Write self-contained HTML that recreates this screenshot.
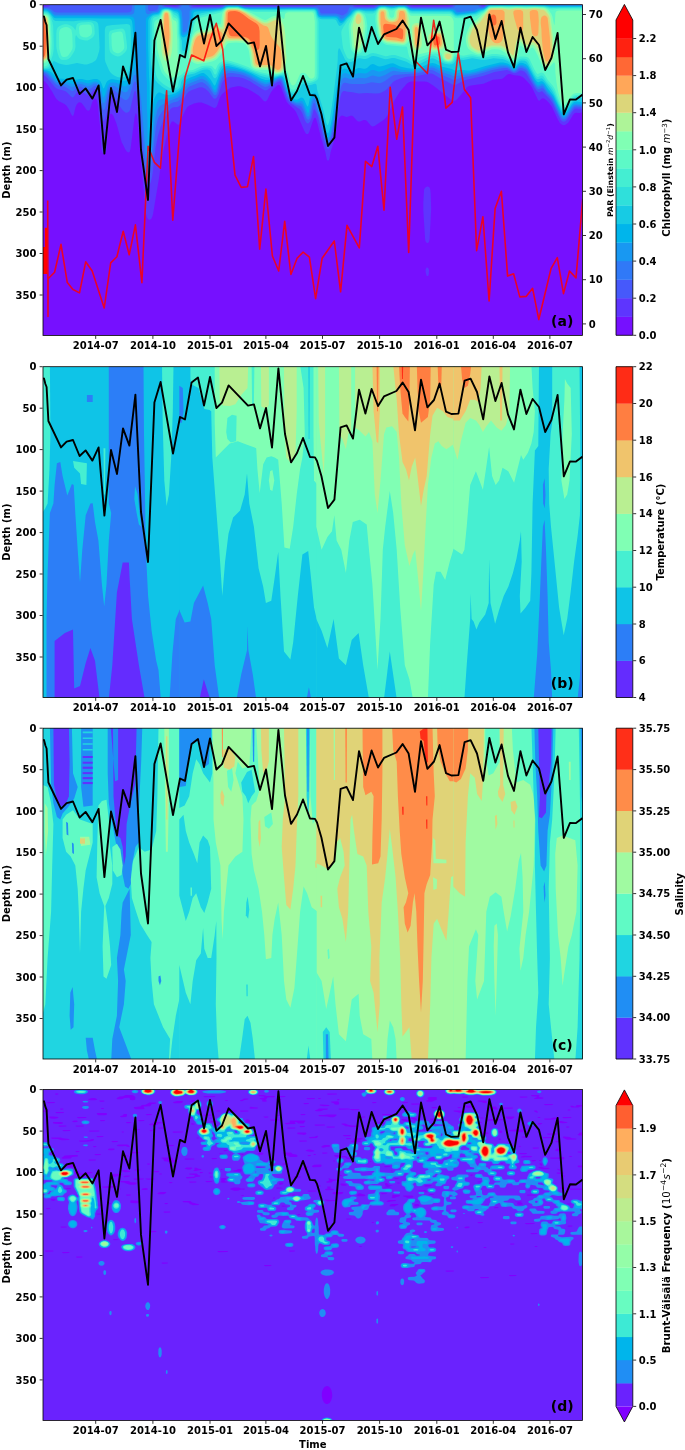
<!DOCTYPE html>
<html><head><meta charset="utf-8"><title>Figure</title>
<style>html,body{margin:0;padding:0;background:#fff}svg{display:block}text{font-family:"DejaVu Sans","Liberation Sans",sans-serif;font-weight:bold;fill:#000}</style></head>
<body>
<svg width="685" height="1450" viewBox="0 0 685 1450">
<rect width="685" height="1450" fill="#fff"/>
<defs>
<clipPath id="cpa"><rect x="43.0" y="4.7" width="539.6" height="330.8"/></clipPath>
<clipPath id="cpb"><rect x="43.0" y="366.7" width="539.6" height="330.8"/></clipPath>
<clipPath id="cpc"><rect x="43.0" y="728.2" width="539.6" height="330.8"/></clipPath>
<clipPath id="cpd"><rect x="43.0" y="1089.6" width="539.6" height="330.8"/></clipPath>
</defs>
<g clip-path="url(#cpa)" shape-rendering="geometricPrecision">
<rect x="43.0" y="4.7" width="539.6" height="330.8" fill="#7610ff"/>
<path d="M149.5,219.7L148.1,219.2L147.1,217.7L146,213.7L145.3,210.2L144.1,193.7L141.3,166.2L138,124.3L137.2,117.2L136.5,114L136,113.2L135.5,113.6L134.5,117.6L130.5,149.2L129.7,151.7L128.5,152.4L127,151.7L125.8,150.2L121.7,142.2L116.5,123.7L113.5,115.9L112,113.9L111,113.7L110,114.5L109.2,116.7L108.6,120.7L107.8,129.7L107.1,144.2L106.5,150.2L105.9,152.2L105,153.7L104,154.1L103,153.6L101.9,151.7L101.4,149.2L100.1,126.2L99.3,120.2L98,106L97.2,101.2L96.5,99.2L96,98.7L95,98.4L93.4,99.7L92.2,102.2L90.1,109.2L89.5,110.2L88.5,110.8L87.5,110.6L86.5,109.8L83,104.7L81.5,103L80,102.2L78.5,102.5L77,104.1L75.9,106.2L75.1,108.7L73.9,114.2L73.2,115.7L72.5,116L71.5,114.8L68.9,109.2L66.6,105.7L64.5,103.9L59,101.2L56.6,99.2L55.2,97.2L51.9,91.2L47.5,84.5L45.1,81.7L43,80.2L42.6,68.2L42.6,38.2L42.6,11.2L43,5.4L46,5.2L47.1,4.7L54.5,4.5L161,4.4L174,5.4L176,5.2L177,4.7L179,4.5L187,4.4L193.1,4.7L195,5.3L198.5,5.4L218.5,5.3L220.5,5.2L222.4,4.7L229.5,4.4L239.5,4.5L248,4.9L279,4.9L311,4.9L320,4.5L350.5,4.4L355.3,4.7L357,5.3L365.5,5.4L373,5.3L375.6,4.7L382,4.5L405.5,4.5L409.4,4.7L411.5,5.3L414.5,5.4L448,5.4L450,5.2L451,4.7L457.5,4.4L477.5,4.4L483.5,4.7L491.5,4.4L582,4.4L582.3,4.7L582.4,93.2L582.3,105.2L582,112.6L579.5,113L576,112.7L574.5,113.2L573,114.9L568.6,122.2L567,123.8L565.5,124.8L564,125.3L562.5,125.1L561,124.1L559.7,122.7L557.7,119.2L552,107.1L549.5,103.5L547,100.8L544.5,98.8L543,98.2L541.5,98.7L539.5,100.7L538.5,100.4L537.5,98.9L532,87.5L530,84.4L524,78.1L522,76.7L519.5,75.7L514,75.3L510,74L508.5,73.9L507,74.7L503.5,78.1L501.5,79.1L493,79.8L483.5,83.7L471,85.4L469,85.9L467.5,86.7L466.4,87.7L461,94.7L457,99.2L455.5,100.5L454,101L452.5,100.7L451,99.7L444,93.9L433.5,85.7L428.5,82.4L426.5,81.7L424.5,81.5L411,81.6L409,82.2L407,83.6L399.8,91.7L393.7,101.7L387.5,115.2L386,117.7L383.5,119.9L374.5,125.9L372.5,126.4L371,125.8L367,121.1L366,120.3L365,119.9L363.5,120L360,121.5L358,121.4L356.5,120.3L353.5,116.8L352,115.8L350.5,115.8L347,117L345.5,116.8L343,115.7L342,115.6L341,115.9L340,116.7L339,118.2L338.3,120.2L334.9,137.7L330.6,152.2L329.5,158.3L329,159.8L328.5,160.6L328,160.8L327.2,160.2L326.6,158.7L325.4,152.2L321.2,138.2L317.5,123.4L316,118.7L315.5,117.9L315,117.7L314,118.6L313,120.8L309,132.4L308,133.9L307.5,134.1L306.5,133.9L305.5,132.9L304,130.2L295.9,111.7L293.6,108.7L288.2,103.7L286.4,101.2L281,87.3L279.5,85L278.5,84.8L277.5,85.2L273.5,88.8L271,92.3L267.1,100.2L266,101.3L265,101.5L263.5,100.8L260,96.8L258.2,95.2L251,90.7L248,89.1L242.5,86.9L240,86.3L237.5,86.3L232.5,87.2L230.5,87.8L228.5,88.9L223,93.2L221.5,94.7L220,97.3L216.9,106.2L215.5,107.8L214.5,108L213.5,107.8L207.5,104.7L201.5,102.5L198.5,102.4L194,103.6L189.5,105.4L188,106.5L186.9,107.7L185.4,110.2L181.9,117.2L180.9,119.7L180,123.2L179,124.7L178.5,124.8L177.5,124.5L173.5,121.5L172,121.6L171,122.7L170,125.2L166.6,136.2L163.4,150.2L160.9,164.2L158.9,178.7L153.1,213.7L152.3,216.7L151.6,218.2L150.5,219.4ZM428,242.9L427,242.9L426,242L425.4,240.7L425.1,238.7L423.3,210.2L423.3,202.7L424,190.2L424.4,188.7L425.2,187.7L426.5,186.8L427.5,186.6L428.5,186.7L429.3,187.2L429.9,188.2L430.3,189.7L430.7,193.7L431.2,208.7L429.6,239.2L429,241.7ZM428,275.9L427,275.9L426.5,275.4L425.7,272.2L425.6,270.2L425.8,268.7L426.4,267.7L427,267.4L428.1,267.7L429,269.7L428.9,273.7L428.5,275.2Z" fill="#5e35fe" fill-rule="evenodd"/>
<path d="M149,185.7L148.5,186.1L148,186L147,184.5L145.5,179.1L144.5,173.2L142.8,157.7L138.8,109.7L137.5,100.2L136,92.5L135.5,91.1L135,90.8L134.5,91.4L134,92.8L130.1,109.7L129,111.7L127.5,112.6L126,112.7L125,112.3L122.7,110.2L120.5,107.2L116.4,100.2L114,97.2L113,96.4L112,96L111.2,96.2L110.5,96.7L109.5,99L107.8,109.2L106,116L104.5,120.3L104,120.9L103.5,121L102.6,119.7L102,117.4L98.9,98.7L97.5,92.4L96.9,90.7L96,89.4L95,89.1L94,89.5L90.1,94.2L88.5,95L86.5,94.5L81.5,90.9L80,90.4L79,90.5L77,91.9L74,96.4L73.5,97L72.5,97.4L71,96.6L67.9,93.2L65.5,91.3L63.5,90.5L57.5,89L55,87.3L47,77.7L44.8,75.7L43,74.7L42.6,67.7L42.6,37.7L42.6,13.2L43,6.9L48.2,6.7L49.5,6.1L50.4,4.7L53.5,4.6L161,4.6L163.6,4.7L164.6,5.7L166,6.2L175,6.9L178,6.5L179,5.8L179.5,4.7L187.5,4.5L190.6,4.7L191.5,6.1L193,6.8L198,7L220,6.7L222,6.3L225.8,4.7L229,4.6L239.9,4.7L244,5.9L247,6.3L279,6.3L313.5,6.2L316.5,5.8L318,4.7L350.5,4.6L352.7,4.7L353.5,6.1L355,6.7L367.5,6.9L374,6.8L378.5,4.8L381.5,4.6L406.1,4.7L410.7,6.7L415.5,6.9L450,6.9L452.5,6.2L453.5,4.7L457,4.5L479.5,4.6L480.3,4.7L481,5.9L482.5,6.5L484.2,6.2L486.4,4.7L490,4.5L582.2,4.7L582.4,11.2L582.4,91.2L582,108.9L576.5,108.5L575.5,108.6L574.5,109.1L572.5,111.4L567.5,119.1L566,120.7L565,121.4L563.5,121.7L562.5,121.4L561.5,120.7L560.3,119.2L558.4,115.7L552.5,103.3L550,99.4L542.5,91.4L541.5,91.3L539,92.4L538,92L537,91.2L535,88.5L526.5,73.9L524.5,71.8L522.4,70.7L521,70.4L520,70.5L516.5,72.8L514.5,73.3L512.5,72.8L509,70.8L507,70.1L505,70.3L494.5,72.1L483,75.9L466.5,79.7L461.5,81.7L456.5,84.5L454.5,85L452.5,84.5L446.4,81.2L440.5,78.5L433,74.1L431,73.5L428.5,73.4L422,74.9L416.5,75.9L406.5,76.7L401,78.2L397,79.7L394.5,80.9L392.7,82.2L387.5,88.5L385.7,90.2L382.5,92L379.5,93.2L375.5,93.4L366.5,93L359,93.4L352.5,92.2L347.5,91.7L344.5,91.1L343.5,91.1L342.5,91.7L341.5,93.1L340.5,96.3L337.7,113.2L332.8,136.7L329.7,146.7L329,148.2L328,149.1L327.5,148.9L326.5,147.5L324.3,141.7L318,116.7L317,113.9L315,110L314.5,109.3L314,109.4L313.5,110.3L311.7,117.7L310,121.7L308.5,123.3L307.5,123.4L307,123.2L306,122.2L305.1,120.7L302,112.6L300.5,110L299.5,109.1L291,103.6L289.5,102.2L288.3,100.7L286.6,97.2L282,84.7L281,82.7L280,81.6L279,81.4L277.1,82.2L272.7,85.2L268,89.5L266.5,90.3L265,90.4L262.5,89.3L250.5,81.6L244,78.6L241.5,77.8L239,77.3L232,76.7L229,76.8L227,77.5L225.5,78.6L224,80.1L222.5,82.2L221.5,84.5L218.9,93.7L217.5,96.6L216,98.5L214.5,98.8L213.4,98.2L212,96.6L208.5,91.5L205,88.5L202,87.3L199,87.5L191.3,90.2L188.6,91.7L186.5,94.2L181.7,102.7L179.5,105.9L177.5,107.1L174,107.2L172.5,107.5L171,108.6L169.2,110.7L165.5,116.4L162.5,122.2L160.5,127.2L158,135.4L155.5,148.1L153.4,167.2L152.2,176.2L150.9,181.7L150,184Z" fill="#4659fb" fill-rule="evenodd"/>
<path d="M148.5,175L148,175L147.5,174.6L147,173.7L146.1,170.7L145.5,167.2L143.7,150.7L139.8,104.2L137.6,88.2L137,85.3L136,82.5L135,81.4L134.5,81.6L134,82.3L133,84.8L129.5,96.7L128,99L126.5,99.9L125,100L123,98.9L121.1,97.2L117.5,93.2L114.5,90.6L112.5,89.8L110.9,90.2L109.7,91.7L108.5,94.6L105.6,106.7L105,108.5L104,109.9L103.5,110L103,109.5L102,107.1L101,102.9L98.6,89.7L97.6,87.2L96.5,86L95.5,85.7L94,86L90,89.1L88,89.8L86.5,89.4L81.5,86.9L80,86.6L79,86.6L77,87.6L73.5,90.7L72,91L71,90.6L66,87.2L64,86.5L58,85.5L55.5,84.1L47.4,75.2L45.4,73.7L43,72.8L42.7,67.2L42.6,37.7L42.6,15.7L43,7.9L47.5,8L49.5,8.4L51,9.2L54,11.7L56.5,12.4L127.5,12.4L130,12.1L131.2,11.2L131.8,9.2L131.9,4.7L148.1,4.7L148.1,8.2L148.5,10.2L149,11L150,11.3L155.5,10.6L157,9.9L158,8.2L158.9,4.7L161.3,4.7L162.8,6.2L164.5,6.8L176,8L179,7.7L180.3,7.2L181.2,6.2L181.6,4.7L188.6,4.7L189,6.2L190,7.3L191.5,7.9L194,8L219,7.7L222,7.2L225.5,5.6L227,5.2L236.5,5L239.5,5.3L244.5,6.8L248,7.1L315.5,7.2L317.5,7.6L318.5,8.3L319.2,9.2L320.5,12.7L321.5,13.4L323.5,13.6L336,13.6L338,13.9L341.5,15.3L342.5,15.4L344.5,14.6L346.9,12.7L347.8,11.2L349,8.2L350,7L351,7L355,7.8L373,7.9L375,7.5L379,5.4L381.5,5.1L391.5,5.6L399.5,5.1L404,5.1L406.5,5.6L410.5,7.6L412.5,7.9L448,7.9L453.5,7.5L454.8,6.7L455.6,4.7L456.5,4.7L478.3,4.7L478.5,5.7L479.2,6.7L480.5,7.4L482,7.6L484.1,7.2L487.9,4.7L489.5,4.6L582,4.7L582.3,11.2L582.3,88.7L582,107.1L576.5,106.4L574.5,106.8L572.5,108.9L567,117.3L565.5,118.9L564.5,119.5L563.5,119.6L562.5,119.3L561,117.7L559.3,114.7L552,99.4L550.5,97.4L546.5,93.2L543.5,88.8L542,87.9L539.5,88.9L538.5,89.1L537.5,88.7L536.5,87.8L533.7,83.7L527.2,71.7L525.5,69.8L523,68.4L521,68L519.8,68.2L518.5,69L516,71.3L514,71.9L512.5,71.4L509,68.9L507,68.1L504,68L499,68.7L492.5,70L477.5,74.6L469.5,76.3L461.5,77.6L456.5,79.6L455,79.9L453,79.5L442,75.1L433.5,70.5L432,70.1L430,70.1L427.5,70.6L421.5,72.5L416,73.6L407,74L394,74.9L391.5,76.2L385,81.1L382,82.5L379.5,83.2L377.5,83.1L372,82.2L364,83.9L352.5,84L349.5,83.8L345.5,82.8L344.5,82.8L343.5,83.1L342.5,84.1L341.5,86.1L339.3,93.7L335.7,116.2L331.8,135.2L329.5,142.3L328.5,143.9L327.5,144.1L326.3,142.7L325,139.6L319.5,117.2L316.7,109.2L315.2,104.2L314.5,103L314,103L313.5,103.6L312.5,106.2L310.9,115.2L310.1,117.7L309,119.4L308.5,119.7L307.5,119.6L306.5,118.6L305.7,117.2L303,109.6L301.5,106.8L300.5,106L297,105.2L294,103.8L291,101.9L289.4,100.2L287.7,96.7L282.5,82.8L281.5,80.8L280.5,79.8L279.5,79.6L278,80L272.4,83.2L268,86.3L266.5,86.8L265,86.9L262,85.6L250,78.2L244,75.4L239,74.1L232,73.1L228.5,73L227,73.4L225.5,74.3L223.5,76.3L222,78.5L220,83.6L217.9,91.7L217,93.8L216,95L215,95.3L213.5,94.5L208.5,86.9L205.2,83.7L202.5,82.3L201,82.2L199.5,82.6L190.1,86.2L188.3,87.2L186.5,89.2L181.5,97.4L179.5,100L177.5,101.4L173,102.5L170.5,103.7L167.5,106.2L161.7,112.2L160,114.7L158.5,117.6L157.5,120.5L156.5,124.7L155.5,130.5L154.3,142.2L151.1,167.2L150,172.4L149.2,174.2Z" fill="#3079f7" fill-rule="evenodd"/>
<path d="M148.5,165.7L148,165.8L147,162.6L145.5,151.7L141.3,101.2L138.3,81.2L137.5,77.7L136.5,75.7L136,75.1L135,74.8L134,75.5L133.5,76.2L129.1,88.7L127.5,91.3L126,92.3L124.5,92.3L123,91.7L117,87.4L114.5,86.1L112,85.7L110,86.6L109,87.9L108,90.1L105,101.3L104.3,102.7L103.5,103.2L102.7,102.2L102,100.3L99.3,87.2L98,84.7L96.5,83.6L95.5,83.4L94,83.6L89.5,86.1L88,86.4L86.5,86.1L81.5,84.1L79,83.9L77,84.6L74,86.6L72.5,87.1L71,86.8L66,84.2L58.5,83.1L56,82L47.9,73.7L45.5,72.3L43,71.7L42.7,66.7L42.7,38.2L42.7,17.2L43,8.7L46.5,8.9L48.5,9.4L50,10.4L54,14.2L55.5,14.7L58.5,14.8L131,14.7L133,14L133.8,13.2L134.2,12.2L134.5,9.7L134.6,4.7L145.4,4.7L145.5,9.7L145.8,12.2L146.7,13.7L148,14.2L149,14L152.5,12.6L157.5,11.8L158.5,11L160.5,8.1L162,7.4L168.5,7.7L174,8.7L178.5,9.1L180.5,9.8L181.3,10.7L181.8,12.2L182.6,20.2L182.8,30.7L183.3,32.2L184,32.5L185,32.3L186,31.6L186.7,30.7L187.3,29.2L189.5,17.9L189.5,11.7L189.8,10.7L190.7,9.7L192.1,9.2L194.5,9L210.5,8.8L220,8.3L222.5,7.7L226,6L228.5,5.6L238,5.7L244.5,7.4L248.5,7.8L314.5,7.8L316.5,8.4L317.5,9.2L318.3,10.7L319.2,13.7L320.5,15L322.5,15.3L336.5,15.4L338.6,16.2L341,18.4L342,18.8L343.5,18L348.5,13.7L350.7,10.2L352,9.1L358.5,8.4L365,8.8L373.5,8.7L375.5,8.1L379,6.1L381.5,5.6L391.5,6.3L399.5,5.6L404,5.7L406.5,6.3L410,8.3L412.5,8.7L452,8.9L454.5,9.5L456.9,11.7L458.5,12.1L472.1,10.7L474.5,10.2L478,8.5L483,8.4L484.5,7.8L488,5.3L490.3,4.7L539.3,4.7L551,5.3L582,5.3L582.3,8.7L582.3,18.7L582.3,91.7L582,105.7L576,104.9L574,105.5L572,107.6L566.5,116L564.5,117.8L563,117.8L561.4,116.2L558.7,111.2L552.9,98.7L551.1,96.2L547.3,92.2L543.7,86.7L543,86L542,85.6L539,86.8L538,86.8L537,86.2L535.7,84.7L534.1,82.2L527.5,69.8L525.5,67.9L522.5,66.6L521,66.3L519.5,66.6L518.5,67.2L515.5,70.2L514,70.7L512.5,70.2L509.5,67.8L507.5,66.7L504,66.2L500.5,66.4L492,68.2L475,73.3L468.5,74.6L461,74.9L455.5,76.5L454,76.4L450,74.7L442.5,72.3L434.5,68.3L432,67.6L428.5,68.2L419,71.4L414.5,72.2L401.5,72L393.5,70.7L391,71.5L385,75.1L380,76.7L378,76.7L374,75.7L372.5,75.6L371,75.9L367,77.8L365,78.3L358.5,77.8L352,79.2L350,79L345.5,77.5L344,77.7L343,78.3L342,79.6L341,81.7L339.5,86.7L337.5,96.9L334.1,119.2L331.2,133.2L330,137.4L329.1,139.7L328.5,140.6L327.5,141L326.5,139.9L325.5,137.4L320.8,117.7L317.5,108.1L316,101L315,99.2L314.5,99L313.5,99.5L312.5,101.3L311.5,105.1L309.7,114.7L309,116.3L308,116.8L307.2,116.2L306.5,115.1L303.5,106.8L302,104.1L300.5,103.3L297.5,103.6L295.5,103.1L292,101.3L290,99.2L286.4,91.2L282.9,81.2L282,79.5L281,78.5L280,78.3L278.5,78.6L268,84.1L265.5,84.5L264,84.1L261.5,83L250.3,76.2L244,73.3L240.5,72.2L235.3,71.2L228,70.4L226.5,70.8L225,71.7L223,73.8L221.5,76L219.5,81.1L217,90.5L216.4,91.7L215.5,92.6L214.5,92.6L213.5,91.8L209.5,84.8L206.5,81.3L203.5,79.2L202,78.8L200.5,79L190,83.2L187.5,84.7L185.5,87.1L181,94.4L179.5,96.3L178,97.5L169.8,100.7L161.5,105L159.4,106.7L157.5,110L155.3,118.2L154,127.7L152.9,141.7L152,149.5L150.5,158.6Z" fill="#1898f2" fill-rule="evenodd"/>
<path d="M149.5,149.5L149,149.5L148.1,147.2L147.6,141.2L147.4,116.7L146.9,108.2L146.9,84.2L146.4,76.7L146.3,53.7L145.9,45.2L145.9,20.2L146.3,18.2L147.5,16.9L152.5,13.8L157,13.1L158.2,12.7L159.3,11.7L160.9,9.2L162,8.5L164.5,8.1L169,8.3L174,9.6L177.9,10.2L179.3,11.2L180.3,13.7L181.1,19.2L181.5,32.8L182.3,34.7L183.5,35.2L185,34.7L186.5,33.8L187.5,32.8L188.4,31.2L191.2,18.2L191.5,12.2L191.9,11.2L192.5,10.6L195,10L208.5,9.7L220,9L222.5,8.3L226,6.5L228.5,6.1L238,6.2L244.5,8L249.5,8.4L314,8.4L315.5,8.8L316.8,9.7L317.4,10.7L318.5,14.6L319,15.3L320,16L322,16.4L334,16.4L336.5,16.7L338,17.4L340,20.2L340.5,20.7L341.5,21L342.5,20.8L343.5,20.1L346.1,17.2L350,13.8L352.2,10.7L353.5,9.9L358.5,9L365,9.6L373.5,9.5L375.5,8.9L379,6.6L381.5,6.1L384.5,6.2L391.5,6.9L399.5,6.1L404,6.2L406.5,6.8L410,9.1L412.5,9.6L451,9.7L452.5,10L453.5,10.6L456,13.2L458,13.7L474.5,11.9L479,9.7L483.5,8.9L485,8.1L488,5.9L491,5.1L535,5.1L544,5.3L551,5.9L582,5.9L582.2,18.7L582.2,91.2L582,104.3L576,103.4L574.5,103.7L573.5,104.2L571.5,106.4L566.5,114L564.5,116L563.5,116.1L563,115.9L561.5,114.2L559,109.6L553.2,97.2L551.5,94.9L548,91.2L544,84.8L543,83.9L542,83.5L541,83.7L538.5,84.9L537,84.2L534.5,80.7L528,68.5L526,66.4L523,65.1L521,64.7L519.5,64.9L518,66L515.5,68.8L514,69.4L512.5,68.8L509.5,66.3L507.5,65.3L504,64.6L501,64.6L491.5,66.6L484.5,68.5L477.5,70.9L470.5,72.5L467,72.9L461,72.5L455.5,73.7L454,73.4L450,71.8L442,69.6L434.5,66L432.5,65.5L429.5,65.9L419,69.8L413.5,70.7L409,70.6L401.5,69.7L399,69.1L394.5,67.3L392.5,67.1L390.5,67.6L385,70.1L380.5,71.6L378,71.5L374,70.1L372.5,69.9L371,70.3L367,72.9L365,73.5L358.5,72.9L353.5,74.8L351.5,75.1L350,74.8L346.5,73.3L345,73L343.5,73.5L342.5,74.3L341.5,75.7L340.5,77.8L338.5,85.2L336.7,95.2L333.5,116.8L330.5,131.6L329,136.4L328.1,137.7L327.5,137.8L326.5,136.3L325.5,133.1L321.7,116.7L318.3,106.7L316.8,99.2L316,97.1L315.1,96.2L314.5,96L313.5,96.4L312.5,97.5L311.9,98.7L310.8,102.2L309,111.7L308.5,112.8L308,113.1L307,112.1L304,104L302.5,101.5L301,100.8L298,101.8L296,101.8L293,100.5L291,98.7L287,90.6L283.3,79.7L282.5,78.3L281.5,77.5L280,77.2L278.5,77.6L268.5,82L267,82.4L265.5,82.4L261,80.7L251,74.8L244.3,71.7L235,69.2L229.5,68.2L227.5,68.1L226,68.5L224.5,69.5L222.5,71.7L221,73.9L218.9,79.2L216.5,87.9L215.5,89.8L214.5,89.9L213.8,89.2L209.9,82.2L207,78.8L205,77.1L203.5,76.3L202.5,76L201,76.1L190,80.5L187.5,81.9L185,84.7L180.5,92.1L179,93.7L177,95.1L173.3,96.7L168.5,98.3L165.5,98.9L160.5,99.2L158.5,100.3L157.5,101.6L156.5,103.8L154.7,109.7L153.3,118.7L151.4,142.2L150.5,147.4ZM104,96.9L103.5,97.1L103,96.7L102.5,95.5L100.8,87.7L99.8,84.7L98.5,82.7L97,81.7L95.5,81.4L94,81.5L89.5,83.3L88,83.5L81.5,81.7L79.5,81.5L77,82.1L73.5,83.7L71.5,83.7L66.5,81.8L59,81L57,80.4L55.3,79.2L51.1,74.7L48.5,72.5L46,71.2L43,70.8L42.7,58.7L42.7,38.2L42.7,17.7L43,9.5L46,9.7L48,10.2L50,11.8L53.5,15.6L54.5,16.2L56,16.4L129,16.6L132.5,17L133.9,18.2L134.3,19.2L134.6,21.2L135.2,35.7L135.4,64.2L134.9,67.7L132.5,72.6L129,82L128,84L126.7,85.7L125.5,86.4L124.5,86.5L123,86L118.5,83.7L116,82.8L113,82.4L110.5,82.8L109,83.9L107.5,86.2L105,94.8Z" fill="#00b5eb" fill-rule="evenodd"/>
<path d="M328,133.1L327.5,133L327,132.4L326,129.9L322.7,115.7L319.5,106.2L317.8,97.7L316.9,95.2L315.5,93.4L314.5,93L313.5,93.2L312.5,93.8L311.3,95.2L309.8,98.7L308.5,104.9L308,106.2L307.5,106.4L306.5,104.9L304.3,99.7L303.5,98.5L302.5,97.8L301.5,97.5L300.5,97.7L298,99.3L296.5,99.7L294.4,99.2L292.3,97.7L287.9,90.7L284,79L283.4,77.7L282.5,76.7L281,76.3L279.5,76.4L273.5,78.6L270,79.6L267.5,80.1L265.5,80L261.5,78.7L251.1,73.2L244.1,70.2L236,67.7L228,66L226.5,66L224.7,66.7L223,68.1L221.5,70L219.6,73.7L215.5,84.7L215,85.4L214.5,85.5L214,85.2L210.4,79.2L207.5,75.9L204.5,73.5L203.5,73.1L202,73L200.5,73.4L194.5,76L189,78L187,79.1L185.5,80.4L184.2,82.2L181.3,88.2L180,90.1L178,91.8L175.5,93.2L171.5,94.6L167.5,95.1L164.5,94.5L160,92.5L159,92.4L158,92.7L156.2,94.7L154.2,98.7L152.3,107.7L151.5,112.9L151,114L150.5,113.4L150.1,111.7L149.8,108.2L149.6,83.7L149.1,76.7L148.2,46.2L148.2,21.7L148.4,19.7L149.1,18.2L150.9,16.2L152.5,15L154,14.4L157,14.1L158.5,13.6L159.5,12.8L161.5,9.7L163,8.9L166,8.6L169,8.8L174,10.7L177.5,11.7L178.5,12.7L179,13.7L180.1,18.7L180.8,34.2L181.3,35.7L182,36.8L183.5,37.4L185,37L186.5,36.1L188,34.5L189,32.6L190.8,24.7L192.8,17.2L193.4,13.2L194,12.2L194.8,11.7L196,11.5L206.5,10.9L220.5,9.6L222.5,9L226,7L228.5,6.5L238,6.6L245,8.5L250,9L280.5,9.1L291,8.8L314,9L315.5,9.5L316.2,10.2L316.8,11.2L317.9,15.2L318.5,16.2L319.5,17L322,17.6L334,17.6L336,17.8L337.5,18.8L339.5,22.2L341,22.9L342,22.7L343.5,21.8L347,17.7L350.5,14.7L353,11.5L355,10.3L357,9.8L359,9.6L365.5,10.5L373.5,10.4L375.5,9.7L378.8,7.2L381.5,6.6L384.5,6.6L391.5,7.6L394,7.4L399,6.6L404,6.6L406.5,7.4L410,9.9L412.5,10.4L450.5,10.6L452.5,11.2L455.5,14.2L457.5,14.8L475,12.8L479.5,10.6L483.5,9.6L485,8.8L488,6.4L489.5,5.8L491,5.6L535,5.5L544,5.8L551,6.6L582,6.5L582.2,18.7L582,102.3L576.5,101.5L575,101.7L574,102.1L572,103.9L566.5,111.9L564.5,113.8L563.5,113.9L563,113.6L561,111.2L559,107.5L553.5,95.7L548.5,89.3L544.5,83.2L543,81.8L542,81.3L541,81.3L538.5,82.3L537,81.7L534.5,78.4L528,66.3L526,64.3L523,63.1L521,62.8L519.5,63.1L518,64.3L515.5,67.2L514,67.9L512.5,67.3L509.5,64.6L507.5,63.5L503.5,62.4L500,62.4L485.5,65.9L474.9,69.2L470,70.4L467.5,70.6L461,69.7L456.5,70.5L455,70.4L451,68.8L442,66.7L435,63.5L432.5,62.9L429.5,63.4L418.5,67.9L416,68.5L413.5,68.7L408,68.3L402,67.1L399.4,66.2L395,63.9L393,63.3L390.5,63.6L383.5,65.8L380,66.6L378,66.3L374,64.3L372.5,64.1L370.5,64.8L367,67.9L365,68.8L363.5,68.8L360,68L358.5,68.1L357,68.5L353,70.7L351.5,71L350,70.7L346,68.7L344.5,68.6L342.5,69.5L340.9,71.2L339.5,74.2L338.1,79.2L336.7,87.2L332,118.4L329.5,129.9L328.5,132.5ZM104,88.3L103.5,88.5L103,87.8L101.6,83.7L100.3,81.2L99,80L97,79.1L94,79L88.5,80.3L87,80.2L82,79L79.5,78.9L72.5,80.4L66,78.9L59,78.4L56.5,77.4L52,72.8L49.7,71.2L46.5,70.2L43,70L42.7,38.2L42.7,18.2L43,10.4L46,10.6L48,11.3L50.2,13.2L53.5,17.3L54.5,17.9L56,18.2L90.5,18.2L102,18.6L128,18.6L130,18.8L131.3,19.7L132,21.2L132.5,24.7L133.1,34.2L133.1,61.7L132.5,66.2L129.5,75.2L127.5,78.9L126.5,79.9L125,80.7L123.5,80.8L120.5,80.6L113,79.3L111,79.3L109,79.9L107.5,81L106.5,82.2Z" fill="#17cbe4" fill-rule="evenodd"/>
<path d="M328,124.9L327.5,125.2L327,124.7L326,122L322.8,108.2L317.1,89.7L316.6,85.2L316.1,84.2L315.5,83.8L314.5,83.8L311,84.9L309,85.2L307.5,85L304.5,83.7L303,83.7L302,84.7L298.8,90.7L297.3,92.7L295.5,93.9L293,93.9L290.5,92.5L288.5,90L287.5,87.5L284.5,77.3L283.5,75.9L282.5,75.4L280,75.5L271.5,77.7L269,77.8L266,77.4L259.5,75.6L248.7,70.7L241.5,67.9L230,64.5L226.5,64L225,64.3L223.5,65L221,67L219.8,69.2L217,76.5L215.5,78.3L214.5,78.3L213.3,77.2L210.9,71.7L209.7,70.2L207.5,69.6L203.5,69.7L201,70.4L194.5,73.5L188.3,74.7L186.3,75.7L183.7,78.2L181.7,80.7L181.1,82.2L180.3,86.2L179.5,87.9L178.3,89.2L176.6,90.2L173.5,91.2L171,91.3L168.5,90.5L164,88L161.5,86.2L157.5,82.8L155,79.7L153.3,74.7L151,64.2L150.4,58.2L150.2,23.2L150.5,19.7L151.4,17.7L152.5,16.4L153.5,15.7L157.5,15.1L159,14.4L160,13.4L162,10.2L163,9.5L164.5,9.1L167.5,9.1L170.3,9.7L174,12.2L176.5,13.3L177.5,14L178.5,15.8L179.5,20.2L179.9,33.7L180.3,36.2L181.9,40.7L182.2,49.2L182.5,50.4L183.5,51L184.5,50.8L185.3,50.2L186.4,48.2L188.1,38.2L190.2,32.2L191.8,24.2L194,18L195.5,15.5L197.5,14.3L202,13.1L221,10.2L222.5,9.6L226,7.5L228,7L238,7L245,9L251,9.7L280.5,9.7L290,9.4L313.5,9.5L315,10.1L315.7,10.7L316.2,11.7L317.5,16.2L318.5,17.7L319.5,18.5L320.5,19L322,19.2L333,19.2L335,19.5L336.1,20.2L338.5,25.1L339.5,26L341,25.5L344,23L347.5,18.6L351,15.6L354,11.9L355.5,10.9L357,10.4L359,10.2L366,11.6L373.5,11.6L375.5,10.7L378.9,7.7L381.5,7L385,7.1L389,8L391.5,8.2L394,8.1L399,7.1L404,7.1L406.5,7.9L410,10.8L412,11.3L450,11.5L452,12.2L455,15L456,15.5L457.5,15.7L471.5,14.3L475.5,13.7L479.5,11.7L484,10.1L488.5,6.6L491,6L526.5,6.1L535,6L544,6.3L551,7.2L582,7.1L582,98L577,98.1L575.5,98.5L574.5,99.2L571.5,102.5L566.5,109.7L564.5,111.5L563,111.4L562,110.6L561,109.2L558.5,104.3L555,96.2L553,92.4L551,89.3L544,80.3L542.5,78.7L541.5,78.2L538,79.3L537,79L536,78.2L533.5,74.3L528,63.7L526.5,61.7L524.8,60.7L521.5,60.4L519.5,60.9L518,62.2L515.5,65.4L514,66.1L512.5,65.4L510,62.8L508,61.3L505,59.8L502.5,59.1L493.5,58.2L486,59.8L483.5,60L481,59.8L474,58.4L472,58.3L463.5,60L457,59.2L456,59.9L454.7,62.2L453.5,63.5L451.5,64.3L449.5,64.4L446,64.1L444,63.6L434.5,58.7L432,58.2L429.5,59L417.5,65L414.5,65.7L412,65.1L406.4,61.7L394.5,58L392,57.9L387.5,59.1L385,59.2L376.5,56.6L373.5,56L371.5,56.3L367.5,58.5L365.5,59.1L363.5,59L360,58.2L358.5,58.3L357,58.9L352.5,61.6L351,62.1L349,62.2L347,61.6L345.1,59.7L340,49.1L339.5,48.4L339,48.3L338.5,49.1L337.9,51.7L337.7,60.7L337.2,66.2L333,98.8L330,118.2L329,122.4ZM49,68.8L43,69.1L42.8,37.7L43,11.3L46.5,11.7L48.5,12.8L50.4,14.7L53.5,19.8L54.5,20.6L55.5,21L73.5,21.2L80,20.5L90,20.2L94.5,20.9L96,21.4L97.2,22.2L98.1,23.7L98.6,26.7L99.6,47.7L99.1,51.2L97.3,57.2L96.4,59.2L95.3,60.7L92.5,62.5L87,64.6L84.5,64.6L79.5,63.4L77,63.1L68.5,64.7L66,64.9L63,64.5L59,63.4L54,61L53,61.7L51,67.2L50.2,68.2ZM124,77.3L121,77.6L118,77.2L114.6,75.7L112,73.9L110.3,72.2L109,70.2L105.5,62.2L104.9,59.7L104.8,57.2L104.8,30.2L105.4,27.2L106.3,26.2L107.4,25.7L112.5,25L127,24L129,24.4L129.9,25.2L130.3,26.2L130.6,28.2L130.9,36.2L130.9,58.2L130.7,62.2L129,69.5L127.5,74.1L126,76.2Z" fill="#2fe0db" fill-rule="evenodd"/>
<path d="M564,109.7L562.5,109.2L561,107.1L558.5,102L554.3,91.7L552,87.7L547,82L543.5,76.7L542.5,75.7L541,75.4L538,76.9L537,76.7L536,75.8L533.5,71.7L528.5,61.3L527.5,60L526,58.9L522.5,58.5L519.5,58.9L518,60L515.5,63.3L514,64.1L513,63.7L509,60.1L505.5,58L503,57.1L497,56.3L492.5,56.1L486,57.6L483.5,57.9L480,57.5L472.5,56.2L470,56.4L463.5,57.8L461.5,57.7L457,56.9L456,57L455.2,57.7L453.7,60.7L452.5,62.1L451,62.7L448.5,62.9L446,62.6L444.5,62.1L442.9,61.2L439.5,58.4L437,56.9L434.5,55.8L432.5,55.6L428.7,56.7L416.5,62.5L414,63L411.5,62.1L408,59.6L406,58.5L395,55.1L392,54.9L387.5,56.1L385.5,56.2L376,53.4L373,52.9L370.5,53.5L366,55.8L364.5,56L360.5,55.6L357.5,56L355.2,56.7L351.5,58.7L349.5,59.1L348,58.5L346.9,57.2L344.5,52.1L343.3,48.7L342.6,45.2L341.4,34.2L341.3,32.2L341.7,30.2L343.5,26.7L348.4,19.7L351.5,16.5L354.4,12.7L356,11.5L357.5,10.9L359.5,10.9L367,13.4L373,13.5L375,12.5L378.5,8.5L380,7.7L381.5,7.5L385,7.6L389.5,8.8L391.5,9L394,8.8L399,7.5L404,7.5L405.5,7.9L406.5,8.5L410,11.9L412,12.4L449.5,12.6L451.5,13.2L455,16.2L457.5,16.7L471.5,15.3L476,14.6L483.5,11.1L488.5,7.1L491,6.4L508.5,6.6L516,6.4L526,6.6L535,6.4L544.5,6.8L549.5,7.9L551.5,8L582,7.9L582,96.2L576.5,96.3L574.2,97.2L572,99.7L566,108.3L565,109.3ZM294.5,91.8L293,91.8L291.5,91.4L290,90.3L289.2,89.2L288,86.1L285.5,76.6L284.8,75.2L284,74.5L282,74.4L276,75.7L272.5,76.2L270,76.2L267,75.6L259,73.6L245.5,68L237.5,65.1L229.5,62.7L227,62.3L225.5,62.4L223.5,63.1L221.5,64.2L220,65.4L218.9,67.2L216.5,73.6L215.5,74.6L215,74.6L214.4,74.2L212.2,69.7L210.5,68L207.5,67.5L204.5,67.5L202.5,67.9L194,71.8L188,72.7L186,73.4L184.4,74.7L179.5,79.7L178.7,81.7L178,85.7L177,87.2L175,88.2L173,88.6L171.5,88.5L169.4,87.7L163.5,84.2L159.5,80.7L157.7,78.7L156.4,75.7L153.5,64.3L152.7,58.7L152.3,39.7L152.2,23.2L152.5,20.2L153,18.6L154.4,17.2L157.5,16.5L159,15.8L160.4,14.2L162.3,10.7L163.5,9.9L165,9.6L168,9.6L170,10.2L171.4,11.2L174,14.4L177,16.2L178.3,18.7L178.9,21.7L179.1,33.7L180.3,40.7L180.6,51.2L181.4,53.2L182,53.6L183,53.7L184.5,53.2L186,52.3L187,51.2L187.4,50.2L189.8,37.7L193,23.9L194.5,20.1L195.6,18.2L197,16.8L199,15.9L209.5,13.2L221,11L222.5,10.3L226,7.9L229,7.3L238,7.4L245.5,9.6L252,10.5L280,10.6L288.5,10.1L310,10.1L313,10.2L314.5,10.6L315.6,12.2L316.6,16.2L318.3,20.2L318.6,22.2L318.7,73.2L318.4,77.7L317.7,79.2L316.5,80.4L313.5,81.9L310.5,82.9L308,82.9L304,81.1L303,81.1L302,81.5L300.5,83.2L296.7,90.2L295.5,91.3ZM46.5,67.8L43,68.2L42.8,37.7L43,12.3L47,13L48.5,13.9L49.5,14.9L50.7,17.2L52.4,22.2L53.2,26.2L53.8,44.7L53.7,48.7L53.3,52.2L52.7,55.2L51,60.2L49.7,65.2L48.5,66.9ZM66.5,59.8L63,60.1L61.5,59.8L60.5,59.2L59,57.2L57.3,52.2L56.3,46.7L56.3,33.2L56.7,29.7L57.6,27.7L59.2,26.2L62,24.9L64.5,24.2L67,24.2L69.5,24.9L72,26.2L73.7,27.7L75.5,30.3L76.5,25.2L77.1,24.2L78.5,23.2L81,22.6L88.5,22.1L91,22.3L92.5,22.9L93.9,24.7L94.4,27.2L94.7,33.2L94.4,34.7L93.7,36.2L92,37.9L89.5,39.6L87.5,40.4L85.5,40.6L82.5,40L79.5,38.9L78,37.7L76,35.1L75.5,36.4L75.2,38.7L75.5,46.7L74.8,50.2L73.2,53.2L70.5,57.2L68.5,59ZM119.5,56.3L117.5,56.4L114.5,55.4L112,54.1L110.3,52.2L109.6,50.2L109.2,46.7L108.7,34.7L109.2,32.2L110,31.1L111,30.4L114.5,29.4L121.5,28.5L123,28.8L124,29.5L125.2,31.7L126.8,43.2L127.1,47.7L126.5,50.2L125.1,52.2L122,54.9Z" fill="#44eed2" fill-rule="evenodd"/>
<path d="M564.5,107.7L563.5,107.8L563,107.6L562,106.5L561,104.7L559,100.4L554.9,89.2L553,85.9L548,80.3L544.7,74.7L543.5,73.3L542.5,72.7L541.5,72.5L540.5,72.7L538,73.9L537.2,73.7L536.5,73.1L534.5,69.8L529.9,59.7L528.5,57.9L527,57L524,56.4L520,56.6L518,58L515.5,61.2L514,62L512.5,61.3L507.5,57.3L505,55.7L502.5,54.9L497,54.1L492,54.1L485.2,55.7L482,56L478.5,55.8L473.5,54.5L471.5,54.2L469.5,54.4L463.5,55.7L457,54.7L455.5,55.2L454.5,56.2L453,59.7L452,61L450.5,61.8L448.5,62L446,61.6L444.1,60.7L442.7,59.2L440.5,56.1L438.5,54.3L436.5,53.5L434.5,53.4L430.5,53.9L421,56.7L418.5,57.7L414.5,60L412.5,60.1L411.5,59.7L410.5,58.8L409.2,56.7L408.2,53.2L407.2,47.7L406.5,46.6L401.5,46.6L386.5,44.9L383.5,43.5L381,41.5L379.3,39.7L378.2,37.7L377.3,34.7L375.3,21.7L375.4,15.7L376.8,11.7L378.5,9.2L379.5,8.4L381,8L383.5,7.9L385.5,8.2L390,10.1L392,10.4L393.5,10.1L398.5,8.1L403.5,7.9L405,8.2L406,8.7L409.5,12.8L411,13.6L413.5,13.8L449,13.9L450.5,14.1L451.5,14.7L454,17L455.5,17.9L458,18.3L472,16.9L476.5,16L483.5,12L488.5,7.7L491,6.9L501.5,6.8L508.5,7.1L516.5,6.8L526,7.1L536.5,6.9L544.5,7.3L550,9.1L552,9.4L559,8.8L582,8.8L582,94.7L576,94.9L573.5,96L571.5,98.2L566,106.3ZM294.5,89.4L293.5,89.7L292,89.4L291,88.9L290,87.7L289,85.2L286.5,75.3L286,74.2L285,73.2L283.5,73.1L277.5,74.6L274.5,74.8L271,74.4L261.5,72.4L254,70.2L248,67.1L238.5,63.4L230.5,60.9L227.5,60.3L225.5,60.3L223.5,60.8L219.5,63L217.6,65.2L216,68.8L215.5,69.4L215,69.4L214.5,69L212,66.3L210.5,65.7L206.5,65.5L202,66L199.5,66.9L193.5,69.8L191.5,70.2L188,70.5L186,71L184,72.3L181,75.1L177.8,77.2L174,80.9L172.5,81.5L170.5,81.2L168.5,79.9L165,76.5L162.9,74.2L161.6,72.2L160.3,68.7L155.8,53.7L154.8,48.7L154.3,39.7L154,25.2L154.2,23.2L154.6,21.7L155.5,20.5L158,19.1L159,18.2L162.7,11.2L164,10.3L165.5,10L168.5,10.2L170.4,11.2L171.2,12.2L173.5,16.9L174.5,17.6L176,18.2L177,19.1L177.8,20.7L178.1,22.7L178.2,33.7L179.1,40.7L179.3,52.2L179.7,53.7L180.5,55.1L181.5,55.8L183,56L185,55.4L186.5,54.4L188,52.1L190.8,38.2L192.8,31.7L194,25.9L195.5,22.1L197,19.6L198,18.7L200.4,17.7L220.5,12.5L222,11.7L225.5,8.8L227,8L230,7.7L238,7.8L248.5,10.9L252,11.6L256,11.9L280.5,11.9L289,10.9L311,10.9L313.5,11.2L314.5,12L315,13.1L316.4,19.2L316.7,21.7L316.7,73.2L316.5,76.8L316,78.2L314.5,79.7L312.5,80.7L310.5,81.2L308.5,81L304,78.8L302.5,78.8L301.5,79.2L299.7,81.2L296,87.9ZM359,53.7L356.5,53.9L354.5,53.3L352.1,51.2L350.8,49.2L350,45.2L348.6,27.7L348.7,25.7L349.1,23.7L351.4,18.7L354.3,14.2L355.5,12.7L357,11.8L358.5,11.5L360.1,11.7L362.2,12.7L364.3,14.2L365.1,15.2L366.2,18.2L367.4,25.7L366.8,32.7L365.4,42.2L364.8,45.2L363.3,48.7L361.7,51.7L360.5,53ZM45.5,66.2L43,66.7L42.8,37.7L43,13.4L46.5,13.9L48,14.7L49,15.8L49.7,17.2L50.3,19.7L51.2,27.2L51.7,42.2L51.5,48.7L51.1,53.2L50.2,57.7L48,64.2L47,65.5ZM87.5,37.3L85.5,37.6L83.4,37.2L81,36.2L80.1,35.2L79.4,33.2L79,28.7L79.2,26.7L80,25.6L82.5,24.8L88.5,24.4L90.2,24.7L91.2,25.7L91.7,27.2L92,30.2L92,32.2L91.7,33.7L91.1,34.7L90.1,35.7ZM66,56.8L64.5,57.1L63,57L61.8,56.2L61,54.9L59.3,48.7L59.1,42.2L59.1,32.7L59.6,30.2L60.3,29.2L61.6,28.2L64,27.2L66,26.9L67.7,27.2L69.5,28.1L70.9,29.2L71.5,30.2L72.3,34.7L72.7,46.2L72.4,48.7L71,51.5L68.4,55.2L67.3,56.2ZM118.5,53.3L117,53.2L114.6,52.2L113.3,51.2L112.5,50L111.7,45.2L111.4,35.2L112,33.6L113.3,32.7L117.9,31.7L120.5,31.5L122,32.2L122.9,34.2L124.2,44.2L124.3,47.2L124,48.7L123,50.2L120.5,52.4Z" fill="#5df9c7" fill-rule="evenodd"/>
<path d="M564.5,104.9L564,105.1L563,104.6L561.5,102.1L559.5,96.8L558,91.1L556.4,82.2L555.4,72.7L555.1,64.2L554.5,62.4L553.5,62.6L550.5,66.1L548.5,67.6L546.5,68.3L544.5,68L543.3,67.2L542.2,65.7L537.5,54.9L535,50.3L533.5,48.2L532.8,47.7L532,47.6L528.5,49.9L526.5,50L525,49.3L521.5,45.9L520.5,45.5L520,45.7L519.5,46.7L518.2,53.7L517.3,56.2L515.5,59.2L514,60.2L513,60L511.1,58.7L506,53.6L504,51.9L501.2,50.2L499,49.4L494.5,49.2L491.5,49.6L487.3,51.2L482.5,53.7L480.5,54.3L478,54.2L475.2,53.2L471,50.9L468.4,48.7L467,46.2L466.1,42.2L465.7,38.2L466.1,35.2L468.7,28.2L470.6,24.7L472.5,22.9L477,19.6L480.9,15.2L485,11.7L488,8.7L489.5,7.7L491,7.4L501.5,7.3L508.5,7.7L516,7.3L526.5,7.7L534.5,7.3L543.5,7.8L545.5,8.2L547.5,9.2L548.7,10.2L551.2,13.7L552.3,16.2L554,24.5L554.5,24.9L554.9,21.7L555.4,13.2L555.7,12.2L556.5,11.2L557.7,10.7L560,10.5L582,10.5L582,92.9L576,93.1L574.5,93.4L573,94.1L570.8,96.2L566,103.3ZM294,85.2L292.5,85.4L291.5,84.8L291,84.1L290,81.4L288.1,73.7L287.3,71.7L286.3,70.7L285,70.8L282.5,72.2L280,73.2L278,73.7L276,73.9L273.4,73.2L270,70.8L268.5,70.2L257,69.5L254.5,68.8L252.6,67.7L251.4,66.2L250.7,64.2L249.3,53.2L248.5,49.6L246,44.7L245,43.7L243.9,43.2L240,42.7L236,42.5L231.9,42.7L228,43.2L226.5,44.7L223.6,50.2L221.3,53.7L217.7,58.2L215.5,60.1L212,61.5L205,63.1L197.5,63.9L195.5,63.6L194,63.1L191.9,61.7L190.1,59.7L189.1,57.7L188.8,55.7L190.1,45.7L191.7,38.7L192.7,35.7L195,32.3L197.5,30.6L199.5,30.1L205,29.8L207,29.3L213.5,24.9L215.5,24.1L217,24L219.5,24.5L220.5,24.2L221.1,22.7L221.8,15.7L222.4,13.2L223.3,11.7L225.1,9.7L226.5,8.7L228,8.3L236,8.1L239.7,8.7L251.8,13.2L262.5,19.3L265,20.1L266.5,19.7L272,16.6L277,15.3L279.5,15.7L280.9,16.7L283,18.8L283.5,19L284,18.9L284.5,17.8L284.9,14.7L285.2,13.7L286.4,12.7L288,12.3L310,12.2L312,12.3L313,12.7L313.5,13.3L313.9,14.7L314.8,21.2L314.8,72.7L314.6,76.2L314,77.4L313,78.2L311.5,78.7L310.5,78.5L309.2,77.7L306.8,74.7L305.5,73.5L303.5,72.7L301.5,73L300.5,73.7L299.7,74.7L296,83.1L295,84.5ZM450.5,60.8L447.5,61L445,60.2L443.4,58.2L441,53.2L439.5,52L437.5,51.5L430,51.8L426.5,52.4L420,54L417.5,55L414.5,56.8L413,57L412,56.2L411.3,54.2L410.3,49.7L409.6,43.2L409,41.2L408.5,41.3L406.9,43.2L405.7,44.2L404.5,44.7L403,45L387.5,43.4L385.5,42.8L384,41.9L381.5,39.8L380.2,38.2L379.3,36.2L378.7,33.7L377.1,23.7L376.7,18.7L377,13.7L378.4,10.2L379.5,9.1L381.5,8.4L384.5,8.5L386.5,9.2L387.8,10.2L388.7,11.7L389.5,16.2L390.3,17.2L391.5,17.7L393,17.4L394,16.3L394.8,11.7L395.7,10.2L398,8.8L401,8.3L404,8.5L405.7,9.2L406.7,10.2L409.5,14.6L410.5,15.4L411.5,15.7L447.5,15.8L449.5,15.9L451,16.6L452.8,18.7L453.7,21.2L453.8,47.2L454.1,52.2L453.8,54.2L452.5,58.7L451.5,60.2ZM173,77.8L171.5,78.1L170,77.3L165.8,73.2L164,70.7L160,58.9L157.9,51.7L157.3,48.2L156.6,38.7L156.4,24.7L157,23.2L159,21.6L160,20.3L162.7,12.2L164,10.9L165.5,10.5L168,10.6L169.9,11.7L170.8,13.2L172.5,18.8L173.5,20L176,21.3L176.7,23.2L176.9,34.2L177.4,41.2L177.5,52.2L177.9,54.7L179.6,59.7L179.7,68.7L179.4,70.7L178.6,72.2ZM358.5,51.9L357,52.1L355.1,51.2L353.5,49.7L352.4,47.7L351.9,44.7L350.5,27.2L351.3,23.2L354.3,15.7L356.1,13.2L357,12.6L358.5,12.2L360,12.5L361.3,13.2L362.4,14.2L363.5,15.7L364.6,19.7L365.5,26.2L365,31.2L363.1,43.7L362.3,46.2L360.6,49.7L359.5,51.2ZM43.5,63.2L43,63.4L42.9,57.7L43,14.5L45.5,14.7L47,15.2L48.1,16.2L48.8,17.7L49.3,20.2L49.8,25.2L50.4,38.7L50.1,50.7L49.2,57.2L48.2,59.7L47,61.3L45.5,62.4Z" fill="#80ffb4" fill-rule="evenodd"/>
<path d="M547.5,65.9L545.5,66L544.5,65.4L543.5,64.2L538.3,52.2L535.8,47.7L534,45.5L533,44.9L532,44.8L531,45.3L528.5,47.3L527.5,47.6L526.5,47.5L524.7,46.2L521,42.1L520,41.6L519,41.8L518,43.6L515.9,55.2L515,57.4L514,58.3L513,58.3L511.3,57.2L507.2,52.2L505,50.2L501.9,48.2L499.5,47.4L494.5,47.2L492,47.3L487,49L480.5,52.5L478.5,52.7L476.5,52L473,49.9L470.5,47.9L469.2,46.2L468.4,43.7L467.7,39.7L467.8,36.7L468.5,34.2L470.8,28.2L472.5,25.7L478.5,20.9L482.5,15.7L487.8,9.7L488.9,8.7L490,8.2L492.5,7.9L501,7.9L509,8.5L518.5,7.9L526.5,8.4L534.5,7.9L543.5,8.6L545.5,9.2L546.8,10.2L549.4,14.2L550.1,15.7L550.7,17.7L552.9,36.2L554.1,54.2L553.8,57.2L552.4,60.2L549.8,64.2L548.5,65.4ZM278.5,72.8L276.5,72.9L275,72.5L273.5,71.5L270.9,69.2L269,68.4L257,68L255,67.6L253.7,66.7L252.9,65.7L252.3,63.7L250.9,52.7L249.7,48.2L248,44.7L246.6,42.7L245,41.7L243,41.2L236,40.8L227,41.2L226.2,41.7L225.5,42.7L222.8,48.2L220.6,51.7L216.7,56.7L214.5,58.6L211,59.9L204.5,61.4L198,62.1L195,61.5L193,60.2L191.6,58.7L190.6,56.7L190.1,54.2L190.6,47.7L192,41.1L193,37.8L195,34.7L196.5,33.3L198,32.4L200,31.9L205,31.7L207.3,31.2L209.2,30.2L214,26.7L215.5,26.1L217.5,26L221,27.2L222,26.9L222.6,25.2L223.4,15.7L223.9,12.7L225.5,10.2L226.8,9.2L228,8.8L236,8.6L240,9.3L248,12.7L262,21.1L264.5,22.1L267,21.8L271.5,19.2L274,18.1L276.5,17.6L278.5,17.8L279.8,18.7L280.9,20.2L283.4,24.7L284.3,27.2L285.3,34.2L285.9,51.7L286.5,57.7L285.9,62.2L283.8,69.2L282,71.3L280.3,72.2ZM403.5,43.8L401.5,43.8L387,42.1L384,40.5L381.2,37.7L380.4,36.2L379.7,33.7L377.8,20.2L378.1,13.2L378.9,10.7L380,9.5L381.5,9L383.5,9L385,9.3L386.4,10.2L387.2,11.7L387.5,15.7L388,17.3L389.5,19L391.5,19.7L393.8,19.2L395.3,17.7L396,15.7L396.3,11.7L396.7,10.7L397.7,9.7L400,9L403.5,9L405,9.5L406.2,10.7L407.6,13.7L408.6,16.7L409.6,22.7L409.7,25.7L406.4,41.2L405,43.1ZM168,61.2L167,61.5L166,61.3L164.5,60.2L163.5,58.7L162.4,55.7L161.5,51.2L160.8,37.7L160.6,25.2L162.3,15.7L163,13.2L163.5,12.2L164.5,11.4L166,11L167.5,11.1L168.8,11.7L169.7,12.7L170.1,13.7L172.1,23.2L172.7,32.7L172.3,46.7L171.7,52.2L170.2,58.2L169.1,60.2ZM358,49.4L357,49.6L355.5,48.8L354.7,47.7L354.1,46.2L352.5,27.2L352.9,24.2L355.1,16.2L356.5,14L357.5,13.3L358.5,13L359.5,13.2L360.9,14.2L362.5,16.7L363.1,20.2L363.6,26.2L361.5,42.2L360,46.5L359,48.3ZM44,61.4L43,61.7L43,15.5L45,15.6L46.5,16.2L47.5,17.2L47.9,18.2L48.5,21.7L49.5,36.7L49.1,50.2L48.4,56.2L47.9,57.7L47,59.3L45.5,60.6ZM417.5,50.3L416,50.5L414.5,50L413.5,48.9L412.8,47.2L412.2,42.2L412,34.2L411.6,29.2L411.8,26.7L412.8,24.7L414.5,23.4L416.5,22.9L418,23.1L419,23.6L420,24.7L420.7,26.2L421.4,31.2L421.9,42.7L421.7,45.7L420.9,47.7L419.5,49.3ZM439.5,49.7L433,50.1L431.5,49.6L430.2,48.2L429.2,45.2L428.2,39.7L428.1,37.2L428.7,34.7L429.5,33.7L431,32.7L435,31.5L439.5,30.8L441,31L442,31.6L443.4,33.2L443.9,34.7L444.4,37.2L444.7,43.2L444.5,45.7L444,47.2L443,48.4L441.5,49.3ZM449,60.2L447.5,60.2L446,59.7L445,58.9L444.3,57.7L443.7,55.7L443.6,54.2L444,52.8L445,51.9L447,51.4L449.5,51.5L451,52.1L451.9,53.2L452.3,55.2L451.7,58.2L450.6,59.7Z" fill="#aef498" fill-rule="evenodd"/>
<path d="M547,64.3L545.5,64L544.4,62.7L539.4,50.2L536.9,45.7L535,43.3L533.5,42.4L532,42.2L530.5,42.8L528,44.8L527,44.9L525.5,44L521.5,39.3L520,38.4L519,38.3L518,38.8L516.6,40.7L515.8,43.7L514.2,53.7L513.6,55.2L513,55.5L511.5,54.6L508.6,50.7L506.5,48.7L503,46.4L500.5,45.6L491,45.5L485.5,47.4L480,50.4L478.5,50.6L477.4,50.2L474.2,48.2L472,46.5L471,45.2L470.1,42.7L469.6,39.2L469.7,37.2L470.5,34.4L472.5,29.3L474.4,26.7L479,23.3L480.5,21.8L488,10.7L489,9.6L490.5,8.8L493,8.6L501.5,8.6L509,9.7L516,8.6L521,8.7L526.5,9.5L531.4,8.7L534.5,8.6L537,8.8L544.1,10.2L545.3,11.2L548,14.8L549.4,17.7L551.5,35.7L552.1,44.7L552.6,54.2L552.3,56.7L551.5,58.8L549.5,62.3L548.2,63.7ZM278,71.7L276.8,71.7L275.5,71.2L271.5,67.9L269.5,67L267,66.8L257.5,66.7L256,66.4L254.7,65.7L254,64.7L253.5,63.2L252.1,52.2L250.8,47.7L248.8,43.7L247.5,41.8L246,40.7L243.5,40L237.5,39.5L230,39.7L226,39.1L225,40L223,44.9L220.5,49.5L216.2,55.2L214,57.2L211,58.4L204.5,60L198.5,60.7L195.6,60.2L193.9,59.2L192.5,57.6L191.7,55.7L191.2,53.2L191.2,50.2L191.5,47.5L193.6,39.2L195.4,36.2L198,34L200,33.3L205.5,33L207.5,32.6L209.5,31.7L214,28.4L215.5,27.6L217.5,27.6L221.5,29.4L223,29.3L223.5,28.7L223.8,27.2L224.4,17.7L225,12.7L225.6,11.2L226.5,10.2L228.5,9.3L236.5,9.2L238.5,9.5L240.5,10.2L246,12.7L261.5,22.4L264.5,23.6L267.5,23.5L274,20.4L276,19.9L277.5,20L278.5,20.6L279.5,21.9L281.1,25.2L281.9,27.7L282.6,33.7L282.8,41.2L284.2,57.7L283.8,62.2L283,66.7L282.4,68.7L281.8,69.7L280.8,70.7L279.5,71.4ZM403,42.8L387.5,41.1L384.7,39.7L382.1,37.2L381.3,35.7L380.6,33.2L378.9,20.7L379,13.2L379.5,11.4L380.5,10.2L381.5,9.8L383,9.7L384.5,10.1L385.4,10.7L386,12.2L386.3,16.2L387,18.4L388.9,20.2L391.5,21L393,20.9L394.5,20.4L396.4,18.7L397.1,16.7L397.6,11.7L398.1,10.7L398.7,10.2L400.5,9.7L403,9.7L404.5,10.1L405.5,11.1L406.4,13.2L407,15.7L407.7,22.7L407.8,25.7L405.5,40.2L404.5,42.1ZM167.5,56.8L166,56.9L165,56.1L164,54.3L163.4,52.2L162.5,28.7L162.5,23.2L163.5,14.2L164.5,12.3L165.5,11.8L166.5,11.7L167.5,11.9L168.5,12.5L169.3,14.7L170.3,22.2L170.9,33.7L170.8,39.2L169.6,51.7L168.8,55.2ZM359,23.9L357.5,24L356.5,23.4L355.8,22.2L355.6,20.7L355.9,17.7L356.5,15.9L357.5,14.6L358.5,14.3L359.5,14.6L360.4,15.7L361,17.2L361.3,19.2L361.3,20.7L360.8,22.2L360,23.3ZM43.5,60.3L43,60.5L42.9,57.7L43,16.5L45,16.7L46,17.2L46.8,18.2L47.2,19.2L47.6,21.7L48.6,37.7L48.1,50.7L47.5,55.7L47,57.4L46.1,58.7ZM417,48.3L416,48.2L415.2,47.7L414.6,46.7L414.1,45.2L413.7,41.2L413.3,29.7L413.5,27.7L414,26.5L415,25.5L416.5,25L417.5,25.2L418.2,25.7L418.9,26.7L419.3,28.2L419.8,32.2L420.2,42.7L420.1,44.7L419.5,46.4L418.5,47.6ZM436.5,48.7L433.5,48.7L432.5,48.2L431.6,47.2L430.9,45.2L430.2,41.2L429.9,37.2L430.5,35.6L432.2,34.2L436.5,33L439.5,32.8L440.5,33.1L441.4,33.7L442.4,35.7L442.8,39.2L442.9,44.7L442.4,46.2L441,47.5L439.5,48.1ZM448.5,59.2L446.5,58.7L445.3,57.2L445.2,55.2L445.5,54.5L446.5,53.8L448,53.6L449.5,53.8L450.5,54.5L450.9,55.2L451,56.7L450.5,58.1L449.5,59Z" fill="#dcd67a" fill-rule="evenodd"/>
<path d="M278.5,69.8L277.5,69.9L276.5,69.6L272.5,66.3L270.5,65.3L267.5,64.9L258,64.9L257,64.7L256,64.2L255.1,62.2L254.1,54.7L252.7,49.2L249.3,42.2L248.1,40.7L247,39.8L245,39L241,38.4L230,38.2L229,37.9L227.9,37.2L226.9,35.7L225.8,32.7L225.3,25.2L225.9,13.7L226.5,11.7L227.3,10.7L229,10L232.5,9.8L237,10L239.7,10.7L244.7,13.2L250,16.9L257.8,21.7L262,24.6L263.5,25.4L266.5,26.3L267.8,27.2L268.6,28.7L270.5,34.7L271.7,37.2L273.4,39.7L279.4,46.7L280.9,49.7L281.7,57.7L281.3,65.2L281,67.2L280.5,68.3L279.7,69.2ZM498,43.3L496,43.3L494.3,42.7L493,41.7L491.4,39.7L489.8,36.2L487.5,26.7L487,19.7L487.4,15.2L488.1,13.2L489,11.6L490,10.5L491.5,9.9L502,10L503.7,10.7L504.6,12.2L504.6,21.7L502.9,38.2L502.2,40.2L501.1,41.7L499.7,42.7ZM521.5,31.5L520,31.5L518.7,30.7L517.7,29.2L516.8,26.7L514.3,18.2L513.3,13.2L513.5,11.2L514.9,10.2L517.5,9.9L520.5,10L522.2,10.7L523,11.7L523.2,14.2L523.2,28.2L522.7,30.2ZM536,36.3L534.5,36.2L533,35.2L532,33.2L531.5,30.2L530,18.2L529.7,12.7L529.8,11.7L530.5,10.7L532.5,10L534.5,9.9L536.5,10.3L537.7,11.2L538.2,12.7L538.8,20.7L538.4,32.7L537.7,35.2L537,35.9ZM403,41.4L401.5,41.5L396.5,40.5L387.8,39.7L385.4,38.7L383.2,36.7L382.5,35.5L381.9,33.7L380.5,23.2L380.5,13.7L380.8,12.2L381.5,11.4L383,11.2L384,11.9L384.4,13.2L384.8,17.7L385.4,19.2L386.2,20.2L389,21.9L392,22.4L395.5,21.7L397,20.7L397.9,19.7L398.7,17.7L399.1,13.2L399.6,11.7L400.5,11.1L402,10.9L403.4,11.2L404.1,11.7L404.6,12.7L405.1,14.7L405.9,25.2L404.7,38.7L404,40.6ZM167,53.7L166,53.7L165.5,53.2L164.8,50.7L163.9,27.7L164.4,14.7L165.2,13.2L166.5,12.7L167.5,13.2L167.9,13.7L168.5,16.2L169.5,34.2L169.3,38.7L168.3,49.2L167.8,52.2ZM547.5,61.5L546.5,61.6L545.5,60.6L544,56L542.9,50.2L541.7,37.2L541.4,29.2L540.7,23.2L540.8,19.7L541.3,17.7L541.9,16.7L543,15.9L544,15.5L545,15.6L546.3,16.2L547,16.9L547.7,18.2L549.8,36.7L550.7,55.2L550.5,56.7L549.5,58.9L548.5,60.5ZM43,59.3L43,17.6L44.5,17.8L45.3,18.2L46,19.1L46.4,20.2L47.6,38.2L47.1,50.7L46.6,55.2L46.1,56.7L45.4,57.7L44.5,58.5ZM417,46.3L416,45.7L415.2,43.2L414.7,30.2L415,28L415.5,27.3L416.5,27L417.5,27.7L418.1,29.7L418.8,42.7L418.4,45.2L418,45.8ZM200,58.7L197,58.7L195,57.7L193.7,56.2L192.9,53.7L192.7,50.2L193,47.3L195,40.2L196.4,37.7L198,36.1L200,35.2L206,34.9L208.5,34.2L210.5,33.2L214.6,30.2L216,29.5L217,29.5L218,29.8L221,31.7L222,32.7L222.6,34.2L222.8,38.2L222.5,41.2L222,43L220.5,46.1L217,51.4L214.3,54.7L212,56.2L205.5,58ZM437.5,47.2L434.5,47.5L433,46.6L432,43.7L431.3,39.7L431.3,37.7L432,36.2L433,35.5L436.5,34.5L439,34.3L440.5,35.1L441.2,36.7L441.6,39.2L441.7,43.7L441.2,45.2L440.5,46L439.3,46.7Z" fill="#ffa759" fill-rule="evenodd"/>
<path d="M257.5,50.3L256.5,50.5L255.5,49.8L250.4,40.7L249,39L247.5,38L245,37.1L241.5,36.5L231.6,36.2L230.5,35.8L229.8,35.2L229,33.7L228.5,31.6L227.4,24.7L227.7,14.2L228,12.7L228.7,11.7L230.5,11.2L235,11.1L237.5,11.5L239.6,12.2L242.9,14.2L249,18.9L256.1,23.2L258,24.9L259,27.2L259.6,31.2L259.7,44.7L259.3,48.2L258.5,49.6ZM495,25.2L493.5,25.5L492.5,25.2L491.5,24.1L491,22.4L490.7,18.7L490.8,16.7L491.5,15.2L493,14.4L494,14.5L495.2,15.2L495.8,16.2L496.2,17.7L496.5,22.7L496,24.2ZM43,57.4L43,19.3L44,19.7L44.5,20.1L45,21.5L46.1,38.2L45.6,50.7L45.2,54.2L44.5,56.2ZM401.5,39.2L396.5,37.6L388,37.1L386.5,36.7L385.5,36.1L384.4,34.7L383.7,32.2L383.2,27.2L383.3,25.7L383.7,24.7L384.5,24L386,23.8L394.4,24.7L395.5,25.2L398,27.3L402.1,28.7L402.9,29.7L403.2,30.7L403.3,34.7L402.8,38.2L402.5,38.8ZM437.5,45.3L435.5,45.6L434.6,45.2L434.1,44.7L433.5,42.8L433,39.2L433.2,38.2L433.9,37.2L435.1,36.7L437.5,36.2L439,36.7L439.5,37.4L440,41.7L439.9,43.2L439.5,44.2L439,44.7Z" fill="#ff6835" fill-rule="evenodd"/>
<path d="M42.8,247H44.8V227.7H47.4V274H42.8Z" fill="#ff0000"/>
<polyline points="47.7,200.6 48,316.5 48.1,278.8 54.6,272.2 61,244.4 67.3,282.6 73,289.5 79.5,292.9 85.7,261.8 92.2,271 104.2,308 110.7,262.9 116.9,256.7 123.2,231.3 129.2,254.8 135.4,224.8 141.9,282.6 148.1,146.2 154.4,162.4 160.4,168.2 166.6,90.8 172.8,220.2 180,127.8 185.1,76.9 191.6,55 203.8,60.8 210,40 216.3,23.3 222.7,49.2 228.5,111.6 235,175.1 241.2,187.4 247.5,186.7 253.5,156.6 259.7,249.1 265.9,189 272.4,256 278.7,271 284.7,221.3 290.9,274.5 297.1,258.3 303.1,252.1 309.4,257.1 315.6,298.7 322.1,258.3 334.3,241 340.6,291.8 347,225.3 359.3,247.9 365.5,161.3 371.8,166.6 377.8,146.2 384,210.2 390.2,87.3 396.7,139.3 402.5,107 408.7,252.5 415.2,60.8 427.4,73.5 433.7,20.3 439.9,58.4 445.9,108.1 452.2,102.3 458.2,52.7 464.4,89.6 470.6,97.7 476.6,250.7 482.9,216.7 489.1,301 495.1,208.6 501.4,191.3 507.6,276.1 513.6,273.8 519.8,296.9 526.1,296.4 532.6,288.3 538.8,319.5 551,268.7 557.3,257.6 563.5,293.6 569.5,271 576,277.9 582.7,199.4" fill="none" stroke="#ff0000" stroke-opacity="0.84" stroke-width="1.6" stroke-linejoin="round"/>
<polyline points="43,17 44,16.4 45.4,22 46.6,25 48.4,59 61,85.4 66.6,79.6 73,78 79.6,94 85.6,88.4 92.4,98.6 98.6,85.4 104.4,153.6 111,88 117,112 123,66.4 129.4,83.6 135.4,32.6 141,150 148,200 154.4,40.6 160.6,20 173,91.6 180,55 185,57.4 191.6,20.4 198,15.6 204,43.6 210,15 216.4,46 222,40.6 228.6,23.4 248,43.6 254,42.4 260,66.4 266,46 272,85.6 278.4,6.4 285,72 291,100.4 297,91 303,76 310,95 315,95.4 317,99 321.4,114 328,146 334.4,137.6 340.6,65.4 346.6,63.4 353,76.6 359,27.6 365.4,51.6 371.6,27 378,44 384,34.4 396.4,29 402.6,20.6 408.6,30 415,68.4 421,17.6 427.4,45.4 434,38 439.6,21.6 446,49.6 451.4,52 458.4,51.6 464.6,18.6 470.6,16.6 477,30 483.2,57.4 489.4,14.4 495.4,39 501.6,21 508,52.4 514,67.4 520.4,27.6 526.4,52 532.6,37 539,45 545.2,70 551.4,58 557.6,33 563.8,114.4 570,99.4 576,99.6 582.6,94.6" fill="none" stroke="#000" stroke-width="1.9" stroke-linejoin="round"/>
</g>
<rect x="43.0" y="4.7" width="539.6" height="330.8" fill="none" stroke="#000" stroke-width="0.8"/>
<g clip-path="url(#cpb)" shape-rendering="geometricPrecision">
<rect x="43.0" y="366.7" width="539.6" height="330.8" fill="#0fc4e7"/>
<rect x="42.7" y="366.7" width="137.6" height="330.8" fill="#0fc4e7"/>
<path d="M46.5,698.8L46.5,619.1L47.6,572.9L49.9,512.9L53.4,503.6L54.6,485.1L56.9,463.2L60.3,462L62.6,475.9L67.3,495.5L71.9,484L73.7,485.1L75.3,512.9L77.7,549.8L80,582.2L82.3,549.8L85.7,515.2L90.4,503.6L92.7,503.2L95,522.1L98.4,540.6L101.9,584.5L104.2,606.4L106.5,584.5L108.8,540.6L111.2,512.9L108.8,503.6L108.8,365L143.5,365L144,434.3L144.7,475.9L145.8,549.8L148.1,596L151.6,630.7L156.2,660.7L158.5,670L160.8,698.8Z" fill="#2c7ef7"/>
<path d="M135,486.3L137.7,494.4L139.6,512.9L141.2,526.7L138.9,524.4L136.6,512.9L134.3,499Z" fill="#0fc4e7"/>
<path d="M180.7,607.6L175.8,619.1L172.4,653.8L169.6,698.8L180.7,698.8Z" fill="#2c7ef7"/>
<path d="M54.6,698.8L54.6,641.1L64.9,633L73,629.5L74.2,688.4L80,686.1L85.7,663L90.4,648L95,660.7L99.6,698.8Z" fill="#642cfe"/>
<path d="M108.8,698.8L112.3,665.3L116.9,592.6L122.7,562.5L128.9,562.5L129.6,577.6L131.9,619.1L135.4,642.2L138.9,665.3L144.7,698.8Z" fill="#642cfe"/>
<path d="M42.3,365L49.9,365L50.4,434.3L49.5,469L47.6,503.6L45.3,508.2L42.3,512.9Z" fill="#46efd1"/>
<path d="M162,365L173.5,365L172.8,411.2L171.2,457.4L168.9,494.4L166.6,505.9L164.3,480.5L162.7,422.8Z" fill="#46efd1"/>
<path d="M73,460.9L86.9,463.2L86.4,485.1L81.1,484L80,473.6L74.2,467.8Z" fill="#46efd1"/>
<path d="M86.9,395L92.7,395L92.7,402L86.9,402Z" fill="#2c7ef7"/>
<path d="M103.5,448.2L105.4,448.2L104.9,494.4L104,494.4Z" fill="#46efd1"/>
<rect x="179.7" y="366.7" width="137.6" height="330.8" fill="#0fc4e7"/>
<path d="M190.4,365L317.7,365L317.7,623.8L314,607.6L310.5,572.9L308.2,551L302.4,554.4L297.8,596L293.2,642.2L290.4,659.6L288.6,657.3L284,651.5L280.5,596L278.2,552.1L274.7,577.6L271.3,600.7L265.9,603L263.2,586.8L258.6,568.3L253.9,526.7L249.3,503.6L247,473.6L244.7,494.4L240.1,510.6L233.1,517.5L228.5,533.7L225.1,561.4L222.3,596L219.3,549.8L215.8,503.6L212.3,457.4L211.2,411.2L209.6,410.1L204.3,408.9L198.5,388.1L191.6,384.6L190.4,378.9Z" fill="#46efd1"/>
<path d="M214.7,365L300.1,365L303.6,388.1L304.8,434.3L302.4,457.4L300.1,469L296.7,494.4L293.2,526.7L289.7,548.7L284.4,547.5L281.7,503.6L278.2,459.7L274.7,457.4L271.3,456.3L266.6,457.4L263.2,464.3L259.7,493.2L257.4,469L256.2,448.2L247,444.7L237.8,441.2L229.7,443.6L222.7,450.5L215.8,457.4L214.7,422.8Z" fill="#80ffb4"/>
<path d="M313.5,365L317.7,365L317.7,485.1L314,480.5L313.5,434.3Z" fill="#80ffb4"/>
<path d="M226.2,432L227.4,418.1L232,414.7L236.6,415.8L236.1,441.2L230.8,442.4L227.4,438.9Z" fill="#46efd1"/>
<path d="M268.9,480.5L270.1,471.3L272.4,470.1L274.3,480.5L272.4,490.9L270.1,489.8Z" fill="#80ffb4"/>
<path d="M219.3,365L248.2,365L247.5,388.1L241.2,395L235.4,404.3L229.7,406.1L222.7,405.4L219.7,399.7Z" fill="#b9ef92"/>
<path d="M260.9,365L268.9,365L268.9,404.3L266.6,408.9L261.3,406.6Z" fill="#b9ef92"/>
<path d="M284,365L296.7,365L296.7,411.2L295.5,452.8L290.9,463.2L286.3,457.4L284.4,434.3Z" fill="#b9ef92"/>
<path d="M251.6,365L254.4,365L253.9,404.3L252.1,404.3Z" fill="#46efd1"/>
<path d="M308.5,365L309.6,365L309.4,438.9L308.7,438.9Z" fill="#0fc4e7"/>
<path d="M179.3,609.9L184.6,622.6L190.4,621.4L193.9,603L203.1,585.6L207.7,603L211.2,619.1L214.7,665.3L219.3,698.8L179.3,698.8Z" fill="#2c7ef7"/>
<path d="M236.6,698.8L241.2,674.6L247,650.3L247.5,626.1L248.4,650.3L252.8,674.6L256.2,698.8Z" fill="#2c7ef7"/>
<path d="M306.6,698.8L308.9,687.3L311.2,698.8Z" fill="#2c7ef7"/>
<path d="M199.6,698.8L203.8,679.2L210,698.8Z" fill="#642cfe"/>
<path d="M179.3,385.8L182.8,388.1L183.5,411.2L181.8,422.8L179.3,422.8Z" fill="#2c7ef7"/>
<rect x="316.7" y="366.7" width="137.6" height="330.8" fill="#46efd1"/>
<path d="M316.3,619.1L321.6,630.7L327.4,648L333.6,619.1L338.9,658.4L345.9,665.3L351.7,639.9L358.6,633L363.2,665.3L369,698.8L316.3,698.8Z" fill="#0fc4e7"/>
<path d="M384,698.8L389.8,651.5L396.7,698.8Z" fill="#0fc4e7"/>
<path d="M316.3,365L454.7,365L454.7,545.2L449.8,561.4L445.2,579.9L440.6,571.8L436,571.8L433.7,584.5L430.2,642.2L427.9,698.8L412.9,698.8L409.4,679.2L404.8,665.3L400.2,607.6L396.7,549.8L393.2,512.9L389.8,490.9L385.2,526.7L382.8,549.8L380.5,619.1L377.5,670L375.9,642.2L372.4,584.5L369,549.8L366.7,524.4L359.7,519.8L352.8,522.1L349.3,540.6L345.9,572.9L341.3,549.8L336.6,540.6L334.3,515.2L332,531.3L327.4,537.1L321.6,549.8L316.3,526.7Z" fill="#80ffb4"/>
<path d="M318.2,365L325.1,365L325.1,434.3L323.9,475.9L322.1,457.4L318.8,422.8Z" fill="#b9ef92"/>
<path d="M338.9,365L454.7,365L454.7,443.6L446.4,449.3L441.8,445.9L438.3,441.2L434.8,443.6L431.4,457.4L427.9,485.1L425.6,526.7L423.3,572.9L421,611.1L418.7,584.5L415.2,549.8L412.9,554.4L409.4,566L404.8,545.2L401.3,503.6L399,457.4L396.7,432L392.1,426.2L386.3,427.4L384,434.3L380.5,480.5L377.5,512.9L374.8,494.4L372.4,441.2L369,432L365.5,436.6L359.7,430.8L355.1,427.4L351.2,429.7L348.2,434.3L345.9,449.3L342.4,438.9L339.4,434.3Z" fill="#b9ef92"/>
<path d="M351.2,365L355.1,365L355.1,427.4L351.2,429.7Z" fill="#80ffb4"/>
<path d="M372.4,365L379.8,365L379.8,411.2L378.2,443.6L376.6,441.2L373.6,411.2Z" fill="#f0c46c"/>
<path d="M393.2,365L454.7,365L454.7,419.3L447.5,417L442.9,411.2L437.1,407.7L432.5,415.8L430.2,434.3L426.7,475.9L423.7,489.8L421,505.9L417.5,475.9L415.2,457.4L411.7,466.7L409,480.5L405.9,469L402.5,462L399,434.3L396.7,399.7Z" fill="#f0c46c"/>
<path d="M376.6,365L378.5,365L378,411.2L377.1,411.2Z" fill="#ff7e41"/>
<path d="M399,365L409.9,365L409.4,399.7L408.3,421.6L404.8,417L402.5,413.5L400.2,388.1Z" fill="#ff7e41"/>
<path d="M416.8,365L430.7,365L430.2,399.7L427.9,417L421,422.8L418.7,411.2L417.5,388.1Z" fill="#ff7e41"/>
<path d="M437.6,365L441.8,365L441.3,385.8L438.5,388.1Z" fill="#ff7e41"/>
<path d="M401.8,365L403.2,365L402.9,378.9L402,378.9Z" fill="#ff2c16"/>
<rect x="453.7" y="366.7" width="137.6" height="330.8" fill="#46efd1"/>
<path d="M464.4,698.8L466.7,665.3L470.2,619.1L470.6,593.7L471.6,619.1L473.6,621.4L476.4,629.5L479.4,622.6L485.2,614.5L488.7,603L489.1,559.1L490.5,603L495.1,623.8L499.1,609.9L503.7,596L508.3,586.8L512.9,572.9L516.4,559.1L519.8,540.6L521,531.3L521.7,561.4L519.8,596L520.5,613.4L525.6,607.6L530.2,600.7L531.4,572.9L532.6,503.6L534.9,450.5L538.3,445.9L539,365L552.2,365L552.2,422.8L550.6,434.3L548.7,469L549.2,503.6L551,526.7L554.5,561.4L559.1,607.6L563.7,635.3L567.2,619.1L570.7,591.4L574.1,561.4L577.6,536L579.9,515.2L580.6,480.5L579.5,365L583.4,365L583.4,698.8Z" fill="#0fc4e7"/>
<path d="M533.7,698.8L537.2,653.8L539.9,596L541.3,561.4L542.9,526.7L544.6,519.8L546,549.8L547.6,596L548.7,642.2L551,670L552.2,698.8Z" fill="#2c7ef7"/>
<path d="M542.9,485.1L544.6,478.2L545.5,494.4L544.8,508.2L543.2,503.6Z" fill="#2c7ef7"/>
<path d="M577.6,698.8L579.9,676.9L581.5,630.7L582.7,596L583.4,596L583.4,698.8Z" fill="#2c7ef7"/>
<path d="M453.3,365L531.4,365L532.6,388.1L534.9,411.2L533.7,432L531.4,443.6L527.9,452.8L523.3,459.7L521,455.1L517.5,469L514.1,482.8L508.3,471.3L502.5,467.8L499.1,480.5L495.6,485.1L492.1,475.9L489.1,447L486.3,466.7L482.9,489.8L479.4,480.5L475.9,471.3L470.2,485.1L466.7,526.7L464.4,549.8L462.1,554.4L453.3,548.7Z" fill="#80ffb4"/>
<path d="M564.9,378.9L567.2,383.5L570.7,388.1L571.8,434.3L569.5,480.5L567.2,494.4L564.4,499L561.4,480.5L562.6,434.3L564.4,399.7Z" fill="#80ffb4"/>
<path d="M453.3,365L510.1,365L509.4,411.2L506,425.1L501.4,430.8L496.7,427.4L491,420.4L486.3,426.2L482.9,432L479.4,425.1L475.9,420.4L470.2,418.1L465.6,422.8L460.9,441.2L457.5,459.7L453.3,445.9Z" fill="#b9ef92"/>
<path d="M453.3,365L481.7,365L480.6,388.1L478.3,402L474.8,399.7L470.2,399.7L465.6,411.2L459.8,420.4L453.3,420.4Z" fill="#f0c46c"/>
<path d="M499.5,365L502.5,365L502.1,420.4L500.2,420.4Z" fill="#f0c46c"/>
<path d="M460.9,365L471.3,365L470.2,374.2L467.9,385.8L464.4,388.1L462.1,378.9Z" fill="#ff7e41"/>
<polyline points="43,379 44,378.4 45.4,384 46.6,387 48.4,421 61,447.4 66.6,441.6 73,440 79.6,456 85.6,450.4 92.4,460.6 98.6,447.4 104.4,515.6 111,450 117,474 123,428.4 129.4,445.6 135.4,394.6 141,512 148,562 154.4,402.6 160.6,382 173,453.6 180,417 185,419.4 191.6,382.4 198,377.6 204,405.6 210,377 216.4,408 222,402.6 228.6,385.4 248,405.6 254,404.4 260,428.4 266,408 272,447.6 278.4,368.4 285,434 291,462.4 297,453 303,438 310,457 315,457.4 317,461 321.4,476 328,508 334.4,499.6 340.6,427.4 346.6,425.4 353,438.6 359,389.6 365.4,413.6 371.6,389 378,406 384,396.4 396.4,391 402.6,382.6 408.6,392 415,430.4 421,379.6 427.4,407.4 434,400 439.6,383.6 446,411.6 451.4,414 458.4,413.6 464.6,380.6 470.6,378.6 477,392 483.2,419.4 489.4,376.4 495.4,401 501.6,383 508,414.4 514,429.4 520.4,389.6 526.4,414 532.6,399 539,407 545.2,432 551.4,420 557.6,395 563.8,476.4 570,461.4 576,461.6 582.6,456.6" fill="none" stroke="#000" stroke-width="1.9" stroke-linejoin="round"/>
</g>
<rect x="43.0" y="366.7" width="539.6" height="330.8" fill="none" stroke="#000" stroke-width="0.8"/>
<g clip-path="url(#cpc)" shape-rendering="geometricPrecision">
<rect x="43.0" y="728.2" width="539.6" height="330.8" fill="#20d5e1"/>
<rect x="42.7" y="728.2" width="137.6" height="330.8" fill="#20d5e1"/>
<path d="M49.9,727L71.9,727L73,773.2L77.7,787.1L74.2,798.6L68.4,806.7L62.6,813.6L60.3,819.4L56.9,817.1L53.4,803.2L51.1,784.8Z" fill="#208ef4"/>
<path d="M53.4,727L68.9,727L69.6,761.7L68.9,796.3L66.1,803.2L61.5,806.7L57.3,800.9L53.9,784.8Z" fill="#6032fe"/>
<path d="M81.1,727L92.7,727L92.7,805.6L83.4,806.7L81.1,787.1Z" fill="#208ef4"/>
<path d="M82.7,755.9L92.7,755.9L92.7,758L82.7,758Z" fill="#6032fe"/>
<path d="M82.7,761.7L92.7,761.7L92.7,763.7L82.7,763.7Z" fill="#6032fe"/>
<path d="M82.7,766.7L92.7,766.7L92.7,768.8L82.7,768.8Z" fill="#6032fe"/>
<path d="M82.7,772.1L92.7,772.1L92.7,774.1L82.7,774.1Z" fill="#6032fe"/>
<path d="M82.7,777.1L92.7,777.1L92.7,779.2L82.7,779.2Z" fill="#6032fe"/>
<path d="M82.7,782L92.7,782L92.7,784.1L82.7,784.1Z" fill="#6032fe"/>
<path d="M82.7,731.6L92.7,731.6L92.7,733.2L82.7,733.2Z" fill="#20d5e1"/>
<path d="M82.7,737.4L92.7,737.4L92.7,739L82.7,739Z" fill="#20d5e1"/>
<path d="M82.7,743.2L92.7,743.2L92.7,744.8L82.7,744.8Z" fill="#20d5e1"/>
<path d="M82.7,748.9L92.7,748.9L92.7,750.6L82.7,750.6Z" fill="#20d5e1"/>
<path d="M107.7,727L142.3,727L141.2,761.7L138.9,807.9L138.9,842.5L135.4,847.1L131.9,865.6L130.8,884.1L128.5,888.7L125,886.4L122.7,874.9L120.4,856.4L115.8,842.5L112.3,824L108.8,803.2L107.7,773.2Z" fill="#208ef4"/>
<path d="M110.7,727L113,727L113.5,796.3L116.9,835.6L120.4,837.9L122.7,847.1L123.9,865.6L125.7,856.4L126.6,824L129.6,807.9L135,784.8L135.9,757L136.6,727L118.1,727L118.1,780.1L115.1,781.3L113.5,761.7Z" fill="#6032fe"/>
<path d="M122.7,902.6L129.6,888.7L130.8,934.9L126.2,958L123.9,969.6L125.7,981.1L123.9,1004.2L119.2,1027.3L131.9,1060.8L111.2,1060.8L112.3,1038.9L116.9,1015.8L118.1,981.1L116.9,958L120.4,934.9L121.6,911.8Z" fill="#208ef4"/>
<path d="M42.3,784.8L47.6,787.1L51.1,803.2L53.4,824L52.2,865.6L51.1,911.8L47.6,958L45.3,1004.2L42.3,1015.8Z" fill="#60fac5"/>
<path d="M44.8,803.2L47.6,807.9L48.1,831L45.8,856.4L44.8,831Z" fill="#a0faa1"/>
<path d="M62.6,819.4L66.1,814.8L73,810.2L80,819.4L92.7,824L92.7,842.5L89.2,856.4L85.7,870.2L83.4,888.7L81.1,911.8L80,953.4L78.8,911.8L77.7,888.7L75.3,865.6L70.7,856.4L66.1,851.8L62.6,837.9Z" fill="#60fac5"/>
<path d="M66.1,821.7L68,822.9L68.4,835.6L66.6,834.4Z" fill="#208ef4"/>
<path d="M71.9,842.5L73.7,843.7L74,854.1L72.3,852.9Z" fill="#208ef4"/>
<path d="M80,836.7L89.2,836.7L90.4,844.8L81.1,846Z" fill="#a0faa1"/>
<path d="M80,838.4L85,838.4L85,843.7L80,843.7Z" fill="#e0d377"/>
<path d="M98.4,805.6L101.9,800.9L106.5,799.8L108.8,819.4L110,847.1L112.3,865.6L112.3,884.1L108.8,898L105.4,906.1L107.7,923.4L110,946.5L111.2,965L106.5,978.8L103.5,976.5L102.6,946.5L103.5,923.4L104.2,906.1L99.6,893.3L96.6,877.2L97.3,842.5Z" fill="#60fac5"/>
<path d="M112.3,847.1L116.9,843.7L120.4,849.4L122.7,865.6L121.6,874.9L116.9,877.2L112.8,870.2Z" fill="#60fac5"/>
<path d="M158.5,727L180.7,727L180.7,1060.8L168.9,1060.8L170.1,1038.9L163.1,1027.3L158.5,1015.8L153.9,1004.2L151.6,981.1L150.4,958L151.6,941.9L147,934.9L140,923.4L135.4,909.5L131.9,898L130.8,879.5L133.1,861L138.9,847.1L144.7,851.8L151.6,849.4L156.2,831L157.4,796.3Z" fill="#60fac5"/>
<path d="M180.7,992.7L175.8,1015.8L172.4,1038.9L170.1,1060.8L180.7,1060.8Z" fill="#20d5e1"/>
<path d="M164.3,727L168.9,727L168.9,796.3L167.8,851.8L165.9,851.8L165,796.3Z" fill="#a0faa1"/>
<path d="M166.1,736.2L167.3,736.2L167.3,819.4L166.4,819.4Z" fill="#e0d377"/>
<path d="M158.5,976.5L160.4,975.4L161.3,981.1L159.9,985.3L158.5,981.1Z" fill="#208ef4"/>
<path d="M70.3,992.7L72.6,986.9L74.2,1004.2L73.5,1027.3L70.7,1029.7L69.6,1015.8Z" fill="#208ef4"/>
<path d="M85.7,1037.7L92.7,1037.7L95,1050.4L97.3,1060.8L89.2,1060.8L86.9,1050.4Z" fill="#208ef4"/>
<rect x="179.7" y="728.2" width="137.6" height="330.8" fill="#60fac5"/>
<path d="M179.3,727L212.3,727L212.3,773.2L210,782.4L203.1,773.2L199.6,764L196.2,759.3L192.7,773.2L189.2,796.3L184.6,805.6L179.3,807.9Z" fill="#20d5e1"/>
<path d="M179.3,727L211.2,727L211.2,740.9L210,738.6L208.9,764L203.8,767.4L201.9,759.3L198,740.9L191.6,744.3L189.2,757L185.8,785.9L179.3,787.1Z" fill="#208ef4"/>
<path d="M179.3,819.4L183.5,814.8L185.8,831L189.2,842.5L193.9,854.1L197.3,863.3L199.6,842.5L203.1,835.6L207.7,840.2L210,847.1L211.2,888.7L207.7,902.6L204.3,913L200.8,907.2L196.2,893.3L192.7,898L189.2,911.8L185.8,921.1L182.3,907.2L179.3,895.7Z" fill="#20d5e1"/>
<path d="M190.4,887.6L192,887.6L192,895.7L190.6,895.7Z" fill="#60fac5"/>
<path d="M179.3,965L185.8,992.7L190.4,1004.2L192.7,981.1L196.2,960.3L200.8,953.4L203.1,928L204.3,948.8L207.7,958L211.2,958L214.7,934.9L216.3,921.1L216.5,958L215.8,1004.2L217,1038.9L218.8,1060.8L179.3,1060.8Z" fill="#20d5e1"/>
<path d="M238.9,1060.8L242.4,1036.6L244.7,1019.3L247.5,1015.8L250.5,1022.7L252.8,1038.9L255.1,1060.8Z" fill="#20d5e1"/>
<path d="M246.3,902.6L247.7,896.8L249.3,909.5L248.2,918.8L245.8,915.3Z" fill="#20d5e1"/>
<path d="M246.3,984.6L247.7,984.6L247.7,996.2L246.5,996.2Z" fill="#20d5e1"/>
<path d="M212.3,727L251.6,727L249.3,766.3L242.4,768.6L237.8,761.7L235.4,773.2L238.9,784.8L242.4,796.3L243.5,819.4L242.4,851.8L235.4,856.4L228.5,865.6L223.9,911.8L222.7,939.6L221.6,921.1L220.4,865.6L215.8,842.5L213.5,819.4L213.5,784.8Z" fill="#a0faa1"/>
<path d="M241.2,782.4L247,772.1L251.6,769.7L255.1,791.7L251.6,796.3L248.2,803.2L245.8,796.3L242.4,791.7Z" fill="#20d5e1"/>
<path d="M226.9,770.9L232,767.4L233.6,780.1L231.3,791.7L228.1,787.1Z" fill="#60fac5"/>
<path d="M222.7,750.1L229.7,747.8L235.4,757L234.3,766.3L229.7,769.7L223.9,767.4Z" fill="#e0d377"/>
<path d="M220.4,794L222,789.4L224.4,796.3L223.4,806.7L220.7,803.2Z" fill="#e0d377"/>
<path d="M221.8,727L223,727L222.7,757L222,757Z" fill="#ff8c49"/>
<path d="M256.2,727L317.7,727L317.7,911.8L311.7,907.2L307.1,893.3L303.6,886.4L300.1,911.8L296.7,958L294.4,988.1L290.4,1007.7L286.3,999.6L284,981.1L281.7,934.9L278.2,902.6L274.7,918.8L272.4,934.9L271.3,958L265.9,959.2L264.3,934.9L262,911.8L258.6,888.7L253.9,870.2L251.6,854.1L250.5,819.4L251.6,805.6L256.2,800.9L259.7,789.4L257.4,750.1Z" fill="#a0faa1"/>
<path d="M264.3,817.1L271.3,812.5L272.9,824L268.9,828.7L265,826.3Z" fill="#60fac5"/>
<path d="M260.9,727L268.9,727L268.9,761.7L267.3,767.4L263.2,773.2L261.3,750.1Z" fill="#e0d377"/>
<path d="M284,727L298.3,727L298.3,796.3L296.7,831L295.5,865.6L293.2,888.7L290.4,909.5L286.3,904.9L284,877.2L281.7,847.1L282.8,819.4L285.1,796.3Z" fill="#e0d377"/>
<path d="M258.6,821.7L260.2,819.4L260.9,837.9L259.7,847.1L258.1,837.9Z" fill="#e0d377"/>
<path d="M315.2,861L317.7,859.8L317.7,868.4L315.4,867.5Z" fill="#e0d377"/>
<path d="M252.5,727L254.4,727L254.2,761.7L253,761.7Z" fill="#208ef4"/>
<path d="M310.1,727L317.7,727L317.7,814.8L312.8,824L310.5,796.3Z" fill="#60fac5"/>
<path d="M305.9,727L310.1,727L309.4,796.3L308.2,819.4L306.6,796.3Z" fill="#20d5e1"/>
<path d="M307.1,727L308.9,727L308.5,791.7L307.5,791.7Z" fill="#208ef4"/>
<path d="M306.6,1060.8L308.5,1045.8L310.5,1060.8Z" fill="#20d5e1"/>
<rect x="316.7" y="728.2" width="137.6" height="330.8" fill="#a0faa1"/>
<path d="M316.3,727L454.7,727L454.7,874.9L451,877.2L448.7,911.8L446.4,940.7L441.8,930.3L437.1,918.8L433.7,923.4L431.4,958L430.2,1004.2L427.9,1060.8L411.7,1060.8L409.4,1027.3L405.9,1032L402.5,1036.6L401.3,1004.2L400.2,958L397.9,911.8L395.6,877.2L392.1,847.1L389.8,828.7L387.5,854.1L385.2,877.2L381.7,902.6L379.4,958L379.8,1004.2L377.5,1032L373.6,992.7L370.1,981.1L371.3,946.5L368.3,911.8L366.7,865.6L363.2,856.4L357.4,854.1L354,831L352.1,814.8L350.5,819.4L349.3,865.6L348.2,911.8L345.9,941.9L342.4,918.8L338.9,907.2L337.3,888.7L340.1,877.2L344.7,865.6L343.6,851.8L340.1,837.9L336.6,842.5L334.3,861L327.4,869.1L321.6,865.6L316.3,863.3Z" fill="#e0d377"/>
<path d="M333.6,727L335,727L335,780.1L333.9,780.1Z" fill="#a0faa1"/>
<path d="M433,837.9L435.3,840.2L435.8,858.7L446.4,859.8L446.4,863.3L433.4,863.3Z" fill="#a0faa1"/>
<path d="M433,877.2L437.1,879.5L436.7,888.7L433.4,889.9Z" fill="#a0faa1"/>
<path d="M320.5,895.7L322.1,895.7L322.1,907.2L320.7,907.2Z" fill="#e0d377"/>
<path d="M345.2,727L347,727L346.8,782.4L345.6,782.4Z" fill="#ff8c49"/>
<path d="M362.5,727L382.4,727L382.4,773.2L381.7,819.4L380.5,856.4L378.2,863.3L372,864.5L372.4,837.9L373.6,796.3L371.3,791.7L365.5,795.2L363.2,787.1L362.7,750.1Z" fill="#ff8c49"/>
<path d="M392.1,727L432.5,727L433.7,773.2L434.8,796.3L432.5,819.4L432.1,842.5L430.2,874.9L426.7,884.1L424.4,893.3L423.7,934.9L422.8,981.1L421,1012.3L419.1,981.1L417.5,946.5L416.3,911.8L414.5,893.3L412.9,902.6L410.6,925.7L407.6,932.6L404.8,923.4L403.6,907.2L405.9,902.6L408.3,893.3L404.8,877.2L401.3,854.1L399.7,831L397.9,796.3L396.7,761.7L393.2,750.1Z" fill="#ff8c49"/>
<path d="M437.1,727L454.7,727L454.7,781.3L449.8,781.3L445.2,773.2L440.6,761.7L437.6,745.5Z" fill="#ff8c49"/>
<path d="M419.8,731.6L423.3,728.8L427.4,727L427.9,761.7L425.6,764L423.7,740.9L420.5,738.6Z" fill="#ff2f18"/>
<path d="M402,806.7L403.6,806.7L403.6,814.8L402.3,814.8Z" fill="#ff2f18"/>
<path d="M426,796.3L427.4,796.3L427.4,805.6L426.3,805.6Z" fill="#ff2f18"/>
<path d="M426,819.4L427.4,819.4L427.4,828.7L426.3,828.7Z" fill="#ff2f18"/>
<path d="M316.3,971.9L321.6,981.1L326.2,1008.9L329.7,992.7L333.2,976.5L335.5,1004.2L338.9,1034.3L345.9,1041.2L351.7,999.6L358.6,993.8L359.7,1015.8L363.2,1034.3L371.3,1038.9L372.4,1060.8L316.3,1060.8Z" fill="#60fac5"/>
<path d="M327.4,949.9L329,948.8L329.7,958L328.1,959.2Z" fill="#60fac5"/>
<path d="M386.3,1060.8L387.5,1038.9L389.8,1020.4L393.2,1027.3L395.6,1038.9L396.7,1060.8Z" fill="#60fac5"/>
<path d="M322.8,1032L326.2,1027.3L329.7,1032L330.9,1060.8L323.5,1060.8Z" fill="#20d5e1"/>
<path d="M325.8,1034.3L328.1,1034.3L328.6,1060.8L325.8,1060.8Z" fill="#208ef4"/>
<rect x="453.7" y="728.2" width="137.6" height="330.8" fill="#60fac5"/>
<path d="M453.3,727L511.8,727L512.9,750.1L516.4,782.4L523.3,780.1L530.2,784.8L533.7,796.3L534.9,819.4L533.7,865.6L531.4,888.7L529.1,911.8L525.6,934.9L523.3,958L520.5,970.7L519.4,948.8L523.3,911.8L522.6,877.2L521,852.9L518.7,861L515.2,888.7L510.6,916.4L507.1,931.5L503.7,911.8L501.4,896.8L495.6,892.2L489.8,896.8L486.3,911.8L485.2,946.5L484,981.1L477.1,999.6L475.3,981.1L478.3,934.9L475.9,929.2L469,946.5L467.4,981.1L465.6,1060.8L453.3,1060.8Z" fill="#a0faa1"/>
<path d="M556.8,837.9L562.6,835.6L569.5,837.9L575.3,840.2L577.6,865.6L576.4,911.8L571.8,934.9L568.4,946.5L564.9,969.6L562.6,985.8L560.7,958L558,934.9L555.7,888.7L555.2,854.1Z" fill="#a0faa1"/>
<path d="M568.8,761.7L570.7,761.7L570.7,780.1L569.1,780.1Z" fill="#a0faa1"/>
<path d="M494.4,925.7L496.7,923.4L497.9,934.9L496.7,981.1L495.6,1015.8L494.4,981.1L493.7,946.5Z" fill="#a0faa1"/>
<path d="M485.2,727L499.7,727L499.7,761.7L493.3,773.2L488.7,775.5L485.2,754.7Z" fill="#60fac5"/>
<path d="M453.3,727L484,727L483.6,750.1L482.9,782.4L481.7,800.9L477.1,794L474.8,777.8L470.2,773.2L467.9,796.3L465.6,842.5L465.1,896.8L459.8,893.3L453.3,886.4Z" fill="#e0d377"/>
<path d="M499.7,727L503.7,727L503.2,784.8L505.3,794L502.5,802.1L498.4,796.3L497.9,791.7L500.2,784.8Z" fill="#e0d377"/>
<path d="M510.6,802.1L515.2,800.5L517.5,806.7L514.5,814.8L511.3,810.2Z" fill="#e0d377"/>
<path d="M494.9,815.9L496.7,814.8L497.4,824L495.6,829.8Z" fill="#e0d377"/>
<path d="M513.4,820.6L514.5,820.6L514.5,827.5L513.6,827.5Z" fill="#e0d377"/>
<path d="M453.3,727L468.3,727L467.9,750.1L465.6,768.6L460.9,779L456.3,782.4L453.3,781.3Z" fill="#ff8c49"/>
<path d="M531.4,727L555.7,727L554.5,773.2L552.2,819.4L549.9,842.5L548.7,888.7L549.9,958L548.7,1004.2L551,1027.3L554.5,1060.8L534.9,1060.8L536,1027.3L538.3,992.7L537.2,958L536,911.8L534.9,865.6L535.3,819.4L533.7,796.3L532.6,761.7Z" fill="#20d5e1"/>
<path d="M534.4,727L553.3,727L552.2,773.2L549.9,814.8L547.6,831L546.4,865.6L544.1,871.4L540.6,865.6L538.3,831L537.2,796.3L535.3,761.7Z" fill="#208ef4"/>
<path d="M543.6,886.4L544.8,881.8L545.5,895.7L544.3,902.6Z" fill="#208ef4"/>
<path d="M538.3,727L551.7,727L551,761.7L548.7,784.8L546.4,796.3L546,812.5L541.8,818.3L539,817.1L539.9,796.3L539,761.7Z" fill="#6032fe"/>
<path d="M578.8,727L583.4,727L583.4,1060.8L575.3,1060.8L577.6,1027.3L579.5,958L580.6,865.6L579.9,796.3Z" fill="#20d5e1"/>
<path d="M580.6,727L583.4,727L583.4,819.4L581.5,796.3Z" fill="#208ef4"/>
<polyline points="43,740.5 44,739.9 45.4,745.5 46.6,748.5 48.4,782.5 61,808.9 66.6,803.1 73,801.5 79.6,817.5 85.6,811.9 92.4,822.1 98.6,808.9 104.4,877.1 111,811.5 117,835.5 123,789.9 129.4,807.1 135.4,756.1 141,873.5 148,923.5 154.4,764.1 160.6,743.5 173,815.1 180,778.5 185,780.9 191.6,743.9 198,739.1 204,767.1 210,738.5 216.4,769.5 222,764.1 228.6,746.9 248,767.1 254,765.9 260,789.9 266,769.5 272,809.1 278.4,729.9 285,795.5 291,823.9 297,814.5 303,799.5 310,818.5 315,818.9 317,822.5 321.4,837.5 328,869.5 334.4,861.1 340.6,788.9 346.6,786.9 353,800.1 359,751.1 365.4,775.1 371.6,750.5 378,767.5 384,757.9 396.4,752.5 402.6,744.1 408.6,753.5 415,791.9 421,741.1 427.4,768.9 434,761.5 439.6,745.1 446,773.1 451.4,775.5 458.4,775.1 464.6,742.1 470.6,740.1 477,753.5 483.2,780.9 489.4,737.9 495.4,762.5 501.6,744.5 508,775.9 514,790.9 520.4,751.1 526.4,775.5 532.6,760.5 539,768.5 545.2,793.5 551.4,781.5 557.6,756.5 563.8,837.9 570,822.9 576,823.1 582.6,818.1" fill="none" stroke="#000" stroke-width="1.9" stroke-linejoin="round"/>
</g>
<rect x="43.0" y="728.2" width="539.6" height="330.8" fill="none" stroke="#000" stroke-width="0.8"/>
<g clip-path="url(#cpd)" shape-rendering="geometricPrecision">
<rect x="43.0" y="1089.6" width="539.6" height="330.8" fill="#8000ff"/>
<path d="M582,1420.2L334.5,1420.2L327,1420.5L319.5,1420.2L43,1420.2L42.9,1199.6L42.6,1191.1L42.9,1182.1L42.6,1167.6L42.9,1113.1L43,1111.8L48,1111.7L48.5,1111.6L49,1111.1L48.5,1110.6L48,1110.5L43,1110.4L42.9,1089.6L80,1089.4L139.5,1089.5L147,1089.2L157,1089.5L170,1089.5L176.5,1089.2L185,1089.4L191,1089.2L199,1089.5L247.5,1089.5L253,1089.3L259.5,1089.5L363.5,1089.5L371,1089.2L378,1089.5L389.5,1089.2L396,1089.5L443.5,1089.5L449,1089.2L458.5,1089.2L489,1089.2L497,1089.5L582,1089.5L582,1104.9L577,1105.1L576.2,1105.6L575.5,1106.5L575,1106.7L572.5,1105.7L571,1105.7L570.1,1106.1L571.5,1107.4L573,1107.6L575,1107.4L578.5,1107.5L580.5,1106.6L582,1106.3L582,1132.4L579.9,1132.6L579.3,1133.1L578.6,1134.1L577.7,1134.6L577.7,1135.1L579.4,1135.6L582,1135.6L582,1151.1L582,1151.4L578,1151.6L577.5,1152.1L578,1152.6L582,1152.8L582,1153.1L582,1165.4L579,1165.4L578.3,1165.6L577.7,1166.1L577.7,1166.6L578.5,1167.2L582,1167.3L582,1188.1L582,1188.4L571,1188.4L570,1188.6L569.5,1189.1L570,1189.6L571,1189.7L582,1189.8L582.1,1190.6L582,1199.1L582.3,1204.6L582.1,1216.1ZM58,1094.6L58.5,1094.1L58,1093.6L57.5,1093.5L55.5,1093.6L55,1094.1L55.5,1094.6L56,1094.7ZM336.5,1094.6L337,1094.1L336.5,1093.6L335.5,1093.5L328.5,1093.5L327.5,1093.6L327,1094.1L327.5,1094.6L328.5,1094.7ZM134.6,1100.1L135.2,1099.6L135.4,1097.1L133.5,1095.4L132,1094.9L125.5,1095L123,1096.2L119.5,1096.6L116.9,1098.1L116.5,1098.6L117,1099.1L117.5,1099.2L121.5,1099.3L122.5,1099.1L124.5,1098L128.5,1097.7L129.6,1098.1L129.9,1098.6L129.9,1099.6L130.5,1100.1L132.5,1100.3ZM186.9,1095.6L186.5,1095.1L185.5,1095.1L185.9,1095.6ZM266.5,1101.6L267,1101L266.5,1100.4L265.8,1100.1L265.6,1099.6L266.5,1099L267.5,1097.6L269,1097.3L274,1097.2L274.5,1097.1L275,1096.6L274.5,1096.1L274,1096L267,1095.9L263.5,1095L259.5,1095L259,1095.1L258.5,1095.6L259,1096.1L259.5,1096.2L263,1096.4L264,1096.7L264.4,1097.1L264.1,1097.6L260.5,1097.9L259.9,1098.1L259.5,1098.6L260,1099.1L262.5,1099.8L262.8,1100.1L262.1,1100.6L262,1101.1L262.5,1101.6L264.5,1101.8ZM535.2,1099.1L542.5,1098.7L543,1098.6L543.5,1098.1L543,1097.6L539.2,1097.1L538.7,1096.6L539.4,1096.1L539.5,1095.6L539,1095.1L532.5,1095L531.5,1095.1L531,1095.6L531.5,1096.1L532,1096.2L536.5,1096.6L536.9,1097.1L533.8,1098.6L534.5,1099ZM214.1,1097.1L215.3,1096.6L214.9,1096.1L214,1096L207.5,1095.9L204.5,1096L204,1096.1L203.5,1096.6L204,1097.1L205,1097.2ZM285,1097.1L285.5,1096.6L285,1096.1L284,1096L280,1096L279.5,1096.1L279,1096.6L279.5,1097.1L280.5,1097.3ZM467.5,1097.6L468,1097.1L467.5,1096.6L466.5,1096.5L463,1096.5L462.5,1096.6L462,1097.1L462.5,1097.6L463,1097.7ZM527.1,1097.6L527.5,1097.1L527,1096.6L526,1096.5L520.5,1096.5L520,1096.6L519.5,1097.1L520,1097.6L521,1097.7ZM432.9,1101.6L434.5,1100.6L436.5,1099.9L436.7,1099.6L436.7,1098.1L437.1,1097.6L435.5,1097.1L430.5,1096.9L429,1097.1L427.5,1098.1L427.6,1098.6L428.3,1099.6L428,1100.1L426.4,1100.6L426,1101.1L426.5,1101.6L427.5,1101.7L431.5,1101.8ZM96.8,1100.1L97.2,1099.6L96.7,1099.1L95.5,1098.2L94.5,1097.9L92,1098L88.1,1099.1L88.1,1099.6L90.5,1100.3L94.5,1100.3ZM314.5,1099.1L315,1098.5L314.5,1098.1L313.5,1098L307.5,1098L307,1098.1L306.5,1098.6L307,1099.1L308,1099.2ZM320.5,1099.1L321,1098.6L320.5,1098.1L318.5,1098.1L317.9,1098.6L318.5,1099.1ZM242.7,1101.1L244.5,1100L248,1099.6L248.5,1099.1L248,1098.6L247.5,1098.5L244,1098.5L242,1099.7L240.5,1100.1L240,1100.6L240.5,1101.1L241,1101.2ZM281,1100.1L281.5,1099.6L281,1099.1L280,1098.9L277,1099L276.5,1099.1L276,1099.6L276.5,1100.1L277,1100.2ZM339.2,1100.1L339.6,1099.6L339,1099.1L337.6,1099.1L337,1099.6L337.5,1100.4L338.5,1100.4ZM192.5,1102.1L194.4,1101.1L195,1100.6L195.1,1100.1L192,1100L191,1100.5L189.5,1101.6L190.1,1102.1ZM227.5,1101.1L228,1100.6L227.5,1100.1L225.5,1100.1L225,1100.6L225.5,1101.1ZM104.1,1101.6L104.5,1101.1L104,1100.6L103.5,1100.5L100,1100.5L99.4,1100.6L99.3,1101.1L99.9,1101.6L100.5,1101.8L103,1101.8ZM485.7,1103.1L487.4,1102.6L486.8,1102.1L486.2,1101.1L485.5,1100.6L479,1100.5L478,1100.6L477.5,1101.1L478,1101.6L481.5,1101.9L484,1103ZM181.4,1103.1L182.2,1102.6L183.1,1101.6L182.5,1101.1L180.5,1100.9L177,1101L173.5,1102.1L173,1102.6L173.5,1103.1L174.5,1103.3L179.5,1103.3ZM338.5,1104.6L339.1,1104.1L339.1,1103.6L338.8,1102.1L338,1101.2L332,1101.5L331.5,1101.6L331,1102.1L331.5,1102.6L333.5,1103.1L335,1104.6L337,1104.8ZM54.5,1103.1L55,1102.6L54.5,1102.1L53.5,1102L48,1102L47.5,1102.1L47,1102.6L47.5,1103.1L48.5,1103.2ZM376,1103.1L376.5,1102.6L376,1102.1L375.5,1102L373,1102L372.5,1102.1L372,1102.6L372.5,1103.1L373,1103.2ZM407.5,1103.1L408,1102.6L407.5,1102.1L407,1102L403.8,1102.1L401.8,1102.6L402.4,1103.1L403,1103.2ZM144.1,1109.1L144.6,1108.6L143.6,1107.1L143.9,1106.6L145,1106.4L150,1106.2L150.9,1105.6L151.2,1104.6L152,1104L155.5,1103.7L156.2,1103.1L155.7,1102.6L155,1102.5L149.5,1102.5L145.5,1104.7L141.9,1105.1L140.3,1106.6L135,1106.9L134.3,1107.1L133.8,1107.6L134.5,1108.7L136,1109.3L142,1109.3ZM308.5,1104.1L309,1103.6L308.5,1103.1L308,1103L304.5,1103L304,1103.1L303.5,1103.6L304,1104.1L304.5,1104.2ZM420,1104.6L420.5,1104.1L420,1103.6L419,1103.5L412.5,1103.5L411.5,1103.6L411,1104.1L411.5,1104.6L412.5,1104.7ZM552.5,1105.1L553,1104.6L552.5,1104.1L551.5,1104L545.5,1104L544.5,1104.1L544,1104.6L544.5,1105.1L545.5,1105.2ZM329,1106.1L329.5,1105.6L329,1105.1L328.5,1105L321.5,1104.4L320,1104.6L319.5,1105.1L320,1105.6L323.5,1106.3ZM473,1107.6L473.5,1107.1L473,1106.6L469.5,1105.5L466.5,1105.4L465.8,1105.6L465.2,1106.1L465.4,1107.1L466.5,1107.7L470,1107.8ZM252,1106.1L249.8,1106.1L251,1106.3ZM497.4,1109.6L498,1109.1L497,1108.2L496.5,1107.1L495.8,1106.6L495,1106.4L491,1106.5L487.9,1107.6L487.4,1108.1L488,1108.9L489,1109.4L490.5,1109.4L493,1109L496,1109.7ZM257.5,1108.6L258,1108.1L257.5,1107.6L252,1106.9L251,1106.9L250,1107.3L249.4,1108.1L250,1108.6L251,1108.7ZM436.4,1108.1L437,1107.6L436.5,1107.1L436,1107L432.5,1107L432,1107.1L431.5,1107.6L432,1108.1L432.5,1108.2ZM460.5,1108.1L461,1107.6L460.5,1107.1L460,1107L458,1107.1L457.5,1107.6L458,1108.1L458.5,1108.2ZM512.6,1108.6L513,1108.1L512.5,1107.6L511.5,1107.5L504.5,1107.5L503.5,1107.6L502.8,1108.1L502.9,1108.6L504,1108.7L511,1108.8ZM103.5,1109.1L104,1108.6L103.5,1108.1L101.5,1108.1L101,1108.6L101.5,1109.1ZM63,1109.6L63.5,1109.1L63,1108.6L62.5,1108.5L60.5,1108.6L60,1109.1L60.5,1109.6L61,1109.7ZM321.4,1111.1L323.5,1109.9L327,1109.7L327.5,1109.6L328,1109.1L327.5,1108.6L326.5,1108.4L320,1108.4L319,1108.6L317,1109.8L315.5,1110.1L315,1110.6L315.5,1111.1L316.5,1111.2L320,1111.3ZM359,1110.1L359.5,1109.6L359,1109.1L358,1109L350.5,1109.1L348,1108.5L341,1108.4L339,1108.6L338.5,1109.1L339,1109.6L340,1109.7L349.5,1109.6L352.5,1110.2ZM570,1110.6L570.5,1110.1L570,1109.6L568,1109.6L567.5,1110.1L568,1110.6ZM490.8,1110.6L491,1110.1L490.5,1109.9L489.5,1109.8L487.6,1110.1L489.1,1110.6ZM220,1111.6L220.5,1111.1L220,1110.6L219.5,1110.5L217.5,1110.6L215.9,1111.1L216.5,1111.6ZM236.5,1111.6L237,1111L236.5,1110.6L235.5,1110.5L229,1110.5L228,1110.6L227.5,1111.1L228.2,1111.6L229,1111.7ZM248,1111.6L248.5,1111.1L248,1110.6L247,1110.5L241,1110.5L240.5,1110.6L239.9,1111.1L240.5,1111.6L241.5,1111.7ZM419.2,1111.6L419.6,1111.1L418.6,1110.6L417.5,1110.5L413,1110.5L412.7,1110.6L412.4,1111.1L413.5,1111.6ZM462.8,1112.6L466.4,1111.6L464,1110.6L462.5,1110.4L455,1110.5L454,1110.6L453.5,1111.1L454,1111.6L457,1111.9L459.5,1112.7L461.5,1112.8ZM538.3,1112.6L537.6,1112.1L537.2,1111.1L536.5,1110.6L534.5,1110.6L534,1111.1L534.4,1111.6L537,1112.7ZM63.5,1113.1L64,1112.6L63.5,1112.1L62.5,1111.9L56.5,1112L56,1112.1L55.5,1112.6L56,1113.1L57,1113.2ZM106.3,1115.1L106.9,1114.6L106.9,1113.6L106.3,1113.1L105.5,1112.9L98.5,1112.9L97.3,1113.1L96.8,1113.6L96.8,1114.1L97.2,1114.6L98.5,1115.2L104.5,1115.3ZM126.1,1117.1L126.7,1116.6L127.1,1114.6L126.5,1114.1L126,1114L123.9,1114.1L122.5,1115.6L120.5,1116.1L120,1116.6L120.5,1117.1L121.5,1117.2ZM151.5,1115.1L152,1114.6L151.5,1114.1L150.5,1114L147.5,1114L145.7,1114.6L146.1,1115.1L147,1115.2ZM305,1115.1L305.5,1114.6L305,1114.1L304.5,1114L301.5,1114L301,1114.1L300.5,1114.6L301,1115.1L301.5,1115.2ZM392,1116.1L392.1,1115.6L391.7,1114.6L390.5,1114L383.5,1114L382.6,1114.1L382.1,1114.6L383,1114.9L388.5,1114.9L390,1115.4L391,1116.3ZM211.6,1115.6L212,1115.1L211.5,1114.6L210.5,1114.5L204.5,1114.5L203.6,1114.6L203.2,1115.1L203.8,1115.6L204.5,1115.7L210,1115.8ZM334.4,1117.1L336.4,1115.6L336.6,1115.1L336.1,1114.6L334,1114.4L327.5,1114.4L324,1114.9L319.5,1115L319,1115.1L318.4,1115.6L318.8,1116.1L319.5,1116.2L327,1116.4L330.5,1117.3L333,1117.3ZM278.9,1116.1L279.5,1115.6L278.9,1115.1L277.6,1115.1L277,1115.6L277.6,1116.1ZM56.1,1118.6L58,1118.1L58.5,1117.6L58,1117.1L54,1116.5L50,1116.6L48.6,1117.1L50,1118.1L51,1118.5L54.5,1118.8ZM268,1117.6L268.5,1117.1L268,1116.6L267.5,1116.5L264,1116.6L263.4,1117.1L265.5,1117.7ZM365,1117.6L365.5,1117.1L365,1116.6L364,1116.5L358,1116.5L357.5,1116.6L357,1117.1L357.5,1117.6L358.5,1117.7ZM511.9,1119.1L514.2,1117.6L514.5,1117.1L514,1116.6L513.5,1116.5L509,1116.4L506.5,1116.5L505.9,1116.6L505.4,1117.1L505.6,1117.6L507.6,1119.1L509.5,1119.3ZM86,1118.1L86.5,1117.6L86,1117.1L85,1117L78.5,1117L77.5,1117.1L77,1117.6L77.5,1118.1L78.5,1118.2ZM540,1118.1L540.5,1117.6L540,1117.1L538,1117.1L537.5,1117.6L538,1118.1ZM571,1118.1L571.5,1117.6L571,1117.1L570,1117L564,1117L563,1117.1L562.5,1117.6L563,1118.1L564,1118.2ZM191.7,1118.6L192.2,1118.1L192,1117.5L191,1117.2L190,1117.6L189.9,1118.1L190.4,1118.6ZM211.5,1118.6L212,1118.1L211.6,1117.6L211,1117.4L209.5,1117.6L209,1118.1L209.5,1118.6L210,1118.7ZM483.1,1118.6L483.5,1118.1L483,1117.6L480.4,1117.6L480.3,1118.1L481,1118.6ZM554.1,1119.6L556,1118.9L558.5,1118.6L559,1118.1L558.5,1117.6L558,1117.5L553.5,1117.4L550,1118.4L545,1118.5L544.5,1118.6L544,1119.1L544.5,1119.6L545.5,1119.7L552.5,1119.8ZM416.4,1120.1L417.1,1119.6L416,1118L414,1117.8L410.2,1118.1L410.5,1118.6L413,1119.2L413.8,1120.1L414.5,1120.5ZM433,1120.1L435.7,1119.6L435.7,1119.1L434.5,1118.6L432.5,1118.4L430.5,1118.6L430,1119.1L430.3,1119.6L431,1120L432,1120.3ZM408.4,1121.1L409.6,1120.6L408,1120.3L405.5,1119L402.5,1118.9L401.8,1119.1L401.4,1119.6L401.7,1120.1L404,1121.2ZM494.1,1120.6L496,1120.3L502,1120.2L502.5,1120.1L503,1119.6L502.5,1119.1L501.5,1119L490.5,1118.9L489,1119.1L487.1,1120.1L487.6,1120.6L489,1120.8L492,1120.8ZM249.8,1122.6L250.1,1121.6L249.5,1120L248.5,1119.6L246.5,1119.6L245.5,1120.1L245.7,1120.6L245.8,1122.1L246.3,1122.6L249,1122.8ZM279,1120.6L279.5,1120.1L279,1119.6L278,1119.5L271.5,1119.5L270.5,1119.6L270,1120.1L270.5,1120.6L271.5,1120.7ZM104.5,1121.1L105,1120.6L104.5,1120.1L104,1120L101,1120L100.5,1120.1L100,1120.6L100.5,1121.1L101,1121.2ZM144,1121.1L144.5,1120.6L144,1120.1L143,1120L139,1120L138.5,1120.1L138,1120.6L138.5,1121.1L139.5,1121.2ZM77.1,1122.1L77.6,1121.6L77.5,1121.1L76.9,1120.6L76,1120.4L74,1120.6L72.1,1121.6L72.6,1122.1L74,1122.3ZM294.7,1124.1L295.7,1123.6L295.6,1123.1L294.6,1122.6L295.5,1122.1L297,1122.4L297.3,1122.6L297.3,1123.1L298.5,1123.5L302,1123.6L303.5,1123.5L304,1123.1L304.5,1121.9L305.5,1121.1L304.9,1120.6L303,1120.4L290.5,1120.5L290,1120.6L289.5,1121.1L289.6,1121.6L290.3,1122.1L289.8,1122.6L286,1123L285.5,1123.1L285,1123.6L285.5,1124.1L286.5,1124.2ZM216.1,1122.1L216,1121.5L215.4,1121.1L214.5,1121L211.5,1121L211,1121.1L210.5,1121.6L211.3,1122.1L212,1122.2ZM566.1,1123.1L567.6,1122.6L567,1122.1L564.5,1121.8L561.5,1120.9L556.5,1121L555.5,1121.4L555.1,1122.1L555.6,1122.6L556.5,1122.8L560,1122.9L563,1123.3ZM62.7,1123.6L63.1,1123.1L62.9,1122.6L61,1121.9L54.5,1121.9L53.4,1122.1L52.9,1122.6L53.1,1123.1L53.5,1123.4L55,1123.8L61,1123.9ZM131,1123.1L131.5,1122.6L131,1122.1L130.5,1122L127,1122L126.5,1122.1L126,1122.6L126.5,1123.1L127,1123.2ZM157.1,1125.1L158.5,1123.6L159,1123.4L162.5,1123.3L163.2,1123.1L161,1122L157.5,1122L154,1122.6L152,1123.6L149.5,1124.1L149,1124.6L149.5,1125.1L150.5,1125.2ZM384.1,1123.6L384.2,1123.1L384,1122.4L383,1121.9L378,1122L377.7,1122.1L377.3,1122.6L380.5,1122.9L383,1124L383.5,1124ZM481.4,1123.1L482,1122.6L481.3,1122.1L480.5,1122.1L479.7,1122.6L480.2,1123.1ZM540.5,1124.6L542.4,1123.6L541.9,1123.1L540,1122.9L538.5,1123.1L537.8,1123.6L537.8,1124.1L538.3,1124.6L539.5,1124.8ZM194.5,1124.6L194.7,1124.1L194.5,1123.8L193,1123.2L191.5,1123.3L191,1124.1L191.5,1124.6L192,1124.7ZM352,1127.1L358.5,1126.7L359,1126.6L359.5,1126.1L359,1125.6L358.5,1125.5L352.5,1125.4L348,1124.8L346,1123.7L345,1123.4L342,1123.6L341.4,1124.1L342,1124.6L343.5,1125.1L345.5,1126.2L348.5,1126.4L351,1127.2ZM324.7,1125.6L325,1125L324.5,1124.6L323.5,1124.5L316,1124.5L315,1124.6L314.5,1125.1L315,1125.6L316,1125.8ZM216.8,1126.1L217.7,1125.6L217.8,1125.1L215,1125L214.3,1125.1L214,1125.6L215,1126.2ZM66,1126.6L66.5,1126.1L66,1125.6L65,1125.4L60,1125.4L59,1125.6L58.5,1126.1L59,1126.6L60,1126.7ZM83.5,1126.6L84,1126.1L83.3,1125.6L82.5,1125.5L77,1125.5L76,1125.6L75.5,1126.1L76,1126.6L77,1126.7ZM374.1,1125.6L373.5,1125.4L373.3,1125.6ZM304.5,1127.1L305,1126.6L304.5,1126.1L304,1126L300.5,1126L300,1126.1L299.5,1126.6L300,1127.1L300.5,1127.2ZM334.5,1127.6L335,1127.1L334.5,1126.6L333.5,1126.5L327.5,1126.5L326.8,1126.6L326.4,1127.1L327,1127.6L328,1127.7ZM569,1127.6L569.5,1127.1L569,1126.6L568.5,1126.5L566.5,1126.6L566,1127.1L566.5,1127.6L567,1127.7ZM163.5,1128.6L164,1128.1L163.5,1127.6L163,1127.5L159,1127.5L158.5,1127.6L158,1128.1L158.5,1128.6L159,1128.7ZM295,1128.6L295.5,1128.1L295,1127.6L294,1127.5L288,1127.5L287.5,1127.6L287,1128.1L287.5,1128.6L288.5,1128.7ZM139.5,1130.1L140,1129.6L139.5,1129.1L139,1129L136,1129L135.5,1129.1L135,1129.6L135.5,1130.1L136,1130.2ZM526.5,1132.1L527,1131.6L526.5,1131.1L524,1130.8L522,1129.6L521,1129.4L515,1129.4L510,1130L509.5,1130.1L509,1130.6L509.5,1131.1L510,1131.2L515.5,1131.4L518,1132.3ZM70,1131.1L70.5,1130.6L70,1130.1L69,1130L63.5,1130L63,1130.1L62.5,1130.6L63,1131.1L64,1131.2ZM152.6,1131.1L152.9,1130.6L151.5,1130L150.1,1130.1L149.5,1130.6L150,1131.1L150.5,1131.2ZM99,1131.6L99.5,1131.1L99,1130.6L98,1130.5L90.5,1130.5L89.5,1130.6L89,1131.1L89.5,1131.6L90.5,1131.7ZM502.1,1132.6L502.3,1131.6L502,1130.9L501,1130.5L499.5,1130.6L499.2,1131.1L499.2,1131.6L499.5,1132.6L500,1133L501,1133.1ZM123.4,1132.6L124,1132.1L123.4,1131.6L122.1,1131.6L121.5,1132.1L122.1,1132.6ZM182.5,1132.6L183,1132.1L182.5,1131.6L181.5,1131.5L174,1131.5L173,1131.6L172.5,1132.1L173,1132.6L174,1132.7ZM305.2,1134.6L306,1134.2L306.4,1133.6L306.3,1133.1L305.5,1132.5L299,1132.4L297.8,1132.6L297.2,1133.1L297.2,1133.6L298,1134.2L301.5,1134.4L304,1134.9ZM487,1134.1L488.3,1133.6L488.5,1133L488,1132.6L487.5,1132.5L483.5,1132.4L482.5,1132.6L482,1133.6L482.4,1134.1L483,1134.3ZM556,1134.6L556.5,1134.1L556,1133.6L555,1133.5L548.5,1133.5L547.5,1133.6L547,1134.1L547.5,1134.6L548.5,1134.8ZM350.6,1136.1L351,1135.6L350.5,1135.1L349.5,1135L344,1135L343.5,1135.1L343,1135.6L343.5,1136.1L344.5,1136.3L349,1136.3ZM103,1137.1L103.5,1136.6L103,1136.1L102,1136L97.5,1136L97,1136.1L96.5,1136.6L97,1137.1L98,1137.2ZM316.6,1138.1L317.2,1137.6L318,1136.3L318.4,1136.1L317,1135.8L314.5,1136.8L310,1137L309.5,1137.1L309,1137.6L309.5,1138.1L310.5,1138.2ZM528,1137.6L528.5,1137.1L528,1136.6L527,1136.5L522.5,1136.5L522,1136.6L521.5,1137.1L522,1137.6L523,1137.7ZM576,1139.6L576.5,1139.1L576,1138.6L572,1138.3L569.5,1137L564.5,1136.4L563.4,1136.6L562.8,1137.1L562.9,1137.6L563.5,1138L567,1139.7L569.5,1139.8ZM551.5,1138.1L552,1137.6L551.5,1137.1L550.5,1136.9L544,1137L543,1137.1L542.5,1137.6L543,1138.1L544,1138.2ZM69,1140.1L69.5,1139.6L69,1139.1L63,1138.3L60.5,1137.5L52.5,1137.5L51.5,1137.6L51,1138.1L51.5,1138.6L52,1138.7L58,1138.9L60.5,1139.9L62,1140.3ZM198.4,1138.6L198.9,1138.1L198.5,1137.6L198,1137.4L197,1137.6L196.5,1138.1L197.1,1138.6ZM350.6,1139.1L351,1138.5L350.5,1138.1L349.5,1137.9L347,1137.9L346.4,1138.1L346,1138.6L346.5,1139.1L347,1139.2ZM360,1142.1L360.6,1141.6L360.2,1140.1L360.6,1139.6L362.5,1139.1L362.8,1138.6L362.5,1138.2L360.5,1137.9L355,1138.2L354.3,1138.6L353.5,1140.2L351.4,1141.1L351,1141.6L351.6,1142.1L352.5,1142.2L358.5,1142.3ZM500.9,1139.6L501,1139.1L500.4,1138.6L499.1,1138.6L498.5,1139.1L498.6,1139.6L499.5,1140.1L500.5,1139.9ZM88.6,1141.6L92.5,1141.1L93.5,1140.6L94,1140.1L94.1,1139.6L93.5,1139.1L92,1139L89,1139.9L84,1140.4L80,1140.4L79.4,1140.6L79,1141.1L79.5,1141.6L80.5,1141.7L86.5,1141.8ZM269,1141.1L269.5,1140.6L269,1140.1L268.5,1140L266,1140L265.5,1140.1L265,1140.6L265.5,1141.1L266,1141.2ZM306.5,1141.6L307,1141.1L306.5,1140.6L305.5,1140.5L300,1140.5L299.5,1140.6L299,1141.1L299.5,1141.6L300.5,1141.7ZM117.5,1142.1L118,1141.6L117.5,1141.1L116.5,1141L112.5,1141L112,1141.1L111.5,1141.6L112,1142.1L113,1142.2ZM559,1142.1L559.5,1141.6L559,1141.1L558.5,1141L556,1141L555.5,1141.1L555,1141.6L555.5,1142.1L556,1142.2ZM129.9,1146.6L129.2,1146.1L128.5,1144.9L127,1144.4L119.5,1144.4L118.5,1144.6L116.7,1145.6L117.2,1146.1L119,1146.3L122.5,1146.3L125.5,1146L128,1147L129,1147ZM173.5,1146.1L174,1145.6L173.5,1145.1L172.5,1145L166.5,1145L166,1145.1L165.5,1145.6L166,1146.1L167,1146.2ZM324.6,1147.6L326.5,1146.9L329.5,1146.7L330,1146.3L330,1145.6L329,1145L324.5,1144.9L323,1145.4L321.5,1146.6L321.4,1147.1L322,1147.6L323.5,1147.8ZM96,1147.1L96.5,1146.6L96,1146.1L95.5,1146L93.5,1146.1L93,1146.6L93.5,1147.1L94,1147.2ZM520.4,1147.1L521,1146.6L520.4,1146.1L519.1,1146.1L518.5,1146.6L519.1,1147.1ZM538.5,1148.6L539,1148.1L538.5,1147.6L537.5,1147.5L533.5,1147.5L533,1147.6L532.5,1148.1L533,1148.6L534,1148.7ZM113.8,1150.1L114.5,1149.6L114.6,1149.1L114.1,1148.6L113,1148.4L109.5,1148.6L108.2,1149.1L107.9,1149.6L108.4,1150.1L109.5,1150.3L112.5,1150.3ZM559.6,1151.1L560.2,1150.6L560.5,1149.1L559.5,1148.6L557.5,1148.6L556.5,1148.8L556,1149.2L555.4,1150.1L555.4,1150.6L556,1151.1L558,1151.3ZM314,1151.6L314.5,1151.1L314.1,1150.6L310.5,1149.4L308,1149.5L305.6,1150.6L306.1,1151.1L309.5,1151.7L312,1151.8ZM227.2,1151.1L227.4,1150.6L226.5,1150L224.5,1150L224,1150.1L223.5,1150.6L223.9,1151.1L224.5,1151.2ZM343.7,1150.6L343.9,1150.1L343.2,1150.1L343.4,1150.6ZM79,1152.1L79.5,1151.6L79,1151.1L78.5,1151L76.5,1151L76,1151.1L75.5,1151.6L76,1152.1L76.5,1152.2ZM139,1153.1L139.5,1152.6L139,1152.1L138,1152L132,1152L131.5,1152.1L131,1152.6L131.5,1153.1L132.5,1153.2ZM262.8,1154.6L263.4,1154.1L263.5,1153.6L263,1152.9L262,1152.5L260,1152.6L257.2,1153.6L257.5,1154.1L259.5,1154.7L261.5,1154.8ZM296.2,1157.1L297.5,1156.6L297.4,1155.6L297,1154.9L296,1154.5L292.6,1154.1L291,1152.6L284.5,1152.5L283.5,1152.6L283,1153.1L283.5,1153.6L285.9,1154.1L287.3,1155.6L290,1156.9L291.5,1157.1ZM327,1153.6L327.5,1153.1L327,1152.6L326.5,1152.5L323,1152.5L322.5,1152.6L322,1153.1L322.5,1153.6L323,1153.7ZM223.1,1153.6L223.3,1153.1L221.5,1153L219.6,1153.1L219.1,1153.6L220,1153.8ZM526.6,1154.1L527,1153.6L526.5,1153.1L525.5,1153L520,1153L519.5,1153.1L519.2,1153.6L519.9,1154.1L521,1154.3L525,1154.3ZM100.5,1155.1L101,1154.6L100.5,1154.1L99.5,1154L95.5,1154L95,1154.1L94.5,1154.6L95,1155.1L96,1155.2ZM242.7,1155.1L243.8,1154.6L243.5,1154.2L242.5,1154.1L241.5,1154.2L241.2,1154.6L241.9,1155.1ZM315.4,1155.1L316,1154.6L315.4,1154.1L314,1154.1L313.4,1154.6L314,1155.1ZM230,1155.6L230.6,1155.1L230.5,1154.8L230,1154.6L229.4,1154.6L229,1155.1L229.5,1155.5ZM70.6,1158.6L72.2,1157.1L77.5,1156.6L78.1,1156.1L78,1155.6L77,1155L75.5,1154.9L72.5,1154.9L69.5,1155.3L65,1155.5L64,1155.9L63,1157.1L61.9,1157.6L61.6,1158.1L62.1,1158.6L63,1158.8ZM310.5,1156.1L311.1,1155.6L310.5,1155.1L308.5,1155L308,1155.1L307.5,1155.6L308,1156.1L308.5,1156.2ZM352.1,1159.1L352.6,1158.6L352.2,1158.1L347.5,1157.6L346,1156.1L341.5,1155.9L339,1155.1L337.5,1154.9L334.6,1155.1L334,1155.6L335.5,1156.7L336.5,1157.2L340.5,1157.1L344.5,1157.3L345.6,1157.6L346.3,1158.6L347,1159.1L350,1159.3ZM128.5,1156.6L129,1156.1L128.5,1155.6L127.5,1155.5L123,1155.5L122.5,1155.6L122,1156.1L122.5,1156.6L123.5,1156.8ZM523.5,1157.6L525.5,1157.3L531,1157.2L531.5,1157.1L532,1156.6L531.5,1156.1L531,1156L524,1155.8L522.5,1156.1L520.6,1157.1L521.2,1157.6ZM571.5,1157.1L572,1156.6L571.5,1156.1L569.5,1156.1L569,1156.6L569.5,1157.1ZM564.1,1159.1L564.4,1158.1L564.3,1157.6L563.7,1157.1L562.5,1156.9L558,1157.4L551,1157.5L550.5,1157.6L550,1158.1L550.5,1158.6L551.5,1158.7L557.5,1158.8L563,1159.5L563.5,1159.5ZM174.9,1162.1L176.5,1161.7L177,1161.1L176.5,1160.6L173.5,1160L173,1159.6L172.5,1158.1L171.5,1157.5L163,1157.4L162,1157.6L161.5,1158.1L161.9,1158.6L163.1,1159.1L163.5,1159.6L163.7,1160.6L164.5,1161.2L167,1161.5L171,1162.5L173.5,1162.4ZM216.5,1159.1L217,1158.6L216.5,1158.1L216,1158L212.5,1158L212,1158.1L211.5,1158.6L212,1159.1L212.5,1159.2ZM194,1159.6L194.5,1159.1L194,1158.6L193,1158.5L186,1158.5L185,1158.6L184.5,1159.1L185,1159.6L186,1159.7ZM124,1160.1L124.5,1159.6L124,1159.1L123.5,1159L122,1159.1L121.5,1159.6L122,1160.1ZM95.5,1160.6L96,1160.1L95.5,1159.6L94.5,1159.5L89.5,1159.5L89,1159.6L88.5,1160.1L89,1160.6L90,1160.7ZM535.5,1161.1L536.1,1160.6L535.5,1160.1L535,1160L532,1160L531.4,1160.6L531.7,1161.1L532.5,1161.5ZM540.6,1161.1L541.1,1160.6L540.5,1160.1L539.5,1160.1L538.9,1160.6L539.5,1161.1ZM334.9,1161.6L335.2,1161.1L334.5,1160.5L333.5,1160.6L333,1161.1L333.6,1161.6ZM370.9,1162.1L371.4,1161.6L370.7,1161.1L370,1161.1L369.6,1161.6L370,1162.1ZM174.1,1163.1L172,1162.8L170.4,1163.1L172,1163.3ZM502.9,1163.6L502.5,1163.2L502,1163L501.4,1163.1L500.8,1163.6L501.5,1164.1L502.5,1163.9ZM542.1,1165.6L542.2,1164.6L541.5,1163.4L540.5,1163L539.5,1163.4L539.4,1164.1L540.5,1165.3L541.5,1165.9ZM149.6,1164.6L150,1164.1L149.5,1163.6L147.5,1163.6L147,1164.1L147.5,1164.6L148,1164.7ZM288,1164.6L288.5,1164.1L288,1163.6L287,1163.5L283,1163.5L282.5,1163.6L282,1164.1L282.6,1164.6L283.5,1164.7ZM74.9,1167.6L75.5,1167.1L75.2,1166.6L74,1166.1L73.7,1165.6L74.4,1165.1L74.5,1164.6L74,1164.1L67,1164L66.1,1164.1L65.6,1164.6L65.9,1165.1L67,1165.6L67.3,1166.1L66.7,1166.6L66.6,1167.1L67,1167.3ZM320.6,1167.1L321.2,1166.6L321.7,1165.1L320.5,1164.6L314.5,1164.7L313.5,1165.1L312.2,1166.1L311.9,1166.6L312.5,1167.1L313.5,1167.3ZM374.1,1164.6L373.5,1164.3L372.9,1164.6ZM360.5,1165.1L359.5,1164.8L358.5,1165.1ZM174.5,1166.6L175,1166.1L174.5,1165.6L173.5,1165.4L170.5,1165.4L169.9,1165.6L169.5,1166.1L170,1166.6L170.5,1166.7ZM389.2,1167.1L390.3,1166.6L390.4,1166.1L385,1166.1L384,1166.6L384.5,1167.1L385,1167.2ZM304.6,1169.6L306,1168.1L308,1167.6L308.5,1167.1L308,1166.6L307.5,1166.5L304.5,1166.6L302.9,1168.1L300,1168.6L299.5,1169.1L300,1169.6L300.5,1169.7ZM549,1169.1L549.5,1168.6L549,1168.1L544,1167.8L541.5,1166.7L539,1167.1L538.5,1167.6L539,1168.1L542.5,1169.2ZM189.7,1169.6L190.5,1169.4L192.5,1168.1L191.5,1167.5L187.5,1167.4L186.5,1167.6L184.8,1168.6L185.2,1169.1L189,1169.8ZM195.9,1171.1L198,1170.4L201,1170.1L201.5,1169.6L201,1169.1L198.5,1168.8L196.5,1167.8L195.5,1167.7L194.5,1167.8L194,1168.1L194.7,1168.6L194.8,1169.1L194.6,1169.6L193.4,1170.6L194.1,1171.1ZM222.1,1170.1L222.6,1169.6L222,1169.1L221,1169L220.5,1169.6L221.1,1170.1ZM241.3,1171.6L241.6,1171.1L241.5,1169.7L241,1169.1L240,1168.9L238.1,1169.1L236.5,1170.1L233.7,1170.6L233.2,1171.1L234,1171.6L240,1171.8ZM560.4,1170.1L558.5,1168.9L557.5,1168.8L556.9,1169.1L558.1,1170.1L559,1170.5L560,1170.4ZM140,1170.6L140.5,1170.1L140,1169.6L139.5,1169.5L135.5,1169.5L135,1169.6L134.5,1170.1L135,1170.6L135.5,1170.7ZM130,1172.1L130.5,1171.6L130,1171.1L126,1170L123,1170L122.4,1170.1L121.9,1170.6L122.1,1171.1L122.9,1171.6L124.5,1172.2ZM392.8,1171.1L392.5,1170.6L392,1170.5L391.1,1170.6L390.6,1171.1L392,1171.5ZM86.3,1174.6L88.5,1173.4L92,1173.1L92.5,1172.6L92,1172.1L91.5,1172L87.5,1172L86.5,1172.2L84.5,1173.3L80.5,1173.4L79.5,1173.2L79,1172.7L79.1,1172.1L79.4,1171.6L79,1171.2L77,1170.9L75.5,1171.1L75,1171.5L74.6,1172.1L74.6,1172.6L75,1173.6L75.5,1174.2L76.5,1174.8L84.5,1174.8ZM158.8,1172.1L159,1171.6L158.5,1171.1L158,1171L155,1171L154.5,1171.1L154,1171.6L154.5,1172.1L155,1172.2L158,1172.3ZM202.5,1173.1L203,1172.6L202.5,1172.1L202,1172L200,1172.1L199.5,1172.6L199.9,1173.1L200.5,1173.2ZM211.5,1173.6L212,1173.1L211.5,1172.5L209.5,1172.5L209,1172.6L208.5,1173.1L209,1173.6L209.5,1173.7ZM563.6,1173.6L564,1173.1L563.5,1172.6L562.5,1172.4L558,1172.4L557,1172.6L556.5,1173.1L557,1173.6L558,1173.7L562.5,1173.8ZM161.5,1174.6L162,1174.1L161.5,1173.6L161,1173.5L159.5,1173.5L159,1174.1L159.5,1174.6ZM194.1,1178.1L196,1177L199.5,1176.7L200,1176.6L200.5,1176.1L200,1175.6L198,1175L197.3,1174.1L196.5,1173.6L190,1173.5L189.5,1173.6L189,1174.1L189.5,1174.6L194,1175L194.8,1175.6L194.8,1176.1L194.3,1176.6L193.5,1176.8L187,1177L186.5,1177.1L186,1177.6L186.2,1178.1L187,1178.4ZM116.9,1176.6L118.5,1175.6L121.5,1175.2L122.1,1174.6L121.5,1174.1L121,1174L114,1173.8L112.5,1174.4L111.1,1175.6L110.9,1176.1L111.4,1176.6L112.5,1176.8L115.5,1176.8ZM472.4,1175.6L472.9,1175.1L472.5,1174.6L471,1174.5L470.3,1175.1L470.4,1175.6L471,1176ZM341.1,1176.1L341.9,1175.6L341.7,1175.1L340.1,1175.1L339.5,1175.6L340.1,1176.1ZM96.5,1176.6L97,1175.9L96.5,1175.3L96,1175.1L94,1175.4L93.4,1175.6L93,1176.1L93.5,1176.6L94,1176.7ZM127,1177.1L129.5,1176.6L130,1176.1L129.5,1175.6L127,1175.5L124,1176L123.4,1176.6L124,1177.1L124.5,1177.2ZM564.4,1176.6L565,1176.1L564.5,1175.6L563,1175.6L562.5,1176.1L563.1,1176.6ZM85,1177.1L84.4,1176.6L83,1176.6L81.5,1176.6L81.1,1177.1L83,1177.3ZM211.6,1177.6L212,1177.1L211.5,1176.6L210,1176.6L209.5,1177.1L210,1177.6ZM300.5,1177.6L301,1177.1L300.5,1176.6L299.5,1176.5L294.5,1176.5L294,1176.6L293.5,1177.1L294,1177.6L295,1177.7ZM227.5,1182.6L227.2,1182.1L224.7,1181.1L224.5,1180.6L225,1180.3L226,1179.2L226.3,1178.6L226,1178.1L225,1177.9L222.5,1177.9L221.5,1178.3L221,1178.8L220.8,1179.6L221,1180.2L221.5,1180.6L221.5,1181.1L220.5,1182.1L220.9,1182.6L223.5,1182.8ZM398.5,1179.1L399,1178.6L398,1178L395,1178.1L394.2,1178.6L394.5,1179.1L395,1179.2ZM142.6,1179.6L144.3,1179.1L143.6,1178.6L138.5,1178.4L134.5,1178.5L134,1178.6L133.5,1179.1L134,1179.6L135,1179.7ZM154,1179.6L154.5,1179.1L154,1178.6L153,1178.5L147,1178.5L145.9,1178.6L145.2,1179.1L148,1179.7ZM331.6,1182.6L333.1,1181.1L336.5,1180.6L337,1180.1L336.5,1179.6L332,1179.3L330,1178.4L329,1178.3L328.1,1178.6L328.5,1178.8L329,1179.6L328.9,1180.6L328.4,1181.1L326.5,1181.6L326,1182.1L326.5,1182.6L327.5,1182.7ZM363.1,1180.6L362.5,1180.3L361.7,1180.6L362,1180.9ZM135.5,1184.6L136.7,1183.6L136.7,1183.1L136.2,1182.6L131,1182.2L128.5,1181L121.5,1181L120.5,1181.1L120,1181.6L120.5,1182.1L121,1182.2L124,1182.4L126.1,1183.6L130,1184.7L134,1184.8ZM212.2,1182.1L212.6,1181.6L212.5,1181.4L211.5,1181L206.5,1181L206,1181.1L205.5,1181.6L206,1182.1L207,1182.2ZM196,1182.6L196.5,1182.1L196,1181.6L195,1181.5L190,1181.5L189.5,1181.6L189,1182.1L189.5,1182.6L190.5,1182.7ZM479.4,1182.6L480.4,1182.1L480.7,1181.6L480.5,1181.3L478.5,1181.4L477.9,1181.6L477.5,1182.1L478.1,1182.6ZM172,1183.1L172.5,1182.6L172,1182.1L171.5,1182L169.5,1182L169,1182.6L169.5,1183.1L170,1183.2ZM282.1,1184.6L282.7,1184.1L283.2,1183.1L283.1,1182.6L280,1182.5L279.5,1182.7L278.9,1183.6L278.8,1184.1L279.2,1184.6L280.5,1184.8ZM399.5,1183.6L399.8,1183.1L399,1182.5L397.6,1182.6L397.1,1183.1L397.5,1183.6ZM392.1,1185.6L392.5,1185.1L389.5,1184.9L388.5,1184.4L387,1183.1L385.5,1183.1L384.8,1183.6L385.1,1185.1L386,1185.9L389,1186.1ZM556.4,1183.6L555.5,1183.1L555.2,1183.6L556,1183.8ZM346.6,1185.6L346.9,1185.1L346.5,1184.6L343.5,1183.5L341,1183.5L340.3,1184.1L340.9,1185.1L342,1185.7L345,1185.8ZM429,1186.6L431.5,1186.1L431.9,1185.6L430.7,1185.1L426,1185L425,1185.3L424.3,1186.1L424.5,1186.6L425.5,1186.8ZM575.5,1186.1L576,1185.6L575.5,1185.1L574.5,1185L569,1185L568.5,1185.1L568,1185.6L568.5,1186.1L569.5,1186.3ZM320.5,1186.6L321,1186.1L320.5,1185.6L318.5,1185.6L318,1186.1L318.5,1186.6ZM113.2,1187.6L116.5,1187.1L117,1186.6L116.5,1186.1L115.5,1186L108.5,1185.9L103,1186.5L102.5,1186.6L102,1187.1L102.5,1187.6L103,1187.7L111,1188.1ZM333.6,1190.1L334,1189.6L333.5,1189.1L330.5,1188.4L330.2,1188.1L330.9,1187.6L331,1187.1L330.5,1186.6L329.5,1186.5L327.5,1186.6L327,1187.1L327.1,1187.6L327.8,1188.1L327.3,1188.6L325.4,1189.1L325,1189.6L325.5,1190.1L326.5,1190.2ZM390.5,1187.6L390.7,1187.1L389.5,1186.3L387.5,1186.1L384,1187L383.7,1187.6ZM238.6,1190.6L241,1189.5L244,1189.7L244.5,1189.6L245,1189.1L244.5,1188.6L244,1188.5L241,1188.6L238.5,1187.5L236,1187.4L233.5,1187.6L230.5,1188.6L230,1189.1L230.5,1189.6L234,1190.7L237,1190.8ZM282.5,1188.6L283,1188.1L280.5,1187.5L277,1187.5L276.5,1187.6L276,1188.1L276.5,1188.6L277.5,1188.7ZM564,1188.6L564.5,1188.1L564,1187.6L563.5,1187.5L561,1187.5L560.5,1187.6L560,1188.1L560.5,1188.6L561,1188.7ZM70.5,1189.1L71,1188.6L70.5,1188.1L70,1188L66,1188L65.5,1188.1L65.4,1188.6L68,1189.2ZM146.4,1190.1L147.7,1189.6L147.9,1189.1L147.5,1188.4L146.4,1188.1L143.5,1188.2L142.5,1188.6L141.4,1189.6L142.5,1190.1ZM120.1,1189.6L120.9,1189.1L120.4,1188.6L119,1188.6L117.2,1189.1L117.8,1189.6ZM426.9,1192.1L426.5,1191L426,1190.5L425,1190.1L418.5,1190.1L417.9,1190.6L422,1190.4L424,1190.8L426,1192.3L426.5,1192.4ZM529.5,1190.6L530.1,1190.1L529.5,1189.6L528.2,1190.1L528.7,1190.6ZM316,1191.6L316.4,1191.1L315.5,1190.6L314.5,1190.5L308.5,1190.5L308,1190.6L307.5,1191.1L308.1,1191.6L309,1191.7ZM164.4,1194.1L166.5,1192.6L165.9,1192.1L165,1192L161,1191.9L158.8,1192.6L157.8,1193.1L157.5,1193.6L158,1194.1L159,1194.3L163,1194.3ZM342,1194.1L342.8,1193.6L343.2,1193.1L343.2,1192.6L342.7,1192.1L341.5,1191.9L334,1191.9L332.9,1192.6L332.5,1193.6L333,1194.1L334.5,1194.3L340.5,1194.3ZM386.9,1194.1L387.3,1193.6L386,1193.2L381.9,1193.1L380.9,1193.6L381.4,1194.1L382,1194.2ZM364.9,1196.1L365.3,1195.6L365.2,1195.1L364.5,1194.6L362,1194.1L360,1193.2L359,1193.3L358.5,1193.6L357,1195.1L357.1,1195.6L357.5,1195.9L359,1196.3L363.5,1196.3ZM433.5,1195.1L434,1194.6L433,1194L429.5,1194L429.1,1194.1L428.8,1194.6L430.4,1195.1ZM130.5,1195.6L131,1195.1L130.5,1194.6L130,1194.5L127,1194.5L126.5,1194.6L126,1195.1L126.5,1195.6L127,1195.7ZM294.6,1195.1L294.9,1194.6L293.5,1194.5L292.6,1194.6L292.2,1195.1L293,1195.4ZM535.8,1195.6L536.4,1195.1L535.5,1194.9L530,1194.5L527.5,1194.5L526.5,1195.1L527,1195.6L528,1195.7ZM244.1,1195.6L243.8,1195.1L242.5,1195L241.6,1195.1L241.1,1195.6L242,1196ZM394.4,1198.1L396.5,1197.1L399,1196.5L400,1195.6L399.9,1195.1L392.5,1194.8L392.2,1195.1L392.3,1196.6L392.2,1197.1L391.5,1197.6L392.5,1198.1ZM413,1197.6L413.4,1197.1L413.1,1196.1L412.5,1195.7L411.5,1195.4L404.5,1195.5L403.5,1195.6L403,1196.1L403.5,1196.6L405.5,1196.9L407.5,1197.9L411.5,1197.8ZM274.7,1198.6L275.3,1198.1L274.9,1197.6L273.6,1197.6L273,1198.1L273.5,1198.8ZM54.7,1200.6L55.5,1200.1L55.6,1199.6L55.4,1199.1L54.5,1198.7L52.5,1198.7L51.3,1199.1L50.6,1199.6L51,1200.2L52.5,1200.7L54,1200.9ZM335.5,1201.1L336,1200.6L335.5,1200.1L335,1200L330,1199.9L326.5,1199.5L325.2,1199.6L324.8,1200.1L326.5,1201.1L327.5,1201.3ZM273,1200.6L273.5,1200.1L273,1199.8L272,1200.1L271.9,1200.6ZM388.9,1202.1L391,1201.4L395.5,1201.1L396,1200.6L395.5,1200.1L394.5,1199.9L389.5,1199.9L388.5,1200.1L386.5,1201.6L387.2,1202.1ZM139.1,1203.1L139.7,1202.6L139.7,1202.1L139.3,1201.1L138.5,1200.7L131.5,1200.3L130.6,1200.6L130.3,1201.1L130.3,1202.6L131,1203.1L137,1203.3ZM198.5,1205.1L199,1204.6L198.5,1204.1L196.5,1203.8L194.5,1203.1L192.1,1202.6L190.5,1201.1L184,1201L183,1201.1L182.5,1201.6L183,1202.1L183.5,1202.2L188,1202.4L188.5,1202.6L189.8,1204.1L193,1205.2ZM55.1,1201.6L54,1201.4L53,1201.6ZM417.3,1202.1L417.7,1201.6L417.5,1201.4L417,1201.2L416.5,1201.5L416.5,1201.8L416.8,1202.1ZM522.4,1204.6L522.9,1204.1L522.7,1203.6L521.5,1203.1L521,1202.6L521.7,1202.1L521.7,1201.6L515,1201.6L515.5,1202.1L517.7,1202.6L517.8,1203.1L517.1,1203.6L516.9,1204.1L517.4,1204.6L520,1204.9ZM110.5,1204.1L111,1203.6L110.5,1203L108.5,1203.1L108,1203.6L108.5,1204.1L109,1204.2ZM167.5,1204.1L168,1203.6L167.5,1203.1L167,1203L165,1203.1L164.5,1203.6L165,1204.1L165.5,1204.2ZM256.4,1204.1L256.5,1203.5L256,1203.4L255.9,1204.1L256,1204.3ZM571.2,1204.6L571.1,1204.1L570,1203.6L567.1,1203.6L567.5,1204.1L569,1204.6ZM393.5,1206.6L394.5,1206.4L396,1205.6L398,1205.1L398.5,1204.6L398,1204.1L397,1204L391.5,1204L390.5,1204.4L389.2,1206.1L390.5,1206.6ZM416.4,1206.6L419.2,1206.1L419.4,1205.6L418.9,1204.6L418,1204L417,1203.9L415.5,1204L414.5,1204.5L414.3,1205.1L414.5,1206.2L415,1206.5ZM486.7,1204.6L486.6,1204.1L485.4,1204.1L485.4,1204.6ZM102.5,1205.6L103,1205.1L102.5,1204.6L102,1204.5L100,1204.5L99.3,1205.1L100,1205.7ZM285.6,1206.6L286.9,1206.1L283,1205.5L282.1,1205.6L281.5,1206.1L282,1206.6L282.5,1206.7ZM498,1208.1L498.5,1207.6L498,1207.1L497.5,1207L495.6,1207.1L493.8,1207.6L494.2,1208.1L494.5,1208.2ZM50,1209.1L50.5,1208.6L50,1208.1L49.5,1208L47,1208L46.5,1208.1L46,1208.6L46.5,1209.1L47,1209.2ZM170,1212.6L170.5,1212.1L170,1211.6L169,1211.5L164.5,1211.5L164,1211.6L163.5,1212.1L164,1212.6L165,1212.7ZM103,1214.6L103.5,1214.1L103,1213.6L102,1213.5L97.5,1213.5L97,1213.6L96.5,1214.1L96.9,1214.6L97.5,1214.7ZM299.9,1215.1L300.5,1214.6L300,1214.1L297.6,1214.1L297.5,1214.6L298.4,1215.1ZM351,1219.6L351.5,1219.1L351,1218.6L350.5,1218.5L347,1218.5L346.5,1218.6L346,1219.1L346.5,1219.6L347,1219.7ZM373.4,1223.1L373.9,1222.6L373.5,1222.1L372.1,1222.1L371.5,1222.6L372.1,1223.1ZM482.5,1223.1L483,1222.6L482.5,1222.1L482,1222L478.5,1222L478,1222.1L477.5,1222.6L478,1223.1L478.5,1223.2ZM534.4,1224.1L534.9,1223.6L534.5,1223.3L532.5,1223L526.5,1223L525.5,1223.1L525,1223.6L525.5,1224.1L526.5,1224.2ZM572,1226.6L572.5,1226.1L572,1225.6L571.5,1225.5L568.5,1225.5L567.5,1226.1L568,1226.6L568.5,1226.7ZM66.5,1227.6L66.9,1227.1L66.4,1226.6L65.5,1226.5L61.5,1226.5L61,1226.6L60.5,1227.1L61,1227.6L62,1227.7ZM468.7,1228.1L469.6,1227.6L469.7,1227.1L469.1,1226.6L468.5,1226.4L466,1226.6L464.1,1227.6L464.6,1228.1L465.5,1228.2L467.5,1228.3ZM156,1232.1L156.5,1231.6L156,1231.1L155,1231L150,1231L149.5,1231.1L149,1231.6L149.5,1232.1L150.5,1232.2ZM537.2,1234.1L537.5,1233.5L537.1,1233.1L536.5,1233L531.5,1233L531,1233.1L530.5,1233.6L531,1234.1L532,1234.2ZM118.5,1240.1L118.5,1239.5L117,1239L114,1239L113.5,1239.1L113,1239.6L113.5,1240.1L114,1240.2ZM514,1244.6L514.5,1244.1L514,1243.6L513.5,1243.5L511,1243.5L510.5,1243.6L510,1244.1L510.5,1244.6L511,1244.7ZM361.5,1247.1L362,1246.6L361.4,1246.1L359.6,1246.1L359,1246.6L359.5,1247.1ZM537,1247.1L537.5,1246.6L537,1246.1L535,1246.1L534.5,1246.6L535,1247.1ZM486,1248.1L486.5,1247.6L486,1247.1L484,1247.1L483.5,1247.6L484,1248.1ZM53,1251.6L53.5,1251.1L53,1250.6L52,1250.5L46,1250.5L45.5,1250.6L45,1251.1L45.5,1251.6L46.5,1251.7ZM294.5,1251.6L295,1251.1L294.5,1250.6L294,1250.5L290,1250.5L289.5,1250.6L289,1251.1L289.5,1251.6L290,1251.7ZM227.5,1252.1L228,1251.6L227.5,1251.1L226.5,1251L219,1251L218,1251.1L217.5,1251.6L218,1252.1L219,1252.2ZM69,1253.1L69.5,1252.6L69,1252.1L68,1252L63,1252L62.5,1252.1L62,1252.6L62.5,1253.1L63.5,1253.2ZM82,1257.6L82.5,1257.1L82,1256.6L81,1256.5L77,1256.5L76.5,1256.6L76,1257.1L76.5,1257.6L77.5,1257.7ZM167.5,1263.6L168,1263.1L167.5,1262.6L166.5,1262.5L162.5,1262.5L162,1262.6L161.5,1263.1L162,1263.6L163,1263.7ZM271,1266.1L271.5,1265.6L271,1265.1L270,1265L265,1265L264.5,1265.1L264,1265.6L264.5,1266.1L265.5,1266.2ZM453.5,1271.6L454,1271.1L453.5,1270.6L452.5,1270.5L446.5,1270.5L446,1270.6L445.5,1271.1L446,1271.6L447,1271.7ZM516,1276.1L516.5,1275.6L516,1275.1L515,1275L510,1275L509.5,1275.1L509,1275.6L509.5,1276.1L510.5,1276.2ZM488.5,1278.1L489,1277.6L488.5,1277.1L487.5,1277L481.5,1277L480.5,1277.1L480,1277.6L480.5,1278.1L481.5,1278.2ZM327.6,1404.1L329.5,1403.1L330.3,1402.1L331.1,1400.6L332.2,1397.1L332.2,1394.1L331.5,1390.6L330.3,1388.1L328.8,1386.6L327,1386L326,1386.2L325,1386.7L324,1387.6L323.4,1388.6L322.5,1390.6L321.9,1392.6L321.8,1396.1L322.5,1399.6L324,1402.6L326,1404Z" fill="#6a22fe" fill-rule="evenodd"/>
<path d="M83.5,1094.2L79.5,1094.3L76.5,1093.8L74.5,1092.9L74,1092.1L74,1091.6L74.2,1091.1L75,1090.5L78.1,1089.6L84.5,1089.7L86.5,1090.2L87.8,1091.1L88,1092.1L87.2,1093.1L85.5,1093.8ZM149.5,1095.2L147.5,1095.3L146,1095L142.5,1093.8L141.5,1093.1L140.7,1092.1L140.7,1090.6L141.3,1089.6L143.5,1089.2L151.5,1089.2L154.7,1089.6L155.3,1090.6L155.4,1091.6L154.6,1093.1L153,1094.3ZM178,1096.7L176,1096.8L174.5,1096.5L173,1096L171.5,1095.1L170.2,1093.6L169.9,1092.6L170.2,1091.1L170.5,1090.6L171.5,1089.6L174.5,1089.2L181.5,1089.3L185,1089.6L188,1089.3L192.5,1089.2L196.6,1089.6L197.8,1091.1L197.8,1092.6L197.1,1093.6L195.5,1094.8L194,1095.3L189.5,1095.4L185.5,1094.1L183,1095.8ZM254,1095.1L251,1094.9L249,1093.9L248.1,1092.6L248.1,1091.6L248.6,1090.6L250.3,1089.6L252.5,1089.4L256.2,1089.6L257.5,1090.3L258.4,1091.6L258.3,1093.1L257.5,1093.9L256.5,1094.5ZM364.5,1096.7L363.5,1096.7L362.5,1096.3L361.7,1095.1L361.5,1094.1L361.6,1093.6L362.5,1092.8L365,1092.1L365.1,1090.6L365.7,1089.6L368.5,1089.2L373.5,1089.2L376.3,1089.6L376.7,1090.1L377,1091.1L376.7,1092.1L375,1093.5L373.5,1094L371.5,1094.3L367,1093.7L365.7,1096.1ZM390.5,1095.2L389,1095.2L387,1094.9L385,1094L383.7,1092.6L383.6,1091.6L384,1090.6L385.1,1089.6L387,1089.4L391,1089.3L394,1089.7L395.3,1091.1L395.3,1092.6L394.5,1093.6L393.5,1094.3L392,1094.9ZM489.5,1095.7L483,1095.8L477,1094.6L473,1095.3L469.5,1095.3L467,1094.9L463.5,1093.9L460,1094.3L454,1094L450,1094.2L448,1093.9L446,1092.8L445.3,1092.1L445,1091.1L445.3,1090.1L445.7,1089.6L447,1089.4L458,1089.2L464.5,1089.4L473.5,1089.2L478,1089.5L491,1089.4L494.5,1089.7L495.5,1090.2L496.4,1091.1L496.7,1091.6L496.7,1092.6L495.5,1094L493.5,1094.9ZM136.5,1093.2L134.5,1093.3L133,1093L131.8,1092.1L131.8,1091.1L132.5,1090.4L134,1089.9L135.5,1089.9L137,1090.2L138,1090.8L138.4,1091.6L137.7,1092.6ZM267.5,1092.6L266,1092.7L265,1092.5L264.1,1091.6L264.1,1091.1L265,1090.2L266,1090L268,1090.2L268.9,1091.1L268.9,1091.6L268.5,1092.1ZM421.5,1097.3L420,1097.4L418.5,1097L417.1,1096.1L416.2,1094.6L416.1,1093.1L416.4,1092.1L417.5,1090.7L419,1089.9L421,1089.8L422.5,1090.4L423.8,1091.6L424.3,1092.6L424.4,1094.1L424.1,1095.1L423,1096.5ZM222,1093.2L219.5,1093.4L207.5,1093.4L203.1,1092.6L202.4,1092.1L202.4,1091.6L203.5,1091L207,1090.4L211,1090.3L221,1090.3L225,1091L226.1,1091.6L226.1,1092.1L225.5,1092.6ZM539.5,1093.2L538.5,1093.1L537.5,1092.6L537.1,1092.1L537.1,1091.6L537.5,1091.1L539,1090.5L540,1090.6L541,1091.1L541.4,1091.6L541.4,1092.1L541,1092.6ZM403,1101.2L402,1101.2L401,1100.9L399.7,1099.6L399.8,1098.6L401,1097.3L402,1097L403,1097.1L404,1097.6L404.8,1098.6L404.7,1100.1L404,1100.8ZM238,1160.7L234,1160.8L233.2,1160.6L232.5,1160.1L231.8,1157.6L231.8,1156.6L232.1,1155.6L233,1154.4L235.1,1153.6L233.5,1153.3L231.5,1151.6L229.5,1151L228.6,1150.1L227.5,1148.2L226.5,1147.9L218.5,1147.8L217,1147.1L216.6,1146.1L216.6,1145.1L217.5,1144.1L218.9,1143.6L218.7,1143.1L216,1143L215.5,1143.5L215,1144.6L214.5,1145.1L212.1,1146.1L211.2,1147.6L210.8,1149.6L210,1150.5L208.5,1150.9L205,1150.9L204,1150.7L203,1150.1L202.7,1149.6L202.6,1148.6L203,1147.6L204,1147L206.2,1146.6L206.7,1146.1L206.5,1145.6L205.5,1145.1L202.5,1144.9L201.2,1144.6L200.6,1143.6L200.7,1142.6L201.1,1142.1L202,1141.8L205,1141.5L205.7,1141.1L205.5,1140.6L203,1139.8L201.6,1138.1L200.1,1137.1L199,1135.4L197.4,1134.1L197,1132.6L197.2,1131.6L197.8,1130.6L199.4,1128.6L201.5,1127.3L203.7,1126.6L203.5,1125.1L203,1124.8L198,1124.8L196.6,1124.1L195.2,1121.6L193.7,1120.1L193.1,1117.1L192.5,1116.7L190.5,1116L189.1,1114.6L188.2,1112.1L188.2,1109.1L185.5,1108.7L184.6,1108.1L184.3,1107.6L184.3,1106.1L185,1105.2L186.5,1104.7L193.5,1104.4L194,1103.9L194.8,1102.1L196.5,1100.6L198,1100.2L199,1100.4L200,1101L200.9,1102.1L201.4,1103.6L201.5,1105.6L201.2,1107.1L200.6,1108.6L200,1109.4L199,1110L197.1,1110.6L196.6,1113.1L196.8,1113.6L198.1,1114.6L199,1115.1L201,1115.6L202.2,1116.6L202.4,1117.6L202,1118.6L201,1119.3L199.8,1119.6L199.7,1120.1L202,1120.3L203,1120.7L203.8,1121.6L204,1122.6L204.5,1123.2L209,1123.1L211.3,1123.6L211.9,1124.1L212.5,1125.8L214,1127.7L214.5,1128L216,1128.1L217,1127.9L219.6,1125.1L220,1124.4L220,1123.6L219.5,1122.2L217.5,1121L216.8,1120.1L216.7,1119.1L217,1118.6L219.5,1117.1L220.8,1115.1L222,1114L223.5,1113.2L225,1112.7L233,1112.9L234.5,1113.3L238.5,1117.5L241.5,1117.9L242.5,1118.3L242.8,1118.6L243.3,1120.1L244.2,1121.1L244.7,1122.6L245.1,1123.1L248,1123.6L249.2,1124.1L249.6,1124.6L249.8,1125.6L249.1,1127.1L249.2,1127.6L250.5,1128L251.6,1128.6L253.8,1131.6L254,1132.6L253.7,1134.1L253,1134.8L251.5,1135.4L249.3,1135.6L249.5,1135.9L250,1136L255,1136.1L256.5,1136.7L256.9,1137.1L257.5,1138.7L259.2,1140.6L259.4,1141.6L258.9,1144.1L258.5,1144.7L256.9,1145.6L256,1146.6L255.3,1149.6L254.5,1150.5L253,1150.9L247,1151L244.5,1152.6L240.5,1152.8L236.5,1153.6L237.5,1153.8L239.5,1154.8L240.3,1155.6L240.7,1156.6L240.4,1158.1L239,1160.1ZM86.5,1102.6L84,1102.6L82.8,1102.1L82.6,1101.6L83,1101.1L83.5,1100.9L85.5,1100.7L87.5,1101L88.3,1101.6L88,1102.2ZM160.5,1104.1L159.5,1104.1L158.5,1103.3L158.3,1102.1L159,1101.3L160.5,1101.1L161.5,1101.6L161.9,1102.1L161.9,1103.1L161.5,1103.6ZM211,1106.9L210,1107.1L208.5,1106.9L207.4,1106.1L206.8,1105.1L206.6,1104.1L206.8,1102.6L207.4,1101.6L208.5,1100.8L209.5,1100.6L211,1100.8L212.1,1101.6L212.7,1102.6L212.9,1103.6L212.7,1105.1L212.1,1106.1ZM502,1105.3L501,1105.5L499.7,1105.1L499.2,1104.1L499.7,1103.1L501,1102.7L502.3,1103.1L502.8,1104.1L502.7,1104.6ZM87.5,1108.7L85.5,1108.9L83.5,1108.7L82.4,1108.1L82.1,1107.6L82.1,1107.1L83,1106.3L84,1106L87.5,1106.1L88.5,1106.6L88.9,1107.1L88.9,1107.6L88.5,1108.1ZM441,1119.3L439,1119.5L437,1118.9L434.9,1117.6L434.2,1116.6L433.4,1114.1L433.6,1112.6L435.2,1110.6L437,1109.4L439.5,1109L441.5,1109.4L443.5,1110.7L444.9,1112.6L445.2,1114.6L444.9,1116.1L443.3,1118.1ZM520.5,1112.8L519,1113L518.1,1112.6L517.5,1111.9L517.3,1111.1L517.3,1110.1L517.6,1109.6L518.5,1108.8L519.5,1108.6L520.5,1108.8L521.7,1110.1L521.8,1110.6L521.6,1111.6ZM415.5,1116.6L413.5,1116.9L404,1116.8L402.5,1116.1L402.2,1115.6L402.1,1114.6L402.5,1113.6L404,1112.6L405.5,1111.2L406.5,1111L409,1111.2L410,1111.5L412,1112.5L415,1112.8L416,1113.2L416.7,1114.1L416.8,1115.1L416.4,1116.1ZM577,1216.2L573.5,1216.3L572.7,1216.1L572,1215.6L571.9,1215.1L572,1214.1L572.7,1213.6L574.3,1213.1L574.8,1212.6L574.8,1212.1L574.5,1211.8L573.5,1211.4L569.5,1211.4L564.5,1211.8L561.5,1211.4L558.1,1212.1L556.5,1213.5L556,1213.7L552.5,1213.9L551,1213.5L550.4,1212.6L550.5,1211.6L551.2,1211.1L553,1210.5L554,1208.6L554.5,1208.2L555.5,1207.9L558,1207.6L558.2,1207.1L556.5,1206.1L555.5,1204.2L553,1203.1L552,1201.7L547.5,1201.6L546,1201.1L545,1199.1L544.5,1198.6L543.5,1198.6L542.3,1199.1L542.3,1200.1L543.2,1201.6L543.4,1202.6L542.9,1204.1L542,1205.1L541,1205.6L537,1206.3L534.5,1206.3L533,1206L532.5,1205.6L532,1204.1L531.5,1203.7L529.2,1203.1L528.5,1202.6L528.4,1201.6L529,1200.7L532.5,1200L534,1198.2L536.5,1197.5L538,1195.7L539,1195.1L542.9,1194.6L544.5,1192.7L545.5,1192.4L549,1192.2L549.6,1191.6L549.3,1191.1L548.4,1190.6L545,1190.3L544,1190L543.5,1189.6L542.5,1188.2L542,1187.9L537.5,1187.7L536.5,1187.1L536,1186.1L535.3,1185.6L531,1184.8L530.5,1185L530,1187.1L529.2,1188.1L528,1188.5L526.5,1188.3L525.7,1187.6L525.1,1186.1L525.9,1183.6L525.2,1183.1L524,1182.9L520,1183.3L519.4,1183.6L519,1184.6L518.5,1185L517,1185.3L513.5,1185.2L513,1185L511.5,1183.6L511,1183.5L507.5,1183.6L506.8,1184.1L505.5,1187.1L504.8,1187.6L503.5,1187.8L500.4,1187.6L499.9,1187.1L499.5,1185.6L498.5,1185L497.5,1184.8L495.5,1184.8L494.7,1185.1L494.4,1185.6L494.3,1187.6L493.5,1188.3L492.5,1188.5L487.5,1188.4L486.9,1188.1L485.5,1186.1L484.5,1185.9L483.5,1185.9L482.5,1186.3L481.9,1187.6L480.5,1189.1L480.7,1189.6L482,1190.6L482,1193.1L482.3,1194.1L483,1195L484,1195.3L486,1195.3L486.9,1195.1L487.3,1194.6L488,1193.1L489,1192.5L492.5,1192.3L494.5,1192.6L495.1,1193.1L496,1194.7L496.5,1195.1L497.5,1195.4L517,1195.4L519,1195.7L519.5,1196.1L521,1198.6L521,1199.6L520.3,1200.1L518.5,1200.3L516,1200.2L513.5,1198.5L510.5,1198.4L509.5,1198.7L509,1199.1L508.5,1200.1L507.8,1200.6L504,1201L503.4,1201.6L504.5,1202.2L512.5,1203.1L513.4,1203.6L514,1205.1L514.6,1205.6L515.5,1205.9L518,1206.2L521,1206.3L523,1206L525.5,1205.1L526.9,1205.6L527.3,1206.1L527.4,1207.1L526.5,1207.9L524.4,1209.1L523.5,1210.6L522.8,1211.1L521,1211.4L518,1211.2L517,1210.6L516.5,1209.6L516,1209.2L513,1208.5L512.5,1208.1L512,1207.1L511,1206.5L509,1206.4L505.5,1206.9L502,1206.7L501,1206.1L500.2,1203.6L499.5,1203L499,1203.1L496,1204.3L495.5,1204.6L494.8,1205.6L494,1205.9L489.5,1206.5L488.5,1208.6L486.9,1209.6L485.5,1210.9L484,1211.6L483.6,1212.1L483.5,1213.3L484.4,1214.6L484.4,1215.1L484,1215.4L483,1215.7L482,1215.7L479.5,1214.8L476.5,1214.5L475.1,1213.6L474.7,1212.6L474.5,1211.1L475.5,1210.4L478.8,1209.6L478.5,1209.1L475.5,1209L474.6,1209.6L474.4,1210.6L474,1210.9L472.5,1211.3L470.5,1211.3L468.5,1211.2L468,1211L466.4,1209.6L463,1209L462.2,1208.1L462.1,1207.1L462.5,1206.1L463.5,1205.5L467,1205.3L471,1205.8L473.3,1205.6L473.2,1205.1L471.1,1204.1L467.5,1203.8L466.5,1203.5L465.7,1202.6L465.7,1201.1L466,1200.6L467,1200L471.5,1199.7L473.2,1199.1L473.2,1198.6L470.5,1198.1L470,1197.6L469.5,1196.6L469.6,1196.1L470.5,1195.5L475,1195.3L475.6,1195.1L476,1194.6L476,1193.6L475.8,1192.6L474.4,1190.6L473.4,1187.6L473.2,1186.6L473.5,1185.6L474.5,1184.8L475.5,1184.3L480,1183.9L480.6,1183.6L482.4,1181.6L482.1,1178.6L481.8,1178.1L481,1177.9L476.5,1177.8L475,1177.1L474.7,1176.6L474.9,1175.6L475.4,1174.6L476,1174.1L477.5,1173.8L481,1174L482,1174.6L483,1176.6L487,1176.9L488,1177.2L488.5,1177.6L489.7,1180.1L489.8,1181.1L488.9,1183.6L489.2,1184.1L490,1184.4L493.5,1184.5L494.1,1184.1L494.4,1183.1L495,1182.5L499.5,1182.2L500.1,1182.1L500.5,1181.6L499.5,1181.3L496,1181.2L494.1,1180.6L493.3,1179.6L493.2,1178.1L493.6,1177.1L494.5,1176.2L494.9,1176.1L494,1175.7L489,1175.3L488.1,1174.6L487.5,1173.1L487,1172.6L485,1172L484.5,1171.6L484,1170.6L483.2,1170.1L482,1170.1L479.5,1170.6L478,1172L477,1172.3L468,1172.3L466.5,1172L465.9,1171.1L466,1170.1L466.5,1169.7L468,1169.4L473.5,1169.2L474.2,1168.6L474.2,1168.1L473.5,1167.5L470.5,1167L470,1166.5L469.5,1165.1L467.5,1163.6L466.5,1161.9L465.5,1161.7L461.5,1161.5L460.5,1161.1L459.8,1160.1L459.5,1158.6L459,1158.4L457.2,1159.1L457.1,1159.6L457.6,1160.6L459,1162.1L459.2,1162.6L459.2,1163.6L458.3,1166.1L457,1167.3L453.5,1168.1L453.6,1169.6L453,1170.5L451.5,1170.8L448.5,1170.7L447.5,1170.1L446.9,1168.6L445.5,1168.2L438,1168.6L440.5,1169.3L441.4,1170.1L441.8,1171.1L441.4,1172.6L439.5,1174L436.5,1173.7L435.5,1173.9L434.5,1175.2L432.9,1176.1L432.6,1176.6L432.9,1177.1L433.5,1177.2L435.8,1177.1L436.3,1176.6L437,1175L438,1174.3L439,1174.1L442.5,1174.4L445,1175.2L447.5,1175.4L448.5,1175.7L449.4,1176.6L449.4,1178.1L449,1178.7L447,1180L445.8,1183.1L445,1184L442.5,1184.7L441.5,1185.7L440.5,1186.2L436.5,1186.2L435.6,1185.6L435.4,1184.6L436,1183.6L437,1183L437.3,1182.1L436.5,1181.5L434.5,1181.5L433.5,1181.7L432.9,1182.1L432.4,1183.1L431.5,1183.6L424.5,1183.9L423.5,1184.4L422.2,1185.6L421.5,1185.9L418.5,1186.3L417.2,1186.1L416.5,1185.6L416.1,1183.6L415,1182.6L414.5,1182.8L412.8,1184.1L412.8,1184.6L413.9,1186.1L413.9,1187.1L413.7,1188.1L411.5,1190.7L410.5,1191.4L409.5,1191.7L408,1191.6L406.5,1190.7L405.4,1189.1L404.7,1187.1L402,1185.6L401.6,1184.6L401.6,1182.1L402,1181.3L405,1181.2L406,1180.6L406.1,1179.6L405.6,1177.1L406.5,1175.3L408.4,1174.1L408.5,1173.6L408,1173.3L406,1173.1L404.5,1173.3L404,1173.8L403.5,1175.3L402.5,1176L397.5,1176.4L394.5,1176.4L393.5,1177L392,1178.8L390,1179.3L388,1179.4L386.5,1179L385.9,1178.6L385.8,1177.1L385.4,1176.6L384.5,1176.4L382.2,1176.6L380.9,1177.1L381.5,1177.6L384,1178.3L384.8,1179.1L384.7,1180.6L384.4,1181.1L383.5,1181.8L379.5,1182.4L378,1183.8L377,1184.1L373,1183.9L369.5,1184.4L366.5,1184.4L365,1184.2L364,1183.6L363.6,1182.6L363.8,1182.1L364.5,1181.3L365.5,1180.9L368.5,1180.3L373.5,1180.8L374.1,1180.6L374.5,1180.2L374.4,1179.6L373.5,1179.4L369,1179.5L364.5,1178.7L348,1178.9L344,1178.7L343.1,1178.1L342.9,1177.6L343.6,1176.6L345,1176L347,1175.7L347.9,1175.1L347.8,1174.6L347.5,1174.4L345.5,1174L344.5,1173.5L343.8,1172.6L343.8,1171.1L344.5,1170.1L345.5,1169.7L347.5,1169.5L350.5,1169.7L352,1170.6L352.5,1172.2L353,1172.7L359.5,1173L360.5,1173.6L361,1175.1L361.5,1175.5L362.5,1175.8L364.5,1175.8L371.3,1175.1L371.8,1174.6L372.5,1173.1L374,1172.1L374.3,1171.6L374,1171.1L372.5,1170.9L369,1170.9L366,1171.3L363,1171.4L356,1170.8L355.2,1170.6L354.5,1170.1L354.3,1169.6L354.5,1168.6L355.2,1168.1L356,1167.9L362,1167.3L365.5,1167.3L369,1167.8L371.5,1167.8L372.5,1167.5L374.2,1166.1L378,1165.9L379.3,1166.1L380,1166.6L380.1,1167.6L379.8,1169.1L379.7,1171.1L380,1171.7L381,1172.2L384.5,1172.4L387.5,1172.8L392.5,1173L394,1172.5L395.5,1170.7L396,1170.4L400.5,1170.3L400.8,1167.6L403.5,1166.1L404.8,1164.1L404.9,1163.6L404.4,1163.1L402.5,1162.9L401,1163.2L400.4,1164.1L399.9,1167.6L398.5,1168.6L396,1168.9L393.5,1168.8L392.1,1168.1L391.9,1167.6L392.2,1165.6L392,1164.6L386,1164.7L384.5,1164.1L383.5,1163L381.5,1163.5L377,1163.5L375.5,1163.2L374.5,1162.7L373.9,1162.1L372.4,1159.6L371.9,1158.1L372.1,1156.6L373.2,1154.6L372.7,1153.1L372.7,1151.6L375,1148.1L374.9,1147.6L373.1,1145.6L372.5,1144L372,1143.5L371,1143.4L370.5,1143.6L369.9,1144.6L369,1145.4L367.5,1145.7L365.5,1145.7L363,1145.3L362.1,1144.6L361.7,1143.6L362.2,1142.1L363,1141.4L367.1,1140.6L366.8,1140.1L365.5,1139.6L365,1139.1L364.9,1137.6L365.4,1137.1L369.5,1136.7L371.1,1136.1L371.1,1133.6L371.8,1131.1L371.6,1128.6L372,1127.6L373,1127.2L375.8,1126.6L376.3,1126.1L376.5,1124.6L377.5,1124.2L380,1124.2L381,1124.5L381.8,1125.1L382.3,1126.1L383,1126.2L385.1,1124.1L385.7,1121.6L386,1121.2L387,1120.8L390,1120.5L390.8,1118.1L393.5,1116.2L395,1115.7L397,1115.7L398.5,1116.3L399.5,1117.1L400.1,1118.1L400.3,1119.1L400.2,1120.6L399.9,1122.1L400,1123.1L400.5,1123.8L401.5,1124L403,1123.7L404,1122.4L406,1122L410.5,1122L411.5,1122.3L413,1123.2L414.5,1123.2L415,1123L416,1121.6L416.8,1121.1L420,1120.4L421.5,1120.3L428,1121.1L428.7,1121.6L429.5,1123.2L431.5,1124.2L432.3,1125.6L433.2,1126.1L436,1126.2L439,1125.8L442.5,1126.1L443.3,1125.6L443.3,1125.1L442.7,1124.6L436,1124.1L435,1123.4L435.2,1122.1L436,1121.3L437,1121L446.5,1121.3L447.3,1121.6L448,1123.1L448.5,1123.5L450,1124.2L451.5,1125.5L453,1126.1L453.5,1126.6L454.1,1128.1L454,1129.7L454.4,1130.1L456.5,1130.2L457.5,1130L459,1128.7L461.2,1128.1L461.5,1127.7L459,1127L458.2,1126.1L458.1,1125.1L458.5,1124.1L459,1123.7L460,1123.4L462.7,1123.1L463,1122.6L462.5,1122.1L460.5,1121.7L459.5,1121.1L459.2,1120.6L459.1,1119.6L459.4,1118.6L461,1116.1L462.2,1115.1L463.1,1113.6L464.5,1112.8L466,1112.6L470.5,1112.3L476.5,1112.4L478,1113.2L478.6,1114.6L478.3,1116.1L476.9,1117.1L477,1117.3L477.1,1117.6L478,1117.8L479.3,1118.6L480,1120.1L479.7,1121.1L477.5,1122.6L479.2,1124.1L479.4,1124.6L479.2,1126.1L478.1,1127.6L478.4,1128.1L480.3,1129.6L481.3,1131.1L481.1,1135.1L481.4,1135.6L484.5,1136L485.5,1136.5L486,1137.1L486.3,1138.1L486.2,1139.1L485.1,1140.6L485.1,1141.1L486.5,1142.9L487.5,1143.3L491,1143.4L492.5,1143.8L493.4,1144.6L494,1145.9L494.5,1146.2L495.5,1146.1L496.1,1145.6L497.1,1144.1L499,1143.4L503.5,1143.4L509.5,1143.9L510.5,1144.3L510.8,1144.6L511.2,1146.1L511.5,1146.4L514.4,1147.1L515.2,1147.6L516.5,1151.1L515.8,1153.1L517.2,1154.6L517.7,1155.6L517.9,1159.1L519,1160.1L519.3,1160.6L519.5,1161.6L519.2,1162.6L518.5,1163.1L516,1163.5L515,1164.1L515,1164.6L515.2,1165.1L516.8,1166.6L516.9,1167.6L516.5,1168.6L515.5,1169.2L514.5,1169.4L510.5,1169.3L509,1168.6L508.6,1167.6L508.7,1166.6L509.8,1165.1L509.9,1164.6L509.5,1164.1L507,1163.8L506,1163.5L504.5,1161.6L502.5,1161.4L500.5,1161.6L498.5,1163.8L497.5,1164.1L494,1164.3L492.5,1163.6L491.8,1162.1L491,1161.6L486,1161.8L482,1161.3L481,1160.8L480.4,1160.1L480.2,1159.1L480.4,1157.1L478.5,1153.9L477.5,1153.5L473.7,1153.6L473.3,1154.1L473.8,1154.6L476.5,1155L477.5,1155.6L477.8,1156.1L477.9,1157.1L477.5,1158.1L475.5,1159.1L475.1,1159.6L475.6,1163.1L477.1,1165.6L477.5,1165.8L478.2,1165.6L479,1163.6L480,1163L482.5,1162.8L485,1163L486,1163.6L486.3,1164.1L486.3,1165.1L485.8,1166.6L486,1166.9L487.5,1167.6L489,1168.9L489.5,1169L490,1168.7L490.1,1167.6L490.8,1166.1L492,1165.4L498.5,1165.1L503.5,1165.4L504.4,1166.1L504.8,1167.6L504.4,1168.6L503.5,1169.3L501,1169.6L492.5,1169.5L491.6,1169.6L491.3,1170.1L492,1170.7L495.5,1171.4L496.4,1172.1L496.8,1173.1L496.7,1174.1L496,1175.1L495.1,1175.6L496,1176L501,1176.4L501.9,1177.1L502.5,1179.1L503,1179.6L505,1179.8L508.5,1179.3L513,1179.4L514.5,1180.1L515.5,1182L516.5,1182.3L518.5,1182.1L519.5,1180.1L520.5,1179.5L527,1179.3L527.3,1177.1L529,1173.6L531,1172.6L533,1171.3L535.5,1170.4L537.5,1170.2L540,1170.3L543,1171.3L545,1172.6L548,1173.2L548.5,1173.6L548.9,1174.6L548.5,1177.7L549,1178.1L552,1178.5L553,1179.1L553.3,1179.6L553.4,1180.6L553.1,1181.6L552.4,1182.6L552.4,1183.1L556.5,1185.8L557.6,1187.1L557.9,1188.6L557.4,1190.6L557.6,1191.1L560,1192.5L562.1,1193.1L562.6,1193.6L562.6,1194.1L562.5,1195.1L562,1195.6L561.5,1195.7L558,1195.9L552,1195.1L550,1196.4L548.5,1196.6L551.5,1197.3L552.5,1198.1L553.5,1199.6L554,1199.8L557.5,1199.9L559,1200.1L559.6,1200.6L560.5,1202.1L563,1202.9L564.5,1204.1L568,1205.3L569.2,1206.1L570.5,1208L571.5,1208.3L573,1208L574.1,1205.1L574.1,1204.6L573.7,1204.1L572,1203.3L571.1,1202.6L570.8,1202.1L570.8,1201.1L571.5,1200.2L573,1199.6L577,1199.6L578,1199.8L580.5,1200.8L582,1200.9L582.2,1204.6L582,1209L580.1,1209.6L579.8,1210.1L581.5,1211.6L581.6,1212.6L581,1213.5L579,1214.2L578.5,1214.6L578,1215.6ZM136,1117.4L134.5,1117.5L133.5,1117.1L132.8,1116.1L132.8,1115.1L133.1,1114.6L134,1114L135,1113.8L136,1114L136.9,1114.6L137.2,1115.1L137.2,1116.1ZM388.5,1118.7L386.5,1118.9L384,1118.7L383,1118.1L382.9,1117.1L383.2,1116.6L384.5,1116.2L388,1116.3L388.7,1116.6L389.3,1117.6L389.3,1118.1ZM87,1124.2L85,1124.3L83,1123.9L81.7,1123.1L81.4,1122.1L82.3,1121.1L84,1120.5L86,1120.4L88,1120.8L89.3,1121.6L89.6,1122.6L88.7,1123.6ZM532.5,1125.7L530.5,1125.8L528.5,1125.3L527.3,1124.1L527.3,1123.1L528.5,1121.9L530,1121.4L532,1121.4L533.5,1121.9L534.7,1123.1L534.7,1124.1L533.8,1125.1ZM428.1,1131.6L430.5,1130.8L432.1,1130.6L432.1,1130.1L430,1129.9L429,1129.5L428.5,1129.1L427.5,1127.3L426,1126.5L425.5,1126.1L425,1125.1L424,1124.6L421.5,1125.1L421.5,1125.6L423,1126.5L423.4,1127.1L423.4,1128.1L423,1129.1L421.5,1129.8L418,1130L417.3,1130.6L418,1131.2L419.5,1131.7ZM408.4,1128.6L408.7,1128.1L408.7,1127.6L408,1126.8L406,1126.2L405.2,1126.6L405.5,1127.6L406.5,1128.6L407.5,1129ZM154.5,1128.8L154,1129L153.1,1128.6L153,1127.6L153.3,1127.1L154.5,1127L155,1127.6L155,1128.2ZM495.5,1137.2L494,1137.2L492.5,1136.6L491.6,1135.6L490.9,1134.1L490.8,1131.6L491.3,1130.1L492.5,1128.7L493.5,1128.3L495,1128.1L496.5,1128.5L497.4,1129.1L497.9,1130.1L498.4,1134.6L497.9,1135.6L497,1136.6ZM213.7,1140.6L215,1139.6L216.9,1138.6L216.7,1138.1L215.5,1137.4L214.9,1136.6L215,1135.1L214.5,1133.8L213.5,1132.6L212.1,1131.6L211.8,1130.6L211,1130.5L211.9,1131.6L212,1132.7L213.3,1136.1L213.2,1136.6L211.9,1137.6L211.6,1138.1L211.6,1138.6L213,1140.6ZM237.6,1132.6L236.6,1131.1L236,1130.7L234.3,1130.6L234.4,1131.1L235.5,1132.8L236.5,1133ZM381.3,1133.6L383,1133.1L385.2,1131.6L384.5,1131.3L383.5,1131.2L382,1131.2L381,1131.4L380.4,1132.1L380.2,1133.1L380.5,1133.5ZM450.9,1133.1L450.9,1132.6L450.5,1132.2L450,1132.1L449.4,1132.6L450,1133.2L450.5,1133.3ZM395,1133.6L395.3,1133.1L395,1132.7L394.5,1132.6L393.6,1133.1L393.5,1133.6L394,1133.9ZM441.6,1136.1L442.5,1135.1L442.6,1134.6L442,1133.3L441.5,1132.9L440.6,1136.1L441,1136.3ZM86.5,1138.1L84.5,1137.8L84,1137.6L83.5,1137.1L84,1136.6L85.5,1136.4L87,1136.6L87.9,1137.1L87.9,1137.6ZM412,1141.1L411.8,1139.1L411.5,1138.4L410,1138.2L408.9,1138.6L408.4,1140.6L408.7,1141.1L410.5,1141.3ZM391.2,1140.6L392.5,1139.7L397,1139.6L397.1,1139.1L394.4,1139.1L393.5,1139.5L391,1139.5L390.5,1139.6L389.6,1140.6L390,1141.1ZM431.5,1147.6L432.3,1146.6L432.3,1146.1L432,1145.7L428.5,1146.3L425,1146.3L424,1145.8L423.3,1144.6L423.2,1143.6L423.8,1142.6L425.1,1141.6L423.1,1141.1L421.5,1141L416.3,1142.1L418,1142.8L418.7,1143.6L418.6,1144.6L418,1146.1L418.2,1146.6L418.5,1146.7L421.2,1147.6L422.5,1147.8L429.5,1148ZM46.5,1146.6L43,1146.7L42.8,1144.6L43,1142.1L47.5,1142.2L48.9,1143.1L49.3,1144.1L48.9,1145.6L48,1146.3ZM469.6,1144.1L471,1143.6L471,1143.1L469.5,1142.6L468.5,1142.7L467.8,1143.1L467.7,1143.6L468,1143.9ZM339,1152.7L335.5,1152.8L334.7,1152.6L334,1152.1L332.6,1148.6L331.7,1147.1L331.5,1145.1L332,1144.2L333.5,1143.8L337,1143.8L338,1144L339,1144.6L339.4,1145.6L339.3,1148.6L340.1,1151.1L339.9,1152.1ZM356,1155.8L355,1155.9L351.5,1155.9L350.5,1155.7L349.5,1155.1L348.5,1153.2L347,1152L345.5,1148.6L345.6,1147.6L346.5,1147L348.6,1146.6L349,1146.2L349.6,1144.6L350.5,1143.9L352,1143.7L355.5,1143.7L357.5,1144.2L357.9,1144.6L358.3,1145.6L358.2,1148.6L358,1149.6L357,1150.2L353.5,1150.4L353.2,1150.6L353,1151.1L353.7,1151.6L356,1152L356.8,1152.6L357.1,1154.6L356.9,1155.1ZM87,1146.2L85.5,1146.3L84,1146.1L83.1,1145.6L83.1,1145.1L84.5,1144.5L87,1144.5L87.9,1145.1L87.9,1145.6ZM469.1,1150.1L469.3,1149.1L469,1148.3L467,1147.5L465.5,1146.1L463.5,1146L462.5,1146.2L460.5,1148.1L460.4,1148.6L460.5,1149.2L461.5,1149.9L466.5,1149.8ZM397.3,1154.6L397.4,1154.1L397,1152.5L394.7,1151.1L394.5,1150.6L394.6,1149.6L395,1148.6L396.5,1147.9L399.5,1147.8L401,1148L402,1148.6L402.7,1149.6L403.5,1150L410,1150.3L411.5,1150.9L412.5,1152.2L413.5,1152.3L414.1,1152.1L412.8,1151.1L412,1149.8L408.5,1149.3L407.5,1148.7L406.1,1147.1L405,1146.6L390.9,1146.6L390.5,1147.1L390.8,1149.6L393,1150.4L393.9,1151.1L394.5,1153.7L395,1154.7L396,1155ZM185.5,1155.8L184,1156L183,1155.5L182.2,1154.6L181.3,1152.6L181.3,1150.6L181.7,1149.1L182.5,1147.6L184,1146.7L185.5,1146.9L186.5,1147.6L187.3,1149.1L187.6,1150.1L187.3,1153.6L186.5,1155.1ZM369,1150.2L366,1150.3L364.5,1150L363.8,1149.1L364,1147.6L365,1147L366,1146.8L368.5,1146.9L369.5,1147.2L370.2,1148.1L370.2,1149.1L370,1149.6ZM50,1198.1L46,1198.4L45,1198.2L44,1197.6L43.6,1196.6L43.7,1195.6L44,1195L45.3,1194.1L43,1193.8L42.8,1192.6L43,1183.8L44.5,1183.5L46.5,1182L52,1181.6L52.8,1181.1L52.1,1180.6L51,1180.3L44.5,1180.1L43.5,1179.6L43.2,1179.1L43.2,1177.6L43.8,1176.1L43,1175.5L42.8,1173.6L42.9,1170.6L42.7,1167.1L43,1160.6L42.8,1150.1L43,1147.8L51,1147.8L53,1148.2L53.8,1149.1L53.8,1150.6L53,1151.5L50,1152.2L49.5,1152.9L49.2,1154.1L49.5,1154.9L50.5,1155.3L54,1155.5L55,1156.1L56,1157.3L58.5,1157.7L59.5,1158.3L60.2,1159.6L60.3,1160.6L59.9,1161.6L58.9,1162.6L59.5,1162.9L62.5,1163.4L63.3,1164.1L64.4,1167.6L64.2,1168.6L63.6,1169.1L64,1169.6L67,1168.6L71,1168.6L72.9,1169.1L73.4,1170.1L73.7,1174.1L73.2,1175.1L67.5,1177.4L63.7,1178.1L63.8,1178.6L64,1178.7L66,1178.9L67,1179.2L67.5,1179.6L68.5,1181L70.5,1181.5L71.5,1182.1L71.8,1182.6L71.9,1183.6L71.5,1184.6L70,1185.3L65.5,1185.3L64,1184.6L62.8,1183.1L60,1182.7L59.6,1183.1L59.5,1184.1L59.9,1184.6L61.5,1185.3L62.9,1186.6L63.8,1189.1L66.2,1190.1L66.7,1190.6L66.9,1191.6L66.5,1192.6L64.5,1193.7L63.5,1195.1L62.5,1195.8L57.5,1196L55,1196.6L52.5,1196.2L51.6,1196.6L50.9,1197.6ZM470.6,1152.1L471,1151.6L470,1151L469.6,1151.1L469.6,1151.6L470,1152ZM511,1153.6L511,1153.1L509,1151.5L508.5,1151.7L507.7,1153.1L507.7,1153.6L508,1154L508.5,1154.1ZM428,1154.6L428.5,1154.1L428.6,1153.6L428.4,1152.6L428,1152.2L427,1152L425.5,1152.2L425.3,1152.6L425.5,1153.6L426,1154.5L427,1154.8ZM268.5,1189.7L266.5,1190L264.5,1189.3L262.5,1187.4L261,1186.6L260.1,1185.6L258.5,1184.6L257.8,1183.6L257.7,1182.1L258.1,1181.1L259,1180.4L261.5,1179.8L262.1,1179.1L263.1,1176.1L263,1174.7L262.5,1174.1L261,1173.9L259.5,1174.3L258.5,1176.1L257.5,1176.7L256,1177.1L255.4,1177.6L253.5,1181.1L252.5,1181.7L248,1181.9L247,1181.7L246,1181.1L245.6,1180.1L246.1,1179.1L248.4,1177.6L249,1176.6L250.4,1175.6L250.6,1175.1L250,1174.6L246,1174.5L245,1174.3L244.1,1173.6L243,1171.1L242.2,1167.6L242.8,1166.1L244.5,1164.1L244.6,1163.6L243.8,1162.1L242.6,1158.1L242.9,1157.1L243.8,1156.1L246.5,1154.4L248,1153.7L250.5,1153.3L253,1153.5L257.5,1155.3L258.5,1155.9L259.6,1157.6L259.7,1159.6L260,1160L262,1160.7L263.7,1162.1L266.5,1162.4L267.5,1162.3L267.8,1162.1L268.7,1160.6L270,1160.2L273.5,1160.2L274.5,1160.4L275,1160.8L275.5,1162.1L275,1163L274,1163.4L270.5,1163.5L269.5,1163.8L269.1,1164.6L269.2,1165.1L269.7,1165.6L271,1165.9L274,1165.9L278,1165L279,1165L281,1165.7L282.7,1167.1L283.2,1168.1L283.3,1169.1L282.2,1171.1L281.9,1173.1L281.5,1173.5L280,1173.8L273,1173.9L272.5,1174.1L272.1,1174.6L272.1,1175.1L272.5,1175.8L274.7,1177.6L279,1178.3L283.3,1178.6L284,1179.2L284,1180.3L283,1180.9L279.5,1181.1L278,1181.6L277.4,1182.1L277,1183.3L276.5,1183.9L275,1184.6L274.5,1185.1L273.9,1186.6L272.5,1188.6L271.5,1189.2ZM460.1,1157.6L461.5,1157.2L465,1157L467.4,1156.6L466,1156.4L465.5,1156L464.8,1154.6L464,1153.9L461,1153.3L460.5,1153.7L460,1154.6L459.7,1157.1ZM226.5,1158.7L222.5,1158.9L220.5,1158.5L219.7,1157.6L219.5,1156.6L219.8,1155.6L220.3,1155.1L221.5,1154.8L225.5,1154.5L226.5,1154.6L227.4,1155.6L227.9,1157.1L227.5,1158.1ZM442.6,1163.6L444,1160.6L444.5,1160.2L447,1159.7L449,1158.8L451,1158.4L451.6,1158.1L451.8,1155.1L451.5,1154.6L450.5,1154.6L450,1155L449.5,1156.1L448.5,1156.8L444.2,1157.6L441.5,1159.5L438,1159.8L435.5,1159.5L434.6,1158.6L434.2,1157.1L433,1156.8L429.3,1158.1L428,1159.7L426.7,1160.6L426.9,1161.1L428,1161.2L436.5,1161.2L437.9,1162.1L438.5,1163.5L439,1163.9L441.5,1164.1ZM203,1157.7L202,1157.5L201.4,1156.6L201.6,1155.6L202.5,1155L203.5,1155.2L204.1,1156.1L203.9,1157.1ZM365,1164.2L358,1163.7L356.5,1163.4L355.8,1162.6L355.5,1161.5L354.1,1160.1L354.3,1157.6L355.5,1156.8L359,1156.8L360.5,1157.2L362,1158.7L365,1158.2L367,1158.9L368.2,1160.1L368,1162.6L367.7,1163.1L367,1163.6ZM418.4,1158.6L419.3,1158.1L419.1,1157.1L418.5,1156.8L417.4,1157.1L417,1157.6L417.1,1158.1L417.5,1158.6ZM545.5,1165.7L544.5,1165.7L544,1165.4L542.4,1162.1L542.8,1158.6L543.6,1157.6L545,1157.1L546,1157.3L546.9,1158.1L547.7,1159.6L548,1161.1L547.8,1162.1L546.6,1164.6ZM341,1163.2L339,1163.2L337.5,1162.4L337,1161.5L336.6,1160.1L337,1159.1L338.5,1158.3L340,1158.1L341.5,1158.3L343,1159.1L343.7,1160.1L343.7,1161.1L343.5,1161.6L342.5,1162.5ZM529,1164.1L525.5,1164.2L524,1163.9L523.2,1163.1L523.2,1161.1L524,1160.2L525,1159.9L528,1159.9L529.5,1160.3L530.4,1161.6L530.7,1163.1L530,1163.9ZM416.2,1176.6L417.3,1175.1L419,1174.2L420.5,1173.9L424.5,1173.9L425.8,1173.6L425.3,1172.1L425.5,1171.1L426.2,1170.6L428,1170L428.4,1169.6L428.4,1169.1L427.5,1168.5L424.5,1168.3L423.5,1168L423,1167.6L422.6,1166.6L422.6,1165.6L423.2,1164.1L423.2,1163.6L422,1163.2L418,1162.8L417.1,1162.1L416.5,1161L416,1160.6L415.5,1160.6L413.5,1161.1L413.1,1161.6L412.9,1167.1L412.2,1168.1L410.3,1169.1L410.2,1169.6L410.6,1171.1L411.2,1171.6L414.5,1171.9L416,1172.6L416.4,1173.6L416.2,1175.1L413.8,1176.1L413.8,1176.6L415,1177ZM341,1170.7L338.5,1170.8L337,1170.6L336.5,1170.1L336.2,1168.6L336.8,1168.1L337.5,1167.9L341.6,1167.6L342.6,1166.1L343.9,1165.1L344.4,1163.1L345.5,1162.5L349.5,1162.3L350.5,1162.5L351.5,1163.1L351.8,1163.6L351.6,1164.6L351,1165.4L349.4,1166.6L348.5,1168L347.5,1168.3L343,1168.6L342.5,1169L342,1170.1ZM526.5,1171.7L522.5,1171.9L521.5,1171.7L520.5,1171.1L520.1,1170.1L520.1,1169.1L521.6,1166.1L522.5,1165.7L533.5,1165.3L534.5,1165.5L535.4,1166.1L535.7,1167.6L535.4,1168.6L534.9,1169.1L533.5,1169.6L529,1169.7L528.2,1170.1L527.5,1171.1ZM260.4,1168.1L264.5,1167.8L265.2,1167.6L265.7,1167.1L265.1,1166.6L264,1166.5L257,1166.3L255.7,1166.6L255.6,1167.1L255.9,1167.6L257,1168.1ZM217.5,1183.8L216,1183.8L215,1183.1L214.6,1182.6L213.4,1179.1L213.4,1177.1L212.8,1175.1L213.2,1173.1L213.4,1171.1L214.2,1169.1L215,1168.1L216.5,1167.4L217.5,1167.5L218.4,1168.1L219.1,1170.1L220.3,1172.1L220.5,1173.6L220.4,1176.6L219.4,1179.6L219.3,1181.1L218.5,1183ZM230,1171.2L227.5,1171.4L225.3,1171.1L224.8,1170.6L224.8,1168.6L225.3,1168.1L226.5,1167.9L229.5,1167.9L230.5,1168.2L231,1168.6L231.1,1169.6L230.8,1170.6ZM56.2,1169.1L56,1168.5L55.5,1168.6L55.1,1169.1ZM274,1170.6L274.2,1170.1L274,1169.4L273.5,1168.7L273,1168.4L269.5,1168.5L268.6,1169.1L268.4,1169.6L268.6,1170.1L269.5,1170.7L272.5,1170.8ZM512,1175.6L509,1175.5L507.5,1175L507.1,1174.6L506.8,1173.6L507.1,1172.1L508,1171.4L509.5,1171.1L513,1171.1L514.5,1171.7L514.9,1172.1L515.3,1173.1L514.9,1174.6L514,1175.3ZM255.9,1172.6L256.6,1172.1L256.1,1171.6L255.5,1171.6L254.9,1172.1L255.3,1172.6ZM239,1184.2L235.5,1184.2L234.5,1183.6L234,1182.6L233.5,1182.3L228.5,1181.5L227.7,1181.1L227.2,1180.6L227.2,1179.6L228,1178.3L229.2,1177.6L229.2,1177.1L227.5,1176.6L226.5,1176.1L226.1,1175.1L226.2,1174.1L226.5,1173.6L227.5,1173L229,1172.8L238,1172.7L240,1173.2L240.7,1174.1L241,1175.2L242.4,1176.6L242.5,1177.1L242,1178.4L240.6,1179.6L240.4,1180.1L240.5,1181.6L240.4,1182.6L239.9,1183.6ZM454.5,1190.8L452.8,1190.1L452.3,1189.6L452.2,1189.1L452.5,1188.2L453,1187.7L454,1187.2L454.5,1186.7L455,1185.1L456.1,1183.6L457,1181.6L456.9,1181.1L455.5,1180.4L453,1180.3L452,1180L451.3,1179.1L451.3,1178.1L451.5,1177.6L452.5,1177L455.5,1176.6L456.2,1176.1L457,1175.1L458,1174.5L466.5,1174.4L468,1174.7L468.5,1175.6L468.5,1176.8L468,1177.2L465.5,1177.6L464.9,1178.6L464.8,1180.6L465,1181.1L465.7,1181.6L468.5,1182L469.5,1182.6L469.8,1183.6L469.4,1185.1L468,1185.8L464.5,1186.1L464,1186.5L463.4,1187.6L462.5,1188.4L459.5,1188.9L457.8,1190.1ZM539.1,1178.6L540.2,1178.1L540.5,1177.6L540.3,1177.1L539,1176.8L537,1176.8L536,1177.1L535.7,1177.6L535.8,1178.1L536.5,1178.5ZM92.5,1219.6L91.5,1219.2L90.5,1217.9L87,1217.3L82.5,1214.8L80.1,1213.1L79.6,1212.1L79,1209.1L78.4,1201.6L78,1200.2L77,1201L76.5,1202.1L77.5,1206.1L77.5,1208.6L76.8,1212.1L76,1214.1L75,1215.2L74,1215.9L72.5,1216.2L71.5,1215.9L70.5,1215.2L69.2,1213.6L68,1209.1L68.1,1206.1L69,1202.1L67.6,1199.1L67.6,1198.1L67.9,1197.1L68.7,1196.1L70,1195.2L71,1194.7L72.5,1194.5L74.5,1194.9L77.5,1197.4L78,1197.5L78.5,1196.6L78.2,1195.6L77.1,1194.1L76.5,1192.2L73.7,1187.1L73.5,1180.1L73.8,1179.1L74.5,1178.5L76.5,1178.1L83.5,1178.3L88,1177.9L91,1177.9L92.5,1178.2L93.2,1178.6L94.2,1180.1L94.6,1182.1L94.5,1184.1L95.4,1186.6L96.4,1192.1L96.6,1194.1L97.9,1203.1L97.8,1205.1L98.4,1207.6L97.7,1209.1L96.3,1210.6L95.8,1212.1L95.1,1213.6L95.2,1216.1L95.1,1216.6L93.5,1219.2ZM430.3,1180.6L430.7,1180.1L430.7,1179.6L430,1179.3L427.5,1179.5L427.1,1180.1L427.7,1180.6L428.5,1180.8ZM362.5,1189.7L358.5,1189.9L356.5,1189.5L355.7,1188.6L355,1186.8L354,1186.4L349.5,1186.1L349,1185.6L348.4,1184.1L345.6,1182.6L345.4,1182.1L345.6,1181.6L346.2,1181.1L347,1180.9L350.5,1180.9L351.5,1181.2L352,1181.6L352.5,1182.6L353.5,1183.2L359,1183.4L360.5,1183.7L362,1185.1L363.5,1186L363.8,1186.6L363.8,1188.6L363.5,1189.1ZM394.5,1183.3L391.5,1183.4L390,1183.2L389.3,1182.6L389.1,1181.6L389.7,1181.1L390.5,1180.9L394.5,1181L395.2,1181.6L395.3,1182.1L395,1182.8ZM544,1185.6L544.1,1185.1L542.5,1182.9L542,1182.5L539,1182.5L538.5,1182.6L537.9,1183.1L538,1184.1L538.7,1184.6L542,1185ZM254,1187.2L251,1187.4L248.5,1187.2L247.5,1186.6L247.2,1186.1L247.2,1184.6L248,1183.7L249,1183.4L252.5,1183.3L254,1183.5L255,1184.1L255.4,1185.1L255.3,1186.1L255,1186.6ZM55.7,1188.6L56,1188.5L57.1,1186.6L57.3,1186.1L57.2,1185.6L52,1185.2L51,1185.6L50.9,1186.1L51.4,1186.6L54,1187.2L55.4,1188.6ZM359,1218.6L358,1218.6L357,1218.2L355,1216.1L354,1215.6L350.5,1215.3L349.5,1215L348.8,1214.1L348.8,1213.1L349,1212.6L349.7,1212.1L353,1211.7L353.9,1211.1L354,1210.6L353.5,1210.1L352.1,1209.6L351.5,1209.1L351.3,1207.6L351.9,1207.1L360,1206.3L360.5,1206.1L361.6,1204.6L362.5,1204.2L369,1204.4L369.5,1204L369.8,1202.6L370.5,1201.7L371.5,1201.4L374.5,1201L374.7,1200.6L374,1200.3L369,1199.8L368.1,1199.1L367.8,1198.6L367.6,1196.6L368.1,1194.6L368.5,1194.2L369.5,1193.9L374,1193.6L374.6,1193.1L375.9,1190.6L375.6,1190.1L375,1190L370.5,1189.9L369,1189.5L368.5,1189.1L368.1,1188.1L368.1,1187.1L368.5,1186.1L369.5,1185.4L370.5,1185.3L380.5,1185.4L381.8,1186.1L382,1188.1L382.5,1188.8L383,1189L389.5,1188.7L391,1189L391.8,1189.6L391.9,1191.1L391.5,1191.7L390.5,1192.2L389,1192.3L382,1191.7L380.5,1191.8L379.8,1192.1L379.2,1193.1L380,1196.1L379.9,1198.6L379.5,1200.6L380,1201.1L382,1201.4L383,1201.9L383.8,1203.1L383.8,1204.1L383.5,1204.6L382.5,1205.2L381,1205.4L372.5,1205.4L370,1205.1L369.6,1205.6L368.5,1208.6L367.8,1209.6L366.5,1210.1L364.5,1210.1L363.3,1210.6L363,1210.9L362.8,1211.6L362.7,1214.1L362.1,1215.6L360.7,1217.6ZM448,1189.2L445.5,1189.3L444,1189L443.3,1188.1L443.5,1186.6L444,1186.1L445,1185.9L447.5,1185.9L448.7,1186.1L449.3,1186.6L449.1,1188.1L449,1188.6ZM287,1194.7L285,1194.9L281,1194.8L280.1,1194.1L279.8,1193.6L279.8,1192.1L280.1,1191.6L281,1190.9L284.5,1190.3L286.5,1187.3L287.5,1186.7L289,1186.2L292,1186.4L293.5,1187.1L295.5,1188.7L300,1189L301,1189.6L301.1,1190.1L301,1191.1L300,1191.7L298,1191.8L294.5,1191.7L292,1192.7L289,1193.2ZM217.5,1195.1L216.5,1195.2L215,1194.8L214,1194L213.2,1192.6L213.1,1191.1L213.7,1189.6L214.7,1188.6L216,1188.1L217,1188L218.5,1188.4L219.5,1189.2L220.3,1190.6L220.4,1192.1L219.8,1193.6L218.8,1194.6ZM434.5,1192.3L432,1192.6L429,1192.3L427.8,1191.1L427.5,1190.1L427.6,1189.1L428.5,1188.4L429.5,1188.2L433,1188.1L434.5,1188.4L435.4,1189.1L435.8,1190.1L435.4,1191.6ZM469,1193.8L465.5,1193.9L464,1193.6L463.4,1193.1L462.7,1191.6L462.7,1190.6L463,1190.1L464,1189.5L465.5,1189.3L469,1189.7L469.9,1190.1L470.4,1190.6L470.6,1191.6L470,1193.1ZM538,1193.7L534,1193.9L532,1193.6L531.2,1193.1L530.9,1192.6L530.9,1191.6L531.7,1190.1L533,1189.4L536.5,1189.2L538,1189.3L538.9,1190.1L539.3,1191.6L538.9,1193.1ZM524.5,1193.2L521.5,1193.3L520,1193L519.3,1192.1L519.5,1190.6L520.2,1190.1L521,1189.9L523.5,1189.9L524.8,1190.1L525.5,1190.9L525.6,1192.1L525.4,1192.6ZM260.5,1195.1L257.5,1195.1L256,1194.5L255.6,1194.1L255.2,1193.1L255.6,1191.6L256.5,1190.9L258,1190.6L261.5,1190.6L263,1191.2L263.4,1191.6L263.8,1192.6L263.4,1194.1L262.5,1194.8ZM49,1194.1L49.5,1193.7L50,1192.6L51.3,1191.6L51.2,1191.1L50,1191L49.5,1191.2L48.8,1192.6L47.1,1194.1ZM354,1194.7L351.5,1194.9L350,1194.5L349.5,1194.1L349.1,1193.1L349.2,1192.1L349.5,1191.6L350.5,1191L351.5,1190.8L355,1190.8L356.5,1191.2L357.1,1192.1L356.7,1193.6L356,1194.2ZM454,1218.2L451.5,1218.4L449,1218.2L448,1217.6L447.3,1216.1L446.8,1215.6L442.5,1215L441.8,1214.1L441.8,1213.1L442.5,1212.1L443.9,1211.1L443.8,1210.6L443.1,1210.1L440.5,1209.9L437,1210.4L433.5,1210.4L432,1210L431.2,1209.1L431.2,1208.1L431.5,1207.6L432.5,1206.9L434,1206.5L436.5,1206.3L441.5,1206.8L442.8,1206.6L443.5,1206.1L443.8,1205.1L443.8,1200.1L444.2,1198.1L444,1197.6L441.8,1196.1L441.6,1195.1L442.2,1192.1L443,1191.3L444,1191.1L447.5,1191.1L451.5,1191.6L454.5,1191.2L457.5,1193.6L457.6,1194.6L457.4,1195.1L456.5,1195.6L454.5,1196L453,1195.9L451,1194.7L450,1194.7L449.5,1195.1L449,1196.6L446.5,1197.4L445.8,1198.1L446.5,1201.1L447.5,1201.7L450.8,1202.1L451.5,1202.6L451.6,1203.1L451.5,1204.1L450.8,1204.6L447.5,1205L446.5,1205.6L446.2,1206.6L446,1211.1L448.5,1212.5L448.9,1213.6L449.6,1214.1L453.5,1214.4L455,1215.1L455.4,1216.1L455.3,1217.1L455,1217.6ZM399,1193.7L394.5,1193.6L393.6,1193.1L393.4,1192.6L393.5,1192.1L394.2,1191.6L395,1191.4L399,1191.5L399.9,1192.1L400.1,1192.6L399.9,1193.1ZM423.5,1194.3L419.5,1194.2L418.5,1193.6L418.5,1192.6L419.2,1192.1L420,1192L423.4,1192.1L424,1192.6L424.2,1193.1L424.3,1193.6ZM273,1211.1L270,1211.1L268.5,1210.9L267.6,1210.1L267,1208.2L266.5,1207.8L261.5,1208.1L259,1207.8L258.5,1207.3L258.2,1206.6L258.1,1205.1L258.3,1204.6L259.5,1203.7L263,1203.6L265,1203.8L268,1204.8L271.5,1204.8L271.6,1202.6L271.8,1202.1L275,1201.1L276.8,1199.6L279,1199L280.5,1197.2L281.5,1196.9L287.5,1196.3L292.5,1196.5L297,1195.4L300.5,1196.2L301.5,1196.2L302.5,1195.6L303,1194.6L303.7,1194.1L306.5,1193.9L308,1194L309,1194.6L309.5,1196.1L310.8,1197.6L310.5,1198.6L309.5,1199.3L304,1200.2L301,1200.5L297.5,1201.9L295.5,1201.9L292,1200.5L289.4,1200.6L288.8,1201.1L289.3,1201.6L291,1202.2L291.3,1202.6L291.6,1204.1L292,1204.4L293,1204.8L296,1205L296.6,1205.6L296.5,1206.6L295.9,1207.1L294.5,1207.7L294,1208.1L293.5,1209.6L292.5,1210.2L289,1210.3L287.5,1210L286.8,1209.1L287,1208.1L287.7,1207.6L289.5,1207L290,1206.5L290.1,1205.6L289.7,1205.1L289,1204.7L285.5,1204.2L284.5,1203.1L283.5,1202.5L282,1202.4L281,1202.6L280.5,1203.1L279.8,1204.6L278.5,1205.2L274.5,1205.3L272,1205.2L271.7,1205.6L272.4,1206.1L275,1206.7L275.7,1207.1L276.3,1208.1L276.2,1209.6L275.5,1210.5L274.5,1211ZM429,1204.6L424,1204.8L422,1204.6L421,1204.2L419.6,1201.1L417.8,1199.1L417.8,1198.1L418,1197.6L419.5,1196.4L422.5,1195.3L425.5,1195.3L431,1196.5L433.5,1198.2L439,1198.5L440,1199.1L440.3,1199.6L440.3,1201.6L439.5,1202.5L438,1202.9L433.5,1203.1L432,1204.3ZM480.5,1197.1L481.1,1196.6L480.7,1196.1L479,1195.9L477,1196.1L476.5,1196.6L476.5,1197.1L477,1197.5ZM346,1207.6L344.5,1207.5L343.5,1207.1L342.6,1206.1L341.9,1204.6L341.6,1203.6L341.7,1202.1L342.9,1200.1L344,1199.3L345,1198.8L349.3,1198.1L351.5,1196.5L354.5,1196.5L356.2,1197.1L356.6,1197.6L356.5,1198.6L355.8,1199.1L354,1199.8L353.6,1200.6L353.7,1201.1L354.5,1201.7L357,1201.9L358,1202.2L358.6,1203.1L358.5,1204.1L357.9,1204.6L357,1204.8L351.5,1205L350.6,1205.6L350.2,1206.6L349.6,1207.1ZM455,1199.2L452.5,1199.3L450.5,1199.2L449.9,1198.6L449.9,1197.1L453,1196.2L454.5,1196.2L455.5,1196.8L456.1,1197.6L456,1198.6ZM488.9,1205.6L489.2,1205.1L489.4,1203.6L490.4,1202.1L490.6,1201.6L489.8,1198.6L490.5,1198.1L493.2,1197.6L493.7,1197.1L493.2,1196.6L489.7,1196.6L488,1198.1L485.5,1198.8L484.6,1200.6L483.7,1201.6L482.9,1203.1L480.5,1205.1L485,1205.7L488,1205.8ZM63.5,1201.2L61.5,1201.3L58.5,1200.9L57.6,1200.6L57.3,1200.1L57,1198.6L57.2,1197.6L58,1196.9L59,1196.7L62.5,1196.7L64,1197.2L64.8,1198.1L64.9,1199.6L64.5,1200.6ZM254,1199.7L252,1199.9L244,1199.8L243.2,1199.6L242.5,1199.1L242.4,1198.1L242.7,1197.6L243.5,1197.3L246,1197L253.5,1196.9L254.5,1197.2L255.1,1198.1L254.9,1199.1ZM229,1199.3L228,1199.5L227.5,1199.3L227.2,1198.6L228,1197.8L229,1197.9L229.6,1198.6ZM437.5,1231.2L433,1231.4L432,1231.2L431,1230.6L430.7,1230.1L430.5,1228.6L431,1225.7L431.7,1225.1L434,1224.4L434.3,1224.1L434.3,1223.6L433.5,1223L431,1222.5L430.5,1222.1L430,1221.1L429.4,1220.6L427.5,1220.4L414.5,1220.3L413,1220L412.3,1219.1L412.5,1217.9L413.5,1217.5L416,1217.2L416.4,1216.6L414.8,1213.6L412,1212.6L411,1212.9L409.7,1214.1L409.6,1214.6L411,1215.6L411.2,1217.1L410.5,1217.6L407,1218.2L406.5,1218.6L406,1220.6L406.1,1221.6L406.5,1222L409,1222.5L410,1223.1L410.1,1223.6L410,1224.6L409.3,1225.1L407.5,1225.8L406.5,1228.1L405.5,1228.7L401.5,1228.9L400.5,1228.7L399.5,1228.1L399,1226.6L399.5,1225.1L400.5,1224.5L402.5,1224.1L403.1,1223.6L402.7,1223.1L400.5,1222.7L399.5,1222.1L399.3,1220.6L400,1218.2L401,1217.5L404,1217L404.5,1216.6L405,1215.6L406.4,1214.6L406.3,1214.1L404.4,1212.1L403.7,1211.1L403.1,1209.1L403.1,1206.6L403.7,1204.6L406.9,1201.6L408,1199.4L409,1198.9L410.5,1198.7L414,1198.7L415,1199.1L415.3,1200.1L414.5,1202.1L414,1202.5L412.1,1203.1L411.9,1203.6L412.3,1204.6L412.6,1206.6L413.1,1208.1L414,1208.5L416,1208.6L419,1207.5L420.5,1207.2L422,1207.3L423.5,1207.8L425.5,1209.6L426.4,1211.6L426.4,1213.6L426.1,1214.6L425.1,1216.6L425.3,1217.1L430.3,1217.6L431,1218.1L431.5,1219.1L432,1219.5L435.8,1220.1L436.5,1220.6L437,1221.6L437.5,1222L440,1222.5L441,1223.1L441.1,1223.6L441,1224.6L440.3,1225.1L438,1225.7L437.6,1226.1L437.5,1226.6L438,1227.3L439,1227.7L442.5,1227.9L443.5,1228.2L444.1,1229.1L444,1230L443,1230.7ZM117,1213.1L115,1213L113.5,1212.1L112.2,1210.1L111.6,1208.1L111.7,1205.1L113,1201.9L114.2,1200.6L116,1200L117.5,1200.2L119,1201.1L120.6,1203.6L121.1,1205.6L120.8,1208.6L120,1210.6L118.5,1212.5ZM321.5,1205.8L319.5,1205.9L317,1204.9L316.1,1204.1L315.5,1202.8L313.5,1201.9L313.2,1201.6L313.5,1200.6L314.5,1200L319,1199.7L321,1200L323,1200.8L324.3,1202.1L324.3,1203.6L323.5,1204.8ZM252.5,1205.1L248.5,1205.2L242.5,1204.7L241.5,1204.1L240.5,1202.8L238,1203.1L237.1,1202.6L236.9,1202.1L237.5,1201.3L238.5,1201L239.5,1201.3L241,1202.2L249,1201.3L253,1201.4L254.1,1202.1L254.4,1203.1L253.9,1204.6ZM537.4,1202.6L537.7,1202.1L537.8,1201.6L537,1200.8L536,1200.8L535.4,1201.1L535,1201.6L535,1202.1L535.5,1202.7L536.5,1202.9ZM312,1215.7L308,1215.9L307,1215.7L306,1215.1L305.6,1214.1L305.7,1213.1L306,1212.6L307,1211.8L308.5,1211.6L307.5,1211.4L305.5,1210.5L304.8,1209.6L304.7,1208.1L305.1,1207.1L305.5,1206.7L307.5,1205.8L309,1204.2L310.5,1203.8L314,1203.8L315.5,1204.4L315.9,1205.1L315.4,1206.6L315,1207.2L313.8,1208.1L313.5,1208.6L313.6,1209.1L314,1209.6L314.5,1209.8L318.3,1210.1L319,1210.6L319.1,1211.6L318.9,1212.1L318,1212.6L314.2,1213.1L313.7,1213.6L313,1215.1ZM549,1208.7L544.5,1208.7L543.5,1208.1L543.3,1207.1L543.5,1206.6L544.5,1206L549,1206L550,1206.6L550.1,1207.6L550,1208.1ZM543.5,1213.7L533,1213.7L532,1213.1L531,1211.6L529.5,1210.6L529.3,1209.6L529.5,1209.1L530.5,1208.5L535,1208.5L536,1209.1L536.5,1210.1L537.5,1210.7L543,1210.9L544,1211.2L544.5,1211.6L544.6,1212.6L544.5,1213.1ZM398,1215.2L387.5,1215.2L386.5,1214.6L386.3,1213.1L386.5,1212.6L388,1211.1L388.5,1210.1L389,1209.7L390.5,1209.4L393.5,1209.5L394.5,1210.1L395,1211.1L395.5,1211.5L398,1212L399,1212.6L399.2,1214.1L399,1214.6ZM455.5,1212.2L451.5,1212.2L450.5,1211.6L450.3,1210.6L450.5,1210.1L451.5,1209.5L455.5,1209.5L456.5,1210.1L456.6,1210.6L456.5,1211.6ZM268.5,1215.2L265,1215.3L263.7,1215.1L263,1214.6L262.5,1213.6L261.9,1213.1L258.5,1212.8L257.5,1212.5L256.9,1211.6L257,1210.7L257.5,1210.2L258.5,1209.9L261.5,1209.9L262.3,1210.1L263,1210.6L263.5,1211.6L264.1,1212.1L268.8,1212.6L269.5,1213.1L269.7,1214.1L269.5,1214.6ZM317,1253.7L316.5,1253.7L316,1253.1L315.4,1250.6L315.2,1246.6L314.8,1244.1L314.7,1237.6L314.5,1236.6L314,1236.1L313.5,1236.1L309.5,1236.5L308.5,1237.1L308,1238.1L307.5,1238.5L306.5,1238.8L303,1238.7L302,1238.1L301.9,1237.6L302,1236.6L302.5,1236.2L306.4,1235.6L307,1235.1L307.2,1234.6L307.2,1233.6L305.6,1231.1L304.7,1228.1L304.7,1224.6L305.7,1221.1L305.5,1220.6L304,1220.4L300,1220.9L296.5,1220.7L295.5,1220.1L294.5,1218.9L290,1218.3L289.1,1217.6L288.5,1216L288,1215.8L283,1215.9L279,1215.5L278,1216.1L277.5,1217.1L276.8,1217.6L274,1217.9L272,1217.5L271.3,1216.6L271.5,1215.6L272.1,1215.1L274.5,1214.5L275,1214.1L275.5,1213.1L276.5,1212.5L282.5,1211.8L287.5,1212L288.5,1212.6L289.1,1214.1L289.5,1214.5L295,1214.6L296.2,1215.1L298,1216.7L303.5,1217.3L307,1217.4L308,1217.7L309,1219.1L311.5,1221.1L312.1,1222.1L313,1224.5L314,1225.6L314.5,1225.7L315,1225.2L315.2,1224.6L315.4,1220.6L316,1218.2L316.5,1217.5L317,1217.5L317.5,1218.2L318.1,1220.6L318.3,1224.6L318.7,1227.1L318.8,1233.6L319.2,1234.6L324,1235L326,1233.5L329.8,1233.1L330.4,1232.6L331,1231.1L331.5,1230.7L332.5,1230.4L334.5,1230.3L336.5,1230.4L337.5,1230.7L338.3,1231.6L338.7,1233.1L339.2,1233.6L343,1234L344,1234.6L344.1,1235.1L344,1236.1L343.3,1236.6L342.5,1236.8L339,1236.7L338,1236.1L337.1,1235.1L334,1234.9L333,1235.2L332,1236.6L331,1237.2L326.6,1237.6L326.3,1238.1L326.4,1240.1L327,1240.5L329,1240.9L329.9,1241.6L330.3,1243.1L330.1,1244.1L328.5,1245L325,1245.1L323,1244.8L320.8,1243.6L319.2,1243.6L318.8,1244.1L318.3,1246.1L318.1,1250.6L317.5,1253ZM520.5,1217.1L517,1217.1L515.6,1216.6L515.1,1216.1L514.7,1215.1L515.1,1213.6L516,1212.9L518,1212.5L521,1212.5L522.9,1213.1L523.4,1213.6L523.8,1214.6L523.4,1216.1L522.5,1216.8ZM464.5,1214.1L463.4,1214.1L463.2,1213.6L463.4,1213.1L464,1212.9L464.6,1213.1L464.8,1213.6ZM569,1245.7L565.5,1245.9L563.5,1245.5L563,1245.1L562,1243.1L559.1,1242.1L557.5,1240.2L555.7,1239.6L555,1239.1L554.5,1238.1L554,1237.7L551.7,1237.1L551,1236.6L550.9,1235.6L551,1235.1L551.7,1234.6L553.5,1234.4L557.5,1234.5L558,1234.3L558.2,1233.6L558.6,1231.1L558.5,1230.1L557.5,1229.5L554.5,1229L552.9,1227.1L550,1226.9L549.2,1227.1L548.6,1227.6L547.6,1229.6L546.8,1234.1L546,1235L544.5,1235.4L541,1235.4L540,1235.1L539.3,1234.6L538.9,1232.1L539.2,1229.6L539.6,1229.1L541.5,1228.1L541.7,1227.6L540.9,1226.1L540.6,1225.1L540.7,1224.1L541.5,1221.9L543,1221.4L546.5,1221.5L547.5,1222.1L548.2,1223.1L548.9,1223.6L551,1223.8L552,1223.2L552.6,1221.6L553.5,1220.8L555.5,1220.5L560.5,1220.8L561,1220.6L561,1220.1L560,1217.7L558.5,1219.1L557.5,1219.3L549,1219.9L547,1219.9L544,1219.4L541.5,1219.4L540.9,1219.6L540.5,1220.1L540,1221.3L538.5,1221.8L536,1221.8L534.5,1221.4L533.9,1220.6L534,1219.6L535,1219L539.5,1218.6L540,1218.1L540.5,1216.6L541.5,1216L549,1215.3L551.5,1215.3L554.5,1215.8L558,1215.8L558.6,1215.6L559.5,1214.1L560.5,1213.5L563.5,1213.3L565,1213.6L565.8,1214.6L566.4,1217.6L566.3,1219.1L565.7,1221.1L566.2,1222.6L565.9,1223.6L565.3,1224.1L564.5,1224.3L561.5,1224.5L559.5,1225L555,1225.6L555.5,1226.2L559.8,1226.6L560.5,1227.1L561,1228.1L561.5,1228.5L564.3,1229.1L565,1229.6L565.2,1230.1L565.2,1231.6L564.5,1234.1L563.8,1234.6L563,1234.8L558.5,1234.7L558,1235.1L558,1235.6L558.5,1236.5L562,1237.3L571,1236.8L572.5,1237L573.5,1237.6L573.6,1238.1L573.5,1239.1L572,1240.1L571,1241.2L570.5,1242.1L570.3,1244.6L570,1245.1ZM265,1230.7L261,1230.7L260,1230.1L259.9,1229.1L260.5,1228.2L262.5,1227.5L264,1225.7L265,1225.4L268,1225.2L268.3,1225.1L268.6,1224.6L264,1223.5L260.5,1223.2L259.5,1222.6L258.9,1221.1L257.7,1219.6L257.4,1217.6L256.7,1216.1L257,1215.1L257.5,1214.7L259,1214.5L260,1215.1L260.7,1216.1L261.4,1216.6L264,1216.8L265,1217.2L265.5,1217.6L266.2,1218.6L267,1219L276.5,1219L278,1219.5L279,1220.6L279.3,1221.6L279.2,1222.6L277,1226L275.5,1226.6L271,1226.8L269.3,1228.1L267,1228.7L266.5,1229.1L266,1230.1ZM508.5,1219.2L505.5,1219.3L503.7,1219.1L503,1218.6L502.8,1218.1L503,1216.7L503.5,1216.2L504.5,1215.9L507.5,1215.9L508.8,1216.1L509.5,1216.7L509.7,1218.1L509.5,1218.6ZM135.5,1223.2L134.9,1223.1L134.4,1222.1L134.4,1219.1L135,1218L135.6,1218.1L136.1,1219.1L136.1,1222.1ZM74,1228.2L72,1228.3L70.5,1227.8L69.1,1226.6L68.2,1225.1L68.1,1223.6L68.4,1222.6L69.5,1221.1L70.5,1220.4L72.5,1219.9L74.5,1220.2L76,1221.1L77.1,1222.6L77.4,1224.6L76.9,1226.1L75.5,1227.5ZM112,1235.2L111,1235.4L110,1235.2L108.5,1234.1L107.3,1232.1L106.7,1229.1L106.7,1225.6L107.8,1222.1L109.5,1220.3L111,1219.8L112.5,1220.3L113.9,1221.6L114.7,1223.1L115.3,1226.1L115.3,1229.6L114.7,1232.1L113.5,1234.1ZM293.5,1228.2L284.5,1228.4L282.5,1228L281.8,1227.1L281.8,1226.1L282.5,1223.6L283.2,1222.6L284,1220.6L285,1220L286,1219.8L290,1219.7L290.9,1220.1L291.4,1221.1L291.3,1222.6L289.9,1224.1L289.8,1224.6L290.5,1225.2L293.5,1225.5L294.5,1226.1L294.6,1226.6L294.5,1227.6ZM378.5,1224.1L377.5,1224.6L376.5,1224.4L376.1,1224.1L375.9,1223.6L375.9,1222.6L376.5,1221.4L377,1221.2L378,1221.3L378.9,1222.1L379.1,1223.1ZM515.5,1224.2L511.5,1224.2L510.5,1223.6L510.4,1222.6L510.5,1222.1L511.5,1221.5L515.5,1221.5L516.5,1222.1L516.6,1222.6L516.5,1223.6ZM421.5,1225.2L417.5,1225.2L416.5,1224.6L416.4,1223.6L416.5,1223.1L417.5,1222.5L421.5,1222.5L422.5,1223.1L422.6,1223.6L422.5,1224.6ZM223.5,1229.2L221.5,1229.2L220,1228.5L219.3,1227.6L219.2,1227.1L219.6,1226.1L220.5,1225.4L222,1224.9L223.5,1225L225,1225.7L225.7,1226.6L225.7,1227.6L224.8,1228.6ZM582,1234.8L572,1234.8L571.2,1234.6L570.5,1234.1L570.4,1233.1L570.5,1232.6L571.5,1232L575.5,1231.8L576.5,1231.5L577,1231.1L577.5,1229.6L579,1227.1L580,1226.5L582,1226.4ZM92,1228.4L91.5,1228.4L91,1227.6L91.5,1226.8L92,1226.8L92.5,1227.6ZM457.5,1228.3L457,1228.4L456.5,1227.6L457,1226.8L457.7,1227.1L457.8,1227.6ZM124,1240.7L122.5,1241L121,1240.5L118.4,1237.6L117.7,1235.6L117.7,1233.1L118.8,1230.1L120.5,1228.2L122,1227.7L124,1228L125.5,1229.1L126.7,1231.1L127.2,1233.1L126.8,1237.1L126.5,1238.1L125.5,1239.6ZM313.9,1233.1L314.5,1232.6L314.7,1231.1L314.6,1229.1L314.5,1228.7L314,1228.4L313,1229L312.5,1229.6L311.6,1232.1L311.7,1232.6L312,1232.8ZM405.5,1268.1L402.5,1268L401.1,1267.1L400.7,1266.1L400.7,1265.1L401.1,1264.1L401.5,1263.7L403,1263.1L405.5,1263.1L407.5,1263.2L410,1263.8L413,1263.8L414,1263.6L414.4,1263.1L414.4,1262.6L414,1262.2L412.5,1261.5L411.1,1260.1L410.5,1259.8L406,1259L405.5,1258.6L405.4,1257.6L406,1256.7L407.5,1256L409,1254.2L410,1253.9L413,1253.9L414.5,1254.1L416,1255.4L417,1255.7L419.5,1255.6L420.1,1255.1L419.5,1254.5L416.9,1254.1L416.3,1253.6L415.8,1252.6L415,1252.3L408.5,1251.9L407,1251.5L406.4,1251.1L405.5,1249.7L403.5,1249L402.7,1248.1L402.6,1246.6L403.2,1245.1L403,1244.4L402,1243.9L399,1243.7L398,1243.1L397.8,1242.1L398,1241.1L399,1240.5L401.5,1240L402.4,1238.1L403.5,1237.1L404.3,1235.6L406,1233.6L407,1233L409.7,1232.6L410.1,1232.1L409.7,1231.1L409.8,1230.6L410.5,1229.9L412,1229.4L413.5,1229.5L414.9,1230.1L415.2,1230.6L415.2,1231.1L414.5,1231.8L412.5,1232.6L412.1,1233.1L412.6,1234.1L414,1234.5L418,1234.9L418.9,1235.6L419.5,1237.2L420,1237.7L427,1238L428,1238.6L428.5,1239.6L429.1,1240.1L430,1240.3L434,1240.4L434.8,1240.6L435.5,1241.1L435.7,1242.6L435,1243.5L434,1243.8L430,1244L428.8,1244.6L428.1,1245.6L429,1247.1L429.5,1247.4L434,1247.6L435.5,1248.2L435.9,1248.6L436.3,1249.6L435.9,1251.1L434.5,1252L430,1252.4L429.5,1252.6L427.8,1255.1L428.2,1255.6L430,1256.1L435.3,1256.6L436,1257.1L436.1,1257.6L436,1258.6L435,1259.2L432.4,1259.6L432,1260L431.4,1261.6L430.5,1262.2L429.5,1262.3L426.5,1261.9L422.5,1262L421.5,1262.6L421,1263.6L420.3,1264.1L415.4,1264.6L415,1265.1L414.5,1266.6L413.8,1267.1L409.5,1267.4L407.5,1268ZM86.5,1232.1L85,1232.2L84,1231.9L83.4,1231.1L83.6,1230.6L85,1230L86,1230L87,1230.3L87.6,1231.1L87.4,1231.6ZM285.5,1233.7L283,1233.9L280,1233.7L279,1233.1L278.7,1232.6L278.7,1231.1L279,1230.6L280,1230L283.5,1229.8L287,1230.3L291,1230.5L292,1231.1L292.1,1231.6L292,1232.6L291,1233.2ZM378.5,1232.1L377.5,1232.6L376.5,1232.4L375.6,1231.6L375.6,1230.6L376.5,1229.8L378,1229.8L378.5,1230.1L379,1231.1ZM166.5,1233.7L165.5,1233.5L164.9,1232.6L164.9,1231.6L165.1,1231.1L166,1230.5L167,1230.7L167.6,1231.6L167.3,1233.1ZM426,1233.1L425,1233.1L424.1,1232.6L423.9,1232.1L424.1,1231.6L425.5,1231L426.9,1231.6L427.1,1232.1L426.9,1232.6ZM271.5,1236.6L270.5,1236.6L269.6,1236.1L269.4,1235.6L269.6,1235.1L271,1234.5L272.4,1235.1L272.6,1235.6L272.4,1236.1ZM514.5,1236.3L514,1236.5L513,1236.3L512.6,1235.6L512.8,1235.1L513.5,1234.7L514.5,1234.9L514.9,1235.6ZM362,1243.6L360.5,1243.8L359,1243.6L357.5,1243L356.3,1242.1L355.5,1241.1L355.3,1240.1L355.5,1239.1L356.3,1238.1L358,1236.9L360.5,1236.4L363,1236.9L364.7,1238.1L365.6,1239.6L365.5,1241.1L364,1242.7ZM346.5,1241.7L342.5,1241.7L341.5,1241.1L341.4,1240.1L341.5,1239.6L342.5,1239L346.5,1239L347.5,1239.6L347.6,1240.1L347.5,1241.1ZM414.1,1240.1L414.4,1239.6L413.5,1239.3L412,1239.3L411.4,1239.6L411.9,1240.1L412.5,1240.2ZM107,1247.7L105.5,1248L103.5,1248L102,1247.7L100.5,1247L99.5,1246.1L98.8,1245.1L98.7,1243.6L99.2,1242.6L101,1241L103.5,1240.2L106,1240.3L108.5,1241.3L109.8,1242.6L110.3,1243.6L110.3,1244.6L109.9,1245.6L109,1246.6ZM139.5,1245.6L138,1245.6L136.5,1245L135.8,1244.1L135.7,1243.6L136.2,1242.6L137.5,1242L139,1241.8L140.4,1242.1L141.3,1242.6L141.7,1243.1L141.7,1244.1L140.8,1245.1ZM292,1246.7L289.5,1246.9L286.5,1246.7L285.5,1246.1L285.2,1245.6L285.2,1244.1L286,1243.2L287,1242.9L290.5,1242.8L292,1243L293,1243.6L293.4,1244.6L293.3,1245.6L293,1246.1ZM330.5,1250.3L327.5,1250.5L325,1250.2L324,1249.6L323.7,1249.1L323.7,1247.6L324.5,1246.7L325.5,1246.4L330.5,1246.1L331.3,1244.1L332.5,1243.5L336.5,1243.3L337.5,1243.5L338.5,1244.1L339,1245.6L338.8,1246.6L338.5,1247.1L337,1247.8L332.5,1248.1L331.5,1249.6ZM130,1251.2L126.5,1251.2L123.5,1250.3L122.2,1249.1L121.2,1247.6L121.2,1246.6L121.4,1246.1L122,1245.4L123,1244.7L127,1243.9L132,1244.1L134,1245L134.7,1245.6L135.3,1246.6L135.4,1247.6L135.1,1248.6L134.2,1249.6L133,1250.3ZM413,1247.6L416.9,1247.1L415,1246.5L413,1246.4L411.5,1246.6L411.1,1247.1L411.6,1247.6ZM453,1247.6L452.5,1247.9L451.5,1247.9L450.9,1247.6L450.7,1247.1L450.9,1246.6L451.5,1246.3L452.5,1246.3L453.1,1246.6L453.3,1247.1ZM457.5,1252.6L457,1252.6L456.6,1252.1L456.6,1251.1L457,1250.6L457.5,1250.6L457.9,1251.1L457.9,1252.1ZM403,1254.2L400,1254.3L398.5,1254L397.8,1253.1L398,1251.6L398.7,1251.1L399.5,1250.9L402,1250.9L403.5,1251.2L404.2,1252.1L404.2,1253.1L404,1253.6ZM333,1260.2L330.5,1260.3L328.7,1260.1L328,1259.5L327.5,1257.4L327,1257.2L323.5,1257.3L321.7,1257.1L321,1256.5L321,1255.2L321.7,1254.6L324,1254L325,1252.1L326,1251.4L329,1251.2L331.5,1251.5L332.5,1252.1L332.8,1252.6L332.9,1253.6L332.5,1254.6L331,1255.4L328.3,1255.6L327.6,1256.1L327.6,1256.6L328,1256.9L332,1256.9L333.5,1257.2L334.2,1258.1L334.2,1259.1L334,1259.6ZM580.5,1266.2L579.5,1265.7L579.2,1265.1L578.6,1262.6L578.5,1261.1L578.7,1254.6L579.4,1252.1L580.5,1251.5L581.5,1252L581.8,1252.6L582,1253.5L582.1,1257.6L582,1264.2L581.6,1265.6ZM102,1265.7L100,1265.4L99,1264.7L98.6,1264.1L98.4,1263.1L98.6,1262.6L99,1262L100,1261.3L101,1261L102.5,1261.1L103.5,1261.6L104.4,1262.6L104.6,1263.6L104.1,1264.6L103,1265.4ZM419,1283.7L417.7,1283.6L416.5,1283.1L414.5,1281.1L413.5,1280.6L409.5,1280.3L408.5,1280L407.8,1279.1L407.8,1278.1L408,1277.6L409,1277L414.5,1276.8L416.2,1276.1L416.7,1275.6L416.8,1275.1L416,1274.1L415.8,1273.1L416,1272.6L417.3,1271.1L418,1269.6L418.5,1269.2L420.5,1268.8L424,1269L425,1269.6L425.3,1270.1L425.3,1271.6L425,1272.1L423.4,1273.1L422,1274.5L420.7,1275.1L420.4,1275.6L422.7,1278.6L424.5,1280.1L424.9,1281.1L424.8,1282.1L424.5,1282.6L423.5,1283.2ZM329.5,1275.6L326,1275.8L323,1275.1L322,1274.6L320.9,1273.6L320.5,1272.6L320.6,1272.1L322,1270.6L325,1269.6L328.5,1269.4L331.5,1270.1L332.5,1270.6L333.6,1271.6L334,1272.6L333.9,1273.1L332.5,1274.6ZM105.5,1274.8L105,1275.1L104,1274.8L103.4,1273.6L103.3,1272.1L103.5,1271.1L104,1270.4L104.5,1270.1L105.5,1270.4L106.1,1271.6L106.1,1273.6ZM402.5,1285.2L401.7,1285.1L401,1284.6L400.5,1283.6L400.3,1282.6L400.5,1280.1L401,1279.1L402,1278.5L402.8,1278.6L403.5,1279.1L404,1280.1L404.2,1281.1L404,1283.6L403.5,1284.6ZM328,1298.6L327.5,1298.9L326.5,1298.9L325.5,1298.1L324.5,1296.1L323.8,1293.1L323.8,1289.1L324.5,1286.1L325.5,1284.1L326,1283.6L327,1283.3L328,1283.6L328.8,1284.6L329.5,1286.1L330.2,1289.1L330.1,1294.1L329.3,1296.6ZM377.5,1295.7L376.9,1295.6L376.4,1294.6L376.4,1292.1L377,1291L377.6,1291.1L378.1,1292.1L378.1,1294.6ZM148.5,1309.9L147.5,1310L146.6,1309.6L145.9,1308.6L145.3,1307.1L145.3,1305.6L145.7,1304.1L146.5,1302.7L147.5,1302.2L148.5,1302.3L149,1302.7L149.6,1303.6L150.2,1305.1L150,1307.6L149.3,1309.1ZM539,1306.1L538.5,1306.1L537.9,1305.1L538.1,1304.1L538.5,1303.6L539,1303.6L539.6,1304.6L539.4,1305.6ZM323,1317.1L321.5,1317L320.5,1316.3L319.7,1315.1L319.3,1313.6L319.3,1312.1L320,1310.6L321,1309.5L322.5,1309L323.5,1309.2L324.7,1310.1L325.3,1311.1L325.7,1312.6L325.7,1314.1L325,1315.6L324.1,1316.6ZM110.5,1315.2L110,1315.1L109.6,1314.6L109.3,1313.1L109.6,1311.6L110,1311.1L110.5,1311L111,1311.1L111.4,1311.6L111.7,1313.1L111.4,1314.6L111,1315.1ZM148,1316.8L147,1316.8L146.5,1316.6L145.9,1315.6L146.1,1314.6L147,1313.9L148,1313.9L148.5,1314.1L149.1,1315.1L148.9,1316.1ZM377.5,1323.7L376.9,1323.6L376.4,1322.6L376.4,1319.6L377,1318.5L377.6,1318.6L378.1,1319.6L378.1,1322.6ZM160.5,1357.3L159.5,1357.3L159,1356.8L158.3,1354.1L158.4,1349.6L159,1347.9L159.5,1347.4L160,1347.3L160.5,1347.4L161.1,1348.1L161.7,1350.6L161.7,1354.6L161.1,1356.6ZM167,1374.1L166.5,1374.1L165.9,1373.1L165.9,1371.1L166.5,1370.1L167,1370.1L167.6,1371.1L167.6,1373.1ZM332,1420.2L330,1420.4L326,1420.5L321.7,1420.1L322.3,1419.1L323.5,1418.3L325,1417.8L327,1417.6L329,1417.8L330.5,1418.3L331.7,1419.1L332.3,1420.1Z" fill="#208ef4" fill-rule="evenodd"/>
<path d="M150,1094.6L147,1094.8L143.5,1093.8L141.7,1092.6L141.2,1091.6L141.4,1090.6L142,1089.6L144,1089.3L151.5,1089.2L154,1089.6L154.8,1091.1L154.8,1091.6L154.3,1092.6L152.5,1094ZM178.5,1096.1L175.5,1096.2L174,1095.9L172,1094.8L171.2,1094.1L170.6,1093.1L170.5,1092.1L170.9,1091.1L172.5,1089.6L174.5,1089.3L182.5,1089.5L183.4,1089.6L185,1090.3L186.3,1089.6L187.5,1089.4L192,1089.2L195.7,1089.6L196.8,1090.6L197.3,1091.6L197.1,1092.6L196.3,1093.6L195.5,1094.2L194,1094.9L192,1095.1L189.5,1095L185.5,1093.7L182.5,1095.5ZM254,1094.7L251.5,1094.5L249.5,1093.6L248.7,1092.6L248.7,1091.6L249,1091.1L250,1090.3L252.1,1089.6L255,1089.7L257,1090.6L257.8,1091.6L257.8,1092.6L257.5,1093.1L256.5,1093.9ZM373,1093.6L370.5,1093.8L368,1093.4L367,1092.9L366,1092.1L365.7,1091.6L365.7,1090.6L366.6,1089.6L368,1089.3L372.5,1089.2L375.4,1089.6L376.3,1090.6L376.2,1091.6L375,1092.9ZM391,1094.6L388.5,1094.7L386,1094L385,1093.3L384.4,1092.6L384.2,1092.1L384.4,1091.1L385,1090.4L386.3,1089.6L390,1089.4L393,1089.7L394,1090.4L394.6,1091.1L394.8,1091.6L394.6,1092.6L393.5,1093.7ZM490,1095.1L483,1095.3L477,1094.1L473,1094.8L469,1094.8L466.5,1094.3L463.5,1093.4L460,1093.8L456.5,1093.8L454,1093.5L450,1093.8L448.5,1093.5L447,1092.9L446.1,1092.1L445.7,1091.1L445.7,1090.6L446.6,1089.6L447.5,1089.4L458,1089.2L464.5,1089.5L473.5,1089.2L478.5,1089.7L483,1089.4L490,1089.4L493.5,1089.8L495,1090.5L495.7,1091.1L496.1,1092.1L496,1092.6L495,1093.7L493.5,1094.4ZM85,1093.2L82.5,1093.6L78.5,1093.5L75.6,1092.6L75.1,1092.1L75.1,1091.6L76,1090.9L78,1090.3L80,1090.1L83.5,1090.2L86,1090.9L86.9,1091.6L86.9,1092.1L86.4,1092.6ZM421.5,1096.7L420.5,1096.9L419,1096.7L417.5,1095.6L416.9,1094.6L416.8,1093.1L417.1,1092.1L418,1091.1L419,1090.5L420,1090.3L421.5,1090.5L423,1091.6L423.6,1092.6L423.7,1094.1L423.4,1095.1L422.5,1096.1ZM135.5,1092.2L134.2,1092.1L133.6,1091.6L134.2,1091.1L135.8,1091.1L136.4,1091.6ZM220.5,1092.1L208.5,1092.2L207.9,1092.1L207.9,1091.6L220,1091.5L220.6,1091.6ZM364.5,1095.3L364,1095.5L363.2,1095.1L362.9,1094.6L363.1,1094.1L364,1093.7L365,1094.1L365.1,1094.6ZM402.5,1100.2L401.8,1100.1L401.3,1099.6L401.5,1098.6L402,1098.4L403,1098.6L403.3,1099.1L403,1100ZM197,1121L195.5,1120.5L194.5,1119.6L193.8,1116.6L191.5,1115.8L190,1114.6L188.8,1111.6L189.1,1109.1L188.8,1108.6L188,1108.2L186,1107.9L185.5,1107.5L185.4,1106.6L186,1105.7L187,1105.4L194,1105.2L194.5,1104.7L195.2,1102.6L195.8,1101.6L197,1100.8L198,1100.7L199.2,1101.1L200.1,1102.1L200.8,1104.1L200.8,1106.1L200.1,1108.1L199.5,1109L198.5,1109.6L197,1109.8L196.4,1110.1L195.7,1113.6L195.8,1114.1L196.3,1114.6L198.5,1115.9L200.3,1116.6L200.8,1117.1L200.8,1117.6L200.4,1118.1L198.2,1119.1ZM210.5,1106.2L209.5,1106.3L208.8,1106.1L208.1,1105.6L207.6,1104.6L207.5,1103.6L207.8,1102.6L209,1101.5L210,1101.4L210.7,1101.6L211.4,1102.1L211.9,1103.1L212,1104.1L211.7,1105.1ZM86,1107.6L85,1107.6L85,1107.1L86,1107.1ZM441.5,1118.7L440,1119.1L438,1118.9L436,1118L434.7,1116.6L434,1114.6L434.1,1113.1L435.4,1111.1L437,1110L439,1109.4L441,1109.7L443,1111.1L444.2,1112.6L444.5,1114.6L444.2,1116.1L443,1117.6ZM519.5,1111.7L519,1111.4L518.8,1110.6L519.5,1110L520.2,1110.6L520,1111.4ZM414.5,1116.2L410.5,1116.3L404.5,1115.7L403.7,1115.1L403.7,1114.6L404,1114.1L405.3,1113.6L409.5,1113L414,1113.4L415,1113.7L415.6,1114.6L415.4,1115.6ZM408.5,1172.1L404,1172.1L403.6,1171.1L402,1169.6L401.8,1168.6L402,1168.1L404,1166.9L406.3,1163.6L406,1162.6L405,1162L396.5,1161.4L395,1161.7L393.5,1162.7L390,1163.6L388,1163.8L386,1163.5L385,1162.1L384,1161.6L383,1161.6L381.1,1162.6L380,1162.8L377,1162.8L375.5,1162.3L374.4,1161.1L373.1,1158.6L372.9,1157.6L373.1,1156.6L374.1,1155.1L374.1,1154.6L373.6,1152.6L373.7,1151.6L376,1148.1L376.1,1147.6L375.9,1147.1L374.1,1145.6L373.3,1143.6L372,1142.5L371,1142.4L370,1142.6L369.5,1143.1L369,1144.1L368.3,1144.6L367.5,1144.8L364,1144.7L363,1144.1L362.9,1143.6L363.1,1142.6L363.7,1142.1L368,1141.6L368.5,1141.1L369.2,1139.1L370,1138.3L371.3,1137.6L373.4,1137.1L374,1136.6L374,1136.1L373,1135.1L372.5,1134.1L373.4,1131.6L373.1,1129.1L373.5,1128.2L379,1127.2L382.5,1127.4L383.8,1127.1L384.7,1125.6L386.2,1124.1L387,1122.8L388,1122.4L390.5,1122.2L391,1121.8L391.3,1118.6L392.5,1117.2L394.5,1116.2L397,1116.2L398.5,1117L399.2,1117.6L399.7,1118.6L399.8,1119.6L399.1,1122.1L399,1123.1L399.5,1124.3L400.5,1124.8L403.5,1125L404,1124.8L404.6,1123.1L405.5,1122.6L406.5,1122.5L410,1122.6L412.5,1124.2L415.3,1124.1L416.5,1123.6L417.3,1122.1L418,1121.7L420,1121.4L421.8,1121.6L422.5,1122.1L422.5,1123.1L421.8,1123.6L420,1124.2L419.5,1124.6L419.2,1125.6L420,1126.5L421.5,1127.2L421.8,1127.6L421.8,1128.1L421,1128.7L417.5,1128.9L416.5,1129.2L414.2,1130.6L414.6,1131.1L418,1132.6L420,1132.9L424,1132.8L430.5,1131.8L435.5,1131.5L439,1133.1L439.4,1133.6L439.3,1134.6L438.8,1135.1L437.5,1135.5L437,1135.9L436.6,1137.1L437.5,1137.6L441,1137.9L442.5,1137.5L445,1134.4L446,1133.9L448.5,1134.2L451,1135.5L452,1135.6L452.6,1135.1L452,1132.6L452.1,1131.6L452.5,1131.1L453.5,1130.8L458.3,1130.6L460,1129.6L462,1129.2L463,1128.6L463.3,1127.6L463,1126.9L462,1126.3L460,1125.9L459.7,1125.1L460.5,1124.5L463,1124.3L463.8,1123.6L463.9,1123.1L463.5,1122L462.5,1121L461,1120.5L460.6,1119.6L463,1115.7L463.6,1114.1L464,1113.5L465.5,1113L469.5,1112.8L476.5,1113.1L477.5,1113.9L477.8,1115.1L477.3,1116.1L475.5,1117L475.5,1117.6L478.4,1118.6L478.9,1119.1L479.2,1120.1L478.7,1121.1L476.7,1122.1L476.3,1122.6L476.6,1123.1L478.2,1124.1L478.7,1125.1L478.1,1126.6L477,1127.6L477.3,1128.1L479.5,1129.5L480.7,1131.1L480.9,1132.6L480.5,1135.7L481,1136.2L483.5,1136.4L484.5,1136.7L485.3,1137.6L485.4,1138.6L485,1139.6L484.5,1140L482.5,1140.5L478.5,1140.3L477.3,1139.6L476.5,1138.4L475.5,1138.1L472,1137.9L471.8,1138.1L471.8,1138.6L472,1139.1L473,1139.7L475,1140.2L476,1141.5L476.5,1141.8L480,1141.2L483.5,1141.3L485,1142.1L486,1143.6L491.5,1144.1L492.3,1144.6L493.2,1146.6L494,1147.1L496,1146.6L496.7,1146.1L497.7,1144.6L499,1144L503.5,1144L506.5,1144.8L509.2,1145.1L510.7,1147.1L513.7,1148.1L515,1150.6L515.1,1151.6L514,1152.3L512,1152.1L511,1151.7L510,1150.5L509,1150.5L508,1151.4L507.5,1152.3L507,1153.6L506.9,1154.6L507.5,1154.9L511,1154.3L513.5,1153.1L515,1153.4L516.4,1154.6L517,1155.6L517.2,1156.6L516.9,1159.6L517.8,1161.1L517.9,1161.6L517.5,1162.3L515.5,1162.8L514.3,1163.6L514.1,1164.1L514.2,1165.1L515.5,1167.1L515.4,1167.6L515,1168.1L514,1168.4L512.5,1168.5L511,1168.3L510.5,1168.1L510.1,1167.6L510.2,1166.6L511.1,1165.1L511.1,1164.1L510.8,1163.6L509.5,1162.9L507.2,1162.6L506.2,1161.6L505,1161L502.5,1160.8L500,1161L498.9,1161.6L498.1,1162.6L497.5,1163L495,1163.2L494,1162.9L493,1161.3L492,1160.7L490.5,1160.6L486.5,1161.2L483,1160.9L482,1160.6L481.3,1160.1L481,1159.6L481,1156.6L478.5,1152.9L477.5,1152.4L474,1152.3L473,1151.9L470.6,1150.1L470,1148L469.5,1147.2L468.1,1146.6L467.6,1146.1L467.4,1145.6L467.7,1145.1L471,1144.8L472.3,1144.1L472.5,1143.6L472.3,1142.6L471.5,1142L470.5,1141.8L468.5,1141.9L467.5,1142.5L466.9,1143.6L466.9,1145.1L462,1145.6L461.1,1146.1L460,1147.2L459.4,1148.6L460,1150.6L459.9,1151.6L458,1156.8L457.3,1157.6L455,1157.9L453.6,1157.6L453.1,1156.6L453.6,1155.1L453.5,1154.1L452.5,1153.5L450.5,1153.4L449.5,1153.7L449.1,1154.1L448.5,1155.6L448,1156L443.5,1156.7L442.8,1157.1L441.6,1158.6L440,1159.1L437.5,1159.1L436,1158.8L435.3,1158.1L434.8,1156.6L434,1155.9L430.5,1155.8L430.2,1155.1L430.2,1154.1L429.8,1152.1L429.5,1151.6L428.5,1151L427,1150.8L422.5,1150.9L419,1151.5L415,1151.2L414,1150.7L413.2,1149.1L412.5,1148.5L409.1,1148.1L407.5,1146.6L405,1145.7L402,1146L391.5,1145.8L390.2,1146.1L389.6,1147.1L389.5,1149.6L390,1150.2L392.5,1151.1L393,1151.8L394,1155.1L395,1155.8L397,1155.8L397.7,1155.6L398.3,1155.1L398.5,1154.1L398,1151.8L396.2,1150.1L396.2,1149.6L396.5,1149.2L397.5,1148.9L400.4,1149.1L402,1150.4L403,1150.8L409.5,1151.5L410,1151.7L411.5,1152.9L412.5,1153.3L416,1153.4L418,1153.7L420.5,1152.8L422.5,1152.9L423.5,1153.2L423.8,1154.1L423,1154.7L418.5,1154.7L417.5,1155.8L415.5,1157L415.6,1158.6L415.5,1159.1L415.1,1159.6L412,1160.6L411.7,1161.1L411.5,1162.6L412.1,1165.1L412,1166.6L411.5,1167.6L409.5,1168.4L409,1168.9L408.8,1169.6L409,1171.6ZM238,1152.2L234.5,1152.2L232.5,1151.1L230,1150.5L229,1149.7L228.3,1147.6L227.5,1147L219.5,1146.8L218.5,1146.5L218.2,1146.1L218.2,1145.6L218.7,1145.1L220.3,1144.6L221,1144.1L221.2,1143.6L221,1143.1L219.5,1142L216,1141.6L215.6,1141.1L216,1140.3L218.5,1139.5L219.1,1138.6L218.5,1137.8L216.7,1137.1L216.1,1136.6L215.4,1133.1L213.5,1131.1L213,1129.4L212.5,1129.2L210,1129.5L209.5,1130.1L210.6,1132.1L211.8,1135.6L211.8,1136.1L210.7,1137.6L210.8,1138.6L212,1141.1L214,1142.2L214.2,1142.6L214.2,1143.6L213.5,1144.5L212,1145.1L210.8,1146.1L209.8,1147.6L209.3,1149.1L209,1149.5L207.5,1149.8L204.7,1149.6L204.2,1149.1L204.3,1148.1L205,1147.7L207.5,1147.2L207.8,1146.6L207.8,1146.1L207.2,1145.1L206.5,1144.6L205.5,1144.2L203,1144L202.3,1143.6L202.3,1143.1L202.9,1142.6L205,1142.4L206,1142L206.7,1141.1L206.7,1140.6L206,1140.1L204,1139.6L203.2,1139.1L202.5,1137.5L201,1136.3L200.3,1135.1L198.7,1133.6L198.2,1132.1L198.8,1130.1L200,1128.8L201.5,1127.9L205,1127.1L205.1,1126.6L204.8,1125.6L205,1124.6L205.7,1124.1L206.5,1123.9L209,1123.9L210.5,1124.2L211,1124.6L211.5,1125.8L212.5,1127.1L213,1128.8L213.5,1129L217.5,1128.6L218,1128.2L218.8,1126.6L220.2,1125.1L220.7,1124.1L220.1,1122.1L218.5,1120.6L218.1,1119.6L218.4,1119.1L220,1117.6L222,1114.7L224.5,1113.4L226,1113.2L233,1114L234,1114.3L236,1115.9L238.5,1118.5L241.5,1119.3L244,1123.2L245,1123.8L247.5,1124.1L248.4,1124.6L248.6,1125.1L248.5,1126.1L247.1,1127.1L246.8,1127.6L247.5,1128.1L249.5,1128.3L251,1128.9L252.7,1131.1L253.2,1132.6L252.9,1133.6L252.5,1134.1L251.5,1134.6L248.4,1135.1L247.5,1135.6L247.5,1136.1L247.7,1136.6L248.5,1137.1L253,1136.9L255.3,1137.1L256,1137.6L256.5,1139.2L257.7,1140.6L257.9,1141.1L257.6,1144.1L255.7,1146.1L254.3,1148.1L253.9,1149.1L253.3,1149.6L246,1150L240.1,1151.1ZM135,1116.1L134.4,1115.6L135,1115.1L135.6,1115.6ZM86.5,1123.1L84.3,1123.1L83.4,1122.6L83.4,1122.1L84.3,1121.6L85.5,1121.5L86.7,1121.6L87.6,1122.1L87.6,1122.6ZM201.5,1123.7L199,1123.8L197.9,1123.6L197.1,1122.6L197.1,1121.6L197.5,1121.2L201.8,1121.6L202.3,1122.1L202.4,1122.6L202.3,1123.1ZM532,1124.6L530,1124.6L529.1,1124.1L528.9,1123.6L529,1123.3L530,1122.6L532,1122.6L532.9,1123.1L533.1,1123.6L532.9,1124.1ZM411.2,1131.6L412.1,1131.1L411.9,1130.6L410,1129.9L409.8,1129.6L409.6,1127.6L408.6,1126.1L407.5,1125.7L405,1125.3L404.5,1125.2L404,1125.6L404,1126.1L404.5,1127.1L406.7,1129.6L407.5,1131.8L409,1132.1ZM439.5,1128.7L430.5,1128.7L429.7,1128.1L429.6,1127.1L430,1126.7L430.5,1126.5L433.5,1127.1L439.5,1127L440.4,1127.6L440.4,1128.1ZM452,1128.7L450,1128.8L448.2,1128.6L447.6,1128.1L447.6,1127.1L448.2,1126.6L449,1126.5L452,1127L452.6,1127.6L452.6,1128.1ZM238.6,1133.6L239.1,1133.1L238.8,1132.1L237.1,1130.6L236,1130.1L232.5,1129.8L229.5,1128.9L228.5,1128.8L227,1129.1L226,1130.1L226,1130.9L226.5,1131.3L232.5,1131.2L233.5,1131.6L234.3,1133.1L235,1133.6L237,1133.8ZM469.6,1130.6L470.2,1130.1L467.5,1128.9L466,1129L465.4,1129.6L465.5,1130.1L466.6,1130.6ZM495,1136.7L493.5,1136.4L492.5,1135.6L491.9,1134.6L491.5,1133.1L491.6,1131.6L492.1,1130.1L493,1129.1L494.5,1128.6L496,1128.9L496.9,1129.6L497.4,1130.6L497.8,1132.6L497.8,1134.1L497.4,1135.1L496.5,1136.1ZM395.6,1135.1L396.5,1133.6L396.7,1132.6L396.5,1131.9L395.5,1131.6L391.5,1131.5L389.5,1130.2L388.5,1129.9L387,1129.9L380.3,1130.6L379.4,1131.1L378.2,1133.1L378.4,1133.6L379,1134.3L380.5,1135.3L381,1135.4L383.5,1134.3L385.5,1133.1L388,1132.5L390,1132.8L390.4,1133.1L390.7,1134.1L391.1,1134.6L392,1134.9L394.5,1135.4ZM471.5,1137.1L471.5,1136.1L471.2,1135.6L470.5,1135.2L469.3,1135.1L468.7,1135.6L468.9,1136.6L469.5,1137.1L471,1137.4ZM416.3,1136.6L414.9,1136.6L415.5,1136.8ZM431.9,1148.6L433,1147.8L434,1146.2L435.4,1145.1L435.4,1144.6L434.5,1144.2L433,1144.3L431.6,1144.6L430.5,1145.4L429.5,1145.8L425.5,1145.8L424.3,1145.1L424.1,1144.1L424.1,1143.6L425,1142.8L427,1142.5L427.5,1142.1L427.5,1141.6L426.5,1140.6L422,1140.2L418.5,1141L414.5,1141.2L413.5,1140.9L412.8,1140.1L412.7,1137.6L410.5,1137.4L407,1137.6L407.2,1139.6L406.4,1141.6L406.8,1142.1L411.5,1142.3L414,1143.3L416.5,1143.5L417,1143.8L417.2,1144.1L417,1144.9L414.7,1146.1L414.5,1146.6L414.6,1147.1L415.2,1147.6L419,1148L422.5,1148.9L430,1148.9ZM390.4,1142.1L393.5,1141L397.5,1140.7L398.4,1139.6L398.5,1138.5L398,1138L396,1137.8L390,1138.9L387,1141.1L386.7,1141.6L387,1142.1L387.5,1142.2ZM458.2,1138.6L458.6,1138.1L457.5,1137.8L456,1137.8L454.3,1138.1L454.5,1138.6L455,1138.7ZM248.9,1144.1L249.5,1143.4L249.3,1142.6L244,1141.8L241,1141.9L240.5,1142.2L240.2,1143.1L240.5,1143.7L242,1144.2L247.5,1144.3ZM47,1145.7L43,1145.9L43,1142.9L46.5,1142.9L47.5,1143.2L48,1143.6L48.1,1144.6L48,1145.1ZM356,1147.2L354,1147.4L351.5,1147.3L350.5,1146.6L350.4,1145.6L350.6,1145.1L351.5,1144.5L356,1144.5L356.9,1145.1L357.1,1145.6L356.9,1146.6ZM337,1146.7L335,1146.8L333.5,1146.7L332.9,1146.1L332.9,1145.6L333.3,1145.1L334,1145L337,1145L337.7,1145.6L337.7,1146.1ZM478.9,1149.1L479.2,1148.1L479,1147.8L478.5,1147.7L478.1,1148.1L478,1148.7L478.5,1149.3ZM69.5,1184.2L67,1184.3L65.7,1184.1L64,1182.2L61.6,1181.6L60,1180.8L56,1181.4L51,1179.6L49.5,1179.3L45.5,1179.2L44.7,1178.6L44.8,1177.6L45.8,1176.1L44.9,1175.1L43,1174.3L43,1174.1L43,1171.7L43.5,1171.3L43.7,1170.6L43.5,1170.1L43,1169.7L42.9,1169.1L42.9,1164.6L43,1163.9L43.6,1162.6L43.9,1160.1L43.7,1159.1L43,1158.5L43,1156.6L43,1156.3L44.5,1155.6L44.8,1155.1L44.5,1154.1L43,1153.4L43,1148.9L50.5,1148.9L52,1149.2L52.3,1149.6L52.3,1150.1L52,1150.5L49.5,1151L48.5,1151.6L47.7,1154.1L47.7,1155.1L48,1155.6L49.5,1156.3L53.3,1156.6L55.3,1158.1L58.5,1158.7L59.2,1159.6L59,1161.1L58,1161.7L56.2,1162.1L55.8,1162.6L56,1163.1L57.5,1163.7L61.5,1164L62.4,1164.6L62.7,1165.1L62.9,1167.6L62.7,1168.1L62,1168.5L59,1168.7L58.5,1168.6L57.5,1167.5L56.5,1167.2L53.5,1168.3L52.5,1168.4L50,1167.4L49.4,1167.6L49.1,1168.1L49.5,1169.1L50.5,1169.4L52.5,1169.5L54,1170.1L57.5,1170.1L60,1170.8L67.5,1169.4L71,1169.5L72,1170.1L72.8,1172.1L72.9,1173.6L72.5,1174.6L67.5,1176.9L62.9,1177.6L62.2,1178.6L62.2,1179.1L62.6,1179.6L65.8,1180.1L67.5,1182L70,1182.7L70.3,1183.1L70.3,1183.6ZM381.7,1150.6L382.3,1150.1L382.3,1149.6L382,1149.3L381,1149L380,1149.3L379.8,1149.6L380,1150.2L380.7,1150.6ZM493.2,1152.1L493.7,1151.6L493.5,1150.6L493,1150.2L492.5,1150.2L492,1150.6L491.9,1151.1L492,1152L492.5,1152.3ZM473,1163.7L471.5,1163.8L469.5,1163.3L469,1163.1L468.2,1161.6L467.3,1161.1L462.5,1160.8L461.7,1160.6L461,1160.1L460.8,1159.1L461,1158.6L461.7,1158.1L463,1157.9L469.5,1157.7L470.5,1157.4L471.2,1156.6L471.1,1156.1L470.4,1155.6L467,1155.2L466.5,1154.9L465.5,1153.5L463,1152.3L462.7,1151.6L463,1151.3L464.5,1150.9L467.3,1151.1L468.5,1152.8L469.5,1153.3L471,1153.6L472,1155.3L473,1155.7L475.5,1156L476.3,1156.6L476.3,1157.1L476,1157.5L474.5,1158.2L474,1158.9L473.8,1159.6L474,1162.6L473.5,1163.5ZM355,1154.7L352.5,1154.8L351.2,1154.6L350.7,1154.1L350.6,1153.1L351,1152.7L351.5,1152.6L355,1153L355.6,1153.6L355.6,1154.1ZM441.3,1155.1L441.7,1154.6L441.5,1153.9L441,1153.6L440,1153.4L437,1153.5L436.1,1154.1L435.9,1154.6L436.3,1155.1L437.5,1155.3ZM251,1162.2L249,1162.3L246.5,1161.4L245.5,1160.8L244.3,1158.6L244.3,1157.6L244.9,1156.6L247.5,1155.1L249.1,1154.6L251,1154.4L253,1154.6L254.6,1155.1L257,1156.1L257.5,1156.6L258.1,1157.6L258.2,1158.6L257.2,1160.6L256.1,1161.1ZM238.5,1158.2L236.5,1158.4L234,1158.2L233,1157.3L232.8,1156.6L233,1155.8L233.5,1155.2L234.5,1154.9L237,1154.9L238.5,1155.1L239.2,1155.6L239.7,1156.6L239.3,1157.6ZM225.5,1157.7L223,1157.8L221.7,1157.6L221.2,1157.1L221.2,1156.1L221.9,1155.6L222.5,1155.5L225.7,1155.6L226.2,1156.1L226.4,1156.6L226.3,1157.1ZM390.6,1158.6L391,1158.3L391.4,1157.6L391.2,1157.1L390.5,1156.8L386.5,1156.6L385.3,1157.1L385.2,1157.6L385.5,1158.1L386.5,1158.7L389,1158.9ZM441.5,1167.6L431,1167.8L424.7,1167.1L424.2,1166.6L424.1,1166.1L424.9,1164.1L424.8,1163.1L424.5,1162.7L423.5,1162.4L418.7,1162.1L418,1161.6L417.8,1161.1L417.9,1160.1L418.6,1159.6L420.1,1159.1L420.9,1158.6L421.5,1157.4L422,1157L423.5,1156.8L426,1156.9L427,1157.5L427.1,1158.1L426.5,1159.1L425.5,1159.7L425,1160.4L425,1161.6L425.5,1162.2L428,1162.4L431.5,1161.9L435.5,1161.9L436.3,1162.1L437,1162.6L437.5,1164.1L438.2,1164.6L442.5,1165L443.4,1164.6L444.2,1163.1L445,1162.6L447.6,1162.1L448.1,1161.6L448.3,1160.6L449.5,1159.6L454,1159.2L455,1159.4L455.9,1160.1L456.1,1160.6L456,1161.2L455.5,1161.6L453.9,1162.1L453.2,1162.6L453.2,1163.1L454,1163.7L456.5,1164.1L457,1165.1L456.5,1166.3L455.5,1166.6L453,1166.6L451,1165.7L450,1165.7L448.8,1166.1L447.5,1167.1L444,1167.2ZM366,1163.3L364.5,1163.6L358.5,1163.2L357.5,1162.9L357,1162.5L356.4,1160.6L355.5,1159.6L355.4,1158.6L356,1158L358.5,1157.9L359.5,1158.2L360.5,1159.2L361.5,1159.7L362.5,1159.6L364.5,1159.1L366,1159.3L367,1160.1L367.4,1161.1L367,1162.6ZM545,1164.3L544.5,1164.1L544,1163.2L543.7,1161.6L544,1159.5L544.5,1158.7L545,1158.5L545.5,1158.7L546,1159.3L546.5,1161.1L546,1163.2L545.5,1164.1ZM340,1162.1L338.5,1161.6L338,1160.6L338,1160.1L338.4,1159.6L340,1159.1L341.6,1159.6L342.2,1160.6L341.6,1161.6ZM272.5,1162.6L270.5,1162.5L269.8,1162.1L269.8,1161.6L270.5,1161.2L272,1161.1L273,1161.1L274,1161.6L274,1162.1ZM528.5,1163.2L525.3,1163.1L524.7,1162.6L524.7,1161.6L525.2,1161.1L526,1160.9L528.5,1161.1L529.1,1161.6L529.3,1162.1L529.2,1162.6ZM50.2,1162.6L50.4,1162.1L50,1161.8L49.5,1162.1L49.5,1162.7ZM267,1165.2L257.5,1165.2L256.5,1165L256,1164.6L256,1164.1L256.5,1163.5L257.5,1163L261,1162.9L267,1163.6L267.6,1164.1L267.5,1164.8ZM251.5,1173.3L246,1173.4L245.4,1173.1L244,1170.6L243.7,1168.1L244.5,1166.1L246.2,1164.6L248.5,1163.4L250,1163.3L252.5,1164.4L253.4,1165.1L254,1167.1L254.8,1168.6L254.8,1169.6L252,1173.1ZM349,1165.2L346.5,1165.2L346,1164.9L345.8,1164.1L346.3,1163.6L347,1163.5L349.7,1163.6L350.2,1164.1L350.1,1164.6ZM484,1165.8L481,1166L480.4,1165.6L480.2,1164.6L480.7,1164.1L481.5,1163.9L484.3,1164.1L484.8,1164.6L484.7,1165.1ZM397.5,1167.7L395.5,1167.8L393.8,1167.6L393.3,1167.1L393.4,1166.1L394,1165.4L395,1165.1L396.5,1164.9L398,1165.1L398.5,1165.6L398.5,1166.6L398.3,1167.1ZM280,1172.1L278,1172.3L277,1172L276,1171.3L275.2,1170.1L274.7,1168.6L274.7,1167.6L275.5,1166.6L277,1165.8L279,1165.6L280.5,1166.1L281.7,1167.1L282.3,1168.1L282.3,1169.6L281,1171.4ZM502.5,1168.7L499,1168.8L492.5,1168.2L491.7,1167.6L491.8,1167.1L492.3,1166.6L493,1166.4L495.5,1166.4L498.5,1165.9L502,1165.9L503,1166.2L503.6,1167.1L503.5,1168.1ZM525.5,1170.7L522.5,1170.7L521.7,1170.1L521.7,1169.1L522.5,1167.4L523,1166.9L529.5,1166.1L532.5,1166L534,1166.3L534.5,1166.7L534.5,1168L533.8,1168.6L532.5,1168.8L527.5,1168.9L527,1169.2L526,1170.5ZM480,1169.2L477,1169.2L476.5,1169L476.1,1168.1L476.5,1167.4L480,1167.3L480.7,1167.6L481,1168.1L480.9,1168.6ZM365.5,1170.2L361.5,1170.2L360.6,1169.6L360.6,1169.1L361.2,1168.6L362,1168.5L365.5,1168.5L366.4,1169.1L366.4,1169.6ZM377.5,1182.2L377,1182.4L376.4,1182.1L376.2,1181.6L376.3,1179.6L375.8,1177.1L375,1176.4L374,1176.5L373.5,1177.6L372.5,1178.2L369,1178.2L368.3,1178.1L367.6,1177.6L367.6,1177.1L368.2,1176.6L371.5,1176.3L373,1175.8L374,1173.6L375.5,1172.7L376,1172.1L376.3,1171.1L376.1,1169.6L376.5,1168.6L377,1168.3L377.5,1168.3L377.9,1169.1L378.2,1171.6L379,1172.7L380.5,1173.3L384.3,1173.6L385,1174.1L385.1,1174.6L384.9,1175.1L384,1175.5L380,1176L379,1176.6L378.8,1177.1L378.9,1177.6L379.5,1178.1L383,1178.7L383.6,1179.6L383.5,1180.6L382.5,1181.2L379,1181.5ZM217.5,1182.1L217,1182.4L216.5,1182.5L215.6,1181.6L214.3,1178.1L213.7,1175.1L214.4,1171.1L215.5,1169.4L216.5,1168.7L217,1168.7L217.5,1169.1L218,1169.9L218.9,1171.6L219.4,1173.6L219.4,1175.6L219,1177.6L218,1181.1ZM439.5,1172.7L434,1172.7L434.1,1170.6L434.3,1170.1L435,1169.8L438.5,1169.9L439.8,1170.1L440.5,1170.6L440.6,1171.6L440.5,1172.1ZM350,1173.3L347,1173.3L345.7,1173.1L345,1172.5L345,1171.2L345.5,1170.7L346.5,1170.4L349,1170.4L350.3,1170.6L351,1171.1L351.1,1172.1L351,1172.6ZM558,1194.3L557,1194.4L553.6,1194.1L552.9,1193.6L552,1192.1L549,1190.1L547.5,1189.4L545,1189L544.6,1188.6L544.5,1187.6L546,1186.5L546.2,1186.1L546,1185.6L544.3,1184.1L543,1182L542.5,1181.6L541,1181.3L535.5,1181.3L535,1181.1L534,1179.6L533,1179.4L529.5,1179.4L528.5,1178.6L528.3,1177.6L528.5,1177L530.5,1174.1L532.5,1172.4L534.5,1171.3L536.5,1170.8L539.5,1170.8L541.5,1171.3L543,1172.1L545,1173.6L546.8,1174.1L547.3,1174.6L547.5,1175.1L546.7,1177.6L546.8,1178.1L547.5,1178.6L551.6,1179.6L552.1,1180.6L551.5,1183.1L551.7,1183.6L555.5,1185.8L556.9,1187.1L557.2,1188.1L557.1,1189.1L555.8,1191.6L558.2,1193.1L558.4,1193.6L558.3,1194.1ZM48.7,1177.1L49.5,1176.6L50.8,1172.6L50.5,1171.7L50,1171.5L49.5,1171.6L48.8,1172.1L48,1174.1L46.7,1176.1L47.5,1177ZM494.5,1174.7L491.5,1174.8L489.7,1174.6L489,1174.1L488.8,1173.6L488.9,1172.1L490,1171.5L494.8,1172.1L495.5,1172.6L495.6,1173.6L495.5,1174.1ZM402,1175.2L398.5,1175.4L397,1175.3L396.2,1174.6L396.2,1173.1L397,1172.2L398,1171.9L399.5,1171.9L403,1172.4L403.2,1172.6L403,1174.1L402.8,1174.6ZM513,1174.7L510.5,1174.8L508.7,1174.6L508,1173.8L508.1,1172.6L508.7,1172.1L509.5,1171.9L512,1171.9L513.3,1172.1L514,1172.6L514.1,1173.6L514,1174.1ZM410,1190.2L409,1190.6L407.8,1190.1L407,1189.1L406,1186.3L405.5,1185.9L403.5,1185.1L403,1184.1L403.5,1183.1L406,1182.7L407,1182.1L407.1,1181.6L406.6,1178.1L406.8,1177.1L407.5,1175.9L409.6,1174.6L410.3,1173.1L413,1172.9L414.5,1173.2L414.8,1173.6L414.8,1174.1L414.5,1174.4L412.5,1175.3L412.1,1176.1L412.2,1176.6L413,1177.4L415,1177.8L417,1177.4L418.3,1175.6L419.5,1174.8L421,1174.6L427,1174.6L427.9,1174.1L428.5,1172.9L429.5,1172.4L433.7,1173.1L433,1174.6L431.6,1175.6L431.3,1177.6L430.8,1178.1L426.9,1178.6L425.6,1179.1L425.3,1179.6L425.3,1180.1L426,1181.6L426,1182.1L425.4,1182.6L421.5,1183.7L419.5,1183.9L418,1183.5L415,1181.2L414,1181.3L413.4,1181.6L412.5,1182.6L410.9,1183.6L410.9,1184.6L412.2,1186.1L412.4,1187.1L411.9,1188.1ZM268.5,1188.6L266.5,1189.1L265.1,1188.6L262,1184.9L259.5,1184L258.9,1183.1L258.8,1182.1L259.5,1181.2L262,1180.6L263,1179.6L264.2,1176.6L264.4,1173.6L265.5,1172.9L269,1172.8L270.5,1173.4L270.8,1174.1L270.7,1175.1L269.8,1177.1L270.5,1179.5L271,1179.9L271.5,1179.9L272,1179L273,1178.6L276,1179L276.9,1179.6L276.8,1180.1L276,1180.7L272.3,1181.1L272.1,1181.6L272.1,1182.6L273.2,1184.1L273.1,1185.6L272.5,1186.4L270.4,1187.1ZM238.5,1176.3L234.5,1176.4L228.5,1175.7L227.7,1175.1L227.7,1174.6L228.2,1174.1L229,1173.9L231.5,1173.9L234.5,1173.4L238,1173.4L239,1173.7L239.6,1174.6L239.5,1175.6ZM256.5,1175.7L254.5,1175.8L253.2,1175.6L252.7,1175.1L252.6,1174.1L253.5,1173.8L257,1174L257.4,1174.6L257.3,1175.1ZM480,1176.7L477,1176.7L476.3,1176.1L476.3,1175.6L476.9,1175.1L477.5,1175L480,1175L480.8,1175.6L480.8,1176.1ZM443.5,1183.2L440,1183.2L439.2,1182.6L438.8,1181.6L438,1180.6L437,1180.3L433,1180.1L432.6,1179.6L432.6,1179.1L433,1178.6L437,1178.1L437.6,1177.6L438.2,1176.1L439,1175.5L442,1175.5L444.5,1176.2L447.3,1176.6L447.8,1177.1L447.8,1177.6L446.1,1179.1L444.4,1182.6ZM390.5,1178.2L387.8,1178.1L387.3,1177.6L387.3,1176.6L387.7,1176.1L388.5,1175.9L391.5,1176.1L391.9,1176.6L391.6,1177.6ZM462.5,1180.3L459.5,1180.4L457.5,1179.9L456.7,1179.1L456.6,1178.1L456.8,1177.6L457.5,1176.9L459,1176.4L461.5,1176.3L463,1176.6L463.6,1177.1L463.7,1178.6L463.4,1179.6ZM540.6,1179.1L541.3,1178.6L541.7,1177.6L541.7,1177.1L541,1176.5L536,1176.5L535,1177L534.8,1177.6L535,1178.9L536,1179.4L539,1179.5ZM500.5,1180.2L498.5,1180.4L495.5,1180.2L494.5,1179.6L494.3,1178.1L494.5,1177.6L495.5,1177L500,1177L501,1177.6L501.2,1178.1L501.2,1179.6ZM234,1181.1L232,1181.3L229,1181L228.3,1180.6L228,1180.1L228,1179.6L228.5,1178.9L229.5,1178.5L232,1177.9L233.5,1178L234.5,1178.6L234.9,1179.6L234.7,1180.6ZM92.5,1217.8L91,1216.9L88.5,1217L87.3,1216.6L81.5,1213.2L80.6,1212.1L80,1209.1L79.1,1201.1L79.1,1196.1L74.5,1186.6L74.5,1180.1L75,1179.1L75.5,1178.9L77.5,1178.6L83,1178.8L91,1178.6L92.5,1179.1L93.2,1180.1L93.9,1184.6L94.5,1186.6L95.5,1192.1L96.1,1198.1L96.9,1203.1L97,1205.1L97.4,1207.1L97.3,1208.1L97,1208.6L94.7,1210.6L93.8,1213.6L93.7,1216.1L93,1217.5ZM251.5,1180.7L248,1180.7L247.3,1180.1L247.3,1179.6L248,1179.1L249.5,1178.6L251.5,1178.5L252,1178.6L252.4,1179.1L252.5,1179.6L252.3,1180.1ZM492.5,1187.7L490,1187.8L488,1187.7L487.2,1187.1L486.5,1185.7L486,1185.2L485,1184.9L481.9,1184.6L482.2,1183.6L483.4,1182.1L484,1180.3L484.5,1180L486,1179.9L487,1179.9L488,1180.4L488.3,1181.1L487.7,1183.1L487.8,1184.1L489,1184.8L493,1185.4L493.2,1185.6L493.4,1186.6L493.3,1187.1ZM512.5,1182.2L508.5,1182.2L507.5,1181.6L507.6,1181.1L508.2,1180.6L509,1180.5L512.5,1180.5L513.3,1181.1L513.3,1181.6ZM522.5,1182.1L521,1181.9L520.7,1181.6L520.7,1181.1L521.5,1180.5L523,1180.4L525,1180.5L525.9,1181.1L525.9,1181.6L525,1182ZM369,1183.2L366,1183.2L365.3,1182.6L365.4,1182.1L366.5,1181.6L369.2,1181.6L369.9,1182.1L369.9,1182.6ZM461.5,1187.7L457.5,1187.8L456.5,1187.6L456,1187.1L455.9,1185.6L457.2,1183.1L458,1182.3L459.5,1181.8L462,1181.9L465,1182.7L467.5,1183L468.3,1183.6L468.2,1184.1L467.8,1184.6L464.5,1184.9L463.5,1185.3L462.5,1187.1ZM49.5,1197.1L46,1197.2L45.2,1196.6L45.2,1196.1L46,1195.5L49.5,1195.3L50.3,1195.1L51.2,1193.1L53.3,1192.1L53.7,1191.6L53.8,1190.6L53.5,1190.2L51,1189.8L49,1190.1L48.5,1190.5L47.5,1192.6L46.5,1193L43,1193.1L42.9,1192.6L43,1184.9L44.5,1184.8L45.5,1184.5L46.8,1183.1L47.5,1182.7L55.5,1182.2L57,1182.4L57.8,1183.1L57.8,1183.6L57.3,1184.1L56,1184.3L51.5,1184.2L50.5,1184.4L49.7,1185.1L49.5,1185.6L49.6,1186.6L50.5,1187.5L53,1188.2L54,1190L55.5,1190.2L56.8,1189.6L57.7,1187.6L58.5,1186.4L59.5,1185.8L60.5,1185.8L61.5,1186.4L62,1187.1L63.1,1189.6L65.3,1191.1L65.3,1191.6L65,1192L63.1,1193.1L61.9,1194.6L57,1194.9L54.5,1195.6L51.5,1195.4L50.8,1195.6L50,1196.8ZM253,1186.2L249.5,1186.2L248.7,1185.6L248.7,1185.1L249.2,1184.6L250,1184.4L253,1184.5L253.8,1185.1L253.8,1185.6ZM528,1187.2L527.2,1187.1L526.7,1186.1L526.8,1185.1L527.5,1184.4L528,1184.4L528.6,1185.1L528.6,1186.6ZM478,1190.8L477,1190.9L475.6,1190.1L474.4,1187.1L474.5,1185.9L475.5,1185.1L476.5,1184.9L480.5,1184.9L481.5,1185.1L481,1187.1L478.8,1188.6L478.6,1190.1ZM361.5,1188.7L359,1188.8L357.7,1188.6L357.2,1188.1L357.1,1186.6L357.5,1186.1L358.5,1185.9L360,1186L361.5,1186.4L362,1186.6L362.4,1187.6L362.3,1188.1ZM380,1188.7L371,1188.8L370,1188.5L369.6,1187.6L370,1186.7L371,1186.4L379.5,1186.5L380.2,1186.6L380.6,1187.1L380.6,1188.1ZM286,1194.1L282,1194.1L281.1,1193.6L280.9,1192.6L281,1192.1L281.7,1191.6L285.2,1191.1L285.5,1190.7L285.6,1189.6L286.1,1188.6L287.1,1187.6L288.5,1186.9L290,1186.7L291.5,1186.9L293,1187.6L294.2,1188.6L294.7,1189.6L294.6,1190.1L293.5,1191.3L291.5,1192.3L288.5,1192.6L287,1193.8ZM433.5,1191.7L431,1191.8L429.5,1191.6L428.8,1191.1L428.5,1190.6L428.6,1189.6L429.2,1189.1L430,1188.9L432.5,1188.9L433.8,1189.1L434.5,1189.6L434.6,1190.6L434.5,1191.1ZM218,1193.6L216.5,1194L215.5,1193.6L215,1193.1L214.6,1192.1L214.6,1191.1L215,1190.1L215.5,1189.6L217,1189.2L218,1189.6L218.5,1190.1L218.9,1191.1L218.9,1192.1L218.5,1193.1ZM389.5,1191.2L385.8,1191.1L385.1,1190.6L385.1,1190.1L386.5,1189.5L389.5,1189.6L390.3,1190.1L390.3,1190.6ZM537,1193.2L534.5,1193.3L532.8,1193.1L532,1192.5L532,1191.1L532.5,1190.5L533.5,1190.1L537.2,1190.1L538,1190.6L538.2,1191.6L538,1192.6ZM468.5,1192.6L465,1192.6L464.3,1192.1L464.2,1191.1L464.7,1190.6L465.5,1190.5L468.5,1190.7L469.1,1191.1L469.2,1191.6L469,1192.3ZM261.5,1194.2L257.5,1194.2L256.5,1193.6L256.4,1192.6L256.5,1192.1L257.5,1191.5L261.5,1191.5L262.5,1192.1L262.6,1192.6L262.5,1193.6ZM354.5,1193.6L351.5,1193.7L350.7,1193.1L350.7,1192.6L351.2,1192.1L352,1191.9L355.2,1192.1L355.6,1192.6L355.5,1193.1ZM381.5,1204.2L373.5,1204.3L371.7,1204.1L371.2,1203.6L371.2,1203.1L371.5,1202.8L372,1202.5L375.7,1202.1L376.5,1201.6L376.9,1201.1L376.8,1200.6L376,1199.7L375.5,1199.5L370.5,1199.3L369.5,1199L368.8,1198.1L369,1196.6L369.5,1196.1L370.5,1195.9L374.5,1195.9L375.4,1195.6L376.5,1192.9L377,1192.1L377.5,1191.9L378.4,1195.1L378.5,1196.6L378.4,1198.6L377.6,1201.1L378,1201.6L379,1202.2L381.5,1202.5L382,1202.8L382.3,1203.6ZM447.5,1195.7L446.5,1195.9L445.8,1195.6L445.4,1195.1L445.2,1193.1L445.5,1192.6L447.5,1192.1L448.8,1192.6L449,1193.1L448.9,1193.6ZM493.5,1195.2L490,1195.2L489.5,1195.1L489.2,1194.6L489.2,1194.1L489.7,1193.6L490.5,1193.4L493.5,1193.5L494.2,1194.1L494.2,1194.6L494,1195ZM549,1195.2L546,1195.3L545.3,1195.1L545,1194.6L545.2,1194.1L546,1193.5L549,1193.5L549.6,1193.6L550,1194.1L549.9,1194.6ZM73.5,1214.7L72.5,1214.9L71.8,1214.6L70.8,1213.6L70.2,1212.1L69.5,1209.1L69.5,1207.1L70.3,1202.6L70,1201.6L68.7,1199.6L68.5,1198.6L68.7,1197.6L69.5,1196.5L71,1195.5L72.5,1195.2L74,1195.4L75,1196L76.7,1197.6L77.1,1198.6L76.9,1199.6L75.5,1201.6L75.2,1202.6L76,1206.6L75.9,1209.6L74.9,1213.1L74.3,1214.1ZM298,1201.1L297,1201.4L295.5,1201.3L291.5,1199.3L287,1199.2L286.1,1198.6L286.1,1198.1L286.8,1197.6L287.5,1197.5L292,1197.4L295,1196.2L296.5,1195.9L298,1196.1L301,1197.1L303,1197.3L303.9,1197.6L304.1,1198.1L304,1198.6L303.5,1199L301,1199.7ZM542.5,1197.7L540.5,1198L539.5,1197.9L539,1197.6L538.7,1197.1L538.8,1196.6L539.4,1196.1L540,1196L543,1196L543.5,1196.6L543.4,1197.1ZM426,1201.7L423,1201.8L421.5,1201.4L419.4,1199.1L419.4,1198.1L420,1197.5L421,1197L423,1196.5L425,1196.4L427.5,1196.6L429.5,1197.1L431.1,1198.1L431.3,1199.1L430.8,1199.6ZM62.5,1200.2L59,1200.1L58.4,1199.6L58.3,1198.6L58.8,1198.1L59.5,1197.9L62.8,1198.1L63.3,1198.6L63.4,1199.1L63.3,1199.6ZM551,1200.7L548.5,1200.8L547,1200.7L546.3,1200.1L546,1199.1L546.1,1198.6L546.7,1198.1L547.5,1197.9L551,1198L551.8,1198.6L552.2,1199.6L552,1200.2ZM478.5,1204.2L475.5,1204.3L471,1202.9L468,1202.7L467.2,1202.1L467.2,1201.6L468,1201L472,1200.8L476.5,1199.7L479,1198.5L483,1198.2L483.4,1198.6L483.4,1199.6L482.2,1201.1L481.6,1202.6L480.3,1203.6ZM346.5,1206.2L345.5,1206.4L344.6,1206.1L343.5,1204.7L343.1,1203.1L343.3,1202.1L343.8,1201.1L345,1200.1L346.6,1199.6L351.5,1199.2L351.9,1199.6L352,1200.1L351.8,1201.1L351.3,1201.6L349.7,1202.1L349,1202.6L348,1205.1L347.5,1205.7ZM421.5,1217.7L420,1217.7L419,1217.2L417.3,1215.1L416.3,1213.1L415.6,1212.6L413.5,1212L412.8,1211.6L412,1210.6L411.5,1210.6L409,1212.8L408,1213.1L406.8,1212.6L405.3,1211.1L404.5,1208.6L404.5,1207.1L405,1205.3L405.8,1204.1L408.5,1201.9L409.2,1200.1L409.5,1199.8L410.5,1199.5L412.5,1199.5L413.1,1199.6L413.7,1200.1L413.6,1201.1L413.1,1201.6L411,1201.9L409.8,1202.6L410,1203.6L411.1,1205.1L411.6,1208.6L412,1209.6L412.5,1209.7L414,1209.4L417,1209.4L419.5,1208.3L421,1208.1L422.6,1208.6L424.5,1210.5L425,1212.1L424.7,1214.1L422.6,1217.1ZM438,1201.7L435.5,1201.8L434,1201.6L433.6,1201.1L433.5,1200.1L434,1199.6L434.5,1199.5L438.3,1199.6L438.8,1200.1L438.9,1200.6L438.8,1201.1ZM496.5,1203.2L493.5,1203.4L492,1203L491.5,1202.1L491.6,1200.6L492,1200.2L493,1199.9L496,1199.8L497.1,1200.1L497.7,1200.6L497.8,1202.1L497.5,1202.6ZM541,1204.1L540,1204.3L539.5,1204.1L539,1203.6L539.1,1200.6L539.5,1199.8L540,1199.6L541,1200.3L541.9,1202.1L541.7,1203.1ZM321.5,1205.1L319.5,1205.3L318.5,1204.9L317.5,1204.1L316.9,1203.1L316.8,1202.1L317.2,1201.1L318.5,1200.5L320,1200.4L321.5,1200.7L323,1201.6L323.5,1202.6L323.3,1203.6L322.5,1204.6ZM579.5,1208.2L577,1208.3L575.5,1208L575.1,1207.1L575.2,1205.1L575,1204.1L574.5,1203.6L572.2,1202.6L571.9,1202.1L572,1201.1L572.7,1200.6L573.5,1200.4L577,1200.4L578,1200.8L579.6,1202.1L582,1202.6L582,1206.3L581.4,1206.6L580.5,1207.6ZM567,1210.7L564.5,1211.1L561,1210.4L557.5,1210.8L556,1210.7L555.5,1210.5L555.2,1209.6L555.5,1209.3L559,1208.6L559.5,1208.1L559.8,1207.1L559.5,1206.2L558.2,1205.6L557.7,1205.1L557,1203.6L556,1203L554.7,1202.6L554.2,1202.1L554.2,1201.6L555,1201L558,1201L558.5,1201.4L559.2,1202.6L560,1203.2L562.5,1203.8L564.2,1204.6L567.5,1205.7L568.9,1207.1L569.3,1208.6L569.2,1209.1L568.5,1210ZM117.5,1211.6L116,1212L115,1211.6L113.5,1209.5L112.7,1207.1L112.6,1205.1L113.5,1203.1L114.5,1201.9L116,1201.1L117.5,1201.5L118.5,1202.4L119.5,1203.7L120,1205.1L120,1206.6L119.6,1208.1L118.5,1210.4ZM277.5,1204.7L273.5,1204.6L272.7,1204.1L272.5,1203.1L272.7,1202.6L273.5,1202.1L276.5,1201.5L278.5,1201.6L279.1,1202.1L279.2,1203.6L278.5,1204.4ZM252.5,1204.1L249,1204.2L248.1,1203.6L248.1,1203.1L248.7,1202.6L249.5,1202.5L252.5,1202.5L253.1,1203.1L253,1203.6ZM506,1205.7L504,1205.8L502.7,1205.6L502.2,1205.1L502.1,1204.1L502.4,1203.6L503,1203.4L506.3,1203.6L507,1204.1L507.1,1204.6L507,1205.1ZM264.5,1207.2L262.5,1207.3L260,1207.2L259.2,1206.6L259,1205.6L259.1,1205.1L259.7,1204.6L260.5,1204.4L263,1204.4L264.7,1204.6L265.5,1205.1L265.8,1206.1L265.5,1206.6ZM311.5,1210.2L308.5,1210.4L306.7,1210.1L306,1209.6L305.8,1209.1L306,1207.7L306.6,1207.1L308.5,1206.5L310.1,1205.1L312,1204.9L313.8,1205.1L314.2,1205.6L314.2,1206.1L312.6,1207.6L312.2,1209.6ZM363.5,1208.8L362.5,1209L361.7,1208.6L361.4,1208.1L361.4,1207.6L362.6,1205.6L363.4,1205.1L364.5,1205L366,1205.1L367.2,1205.6L365.2,1206.6ZM274,1210.2L270.5,1210.3L269,1210L268.3,1209.1L268.4,1207.1L269,1206.6L270,1206.4L274.5,1207.3L275.2,1208.1L275.2,1209.1L275,1209.6ZM468,1208.2L464.5,1208.2L463.7,1207.6L463.7,1207.1L464.2,1206.6L465,1206.4L468,1206.5L468.9,1207.1L468.9,1207.6ZM486.5,1208.2L482.5,1208.2L481.6,1207.6L481.6,1207.1L482.3,1206.6L483,1206.5L486.6,1206.6L487.3,1207.1L487.3,1207.6ZM437,1209.2L433.5,1209.2L432.7,1208.6L432.8,1208.1L434,1207.5L437,1207.5L437.9,1208.1L437.9,1208.6ZM481.5,1213.8L478,1213.8L476.7,1213.6L476,1213.1L475.8,1212.6L476,1211.6L476.5,1211.2L477.5,1210.9L481,1210.4L482,1210.6L482.6,1211.1L482.6,1212.1L482.3,1213.1ZM286.5,1214.7L282.5,1214.7L281.6,1214.1L281.6,1213.6L282.2,1213.1L283,1213L286.5,1213L287.3,1213.6L287.3,1214.1ZM311,1214.7L308,1214.7L307.2,1214.1L307.2,1213.6L307.7,1213.1L308.5,1212.9L311.5,1213.1L311.9,1213.6L311.8,1214.1ZM521.5,1216.2L517,1216.2L516,1215.6L515.9,1214.6L516,1214.1L517,1213.5L521.5,1213.5L522.5,1214.1L522.6,1214.6L522.5,1215.6ZM300.5,1219.7L297.5,1219.7L297,1219.5L295.9,1218.1L291,1217.7L290,1217.1L289.8,1216.1L290.1,1215.6L291,1215.2L295,1215.3L296,1216L296.5,1217.2L297,1217.7L301,1218.2L301.4,1218.6L301.4,1219.1ZM453,1217.2L450,1217.2L449.2,1216.6L449.1,1216.1L449.4,1215.6L450,1215.5L453,1215.5L453.8,1216.1L453.8,1216.6ZM564,1220.2L563.5,1220.4L563,1220.2L562.5,1219.6L562.1,1218.6L562.3,1216.1L563,1215.4L564.1,1215.6L564.8,1217.1L564.9,1218.6L564.5,1219.6ZM551,1218.7L547.5,1218.7L546.5,1218.1L546.4,1217.6L546.5,1217.1L547.5,1216.5L551,1216.5L552,1217.1L552.1,1217.6L552,1218.1ZM264,1219.6L262.5,1219.8L260,1219.7L259.3,1219.1L259.2,1218.6L259.4,1218.1L260,1217.8L263.5,1218L264.3,1218.6L264.3,1219.1ZM275.5,1225.7L272.5,1225.8L270.8,1225.6L269.5,1223.7L266.5,1223.2L265.5,1222.6L265.1,1221.6L265.1,1220.6L265.8,1220.1L267.5,1219.9L275.5,1219.9L277.2,1220.1L277.9,1220.6L278.1,1221.1L278,1222.6L276.5,1225.1ZM309.5,1232.7L309,1232.8L308,1232.6L306.8,1231.6L306.3,1230.6L305.8,1228.1L305.8,1225.1L306.1,1222.6L307,1221L308,1220.3L309.5,1220.5L310.9,1221.6L311.4,1222.6L311.8,1224.6L312.7,1226.6L312.6,1227.6L311.6,1229.1L310.8,1231.6ZM73.5,1227.1L72,1227.1L71,1226.7L70,1225.6L69.6,1224.6L69.6,1223.6L70,1222.6L70.9,1221.6L72,1221.1L73.5,1221.1L74.5,1221.5L75.5,1222.6L75.9,1223.6L75.9,1224.6L75.5,1225.6L74.6,1226.6ZM112,1234.2L110.5,1234.4L109.3,1233.6L108.5,1232.1L107.8,1229.1L107.8,1225.6L108.5,1223.1L109.5,1221.4L110,1221L111,1220.8L112,1221L113,1222.1L113.7,1223.6L114.2,1226.1L114.2,1229.1L113.7,1231.6L113,1233.1ZM289,1222.7L286,1222.7L285.5,1222.5L285.1,1221.6L285.3,1221.1L286,1220.7L289,1220.7L289.8,1221.1L289.9,1221.6L289.8,1222.1ZM559,1224.2L554.5,1224.3L553.5,1223.7L553.4,1222.6L553.5,1222.1L554.5,1221.5L557,1221.3L559,1221.5L560,1222.1L560.3,1222.6L560,1223.6ZM544.5,1234.2L541,1234.2L540.4,1233.6L540.2,1232.6L540.7,1230.1L541.1,1229.6L542.5,1228.9L543.1,1228.1L543,1227.1L542.1,1225.6L542.3,1224.6L543,1224L544,1223.9L546.1,1224.1L546.8,1224.6L547.2,1225.6L547,1227.2L546.1,1229.6L545.5,1233.3L545,1234ZM404.5,1227.7L401.2,1227.6L400.7,1227.1L400.7,1226.1L401.5,1225.5L405,1225.2L405.4,1225.6L405.5,1226.6L405,1227.5ZM222.5,1228.1L221.1,1227.6L220.9,1227.1L221.1,1226.6L222.5,1226.1L223.9,1226.6L224.1,1227.1L223.9,1227.6ZM436,1230.2L434,1230.3L432.7,1230.1L432.2,1229.6L432.2,1228.6L432.7,1228.1L433.5,1227.9L436,1228.1L436.7,1228.6L437,1229.1L437,1229.6ZM123,1240.1L121.5,1239.8L120.2,1238.6L119.3,1237.1L118.8,1235.1L118.8,1233.1L119.7,1230.6L121,1229L122.5,1228.5L124,1229L125,1230L125.7,1231.6L126.2,1233.6L125.9,1236.6L125.3,1238.1L124.1,1239.6ZM284,1232.7L281,1232.7L280.2,1232.1L280.2,1231.6L280.7,1231.1L281.5,1230.9L284.3,1231.1L284.9,1231.6L284.9,1232.1ZM336,1233.7L333,1233.8L332,1233.6L332.2,1232.1L332.7,1231.6L333.5,1231.4L336.3,1231.6L336.8,1232.1L336.9,1233.1L336.5,1233.6ZM330,1236.2L326.5,1236.1L326.1,1235.6L326.2,1235.1L326.7,1234.6L327.5,1234.4L330,1234.4L330.9,1234.6L330.8,1235.6ZM328,1244.2L324,1244.2L322,1243.1L318.5,1241.9L317.7,1241.1L317.1,1239.6L317.2,1238.1L317.7,1237.1L319,1236.1L321,1235.5L322.5,1235.6L324.5,1236.6L325.1,1238.1L325.3,1240.6L325.8,1241.1L328,1241.5L329,1242.1L329.2,1243.1L329,1243.6ZM419,1251.6L417.5,1251.8L408.5,1250.7L408,1250.5L407,1249.1L406.5,1248.7L404.5,1248L404.1,1247.1L404.7,1245.6L404.8,1244.6L403.7,1242.6L403.5,1239.6L403.9,1238.6L405.1,1237.6L406,1236.1L407.5,1235.4L411.5,1235.2L416.5,1235.4L417.5,1235.7L418,1236.2L418.1,1237.1L418,1237.6L417,1238.3L410.5,1238.2L409.5,1238.7L409.3,1239.1L409.4,1239.6L410.7,1241.1L410.9,1242.6L410.2,1245.1L409.3,1246.6L409.2,1247.6L409.5,1248.1L410.5,1248.7L418.6,1248.1L419.1,1247.6L419,1246.6L418.5,1246.1L417,1245.5L416.5,1245.1L416.3,1244.6L416.8,1242.1L417,1241.6L417.7,1241.1L419,1240.9L425.5,1240.9L426.5,1241L427.4,1241.6L427.7,1242.1L427.8,1243.1L427.1,1244.1L426.5,1244.3L424.5,1243.7L423.5,1243.8L422.7,1244.6L422.4,1245.6L422.7,1247.6L423.2,1248.1L424.8,1248.6L425.5,1249.1L425.7,1249.6L425.5,1250.6L424.8,1251.1L424,1251.3ZM568,1244.7L565.5,1244.8L564.5,1244.5L563.5,1242.5L562.5,1241.8L560.2,1241.1L559.5,1240.1L559.5,1239.5L559.8,1239.1L560.5,1238.8L563.5,1238.5L568,1238.5L569.5,1238.9L570,1239.6L569.9,1240.1L569.1,1241.6L568.8,1244.1ZM106,1247.2L104.5,1247.4L103,1247.2L101.5,1246.7L100.6,1246.1L99.6,1244.6L99.6,1243.6L100.1,1242.6L101.5,1241.5L103.5,1240.8L106,1240.9L108,1241.8L109.2,1243.1L109.4,1244.6L108.9,1245.6L108,1246.4ZM139.5,1244.3L139,1244.5L138,1244.3L137.5,1243.9L137.5,1243.3L138.5,1242.8L139.5,1242.9L140.1,1243.6ZM291,1245.7L287.5,1245.7L286.7,1245.1L286.7,1244.6L287.2,1244.1L288,1243.9L291,1244L291.8,1244.6L291.8,1245.1ZM131.5,1250.1L130,1250.5L127.5,1250.6L124.5,1249.9L123.2,1249.1L122.4,1248.1L122.1,1247.1L122.2,1246.6L123.5,1245.3L126,1244.5L129.5,1244.4L132,1244.8L133,1245.3L134,1246.1L134.3,1246.6L134.5,1247.6L134,1248.6L133.5,1249.1ZM336.5,1246.7L333,1246.6L332.6,1246.1L332.7,1245.1L333.2,1244.6L334,1244.4L336.8,1244.6L337.3,1245.1L337.4,1245.6L337.3,1246.1ZM329.5,1249.2L326,1249.2L325.2,1248.6L325.2,1248.1L325.7,1247.6L326.5,1247.4L329.9,1247.6L330.4,1248.1L330.3,1248.6ZM434,1251.2L429.5,1251.2L428.3,1250.6L428.1,1249.6L428.5,1248.9L429.5,1248.5L434,1248.5L435,1249.1L435.1,1249.6L435,1250.6ZM330.5,1254.2L327,1254.2L326.2,1253.6L326.2,1253.1L326.7,1252.6L327.5,1252.4L330.5,1252.5L331.3,1253.1L331.3,1253.6ZM416,1259.1L413.5,1259.3L412,1258.9L411,1258.1L411.1,1257.1L411.7,1256.6L412.5,1256.4L418,1256.9L422.5,1256.4L425,1256.4L428.4,1257.1L428.9,1257.6L429,1258.1L428.5,1258.8L418.5,1258.9ZM430,1261L429.5,1261.1L428.9,1260.6L429,1259.5L429.5,1259.3L430.1,1259.6L430.3,1260.6ZM407,1267.2L404,1267.3L402.5,1267L401.8,1266.1L402,1264.6L402.7,1264.1L404,1263.9L406.5,1263.9L407.5,1264.3L408.3,1265.1L408.3,1266.1L408,1266.6ZM423,1271.7L420,1271.7L419.2,1271.1L419.2,1270.6L420,1270L423,1270L423.8,1270.6L423.8,1271.1ZM331.5,1420.1L330,1420.4L326.5,1420.4L322.4,1420.1L323,1419.3L324,1418.7L325.5,1418.2L327,1418.1L328.5,1418.2L330,1418.7L331,1419.3Z" fill="#00b5eb" fill-rule="evenodd"/>
<path d="M151,1094.1L149.5,1094.5L147.5,1094.5L144,1093.8L142.7,1093.1L141.8,1092.1L141.6,1091.6L141.8,1090.6L142.4,1089.6L144,1089.3L151,1089.3L153.6,1089.6L154.4,1091.1L154.2,1092.1L153,1093.4ZM180,1095.6L178,1096L176,1096L173.5,1095.3L172,1094.4L171.3,1093.6L170.9,1092.6L171.3,1091.1L173,1089.6L174.5,1089.3L178,1089.3L182.5,1089.6L185,1090.7L187,1089.6L192,1089.3L195.2,1089.6L196.4,1090.6L196.9,1091.6L196.7,1092.6L196,1093.5L195,1094.2L193.5,1094.7L191.5,1094.9L189.5,1094.8L187.5,1094.3L185.5,1093.3L185,1093.4L183.5,1094.7L182.5,1095.2ZM373.5,1093.2L371,1093.5L368.5,1093.2L366.5,1092.1L366.2,1091.6L366.2,1090.6L367,1089.6L368.5,1089.3L372.5,1089.3L375,1089.6L375.8,1090.6L375.8,1091.6L375,1092.5ZM391.5,1094.3L389,1094.5L386.5,1093.9L385.5,1093.3L384.8,1092.6L384.6,1092.1L384.8,1091.1L385.5,1090.4L387.1,1089.6L390,1089.4L392.5,1089.8L394,1090.9L394.4,1092.1L393.5,1093.3ZM491,1094.7L488.5,1095L483,1095L477,1093.8L473,1094.5L469,1094.5L467.5,1094.3L463.5,1093.1L460,1093.5L454,1093.3L450,1093.5L447.5,1092.8L446.5,1092.1L446.1,1091.1L446.2,1090.6L447,1089.6L448,1089.4L458,1089.3L464.5,1089.6L468.5,1089.3L473.5,1089.3L476,1089.5L478,1089.9L482.5,1089.5L489.5,1089.5L493,1089.9L494.5,1090.5L495.2,1091.1L495.7,1092.1L495,1093.3L493,1094.3ZM255,1094.2L252.5,1094.4L250.5,1093.8L249.5,1093.1L249.1,1092.6L249.1,1091.6L250.1,1090.6L252,1089.9L254,1089.8L256,1090.4L257,1091.1L257.4,1091.6L257.4,1092.6L256.5,1093.6ZM84.5,1092.7L82.5,1093.1L79,1093L77,1092.6L76.2,1092.1L76.2,1091.6L77,1091.1L79,1090.7L83,1090.7L85,1091.1L85.8,1091.6L85.8,1092.1ZM421.5,1096.3L420.5,1096.6L419,1096.3L418,1095.6L417.3,1094.6L417.2,1093.6L417.3,1092.6L418,1091.6L419,1090.9L420,1090.6L421.5,1090.9L422.5,1091.6L423.2,1092.6L423.3,1093.6L423.2,1094.6L422.5,1095.6ZM194,1115.6L192,1115.6L190.6,1114.6L189.3,1111.6L189.5,1108.5L189,1107.8L186.7,1107.1L186.7,1106.6L188,1106.1L192,1105.7L194,1105.8L194.5,1105.6L195,1104.7L195.6,1102.6L196.3,1101.6L197.5,1101L198.5,1101.1L199.7,1102.1L200.2,1103.6L200.4,1105.6L200.1,1107.1L199.5,1108.4L198.7,1109.1L198,1109.3L196,1109.4L195,1115.1L194.5,1115.5ZM210,1105.7L209,1105.5L208.5,1104.9L208.2,1104.1L208.5,1102.8L209.5,1102L210.5,1102.2L211,1102.8L211.3,1103.6L211,1104.9ZM440.5,1118.7L438.5,1118.8L436.7,1118.1L435.5,1117.1L434.5,1115.1L434.4,1113.6L435.1,1112.1L436.5,1110.6L438,1109.9L440,1109.8L441.5,1110.3L443.1,1111.6L443.8,1112.6L444.1,1113.6L444.1,1115.1L443.4,1116.6L442,1118.1ZM450.5,1151.7L447.5,1151.9L445.5,1151.7L444.5,1151.1L443.8,1149.6L443.2,1149.1L439.5,1148.5L439,1148.1L438.5,1146.6L437.4,1145.6L436.9,1144.1L436,1143.5L431.5,1144L429.9,1145.1L429,1145.4L426.5,1145.4L425.3,1145.1L424.8,1144.6L425,1143.6L426,1143.2L427.5,1143L428.1,1142.6L428.1,1142.1L427,1140L424,1138.3L423,1138.2L421.5,1138.6L420,1140.1L419,1140.5L416,1140.8L414,1140.5L413.3,1139.6L413.5,1138.6L413.9,1138.1L414.5,1137.8L416.6,1137.6L417.9,1137.1L419,1135.6L422.5,1135.2L425.5,1133.2L427.5,1132.6L431,1132.2L434,1132.8L435.5,1133.7L436.3,1134.6L436.4,1135.1L436,1137.1L436.2,1137.6L438.9,1138.6L440,1140.1L441,1140.4L442.5,1139.9L444.5,1137.7L446,1137.3L450,1137.3L451.5,1137.7L453,1138.6L455,1139.1L459,1138.8L459.4,1138.1L458.5,1137.4L453.9,1137.1L453.5,1136.6L453.6,1135.1L452.6,1133.1L452.6,1132.1L453,1131.6L454,1131.2L459,1131L461,1131.4L464,1130.7L467,1131L469.5,1131L470.7,1130.6L471,1130.1L470.6,1129.6L469.4,1129.1L467.5,1127.8L465.1,1127.1L464.4,1126.1L464.3,1123.1L464,1122.1L463.2,1120.6L462.9,1119.6L464.1,1114.1L464.6,1113.6L465.5,1113.3L469,1113.1L475.5,1113.4L476.5,1113.7L477.1,1114.6L477,1115.5L476.5,1116L475.1,1116.6L474.9,1117.1L475,1117.6L475.5,1118.1L478,1118.9L478.6,1119.6L478.6,1120.1L478,1121L476,1121.9L475.5,1122.6L475.6,1123.1L477.5,1124.2L478.1,1125.1L477.8,1126.1L476.6,1127.1L476.3,1127.6L476.7,1128.1L479,1129.5L480.3,1131.1L480.6,1132.6L480,1135.6L480.1,1136.1L481,1136.6L483.5,1136.8L484.3,1137.1L484.9,1138.1L484.7,1139.1L484,1139.8L483,1140L479,1139.9L478,1139.5L477,1138.1L473,1137.4L472.5,1137L471.2,1135.1L470,1134.7L469,1134.8L468.4,1135.1L468.2,1135.6L469,1138.1L468.9,1139.6L468.2,1141.1L466.9,1142.6L466,1144.6L465,1144.9L462,1145.2L460.2,1146.1L459,1147.4L458.8,1150.1L458,1150.9L456.5,1151.1L452.5,1151ZM236,1150.7L234,1150.9L230,1150L229.4,1149.1L229.1,1147.1L229.3,1145.6L229,1145.2L227.5,1144.5L226,1143.1L223,1142.8L222,1142.5L220.9,1141.6L220.6,1140.6L221,1139.6L222,1139L223.5,1138.5L224.4,1137.1L225,1136.7L227.3,1136.1L227.9,1135.6L227.8,1135.1L226.9,1134.1L226.6,1133.1L226.7,1132.6L227.4,1132.1L229,1131.7L232,1131.7L233,1132.1L233.6,1133.6L234.5,1134.4L237.5,1134.6L239,1134.4L239.9,1133.6L239.9,1132.6L239.4,1131.6L237,1130.1L236,1129.8L233,1129.5L231.5,1129L230.3,1128.1L229.5,1126.6L228,1127.1L227,1127.7L225,1130.1L224.5,1131.4L224,1131.7L217,1131.8L215.5,1131.4L214.5,1130.6L214.6,1130.1L215,1129.8L217.5,1129.5L218.5,1129L218.9,1127.1L221,1124.6L221.1,1124.1L220.5,1122.1L219.5,1120.6L219.3,1119.6L222,1115.3L223,1114.4L224.5,1113.7L226,1113.5L227,1113.6L229.5,1114.2L231.5,1115.3L233.5,1115.1L235,1115.6L236.2,1116.6L238.6,1119.6L238.9,1120.6L239.1,1122.6L239.4,1123.1L242.5,1123.5L247.4,1125.1L247.4,1125.6L246.3,1127.1L246.3,1128.1L249.5,1128.6L250.5,1129L251.9,1130.6L252.6,1132.1L252.5,1133.1L252,1133.8L251,1134.3L247.1,1135.1L246.4,1135.6L246,1136.9L245.5,1137.2L233.5,1137.5L232.7,1138.1L232,1139.6L231.5,1140L229.4,1140.6L228.9,1141.1L229.3,1141.6L231,1141.8L234.5,1141.3L238,1141.4L239,1141.7L239.5,1143.6L240.5,1144.4L243.5,1145.1L248.5,1145L249.5,1144.4L250,1143.6L250.3,1142.6L250.2,1142.1L249.5,1141.7L246.5,1141.2L245.9,1140.6L246.1,1140.1L246.7,1139.6L249,1139L250.5,1137.9L253.5,1137.6L254.9,1138.1L255.1,1139.1L254,1140.1L254.2,1140.6L256,1141.8L256.9,1143.1L256.9,1144.1L256.6,1144.6L254.5,1146.9L253.5,1147.5L252.5,1147.7L249.5,1147.4L244,1147.4L243,1147.7L242,1149.1L241.3,1149.6ZM414,1115.3L411,1115.5L409.8,1115.1L409.6,1114.6L410.5,1114.1L413.5,1114.2L414.4,1114.6L414.3,1115.1ZM196.5,1119.2L196,1119.4L195.5,1119.1L195.2,1118.6L195,1116.6L195.4,1115.6L196.9,1116.1L197.9,1117.1L198,1117.6L197.7,1118.1ZM379.5,1161.6L377.5,1161.7L376,1161.3L373.7,1158.1L373.6,1157.1L374.7,1155.1L374.2,1152.6L374.4,1151.6L375.9,1149.1L377.2,1147.6L377.2,1147.1L376.7,1146.6L374.9,1145.6L373.5,1142.8L372.5,1141.9L371.2,1141.1L373.5,1140.1L375,1139.8L377.5,1139.7L380,1140.1L381.2,1140.1L382,1139.6L383,1138.2L385.5,1137.5L386.5,1135.6L387,1135.2L389,1134.9L393,1136L393.7,1136.6L393.7,1137.1L393.2,1137.6L392.5,1137.9L388.7,1138.6L387.5,1139.7L386,1140.5L385.5,1141.1L385,1143.1L383.1,1143.6L382.6,1144.1L382.6,1144.6L383,1145.1L384,1145.3L385.5,1145.2L386.4,1144.6L387.2,1143.6L388.5,1143.2L396.5,1142.8L397.6,1142.6L399,1139.3L399.2,1136.6L397.8,1135.6L397.5,1135.1L397.5,1132L397,1131L393,1130.9L391.5,1130.6L390.1,1129.6L389,1128.1L388.5,1127.9L386,1128.1L384.8,1129.1L383.5,1129.5L379.5,1129.7L378.8,1129.6L378.5,1129.1L378.7,1128.6L380,1128.1L383,1128.2L384.5,1128L385,1127.6L385.6,1126.1L386,1125.6L387,1125.1L388.5,1124.9L391,1125L392,1122.6L391.4,1119.6L392,1118.1L393,1117.2L394.5,1116.5L396,1116.3L397.5,1116.7L398.7,1117.6L399.5,1119.1L399.3,1120.6L398.4,1123.1L398.5,1124.2L399,1125.1L400,1125.5L402.5,1125.8L403.5,1126.5L406.1,1129.6L406.8,1132.1L407.5,1132.9L409.5,1133L413,1132.5L414.3,1132.6L415.4,1133.1L415.7,1134.1L415.5,1134.6L414.9,1135.1L412,1136.4L409,1136.5L406.5,1135.6L405.5,1135.9L405,1136.6L406.1,1139.1L406.2,1140.1L405.8,1141.6L406,1142.8L406.5,1143.2L410,1143.1L411.5,1143.5L412.1,1144.1L412.1,1144.6L411.5,1145.5L409.5,1145.8L405.5,1144.9L402.5,1145.6L398.5,1145L390.5,1145.1L389.5,1145.4L388.8,1146.1L388.4,1149.1L388.6,1150.1L389.5,1150.8L392,1151.6L393,1153.7L393.5,1155.9L394.5,1156.5L397.5,1156.5L398.5,1156.1L399.2,1154.6L399.4,1151.6L400,1151.1L404,1151.7L405,1152.1L406.5,1153.2L409.5,1153.4L412,1154L415.5,1154.2L416.5,1154.6L416.4,1155.1L415.5,1155.6L412.5,1156L412,1156.3L411.9,1156.6L412.3,1157.1L413.5,1157.5L414.2,1158.1L414.2,1158.6L413.5,1159.1L410,1159.6L407,1159L405.5,1158.9L402,1159.8L399,1158.7L393.5,1158.8L393,1158.6L392.6,1157.1L392,1156.6L386.5,1156L385.6,1155.6L384.5,1154.1L381.5,1153.8L381,1154L380.4,1154.6L380.7,1157.1L380.6,1160.6L380.4,1161.1ZM414.5,1127.6L412.5,1127.8L411.2,1127.6L410.6,1127.1L409.5,1125.4L408.5,1124.9L406,1124.4L405.6,1124.1L405.7,1123.6L406.5,1123.3L409,1123.3L410,1123.6L410.8,1124.6L411.5,1125L415,1125.4L415.5,1126.1L415.1,1127.1ZM205,1135.1L202,1134.9L200,1133.8L199.3,1133.1L198.7,1132.1L199,1130.6L200,1129.2L201.5,1128.2L203,1127.7L205.5,1127.6L206.7,1127.1L206,1125.6L206.1,1125.1L206.5,1124.8L208,1124.6L209.5,1124.8L210,1125.1L211.5,1127.6L211.5,1128.1L211,1128.4L209.5,1128.7L208.9,1129.1L209,1130.1L209.8,1132.1L209.7,1133.1L209,1133.9L206.5,1134.9ZM495.5,1136.1L494.5,1136.3L493.5,1135.9L492.7,1135.1L492.1,1133.6L492,1132.1L492.4,1130.6L493.1,1129.6L494.5,1129L495.5,1129.1L496.3,1129.6L497.2,1131.6L497.3,1133.6L497.1,1134.6L496.4,1135.6ZM221,1137.2L220,1137.1L217.5,1136.4L217,1135.9L217,1134.6L217.5,1134L218,1133.9L220.5,1133.9L221.5,1134.2L222.2,1135.1L222.2,1136.1L222,1136.6ZM377.5,1138.6L376.5,1138.5L375.6,1137.6L375.6,1135.1L376,1134.6L376.5,1134.4L377.5,1134.6L378.5,1135.4L378.9,1136.1L378.7,1137.6L378,1138.4ZM209.5,1145.7L209,1145.7L207.1,1143.6L207,1143.1L207.8,1141.1L207.4,1140.1L206.5,1139.7L204.5,1139.2L203.7,1138.6L203.5,1137.6L203.6,1137.1L204,1136.6L205,1136.3L207.5,1136.4L208.6,1136.6L209.3,1137.1L211,1141.6L213,1143.1L212.9,1143.6L212.5,1143.9L211,1144.6ZM513,1163.7L512.5,1164L512,1163.2L511.6,1162.1L511.5,1161.1L510.5,1159.2L509.3,1158.6L508.5,1158.8L507.9,1160.1L507,1160.6L501.5,1160.4L497,1161.3L494.5,1160.9L493.4,1160.1L492.5,1158.9L491.5,1158.7L490,1159L489.2,1160.1L487.5,1160.8L483.5,1160.6L482,1160.1L481.4,1159.1L481.5,1156.8L478.5,1151.6L478.6,1150.6L479.7,1148.6L479.7,1147.6L478.1,1146.1L477.3,1144.6L477.1,1143.1L478,1142.2L479,1141.8L483,1141.7L484.3,1142.1L485.3,1143.6L486,1144L490.5,1144.4L491.5,1144.7L492,1145.2L492.3,1146.6L492.1,1147.6L491.4,1148.6L491.2,1151.1L491.5,1153.6L492,1153.8L493,1153.3L494.1,1152.1L494.2,1151.1L493.8,1149.1L494.3,1148.1L496.7,1146.6L498.5,1144.7L500,1144.4L503.5,1144.4L504.5,1144.7L506.5,1145.9L508,1146.4L509.1,1147.6L509.2,1149.1L508,1150.7L506,1154.4L505,1155.3L503,1156.1L504,1156.5L507,1156.7L507.5,1156.5L508.2,1155.6L509,1155.2L511.2,1154.6L513,1153.8L514.5,1153.6L515.5,1154.1L516.4,1155.1L516.8,1156.1L516.6,1158.6L515.9,1160.6L514,1162.1ZM367.5,1143.9L365,1144L364.1,1143.6L364.1,1143.1L365,1142.7L367.5,1142.7L368,1143.1L367.9,1143.6ZM46.5,1144.8L43,1145.1L43,1143.6L46.5,1143.9L46.9,1144.1L46.9,1144.6ZM355,1146.2L352.5,1146.2L352.1,1146.1L351.8,1145.6L352.5,1145.3L353.5,1145.2L355,1145.3L355.7,1145.6L355.4,1146.1ZM477,1150.7L476,1151L474,1151L471.5,1150.1L470.8,1149.1L470.7,1147.1L471,1146.6L471.5,1146.3L473,1146.1L476,1146.2L477,1146.4L477.4,1147.1L477.4,1150.1ZM382.9,1151.1L383.6,1150.1L383.4,1149.1L383,1148.7L382,1148.2L381,1148.1L380,1148.2L379.4,1148.6L379.2,1149.6L379.5,1150.4L380,1151L381.5,1151.5ZM419.5,1150.2L418,1150.6L416,1150.5L415,1150.1L414.8,1149.6L415,1149.1L415.5,1148.9L418.5,1149L419.8,1149.6L419.8,1150.1ZM445.5,1155.6L443.5,1155.4L443.2,1155.1L443.2,1154.6L443.5,1153.8L444.5,1153.4L446,1153.3L447,1153.5L447.5,1153.8L447.6,1154.6L447.4,1155.1L446.5,1155.5ZM238,1157.1L235,1157.2L234.5,1157.1L234,1156.6L234.1,1156.1L234.5,1155.9L237,1155.7L238.3,1156.1L238.5,1156.6ZM441,1158.2L439.5,1158.6L437,1158.5L436,1157.9L435.8,1156.6L436,1156.2L436.5,1156L441.1,1156.1L441.7,1156.6L441.7,1157.1ZM47,1174.2L46,1174.5L44.5,1173.6L44.1,1172.6L44.4,1171.1L44.2,1170.1L44,1169.6L43,1169L42.9,1168.6L43,1165.7L43.5,1165.1L44,1163.7L44.6,1159.6L45,1158.6L45.5,1158.1L46.5,1158L47.7,1158.6L48.4,1160.1L48.5,1163.1L49,1163.8L49.5,1164L51,1163.5L52.5,1162.1L52.8,1161.6L52.8,1159.6L53.5,1158.9L57,1159.2L57.9,1159.6L58.1,1160.1L57.9,1160.6L57,1161L54.5,1161.6L54.1,1162.1L54.2,1162.6L55,1163.6L56,1164.2L57.5,1164.6L60.5,1164.7L61.3,1165.1L61.4,1165.6L61,1166.1L60.5,1166.3L56.5,1166.2L53,1167.4L50,1166.5L49,1166.8L48.4,1168.1L48.8,1170.6ZM472,1160.1L470.5,1160.3L463.5,1160L462.1,1159.6L462.1,1159.1L463.5,1158.7L469.5,1158.6L472,1158.2L472.5,1158.4L472.6,1159.1L472.5,1159.6ZM423.5,1161.1L422.5,1161.5L420,1161.5L419.1,1161.1L419.1,1160.6L419.9,1160.1L423,1159.5L423.6,1160.1ZM365.5,1162.6L364.5,1162.8L358.5,1162.3L358,1162L357.9,1160.6L358.5,1160L361.5,1160.6L364.5,1159.9L365.5,1160.1L366.2,1160.6L366.4,1161.1L366.1,1162.1ZM451,1161.7L450,1161.3L449.9,1160.6L451.5,1160.2L453,1160.3L453.8,1160.6ZM441.5,1166.6L439.5,1166.9L436.5,1166.7L435,1165.1L431.5,1164.7L430.6,1164.1L430.4,1163.6L430.7,1163.1L431.5,1162.8L435,1162.7L435.9,1163.1L436.3,1164.6L436.8,1165.1L438,1165.5L441,1165.8L441.7,1166.1ZM447.5,1164.7L446,1164.7L445.5,1164.6L445.2,1164.1L446,1163.5L447.7,1163.6L448.2,1164.1ZM407,1169.7L405.5,1169.8L404,1169.7L403.1,1169.1L403.1,1168.6L404.5,1167.6L405.5,1165.6L406.5,1164.8L407.5,1164.4L409,1164.3L410,1164.4L411,1164.9L411.4,1166.1L411,1167.1L408.5,1168.1ZM513,1167.2L512.3,1167.1L512,1166.6L512.5,1165.1L513,1165.3L513.4,1166.6ZM280,1171.3L278,1171.5L276.3,1170.6L275.5,1169.6L275.2,1168.6L275.4,1167.6L275.8,1167.1L277,1166.3L278.5,1166L280,1166.3L281.1,1167.1L281.8,1168.1L281.9,1169.1L281.4,1170.1ZM502,1167.8L501,1168L499,1168L497.8,1167.6L497.8,1167.1L499,1166.7L501.5,1166.7L502.4,1167.1L502.4,1167.6ZM533,1167.8L530.5,1168L528.8,1167.6L529,1167.1L529.5,1166.9L532,1166.8L533.3,1167.1L533.3,1167.6ZM59,1180.1L57,1180.6L55,1180.4L51.7,1179.1L50.5,1178.1L50.4,1177.1L50.8,1174.6L52,1171.8L52.5,1171.2L53.5,1170.9L56.5,1170.6L60,1171.2L63.5,1170.3L67,1170L71,1170.9L72,1171.7L72.3,1173.6L72.1,1174.1L71.4,1174.6L67,1176.8L62.5,1177.3L61.9,1177.6L60.6,1179.6ZM217,1178.2L216,1178.3L215.1,1177.6L214.4,1175.1L214.6,1173.1L215,1171.6L215.5,1170.9L216.5,1170.4L217.5,1171L217.9,1171.6L218.5,1173.6L218.3,1176.6L217.8,1177.6ZM439,1171.8L436.5,1172L435.5,1171.6L435.5,1171.1L436.5,1170.7L438.5,1170.7L439.4,1171.1L439.4,1171.6ZM533,1178.4L530.5,1178.6L529.6,1178.1L529.5,1177.6L529.8,1177.1L530.5,1176.6L532.7,1176.1L531.9,1174.6L531.9,1174.1L532.5,1173.1L534,1171.9L536.5,1171.2L539.5,1171.2L542.3,1172.1L543.9,1173.6L544.1,1174.6L543,1175.6L542,1175.9L534,1176.4L533.6,1176.6L533.5,1178.1ZM349.5,1172.1L347,1172.4L346.2,1172.1L346.2,1171.6L347,1171.2L349,1171.3L349.7,1171.6ZM494,1173.8L493,1174L491,1174L490.1,1173.6L490,1173.1L490.6,1172.6L493.5,1172.7L494.4,1173.1L494.4,1173.6ZM401.5,1174.3L400.5,1174.6L398.5,1174.5L397.8,1174.1L397.7,1173.6L398.5,1173L401,1173.1L401.8,1173.6L401.8,1174.1ZM512.5,1173.8L510,1174L509.2,1173.6L509.2,1173.1L510,1172.7L512,1172.7L512.9,1173.1L512.9,1173.6ZM267,1188.2L266.1,1188.1L265.4,1187.6L263,1184L262,1183.5L260.5,1183.2L260,1182.6L260.1,1182.1L260.5,1181.8L262.5,1181.4L263.5,1180.7L263.9,1180.1L265.2,1177.1L265.5,1174.5L266.5,1174L268.5,1174L269.1,1174.1L269.4,1174.6L269.2,1175.1L268.3,1176.1L268.1,1176.6L268.9,1179.6L270.2,1181.6L270.9,1183.6L271.9,1184.6L272,1185.1L271.5,1185.6L269,1186.4L268,1187.6ZM237.5,1175.2L234.5,1175.1L234,1174.6L235,1174.3L236.5,1174.2L237.5,1174.3L238.2,1174.6L237.9,1175.1ZM421,1182.6L419.5,1182.7L418.5,1182.5L416,1180.6L415,1180.3L414,1180.3L411,1180.9L408.5,1180.7L408,1180.5L407.5,1179.8L407.5,1178.1L408.5,1177.4L410,1177.3L411.5,1177.6L414,1178.5L416.5,1178.5L418,1178L418.8,1176.1L420,1175.3L423,1175.1L426.5,1175.5L429.5,1175.1L430,1175.4L430.2,1176.6L430,1177.1L429.5,1177.5L420.9,1178.6L420.5,1179.1L422,1180.1L422.8,1181.1L422.8,1181.6L422.3,1182.1ZM462,1179.1L459,1179.2L458.2,1178.6L458.2,1178.1L458.7,1177.6L459.5,1177.4L462,1177.6L462.5,1178.1L462.5,1178.6ZM499.5,1179.4L496.5,1179.5L495.6,1179.1L495.4,1178.6L495.6,1178.1L496.5,1177.7L499,1177.7L500,1178.3L500,1179.1ZM443.5,1180.7L440.5,1180.7L439.8,1180.1L439.7,1179.1L440.3,1178.6L441,1178.4L444,1178.5L444.5,1178.8L444.6,1179.6L444.4,1180.1ZM90,1216.1L89,1216.4L87.5,1216.1L82.4,1213.1L81.3,1212.1L80.2,1206.1L80.1,1203.6L79.6,1201.1L79.7,1196.6L77.9,1192.1L75.2,1186.6L75.1,1180.6L75.5,1179.6L76,1179.3L77.5,1179.1L90.5,1179.1L92,1179.5L92.7,1180.6L93.3,1184.6L93.8,1186.6L94.8,1192.1L95.3,1196.1L95.3,1198.6L96,1203.1L96,1205.1L96.6,1207.6L96,1208.3L95.5,1208.5L94.7,1208.1L94.7,1204.1L94.1,1200.1L93.5,1198.5L93,1197.8L92.5,1197.6L92,1197.9L91.6,1198.6L91.9,1201.1L90.8,1203.6L91.3,1205.6L90.5,1208.6L90.5,1211.6L91,1214.6L90.7,1215.6ZM233,1180.2L232,1180.5L230,1180.3L229.3,1180.1L229.3,1179.6L230.4,1179.1L232.5,1179L233.3,1179.6ZM382,1180.3L380,1180.4L379.2,1180.1L379.3,1179.6L380,1179.3L381.5,1179.2L382.3,1179.6L382.4,1180.1ZM554.5,1191.3L553.5,1191.6L552,1191.4L550.5,1190.6L548.6,1189.1L548.2,1188.1L548.2,1186.6L545,1184.2L544.1,1183.1L543.6,1181.1L544.2,1180.1L545.5,1179.3L547,1179.2L549.5,1179.6L551,1180.5L551.3,1181.1L551,1183.1L551.2,1184.1L555,1185.9L556,1186.7L556.7,1187.6L556.8,1188.6L556.5,1189.6L555.5,1190.7ZM461,1186.9L460,1187L458,1186.8L457.4,1186.6L457,1186.1L458,1183.8L458.5,1183.2L459.5,1182.9L461,1183L461.8,1183.1L462.5,1183.6L462.4,1184.6L461.5,1186.6ZM479,1187.2L476.5,1187.4L475.9,1187.1L475.6,1186.6L475.7,1186.1L476.5,1185.7L479,1185.7L480,1186.1L479.9,1186.6ZM492,1186.8L491,1187L489,1187L488.2,1186.6L488,1186.1L488.5,1185.7L491.5,1185.9L492.1,1186.1L492.2,1186.6ZM61,1192.6L60,1192.9L59,1192.7L58.3,1192.1L57.8,1191.1L58.6,1188.1L59.3,1187.1L60,1186.8L60.5,1186.9L61.1,1187.6L62.2,1190.6L62,1191.6ZM286,1193.2L283,1193.4L282.2,1193.1L282.2,1192.6L283,1192.2L286,1191.9L286.3,1191.6L286.1,1190.1L286.2,1189.1L287,1188.1L288,1187.5L289.5,1187.1L291.5,1187.3L293,1188L293.9,1189.1L294,1190.1L293.5,1190.8L292.5,1191.5L291,1192L287.5,1192.2L287,1192.3ZM47,1192.1L46,1192.5L43,1192.6L43,1189.3L46,1189.3L47,1189.6L47.4,1190.1L47.5,1190.6ZM433,1190.8L432,1191L430.5,1191L429.7,1190.6L429.7,1190.1L430.5,1189.7L432.5,1189.7L433.4,1190.1L433.4,1190.6ZM536.5,1192.4L534,1192.5L533.1,1192.1L533,1191.6L533.3,1191.1L534,1190.8L536.5,1190.9L536.9,1191.1L537.1,1191.6L536.9,1192.1ZM261,1193.3L258.5,1193.5L257.6,1193.1L257.6,1192.6L258.5,1192.2L260.5,1192.2L261.4,1192.6L261.4,1193.1ZM73.5,1202.2L72.5,1202.3L71.5,1202L69.7,1200.1L69.2,1199.1L69.2,1198.1L69.5,1197.5L70.3,1196.6L71.5,1195.9L73,1195.7L74,1196L75.5,1197.1L76.2,1198.1L76.3,1199.1L76,1199.7L74.5,1201.6ZM298,1200.7L296,1201L294.5,1200.5L292.7,1199.1L292.5,1198.6L292.6,1198.1L293.8,1197.1L295.5,1196.4L297,1196.2L299,1196.8L300.3,1197.6L300.8,1198.1L300.8,1198.6L300,1199.6ZM374.5,1198.3L373,1198.6L371,1198.5L370.1,1198.1L370,1197.6L370.4,1197.1L371,1197L373.5,1197L374.2,1197.1L374.9,1197.6L374.8,1198.1ZM550.5,1199.8L549.5,1200L548,1200L547.3,1199.6L547.2,1199.1L548,1198.7L550,1198.7L550.8,1199.1L550.9,1199.6ZM321,1204.7L319.5,1204.7L318.4,1204.1L317.9,1203.6L317.6,1202.6L318,1201.6L319,1201L320,1200.9L321.2,1201.1L322.1,1201.6L322.5,1202.1L322.7,1203.1L322.1,1204.1ZM496,1202.3L493.5,1202.2L493,1202.1L492.7,1201.6L493,1201.2L493.5,1201L496,1201.1L496.5,1201.6L496.3,1202.1ZM579.5,1205.7L578,1205.8L577,1205.6L576.5,1205.2L576,1203.6L575,1202.8L573.2,1202.1L573.2,1201.6L574.5,1201.1L576.5,1201.3L577.2,1201.6L578.5,1203L580.8,1203.6L581.4,1204.1L581.5,1204.6L581.1,1205.1ZM117,1208.6L116,1208.7L114.5,1208.2L113.5,1207.1L113.3,1206.1L113.3,1205.1L114,1203.8L115,1202.9L116,1202.6L117,1202.7L118,1203.2L118.8,1204.1L119.2,1205.1L119.3,1206.1L119,1207.1L118,1208.2ZM277.5,1203.8L274.5,1203.9L273.8,1203.6L273.7,1203.1L275,1202.6L277.5,1202.6L278,1203.1L277.9,1203.6ZM566.5,1210.2L565,1210.5L563.5,1210.4L561.3,1209.6L560.6,1209.1L560.5,1208.1L561.2,1205.6L562,1205L563,1204.9L566,1205.5L567.5,1206.4L568.3,1207.6L568.3,1208.6L567.6,1209.6ZM264,1206.2L263,1206.5L261,1206.5L260.2,1206.1L260.2,1205.6L261,1205.2L263,1205.2L264.1,1205.6ZM310.5,1209.4L309,1209.6L307.5,1209.4L307.1,1209.1L307,1208.3L307.9,1207.6L310.6,1207.1L311,1207.4L311.2,1208.1L311,1209.1ZM273.5,1209.4L272,1209.6L270,1209.4L269.5,1209L269.4,1208.1L269.9,1207.6L270.5,1207.5L273.5,1207.9L273.9,1208.1L274.1,1208.6L273.9,1209.1ZM415.5,1211.1L414.5,1211.2L414.2,1211.1L414.2,1210.6L415,1210.4L415.5,1210.6ZM481,1212.8L480,1213L478,1213L477.1,1212.6L477.1,1212.1L478.5,1211.6L481,1211.6L481.4,1212.1ZM521,1215.3L520,1215.5L518,1215.5L517.1,1215.1L517.1,1214.6L518,1214.2L520.5,1214.2L521.4,1214.6L521.4,1215.1ZM294.5,1216.9L292,1217L291.2,1216.6L291.3,1216.1L292.5,1215.8L294.5,1216L294.9,1216.6ZM275,1224.9L273.5,1225.1L272,1224.9L271.5,1224.6L270.9,1223.6L270,1222.9L267,1222.2L266.6,1221.6L266.8,1221.1L267.5,1220.7L268.5,1220.6L275,1220.6L276.5,1220.8L277,1221.3L277.1,1222.1L275.5,1224.6ZM309,1232.2L308,1232L307.5,1231.7L306.9,1230.6L306.8,1225.6L306.5,1223.6L306.7,1222.6L307,1221.9L307.5,1221.3L308.5,1220.9L309.5,1221.1L310.6,1222.1L310.9,1223.1L310.9,1225.1L311.4,1226.6L311.2,1227.6L310.7,1228.6L310.4,1231.1L310,1231.7ZM111.5,1233.3L110.5,1233.3L109.9,1232.6L109,1230L108.8,1228.6L108.9,1225.6L109.5,1223.3L110.3,1222.1L111,1221.8L111.7,1222.1L112.4,1223.1L113.2,1226.6L113,1230L112.4,1232.1ZM558.5,1223.2L557.5,1223.5L555.5,1223.5L554.7,1223.1L554.7,1222.6L555.5,1222.2L557.5,1222.2L558.6,1222.6ZM123,1239.2L122,1239.1L120.9,1238.1L120.4,1237.1L119.9,1235.1L119.9,1233.1L120.5,1231.2L121.5,1229.8L122.5,1229.4L123.5,1229.8L124.2,1230.6L125,1232.6L125.1,1233.6L125,1235.6L124.5,1237.5L123.8,1238.6ZM327.5,1243.3L326,1243.6L324.5,1243.4L322.5,1242.3L320.2,1241.6L319.5,1241.1L319,1240.6L318.6,1239.6L318.6,1238.6L319,1237.6L320,1236.7L321,1236.4L322,1236.4L323,1236.8L324,1238.3L324.2,1241.1L325,1241.8L327.5,1242.4L327.9,1242.6L327.9,1243.1ZM416.5,1237.1L413,1237.5L411.7,1237.1L411.7,1236.6L413,1236.1L415.5,1236.2L416.7,1236.6ZM408.5,1243.2L407,1243.3L405.9,1243.1L405.3,1242.6L405.1,1242.1L405.2,1241.1L405.7,1240.6L406.5,1240.4L408.5,1240.7L409.1,1241.1L409.4,1242.1L409,1242.9ZM106,1246.7L103.5,1246.8L101.5,1246.1L100.2,1244.6L100.3,1243.1L101.5,1241.9L103.5,1241.2L105.5,1241.2L107.5,1241.9L108.7,1243.1L108.8,1244.6L108,1245.7ZM131,1249.7L128,1250.1L125.2,1249.6L124,1249L123.1,1248.1L122.8,1247.1L123,1246.6L124.1,1245.6L126.5,1244.9L129.5,1244.8L132,1245.4L133.5,1246.5L133.7,1247.6L133,1248.7ZM417.5,1250.6L414,1250.4L413.3,1250.1L413.3,1249.6L414.5,1249.2L416,1249.1L417.5,1249.3L418.4,1249.6L418.4,1250.1ZM433.5,1250.3L431,1250.5L429.9,1250.1L429.9,1249.6L431,1249.2L433,1249.2L433.9,1249.6L433.9,1250.1ZM406.5,1266.2L405.5,1266.5L404,1266.5L403.1,1266.1L402.9,1265.6L403.1,1265.1L404,1264.7L406,1264.8L406.7,1265.1L406.9,1265.6ZM331,1420.1L326.5,1420.4L322.9,1420.1L323.5,1419.4L324.5,1418.9L327,1418.4L329.5,1418.9L330.7,1419.6Z" fill="#3dead5" fill-rule="evenodd"/>
<path d="M150,1094.2L147,1094.3L143.5,1093.3L142.1,1092.1L141.9,1091.6L142.1,1090.6L142.7,1089.6L144,1089.4L151,1089.3L153.3,1089.6L154.1,1091.1L153.9,1092.1L152.5,1093.4ZM178.5,1095.7L175.5,1095.7L174,1095.3L172.7,1094.6L171.3,1093.1L171.2,1092.1L171.6,1091.1L173.4,1089.6L175,1089.3L182.1,1089.6L185,1091.1L187.2,1089.6L192,1089.3L194.8,1089.6L196,1090.6L196.6,1091.6L196.4,1092.6L196,1093.1L195,1093.9L193.5,1094.5L191,1094.7L189,1094.5L187.5,1094L185.5,1092.9L185,1093L183.5,1094.4L182.5,1095ZM373,1093.1L370,1093.3L368,1092.8L367,1092.2L366.5,1091.6L366.5,1090.6L367.4,1089.6L368.5,1089.4L372.5,1089.3L374.6,1089.6L375.5,1090.6L375.5,1091.6L374.5,1092.5ZM391,1094.1L388.5,1094.2L386.5,1093.7L385.1,1092.6L384.9,1092.1L385.1,1091.1L386,1090.3L387.8,1089.6L391,1089.6L392.5,1090L393.9,1091.1L394.1,1092.1L393.9,1092.6L393,1093.4ZM490,1094.7L483,1094.8L477,1093.6L473,1094.3L469,1094.3L467,1093.9L464.5,1093L463.5,1092.9L460,1093.3L456.5,1093.3L454,1093L450,1093.3L447.5,1092.5L446.9,1092.1L446.4,1091.1L446.5,1090.6L447.4,1089.6L449,1089.3L460.5,1089.3L465,1089.8L468,1089.3L472.5,1089.3L476,1089.6L478,1090.2L482.5,1089.5L490.3,1089.6L493.5,1090.3L494.5,1090.8L495.3,1091.6L495.3,1092.6L494.5,1093.4L493,1094ZM254,1094.2L252.5,1094.2L250.5,1093.6L249.5,1092.6L249.5,1091.6L250,1091L251,1090.4L253,1090L255,1090.2L256.5,1091L257.1,1092.1L256.7,1093.1L255.5,1093.8ZM421,1096.2L420,1096.3L419,1096L418,1095.1L417.6,1094.1L417.6,1093.1L418,1092.1L419.5,1091L420.5,1090.9L421.5,1091.2L422.5,1092.1L422.9,1093.1L422.9,1094.1L422.5,1095.1ZM83.5,1092.2L79.5,1092.3L78.3,1092.1L78.3,1091.6L80,1091.3L82.5,1091.4L83.7,1091.6L83.7,1092.1ZM193.5,1115.1L192.5,1115.3L191.5,1114.9L190.8,1114.1L190,1112.6L189.5,1111.1L190,1108.6L189.9,1107.1L190.4,1106.6L192,1106.1L194.5,1106.4L195,1105.9L196.3,1102.1L197.5,1101.3L198.5,1101.4L199.3,1102.1L199.9,1103.6L200,1105.6L199.7,1107.1L199.3,1108.1L198.5,1108.9L197.5,1109L195.5,1108.6L195.3,1109.1L195.5,1111.1L195.3,1112.1L194.2,1114.6ZM210,1104.5L209.5,1104.5L209.3,1104.1L209.5,1103.2L210,1103.2L210.2,1103.6ZM440,1118.6L438,1118.5L436.5,1117.7L435.4,1116.6L434.7,1115.1L434.7,1113.6L435.4,1112.1L437,1110.6L438.5,1110L440.5,1110.1L442,1110.9L443.1,1112.1L443.8,1113.6L443.8,1115.1L443.1,1116.6L441.5,1118.1ZM449.5,1150.7L447,1150.8L446,1150.5L445.6,1149.6L445.8,1149.1L446.3,1148.6L445.7,1148.1L443,1146.9L440.8,1144.6L440.6,1143.1L441,1142.1L445,1138.5L447,1137.9L450,1137.9L454.5,1139.3L458.5,1139.2L459.5,1138.9L459.8,1138.1L459.5,1137.5L459,1137.2L454.8,1136.6L454.5,1136.1L454.4,1135.1L453.1,1133.1L453.3,1132.1L454,1131.6L459,1131.6L460.5,1132.5L463.5,1131.2L469,1131.3L470,1131.2L471,1130.8L471.6,1130.1L471.4,1129.6L469.5,1128.6L468,1127.2L466,1126.6L465.1,1125.6L464.5,1122.6L463.6,1120.1L464.3,1114.6L464.6,1114.1L465.5,1113.5L468.5,1113.3L470.5,1113.3L476.1,1114.1L476.5,1114.6L476.5,1115.1L476.1,1115.6L475,1116.1L474.5,1116.6L474.6,1117.6L475.5,1118.5L477.5,1119.1L477.9,1119.6L478,1120.1L477.6,1120.6L475.7,1121.6L475,1122.6L475.2,1123.6L477,1124.5L477.5,1125.1L477.1,1126.1L476,1127L475.8,1127.6L476.1,1128.1L478.7,1129.6L480.2,1131.6L480.2,1133.6L479.7,1136.1L479.9,1136.6L481,1137L483.1,1137.1L484,1137.5L484.4,1138.1L484.2,1139.1L483.5,1139.5L482.5,1139.7L479,1139.5L478.3,1139.1L477.7,1138.1L477,1137.8L474.5,1137.5L473.2,1137.1L471.6,1135.1L471,1134.7L470,1134.4L468.5,1134.5L468,1135L467.9,1135.6L468.4,1138.1L468.2,1139.6L467.8,1140.6L465.5,1144.3L464.5,1144.6L462,1144.8L460.3,1145.6L458.5,1147.1L458.1,1149.6L457.5,1150.1L456,1150.3L453.5,1150.2L452.1,1149.6L451.5,1148.8L451,1148.7L450.5,1149.1L450.7,1149.6L450.5,1150.1ZM247.5,1134.6L245,1134.9L241.5,1133.7L241.1,1133.1L240.8,1131.6L240,1131.1L236.3,1129.6L233,1129.2L231.6,1128.6L231.1,1128.1L230,1125.8L229,1126L226.7,1127.1L225,1129.3L223.5,1130.3L221.5,1130.3L220,1129.6L219.3,1128.6L219.3,1127.1L221.3,1124.6L221.5,1124.1L220.1,1120.6L220,1119.6L221.7,1116.1L222.6,1115.1L223.5,1114.5L225,1113.9L226,1113.7L229,1114.4L231.5,1116.1L233.5,1115.5L235,1115.9L236.3,1117.1L237.7,1119.1L238.3,1120.6L238.4,1123.1L238.8,1123.6L242,1124L245.2,1125.1L245.8,1125.6L246,1126.1L245.8,1128.1L246,1128.3L250,1129.1L250.8,1129.6L251.6,1130.6L252.3,1132.1L252,1133.1L251.6,1133.6L250,1134.2ZM397,1124.6L394.5,1124.8L393.7,1124.6L393.2,1124.1L392.8,1122.6L391.9,1120.6L391.7,1119.6L392.3,1118.1L394,1116.8L395.5,1116.5L397,1116.7L398.4,1117.6L399,1118.6L399.2,1119.6L399,1120.6ZM403.5,1145.1L402,1145.3L400.8,1145.1L399.7,1144.6L398.9,1143.6L398.7,1141.1L399.7,1137.6L400.2,1136.6L400,1136.1L398.8,1135.1L398.2,1134.1L398,1131.6L397.6,1130.6L397,1130.2L393.5,1130.3L392,1130.1L391.2,1129.6L390.9,1129.1L390.8,1128.1L391.2,1127.6L392,1127.4L398.5,1127.2L401,1126.4L402,1126.3L403.5,1127L405.4,1129.1L405.9,1130.1L406.6,1133.6L406.2,1134.6L404.4,1136.1L404.3,1136.6L405.4,1138.6L405.7,1140.1L405.2,1144.1ZM205,1134.6L203.5,1134.7L202,1134.4L200.5,1133.6L199.4,1132.6L199.1,1131.6L199.3,1130.6L200,1129.6L201,1128.7L202.5,1128.1L204.5,1127.9L207,1128.1L208,1128.7L209.1,1131.6L209,1132.6L208.5,1133.2L207.5,1133.9ZM495.5,1135.7L494.5,1135.9L493.8,1135.6L493,1134.7L492.6,1133.6L492.5,1132.1L492.9,1130.6L493.5,1129.8L494.5,1129.4L495.5,1129.5L496,1129.9L496.8,1131.6L496.8,1134.1L496.2,1135.1ZM231.5,1133.8L229.5,1133.8L228.9,1133.6L228.4,1133.1L228.6,1132.6L229,1132.5L231.5,1132.4L232.1,1132.6L232.2,1133.1L232,1133.5ZM429,1144.6L426.2,1144.6L426,1144.1L428.5,1143.5L428.7,1142.6L427.5,1139.7L425.5,1138.6L423.9,1137.1L423.5,1136.6L423.6,1135.6L425,1134L426,1133.4L427.5,1132.9L431.5,1132.6L434,1133.3L435.2,1134.1L435.9,1135.1L435.6,1137.6L436,1138.2L437.7,1139.1L437.9,1139.6L437.8,1140.6L436.8,1142.1L436,1142.7L434,1143.4L430.5,1143.8ZM391.5,1137.3L388.5,1137.5L387.8,1137.1L387.7,1136.6L388.5,1136L390.5,1136.1L392,1136.6L392,1137.1ZM226,1141.7L223,1141.7L222.2,1141.1L222.2,1140.6L222.7,1140.1L224,1139.7L225,1139.1L226.2,1137.6L229.5,1137L230.5,1137.1L230.9,1137.6L231,1138.1L230.5,1139L228,1139.7L227.5,1140.1L226.5,1141.6ZM207,1138.6L205.5,1138.7L205,1138.6L204.7,1138.1L205,1137.6L205.5,1137.5L206.9,1137.6L207.4,1138.1ZM418.5,1140.2L415,1140.3L414.4,1140.1L414,1139.6L414,1139.1L414.3,1138.6L415,1138.3L419,1137.8L419.6,1138.1L419.7,1139.1L419.5,1139.6ZM380,1145.8L377.5,1145.8L375.5,1145.3L374.9,1144.6L374,1141.6L374.5,1141.1L375,1141L377.5,1140.9L378.5,1141.2L380.5,1142.4L381.2,1143.1L381.3,1144.1L381,1145.1ZM254,1146.8L253,1147.1L252,1147L250.5,1146.2L250,1145.6L250,1144.6L251,1142L251.5,1141.4L252,1141.2L253.5,1141.2L254.5,1141.5L255.5,1142.1L256.3,1143.1L256.4,1144.1L256.2,1144.6ZM500,1160.2L497.5,1160.6L495.5,1160.5L494.5,1160.1L493.6,1158.6L493.1,1158.1L491.5,1157.9L489.5,1158.3L488.5,1159.8L487.5,1160.4L485.5,1160.5L482.5,1160L481.8,1159.1L482,1157.1L480.7,1155.1L479.2,1152.1L479.2,1150.6L480.1,1148.6L480.2,1147.6L478.1,1144.1L478.1,1143.1L478.4,1142.6L480,1142.1L483,1142.1L484,1142.5L484.7,1143.6L485.5,1144.2L491.1,1145.1L491.6,1146.1L491.5,1146.8L490.7,1148.1L490.9,1150.1L490.7,1154.1L491,1154.6L491.5,1154.7L493,1154.5L494,1153.2L494.5,1152.1L494.3,1149.6L494.6,1148.6L499,1144.9L501,1144.7L503.5,1144.9L504.2,1145.1L505.5,1146.2L507.5,1147.1L508.3,1148.1L508.2,1149.6L506.5,1153.1L505.5,1154.3L503,1155.5L501,1155.8L498,1155.8L497.3,1156.1L497.4,1156.6L498.5,1157L506.4,1157.6L507,1158.1L507.2,1158.6L507,1159.4L506,1160L502,1159.9ZM234.5,1150.1L233,1150.1L230.4,1149.6L229.9,1148.6L230,1147.2L230.5,1146.7L231.5,1146.4L235.5,1146.2L235.5,1145.1L234,1144.1L233.6,1143.6L233.6,1143.1L234.3,1142.6L235,1142.5L237.9,1142.6L239,1144.4L241.1,1145.6L241.3,1146.1L240.7,1146.6L240,1146.8L236.5,1146.9L236.2,1147.1L235.9,1149.1L235.5,1149.6ZM476,1150.1L474,1150.3L472,1149.8L471.4,1149.1L471.5,1147.5L472,1147.1L473,1146.9L476.1,1147.1L476.6,1147.6L476.7,1148.6L476.6,1149.6ZM378,1159.3L376.5,1159.3L375.5,1158.8L374.6,1158.1L374.4,1157.1L375.1,1155.1L374.7,1152.6L374.9,1151.6L376.5,1149.1L377.5,1148.5L378,1148.5L378.5,1149.1L379,1150.5L380.3,1152.1L380.4,1152.6L379.6,1154.6L379.7,1157.1L379.5,1158L379,1158.8ZM392,1155.8L388.5,1155.8L387,1155.6L386.4,1155.1L386.1,1153.6L386.1,1152.6L386.5,1151.6L387.5,1151.1L391.3,1152.1L392.5,1154.1L392.5,1155.4ZM402.5,1159.1L401.5,1159L400.7,1158.6L399.5,1157.6L399.2,1157.1L400.2,1153.6L400.5,1153.1L401.5,1152.5L402.5,1152.4L403.5,1152.7L406.2,1155.6L409.5,1156.2L410.2,1157.6L410.1,1158.1L409.5,1158.3L406,1158.1ZM514.5,1160.8L513.5,1161L512.5,1160.6L510.9,1158.6L508.9,1157.1L509,1156L509.5,1155.6L513.5,1153.9L514.5,1153.9L515.5,1154.5L516.4,1156.1L516.4,1158.1L515.5,1160.1ZM440,1157.7L437.5,1157.8L437,1157.6L436.9,1157.1L438,1156.7L439.5,1156.7L440.3,1157.1ZM46,1173.6L45.5,1173.3L45.1,1172.6L44.9,1170.6L44.5,1169.3L44,1168.5L43.5,1168.1L43,1168.1L43,1167.2L43.5,1167.2L44.2,1166.1L45.4,1159.6L46,1159.1L46.5,1159L47,1159.3L47.4,1160.1L48.5,1165.6L47.9,1167.6L47.9,1170.6L47,1173L46.5,1173.5ZM408,1167.2L406.5,1167L406.3,1166.6L406.3,1166.1L407,1165.6L408.5,1165.4L409.9,1165.6L410.3,1166.1L410,1166.7ZM280,1170.8L279,1171.1L278,1171L276.5,1170.3L275.9,1169.6L275.6,1168.6L275.9,1167.6L276.3,1167.1L277.5,1166.4L278.5,1166.3L279.5,1166.4L280.6,1167.1L281.4,1168.1L281.4,1169.1L280.9,1170.1ZM58,1179.6L56.5,1179.8L55,1179.6L52.6,1178.6L52,1178L51.5,1176.6L51.6,1175.1L52.5,1173.1L53.5,1172L56,1171.4L59.5,1171.6L63.5,1170.6L66.5,1170.3L67.5,1170.4L70,1171.3L71,1171.8L71.5,1172.4L71.6,1173.6L71.3,1174.1L68.5,1175.9L66,1176.7L61.7,1177.1L60.9,1177.6L59.5,1179.1ZM540.5,1175.6L537.5,1175.8L534.5,1175.6L533,1174.8L532.6,1174.1L532.7,1173.6L533.5,1172.6L535.5,1171.7L537.5,1171.4L540,1171.6L542,1172.3L543.3,1173.6L543.4,1174.1L543,1174.7L542,1175.3ZM216.5,1176.8L216,1176.7L215.6,1176.1L215.4,1174.6L215.7,1172.6L216,1172.1L216.5,1171.9L217.1,1172.6L217.4,1174.6L217.2,1176.1ZM423.5,1177.2L420.5,1177.2L420.2,1177.1L419.9,1176.6L420.2,1176.1L421,1175.9L423,1175.9L424.1,1176.1L424.4,1176.6ZM411.5,1179.6L409,1179.7L408.4,1179.1L409,1178.5L411,1178.5L412.1,1179.1ZM89,1215.4L88,1215.4L84.6,1213.6L83,1212.6L82.1,1211.6L81.4,1208.1L80.6,1206.1L80.6,1205.1L80.9,1203.6L79.9,1201.1L80.5,1198.6L80.6,1197.1L79.2,1194.6L78.8,1192.1L76.5,1187.6L76.1,1186.1L76,1181.1L76.5,1180L81.5,1179.6L88.5,1179.6L91,1179.9L91.5,1180.2L92.1,1181.1L92.4,1182.6L92.5,1184.6L93.1,1186.6L94,1192.6L94.1,1195.6L94,1195.9L93.5,1196.1L92.5,1196L91.5,1196.4L90.7,1197.1L90.3,1198.1L91.1,1200.1L91.2,1201.1L89.6,1203.6L90.5,1205.6L90.2,1206.6L89,1208.6L89,1211.6L89.5,1214.1L89.3,1215.1ZM549.5,1185.3L547.5,1185.2L545,1183.7L544.2,1182.1L544.3,1181.1L544.7,1180.6L546,1179.8L547.5,1179.6L549,1179.9L550.2,1180.6L550.8,1181.6L550.7,1182.6L550.3,1184.6ZM553.5,1191.1L551.5,1190.8L550.3,1190.1L549.3,1189.1L549.1,1188.6L549.1,1187.6L549.8,1186.1L550.5,1185.3L552,1185.2L553.5,1185.5L555.5,1186.6L556.3,1187.6L556.4,1188.6L556,1189.7L555,1190.6ZM291,1191.7L289,1191.8L287.5,1191.5L286.7,1190.6L286.5,1189.6L286.7,1189.1L287.6,1188.1L289,1187.5L291,1187.5L292.5,1188.1L293.4,1189.1L293.5,1190.1L292.5,1191.1ZM46,1191.7L43,1191.9L43,1190.4L46,1190.6L46.3,1191.1ZM73,1201.1L72.3,1201.1L71.5,1200.7L70.2,1199.1L70.1,1198.6L70.5,1197.6L72,1196.5L73,1196.5L74,1196.8L74.9,1197.6L75.4,1198.6L75.1,1199.6L74.5,1200.3ZM297,1200.7L295.7,1200.6L294.5,1200.1L293.4,1199.1L293.3,1198.1L294.5,1197.1L296.5,1196.5L298,1196.8L299.5,1197.6L299.9,1198.1L299.8,1199.1L298.5,1200.2ZM320.5,1204.1L319.5,1203.9L318.7,1203.1L318.9,1202.1L319.5,1201.7L320.5,1201.6L321.4,1202.1L321.7,1202.6L321.5,1203.6ZM117.5,1207.1L116,1207.5L115,1207.1L114.5,1206.6L114.3,1205.1L115,1204.1L116.5,1203.7L117.5,1204.1L118,1204.6L118.2,1206.1ZM565.5,1209.7L564.5,1209.8L563.2,1209.6L561.7,1208.6L561.6,1207.6L562,1206.6L562.5,1206.1L563.5,1205.8L565.5,1206.1L567,1207.1L567.4,1208.1L567.2,1208.6L566.5,1209.3ZM309.5,1224.7L308.5,1224.9L307.4,1224.1L307.2,1223.6L307.2,1222.6L308,1221.6L308.5,1221.4L309.5,1221.6L310.3,1222.6L310.4,1223.6L310,1224.3ZM309,1231.7L308,1231.4L307.5,1230.6L307.8,1229.6L308.5,1229.1L309.5,1229.3L310,1230.1L309.8,1231.1ZM106,1246.2L104,1246.4L102,1245.8L100.7,1244.6L100.6,1244.1L100.8,1243.1L101.8,1242.1L103.5,1241.5L105.5,1241.5L107.2,1242.1L108.2,1243.1L108.4,1244.1L107.5,1245.5ZM130.5,1249.1L128,1249.4L125.9,1249.1L124.1,1248.1L123.8,1247.1L124,1246.6L124.7,1246.1L126.1,1245.6L128.5,1245.4L130.5,1245.6L132.5,1246.6L132.7,1247.6L132.5,1248.1L131.8,1248.6ZM330.5,1420.2L326.5,1420.3L323.3,1420.1L324.7,1419.1L327,1418.7L329.5,1419.2L330.7,1420.1Z" fill="#68fcc1" fill-rule="evenodd"/>
<path d="M149,1094.1L146,1093.9L144,1093.4L143,1092.8L142.4,1092.1L142.2,1091.1L143,1089.6L144.5,1089.4L148,1089.3L151.5,1089.4L153,1089.6L153.8,1091.1L153.8,1091.6L153.2,1092.6L152,1093.4ZM177.5,1095.6L175,1095.4L172.5,1094.2L171.9,1093.6L171.4,1092.6L171.9,1091.1L173.7,1089.6L178,1089.4L182,1089.8L183.5,1090.5L185,1091.6L187.5,1089.6L192,1089.3L194.5,1089.6L195.7,1090.6L196.3,1091.6L196.1,1092.6L195.5,1093.3L194.5,1093.9L193,1094.4L191,1094.6L189,1094.4L187.5,1093.9L185.5,1092.5L185,1092.5L183.6,1094.1L182.5,1094.8ZM372,1093.1L369.5,1093L368,1092.6L366.8,1091.6L366.8,1090.6L367.7,1089.6L368.5,1089.4L372,1089.3L374.3,1089.6L375.2,1090.6L375.2,1091.6L374,1092.6ZM389.5,1094.1L387.5,1093.8L385.9,1093.1L385.2,1092.1L385.4,1091.1L387,1090L389.5,1089.6L392,1090L393.6,1091.1L393.8,1092.1L393.1,1093.1L391.5,1093.8ZM489,1094.6L483,1094.6L477,1093.4L473,1094.1L469,1094.1L467,1093.7L464.5,1092.8L463.5,1092.7L459.5,1093.2L454,1092.9L450,1093.1L448.5,1092.8L447.5,1092.3L446.8,1091.6L446.7,1091.1L446.8,1090.6L447.7,1089.6L449.5,1089.4L461,1089.4L464.5,1090L468,1089.4L472.5,1089.3L475.7,1089.6L478,1090.4L482.9,1089.6L489.1,1089.6L493,1090.4L494,1090.8L495,1091.6L495,1092.6L494,1093.4L492.5,1094ZM255,1093.8L253,1094L251,1093.6L249.8,1092.6L249.8,1091.6L250.5,1090.9L252.5,1090.2L254,1090.2L255.5,1090.6L256.5,1091.3L256.9,1092.1L256.3,1093.1ZM421.5,1095.7L420.5,1096.1L419.5,1095.9L418.5,1095.2L418,1094.6L417.9,1093.1L418.4,1092.1L419,1091.5L420,1091.1L421,1091.3L422,1092L422.5,1092.6L422.6,1094.1L422.1,1095.1ZM198,1108.7L197,1108.6L196.1,1108.1L195.6,1107.6L195.4,1106.6L196.3,1102.6L196.6,1102.1L197.5,1101.6L198.1,1101.6L198.9,1102.1L199.4,1103.1L199.7,1104.6L199.7,1106.1L199.2,1107.6L198.5,1108.5ZM193,1114.7L192,1114.7L191.3,1114.1L190.1,1112.1L189.8,1111.1L190.7,1107.6L191,1107.1L192,1106.6L193,1106.7L194.3,1107.6L195.2,1110.6L195.1,1111.6L194.7,1112.6L193.8,1114.1ZM441,1118.1L439.5,1118.5L437.5,1118.1L436.1,1117.1L435.1,1115.6L434.9,1114.1L435.1,1113.1L436.1,1111.6L437.5,1110.5L439.5,1110.1L441,1110.5L442.4,1111.6L443.4,1113.1L443.7,1114.6L443.4,1115.6L442.4,1117.1ZM457,1149.2L456,1149.5L454.5,1149.5L453.5,1149.1L453.2,1148.6L452.5,1148.1L448,1148L444.5,1147.1L443,1146.2L441.6,1144.6L441.2,1143.6L441.4,1142.6L442.1,1141.6L444.5,1139.5L445.5,1138.8L447,1138.4L450,1138.2L453,1139.2L455,1139.5L459,1139.4L459.8,1139.1L460.1,1138.1L459.5,1137L458.5,1136.4L456,1136.1L455.5,1135.7L455,1134.6L454,1133.7L453.7,1133.1L453.7,1132.6L454.1,1132.1L455.5,1131.9L458.5,1132L459,1132.2L460,1133.4L460.5,1133.3L462.5,1131.9L463.5,1131.5L469.5,1131.6L470.5,1131.4L471.5,1130.8L472,1130.1L472,1129.6L471.6,1129.1L470,1128.3L468.9,1127.1L466.3,1126.1L465.5,1125L464,1120.1L464.6,1115.1L465,1114.2L465.5,1113.9L468.5,1113.5L470.5,1113.6L475.2,1114.6L475.3,1115.1L474.3,1116.1L474.3,1117.6L475,1118.5L476.8,1119.6L476.9,1120.1L475.2,1121.6L474.5,1123.1L474.5,1123.6L475,1124.4L476.4,1125.1L476.5,1125.6L475.5,1126.6L475.3,1127.6L475.6,1128.1L478.5,1129.7L479.9,1131.6L480,1133.6L479.3,1136.1L479.5,1136.9L480.5,1137.3L483.3,1137.6L483.8,1138.1L483.8,1138.6L483.3,1139.1L482.5,1139.3L479.5,1139.2L479,1139L477.7,1137.6L474.5,1137.3L473.5,1137L471.9,1135.1L471,1134.4L470,1134.1L468.5,1134.2L468,1134.4L467.6,1135.1L468,1138.1L467.8,1139.6L467.1,1141.1L465.5,1143.7L464.5,1144.3L462,1144.5L460.5,1145.1L457.8,1147.1L457.4,1147.6ZM249,1134.2L246,1134.5L244.5,1134.2L242.5,1133.1L241.9,1132.1L241.9,1131.1L241.5,1130.8L239,1130.5L236,1129.3L232.5,1128.7L231.7,1128.1L230.6,1125.6L230,1125.2L226.5,1126.7L226,1127.1L225,1128.7L223.5,1129.7L222,1129.9L220.5,1129.3L219.8,1128.6L219.6,1127.6L219.9,1126.6L221.6,1124.6L221.8,1124.1L220.4,1120.1L220.5,1119.1L221.8,1116.6L222.5,1115.6L223.5,1114.8L225,1114.1L226,1114L227.5,1114.2L229,1114.8L231,1116.5L231.5,1116.7L233.5,1115.8L235,1116.2L236,1117.1L237.3,1119.1L237.8,1120.6L238,1123.3L238.5,1124L242,1124.3L244,1124.9L245.4,1126.1L245.6,1126.6L245.4,1128.1L245.7,1128.6L249.5,1129.1L251,1130.2L251.8,1131.6L251.8,1132.6L251,1133.6ZM396.5,1123.3L395,1123.5L394,1123.1L393,1122.1L392.1,1120.6L392,1119.6L392.2,1118.6L393.1,1117.6L394.5,1116.9L396,1116.7L397.3,1117.1L398.5,1118.1L398.9,1119.1L398.9,1120.1L398.5,1121.1L397.5,1122.6ZM403.5,1144.8L402,1145.1L400.5,1144.6L399.5,1143.6L399.1,1142.1L399.2,1140.6L399.9,1138.1L400.8,1136.6L400.7,1136.1L399.1,1134.6L398.5,1133.6L397.9,1129.1L398.2,1128.6L399.5,1127.6L401.5,1126.8L403,1127L404.7,1128.6L405.7,1130.1L406,1132.6L405.8,1134.1L403.8,1136.1L403.7,1136.6L404.8,1138.1L405.3,1140.1L404.8,1143.6L404.5,1144.1ZM206,1134.1L204.5,1134.4L203,1134.4L201,1133.6L199.5,1132.1L199.4,1131.1L199.8,1130.1L201,1129L203,1128.2L205.5,1128.1L207.2,1128.6L208.3,1130.1L208.7,1131.1L208.7,1132.1L208,1133.1ZM396.5,1129.2L395,1129.5L393,1129.5L392.2,1129.1L392.1,1128.6L393,1128.2L395.5,1128.2L396.9,1128.6L396.8,1129.1ZM495.5,1135.2L495,1135.4L494,1135.2L493.5,1134.6L493.1,1133.6L493,1132.1L493.3,1131.1L493.9,1130.1L494.5,1129.8L495.5,1130.1L496.3,1131.6L496.3,1133.6L496,1134.6ZM433.5,1143.2L430.5,1143.4L429.5,1142.9L428.6,1141.6L427.9,1139.6L425.5,1138.2L424.1,1136.6L424.1,1135.6L424.8,1134.6L426,1133.7L427,1133.3L430.5,1132.8L433,1133.2L435,1134.4L435.6,1135.6L435.3,1137.6L435.4,1138.1L436.8,1139.6L436.9,1140.6L436,1142.1L435,1142.7ZM417.5,1139.7L415.5,1139.7L415.3,1139.1L417.5,1138.8L418.3,1139.1L417.9,1139.6ZM253.5,1146.7L252.5,1146.7L251.5,1146.3L250.4,1145.1L250.5,1144.1L251.2,1142.6L252,1141.7L252.5,1141.6L253.5,1141.5L254.5,1141.9L255.5,1142.6L256.1,1143.6L256.1,1144.1L255.4,1145.1L254.5,1146.1ZM487,1160.1L483.5,1160L482.6,1159.6L482.3,1159.1L482.4,1157.1L480.7,1154.6L479.5,1152.1L479.5,1150.6L480.5,1147.6L480.1,1145.6L479,1144.3L478.8,1143.6L478.8,1143.1L479.4,1142.6L483,1142.5L483.8,1143.1L484.4,1144.1L485,1144.4L490.4,1145.6L490.7,1146.1L490.2,1147.6L490.5,1150.6L490.3,1154.6L490.5,1155.1L491.5,1155.5L493.5,1155.3L494.4,1154.6L494.8,1152.1L494.8,1149.1L495.5,1148.1L499,1145.4L501,1145.1L503.5,1145.4L507,1147.4L507.6,1148.1L507.8,1149.6L506.8,1152.1L506,1153.4L505,1154.3L504,1154.8L502,1155.4L497,1155.3L496.2,1155.6L496,1156.1L496.5,1157L497.5,1157.4L501.5,1158L505,1158.2L505.8,1158.6L505.7,1159.1L501.5,1159.4L498,1160L496,1160L495,1159.6L494.3,1158.1L493.5,1157.4L491.5,1157.1L490,1157.4L489,1157.9L488,1159.6ZM379.5,1144.6L376.5,1144.8L376,1144.6L375.7,1143.6L376,1143.1L376.5,1142.9L378.5,1143.1L379.7,1143.6L379.9,1144.1ZM234,1149.2L233,1149.4L231.1,1149.1L230.8,1148.6L230.8,1148.1L231.5,1147.5L233.8,1147.6L234.3,1148.1L234.4,1148.6ZM475.5,1149.2L474.5,1149.5L473,1149.4L472.5,1149.1L472.4,1148.1L473.5,1147.7L475,1147.7L475.6,1148.1L475.7,1148.6ZM377.5,1158.6L376,1158.3L375.3,1157.6L375.1,1157.1L375.6,1155.1L375.3,1152.1L376.5,1149.7L377.5,1149.2L378.1,1149.6L379.5,1152.6L379.1,1154.6L378.9,1157.6L378.5,1158.2ZM391,1155.2L388,1155.1L387.5,1154.6L387.5,1154.1L387.9,1153.6L388.5,1153.4L390.5,1153.5L391.5,1154.1L391.5,1154.9ZM402.5,1158.7L401.5,1158.5L400.9,1158.1L400.4,1157.6L400,1156.6L400.3,1155.1L400.7,1154.1L401.1,1153.6L402,1153.2L403,1153.3L403.9,1154.1L405,1156.6L404.6,1157.6ZM514.5,1160.4L513.5,1160.5L512.5,1160L509.8,1156.6L510,1156.1L510.6,1155.6L513.5,1154.2L514.5,1154.2L515.2,1154.6L516,1155.6L516.3,1156.6L516.1,1158.1L515.8,1159.1L515,1160.1ZM46.5,1171.8L46,1171.9L45.1,1169.1L44.9,1167.6L45.4,1162.6L46,1160.8L46.5,1160.7L47.2,1162.6L47.5,1165.6L47.2,1170.1ZM279,1170.7L278,1170.7L277,1170.3L276.1,1169.1L276,1168.1L276.3,1167.6L277.5,1166.8L278.5,1166.6L279.5,1166.7L280.5,1167.4L281,1168.1L281.1,1168.6L280.8,1169.6L280,1170.4ZM65.5,1176.6L61.5,1176.7L60,1176.3L58.4,1174.6L58.2,1173.1L59.2,1172.1L61,1171.4L63,1170.8L65.5,1170.6L68,1170.9L69.7,1171.6L70.8,1172.6L71,1173.6L70.1,1174.6L68,1176ZM541,1175.2L538,1175.5L535,1175.3L533.6,1174.6L533.2,1174.1L533.2,1173.6L534,1172.7L535.5,1172L537.5,1171.7L539.5,1171.8L541.8,1172.6L542.8,1173.6L542.8,1174.1L542.4,1174.6ZM86,1189.6L82,1189.4L80.5,1188.9L79,1188L78.6,1187.6L78.4,1186.6L78.6,1186.1L79.6,1185.1L79.7,1184.6L78.5,1183.9L77.6,1183.1L77.4,1182.1L78.1,1181.1L79.5,1180.4L81,1180L86,1179.8L89.5,1180.2L91.2,1181.1L91.6,1181.6L91.8,1182.6L91.5,1183.4L90.5,1184.6L92.2,1186.1L92.4,1186.6L92.2,1187.6L91.5,1188.4L89.5,1189.3ZM549,1184.6L547.5,1184.7L545.4,1183.6L545,1183.1L544.7,1182.1L545,1181.1L546,1180.3L547,1180L548.2,1180.1L549.5,1180.6L550.3,1181.6L550.3,1182.6L549.7,1184.1ZM554,1190.7L552,1190.7L550.8,1190.1L549.7,1189.1L549.5,1188.6L549.6,1187.6L550.5,1186.3L551.5,1185.7L553,1185.7L554.5,1186.3L555.6,1187.1L556.1,1188.1L556,1189.1L555.2,1190.1ZM291.5,1191.2L290,1191.5L288,1191.2L287,1190.1L287.1,1189.1L288,1188.2L289,1187.8L290.5,1187.7L291.8,1188.1L292.6,1188.6L293.1,1189.6L292.6,1190.6ZM86.5,1197.1L83,1197L81,1196.2L79.6,1194.6L79.6,1193.6L79.8,1193.1L81,1192.3L82.5,1191.8L87,1191.6L90,1192.3L91,1192.8L91.9,1193.6L92.1,1194.6L91,1195.8L88.5,1196.9ZM297.5,1200.2L296,1200.3L295,1200L293.9,1199.1L293.9,1198.1L295,1197.2L296,1196.9L297.5,1197L298.5,1197.4L299.3,1198.1L299.4,1198.6L298.7,1199.6ZM88,1207.8L86.5,1208.1L83.5,1208L82,1207.4L81.2,1206.6L81,1206.1L80.9,1205.1L82,1203.6L81.8,1203.1L80.5,1201.8L80.2,1200.6L80.6,1199.6L81.5,1198.7L83.5,1198.1L87.5,1198.1L88.5,1198.3L89.5,1198.8L90.3,1199.6L90.8,1200.6L90.6,1201.6L88.9,1203.1L88.7,1203.6L90,1205.1L90,1206.1L89,1207.2ZM309.5,1223.8L309,1224L308,1223.8L307.7,1223.1L308,1222.2L308.5,1221.9L309.5,1222.2L309.8,1223.1ZM309,1230.8L308.5,1230.8L308.5,1230.3L309,1230.3ZM106,1245.8L104,1245.9L102.5,1245.6L101.3,1244.6L101.1,1244.1L101.3,1243.1L102,1242.4L103.5,1241.8L105,1241.7L106.5,1242.1L107.7,1243.1L107.9,1244.1L107.2,1245.1ZM330,1420.2L326,1420.3L323.6,1420.1L325,1419.2L327,1418.9L329.5,1419.4L330.4,1420.1Z" fill="#80ffb4" fill-rule="evenodd"/>
<path d="M150.5,1093.7L147.5,1094L144.5,1093.4L143,1092.5L142.4,1091.6L142.4,1091.1L143.2,1089.6L144,1089.4L150.5,1089.4L152.8,1089.6L153.6,1091.1L153.3,1092.1L152.2,1093.1ZM179.5,1095.1L176.5,1095.5L174,1094.9L172.7,1094.1L172,1093.4L171.7,1092.6L171.8,1091.6L172.5,1090.7L174,1089.6L177,1089.4L182,1089.9L183.3,1090.6L184.4,1091.6L184.6,1092.1L184.5,1092.6L183.3,1094.1L182,1094.8ZM193.5,1094.1L191,1094.4L188.5,1094.1L186.6,1093.1L185.7,1092.1L185.7,1091.6L186.6,1090.6L187.8,1089.6L191,1089.4L194.2,1089.6L195.8,1091.1L196.1,1092.1L195,1093.4ZM373,1092.8L370.5,1093L368.5,1092.6L367.1,1091.6L366.9,1091.1L367.1,1090.6L368,1089.6L368.5,1089.5L371.5,1089.4L374,1089.6L374.9,1090.6L375,1091.4L374.4,1092.1ZM491,1094.1L488.5,1094.5L483,1094.4L477,1093.2L473,1093.9L469.5,1094L467.5,1093.7L464.5,1092.6L463.5,1092.5L460,1093L456.5,1093L454,1092.7L450,1092.9L448,1092.4L447.1,1091.6L446.9,1091.1L447.1,1090.6L448,1089.6L449.5,1089.4L461,1089.4L462.9,1089.6L464.5,1090.2L468,1089.4L472.5,1089.4L475.3,1089.6L478,1090.5L483,1089.8L489,1089.8L493,1090.5L494,1091L494.7,1091.6L494.7,1092.6L494.2,1093.1L493,1093.7ZM391.5,1093.7L389.5,1094L387.5,1093.7L385.7,1092.6L385.4,1091.6L386.3,1090.6L388,1089.9L390,1089.8L391.5,1090L392.7,1090.6L393.6,1091.6L393.3,1092.6ZM254.5,1093.7L252.5,1093.8L251,1093.4L250,1092.6L250,1091.6L251,1090.8L252.5,1090.4L254,1090.4L255.5,1090.8L256.5,1091.6L256.5,1092.6L256,1093.1ZM421,1095.7L420,1095.8L419.4,1095.6L418.8,1095.1L418.2,1094.1L418.4,1092.6L419.5,1091.5L420.5,1091.4L421.1,1091.6L421.7,1092.1L422.3,1093.1L422.1,1094.6ZM198.5,1108.1L198,1108.4L197,1108.3L196.3,1107.6L195.9,1106.6L196,1105.1L196.4,1103.1L197,1102.2L197.5,1101.9L198.5,1102.2L199.3,1104.1L199.3,1106.1ZM193,1113.9L192.5,1114L191.5,1113.5L190.5,1112.3L190.1,1111.1L190.2,1110.1L191,1108.6L191.9,1107.6L192.5,1107.4L193,1107.6L194,1108.6L194.6,1109.6L194.9,1110.6L194.5,1112.3ZM440.5,1118.2L439,1118.3L437.5,1117.9L436,1116.7L435.2,1115.1L435.1,1113.6L435.6,1112.6L436.5,1111.4L438,1110.5L439.5,1110.3L441,1110.7L442.2,1111.6L443.2,1113.1L443.4,1114.6L443,1116L442,1117.2ZM453.5,1147.7L448.5,1147.8L444.5,1146.8L443,1145.7L442,1144.6L441.6,1143.6L441.8,1142.6L443.1,1141.1L445,1139.5L446.5,1138.8L448,1138.5L450,1138.5L454.5,1139.6L459.5,1139.6L460.2,1139.1L460.4,1138.1L459.4,1136.1L459.4,1135.1L460.1,1134.1L462.5,1132.2L463.5,1131.8L464.5,1131.7L469.5,1132L470.5,1131.7L471.5,1131.1L472.3,1130.1L472.5,1129.1L472,1128.5L471,1128.1L470,1127.1L466.4,1125.6L465.5,1124.1L464.4,1121.1L464.3,1119.6L465,1115.1L465.2,1114.6L465.9,1114.1L470,1113.7L472.9,1114.6L473.5,1115.1L474.1,1117.6L475.6,1119.6L475.7,1120.1L474.5,1122.1L473.4,1126.1L475.1,1128.1L478,1129.5L479.5,1131.2L479.8,1132.1L479.8,1133.6L478.8,1136.6L478.5,1137.1L478,1137.2L474.5,1137.1L473.4,1136.6L472,1134.9L471,1134.2L469.5,1133.8L468,1134L467.5,1134.5L467.3,1135.1L467.7,1138.1L467.4,1139.6L466.8,1141.1L465,1143.6L464,1143.9L461.5,1144.2L457.5,1146.8ZM248,1134.2L245.5,1134.2L243.5,1133.4L242.7,1132.6L242.5,1132.1L242.5,1130.6L239.5,1130.3L236,1129.1L232.9,1128.6L232,1128L231,1125.6L230.5,1125L230,1124.8L226,1126.6L224.7,1128.6L223.5,1129.4L222,1129.5L220.9,1129.1L220,1128.1L219.9,1127.1L221.9,1124.6L222.1,1124.1L220.9,1120.6L220.8,1119.6L221.5,1117.8L222.5,1116.1L224,1114.8L226,1114.2L227.5,1114.5L229,1115.1L231,1117L232,1116.9L233.5,1116.1L235,1116.5L236.1,1117.6L237.2,1119.6L237.5,1120.6L237.6,1123.1L238,1124.1L239,1124.4L242,1124.6L244,1125.3L245,1126.1L245.2,1126.6L245.2,1128.6L246,1128.9L249.5,1129.3L250.5,1130L251,1130.6L251.6,1132.1L251.2,1133.1L250,1133.7ZM396.5,1122.8L395,1123L394,1122.6L393,1121.7L392.4,1120.6L392.2,1119.6L392.5,1118.6L393,1117.9L394,1117.2L395,1116.9L396.5,1117L397.7,1117.6L398.5,1118.6L398.8,1119.6L398.6,1120.6L397.5,1122.1ZM403,1144.8L402,1144.9L401,1144.6L400.3,1144.1L399.7,1143.1L399.4,1141.6L399.6,1140.1L400.2,1138.1L401.4,1136.6L401.3,1136.1L400,1135.1L399.1,1134.1L398.7,1132.6L398.6,1130.1L398.8,1129.1L400.3,1127.6L402,1127L403.5,1127.6L404.9,1129.1L405.5,1130.6L405.7,1132.6L405.4,1134.1L404.5,1135.1L403.2,1136.1L403.1,1136.6L404.4,1138.1L405,1140.1L404.5,1143.6L404,1144.2ZM205,1134.1L202.5,1134L201,1133.3L200.2,1132.6L199.8,1132.1L199.7,1131.1L200.6,1129.6L202,1128.6L203.5,1128.3L206,1128.4L207.3,1129.1L208.3,1130.6L208.4,1132.1L207,1133.4ZM495,1134.5L494.5,1134.5L494.1,1134.1L493.8,1133.1L493.9,1131.6L494.5,1130.7L495,1130.8L495.3,1131.1L495.6,1132.1L495.6,1133.6ZM457.5,1133.7L455.5,1133.6L454.8,1133.1L455,1132.6L457.7,1132.6L458.2,1133.1L458,1133.5ZM432.5,1143.1L430.5,1143L429.7,1142.6L428.7,1141.1L428.3,1139.6L427.8,1139.1L426,1138.2L424.8,1137.1L424.4,1136.1L424.5,1135.6L425.5,1134.3L427.5,1133.3L430.5,1133L433,1133.5L434.8,1134.6L435.4,1135.6L435,1138.1L436.3,1139.6L436.4,1140.6L436,1141.6L435,1142.4ZM482,1138.6L480,1138.6L479.6,1138.1L482.3,1138.1L482.3,1138.6ZM254,1146.2L252.5,1146.4L251.5,1145.9L250.9,1145.1L250.8,1144.1L251.2,1143.1L252,1142.2L252.5,1141.9L253.5,1141.8L254.5,1142.2L255.7,1143.6L255.5,1144.6ZM487,1159.7L484,1159.7L483,1159.3L482.8,1158.6L482.7,1157.1L481.2,1155.1L480.1,1153.1L479.8,1152.1L479.8,1150.6L480.7,1148.1L481,1146.2L481.8,1144.6L480.5,1144.1L480,1143.7L480.4,1143.1L482.5,1143.1L483,1143.6L483.1,1144.1L488,1145.4L489.1,1146.1L489.5,1146.6L490.2,1150.1L490.2,1152.6L489.8,1154.6L490,1156.1L489.8,1156.6L488.1,1158.1L487.5,1159.2ZM502,1155.1L499.5,1155.2L497,1154.8L495.7,1154.1L495.1,1153.1L494.9,1150.1L495.4,1148.6L496.5,1147.6L499.5,1145.6L501.5,1145.4L503.5,1145.8L506.5,1147.6L507.3,1148.6L507.3,1150.1L506,1153.1L504.5,1154.3ZM378,1157.7L377,1157.9L376.3,1157.6L376,1157.1L376.1,1155.1L375.8,1152.1L377,1150.1L377.5,1150L378,1150.7L378.8,1152.6L378.5,1156.6ZM402.5,1158.1L402,1158.1L401.2,1157.6L400.7,1156.6L401,1154.8L401.5,1154.1L402,1153.9L403,1154.1L403.7,1155.1L404,1156.1L403.9,1157.1L403.5,1157.6ZM514,1160.1L513,1159.9L512.5,1159.4L510.9,1157.1L510.7,1156.6L511.4,1155.6L513,1154.6L514,1154.4L514.7,1154.6L515.3,1155.1L515.9,1156.1L516,1157.1L515.4,1159.1L515,1159.7ZM499,1159.2L496.5,1159.3L495.9,1159.1L495.6,1158.6L496,1158L497,1158.1L499.4,1158.6ZM279.5,1170.3L278,1170.4L277,1169.9L276.4,1169.1L276.3,1168.6L276.7,1167.6L277.5,1167L278.5,1166.8L279.5,1167L280.3,1167.6L280.7,1168.1L280.7,1169.1L280.4,1169.6ZM67,1176.2L64.5,1176.5L61,1176.2L60,1175.6L59.1,1174.6L58.9,1173.6L59,1173.1L59.9,1172.1L63,1171L66,1170.7L68,1171.1L69.8,1172.1L70.3,1172.6L70.5,1173.6L70.3,1174.1L69.1,1175.1ZM539,1175.1L536.5,1175.1L535,1174.8L534,1174.2L533.8,1173.6L534.2,1173.1L535,1172.6L536.7,1172.1L538,1172L539.3,1172.1L541,1172.6L541.8,1173.1L542.2,1173.6L542.1,1174.1L541.4,1174.6ZM86.5,1189.1L82.5,1189L80.5,1188.3L79.5,1187.6L79.2,1186.6L80,1185.7L81,1185.1L81.2,1184.6L78.5,1183.1L78.2,1182.1L78.5,1181.6L79.5,1180.9L81,1180.4L85.5,1180.2L88.5,1180.4L90,1180.9L91,1181.6L91.2,1182.6L91,1183.1L89,1184.6L91.5,1186.1L91.8,1187.1L91.5,1187.6L90.5,1188.3L89,1188.9ZM548.5,1184.2L547,1184.1L545.5,1183.1L545.2,1182.1L545.7,1181.1L546.5,1180.6L547.5,1180.5L548.5,1180.6L549.3,1181.1L549.7,1181.6L549.8,1182.6L549.3,1183.6ZM554.5,1190.2L553,1190.6L552,1190.4L551,1189.9L549.9,1188.6L549.9,1188.1L550.3,1187.1L551.5,1186.2L552.5,1185.9L553.5,1186.1L555,1186.9L555.6,1187.6L555.8,1188.6L555.3,1189.6ZM290.5,1191.1L289,1191.1L288,1190.7L287.5,1190.1L287.6,1189.1L288.5,1188.4L289.5,1188.1L290.6,1188.1L291.9,1188.6L292.5,1189.3L292.4,1190.1L291.9,1190.6ZM86,1196.6L83.5,1196.5L81.5,1196L80.5,1195.3L80,1194.6L80.1,1193.6L81,1192.9L83,1192.2L87,1192.1L88.5,1192.3L90,1192.9L91,1193.6L91.3,1194.1L91,1195.1L90,1195.8L88,1196.5ZM298,1199.6L296.5,1200L295.5,1199.8L294.5,1199.1L294.4,1198.6L294.5,1198.1L295.1,1197.6L296,1197.2L297,1197.2L298,1197.6L298.7,1198.1L298.8,1198.6ZM88,1207.3L86.5,1207.6L84,1207.5L83,1207.3L81.7,1206.6L81.2,1205.6L81.5,1204.7L82,1204.3L83.5,1203.6L83.3,1203.1L81.5,1202.4L80.7,1201.6L80.5,1200.6L81.1,1199.6L83,1198.7L86,1198.6L88.5,1198.9L90,1199.8L90.4,1200.6L90.2,1201.6L89.5,1202.3L87.6,1203.1L87.4,1203.6L89,1204.4L89.6,1205.1L89.7,1205.6L89.2,1206.6ZM106,1245.2L104.5,1245.5L103,1245.2L102,1244.6L101.6,1243.6L102.4,1242.6L103.5,1242.2L105,1242.1L106,1242.3L107,1243L107.4,1243.6L107,1244.6ZM329.5,1420.2L324,1420.1L325,1419.5L327,1419.1L329,1419.5L330,1420.1Z" fill="#94fda8" fill-rule="evenodd"/>
<path d="M150,1093.6L147,1093.8L144.5,1093.2L143,1092.2L142.7,1091.1L143.5,1089.6L144,1089.5L150,1089.4L152.5,1089.6L153.3,1091.1L153.1,1092.1L152,1093ZM178.5,1095.1L175.5,1095.2L173.5,1094.4L172.1,1093.1L171.9,1092.6L172.1,1091.6L174.2,1089.6L177,1089.4L179.7,1089.6L182,1090.1L183,1090.6L184.1,1091.6L184.2,1092.6L183,1094.1L181.5,1094.7ZM192.5,1094.2L190,1094.2L188,1093.7L186.3,1092.6L186.1,1091.6L186.8,1090.6L188.1,1089.6L191,1089.4L193.9,1089.6L195.6,1091.1L195.8,1092.1L195.5,1092.7L194.5,1093.5ZM372.5,1092.7L370,1092.8L368.5,1092.4L367.3,1091.6L367.2,1091.1L367.3,1090.6L368.5,1089.6L371.5,1089.4L373.7,1089.6L374.7,1090.6L374.8,1091.1L374.7,1091.6L374,1092.2ZM490,1094.1L488,1094.3L483,1094.3L477,1093L473,1093.8L469,1093.8L467,1093.4L464,1092.3L460,1092.8L456.5,1092.8L454,1092.5L450,1092.8L448,1092.2L447.3,1091.6L447.2,1091.1L447.3,1090.6L448.3,1089.6L449.5,1089.4L461,1089.4L462.5,1089.6L464.5,1090.4L465.5,1090.2L467.5,1089.5L472,1089.4L475,1089.6L477,1090.5L478,1090.7L483,1089.9L489,1089.9L492.6,1090.6L493.8,1091.1L494.4,1091.6L494.6,1092.1L494.4,1092.6L493.8,1093.1L492.5,1093.6ZM391,1093.6L389,1093.8L387,1093.3L386,1092.6L385.7,1091.6L386.6,1090.6L388.5,1090L390.5,1090L392,1090.4L393,1091.1L393.3,1092.1L392.5,1093ZM254,1093.6L252.5,1093.6L251,1093.2L250.3,1092.6L250.2,1092.1L250.3,1091.6L251.5,1090.8L253,1090.5L254.5,1090.7L255.6,1091.1L256.2,1091.6L256.3,1092.1L256.2,1092.6L255.5,1093.2ZM421,1095.3L420.5,1095.5L419.5,1095.3L418.5,1094.1L418.5,1093.4L418.8,1092.6L419.2,1092.1L420,1091.7L421.3,1092.1L422,1093.1L422,1094.1ZM198,1108L197.5,1108L196.8,1107.6L196.3,1106.1L196.6,1103.6L197,1102.8L197.5,1102.3L198,1102.3L198.5,1102.7L199.1,1104.6L198.9,1106.6L198.5,1107.5ZM192.5,1113.2L191.5,1112.8L191,1112.4L190.3,1111.1L190.5,1110.1L191,1109.3L191.5,1108.8L192.5,1108.5L193.5,1108.8L194,1109.2L194.7,1110.6L194.5,1111.6L194,1112.4L193.5,1112.9ZM440,1118.1L438.5,1118.1L437.3,1117.6L436.2,1116.6L435.4,1115.1L435.4,1113.6L435.8,1112.6L437,1111.3L438.5,1110.5L440,1110.5L441.3,1111.1L442.3,1112.1L443.1,1113.6L443.1,1115.1L442.7,1116.1L441.5,1117.4ZM471.5,1126.2L470,1126.5L467.5,1125.9L466.5,1125.2L465.8,1124.1L464.7,1121.1L464.5,1119.6L465.3,1115.6L466,1114.5L468,1114L470,1113.9L472.1,1114.6L473.2,1115.6L473.8,1117.6L474.8,1119.1L475.1,1120.1L473.3,1124.6ZM249.5,1133.7L247,1134.1L245,1133.8L244,1133.3L243.2,1132.6L242.9,1131.6L243.1,1130.6L243,1130.1L239.5,1130.1L236,1128.9L233,1128.3L232,1127.4L231,1125L230,1124.4L225.5,1126.6L224.5,1128.3L223.5,1129.1L222,1129.2L221,1128.8L220.3,1128.1L220.2,1127.1L220.8,1126.1L222.3,1124.6L222.4,1124.1L221.2,1120.1L221.5,1118.6L222.5,1116.6L224,1115.1L226,1114.5L227,1114.6L228.5,1115.2L231,1117.5L232,1117.3L233.5,1116.4L234.7,1116.6L235.8,1117.6L236.9,1119.6L237.5,1124.1L238.5,1124.6L241.5,1124.7L243.5,1125.3L244.5,1126L244.9,1126.6L244.8,1128.6L245,1129L249,1129.3L250.5,1130.3L251.1,1131.1L251.3,1132.1L250.7,1133.1ZM396,1122.6L395,1122.6L394,1122.2L393,1121.3L392.5,1120.1L392.5,1119.1L393.1,1118.1L394,1117.4L395,1117.1L396.2,1117.1L397.4,1117.6L398,1118.1L398.5,1119.1L398.5,1120.1L398,1121.2L397,1122.2ZM403,1135.9L402,1136L400.5,1135.2L399.5,1134.1L399,1132.6L398.9,1130.1L399.3,1129.1L400.1,1128.1L401.5,1127.4L402.5,1127.3L403.5,1127.9L404.6,1129.1L405.3,1130.6L405.4,1132.6L405.3,1133.6L404.5,1134.7ZM206,1133.7L203.5,1134L201.5,1133.4L200.1,1132.1L199.9,1131.6L200,1130.6L201,1129.5L202.6,1128.6L204.5,1128.4L206.5,1128.8L207.8,1130.1L208.2,1131.6L207.7,1132.6ZM454,1147.1L449,1147.6L445,1146.7L443.5,1145.8L442.4,1144.6L442,1143.6L442.2,1142.6L442.9,1141.6L445,1139.8L448,1138.8L450.5,1138.8L454.5,1139.8L459,1139.9L460,1139.7L460.6,1138.6L460.5,1137.6L460,1136.1L460.1,1135.1L460.8,1134.1L462.3,1132.6L463.5,1132L464.5,1131.9L468.5,1132.5L470,1132.4L471.8,1131.1L473.4,1128.6L474,1128.3L475,1128.4L477.5,1129.4L479.2,1131.1L479.6,1132.1L479.6,1133.6L478.6,1136.1L478,1136.8L476,1137L474,1136.7L473.2,1136.1L472,1134.6L471,1133.8L469.5,1133.2L468.5,1133.2L467.5,1133.9L467.2,1134.6L467.5,1138.1L467.2,1139.6L466.2,1141.6L465,1143.1L464,1143.5L462,1143.4L457.5,1146.5ZM434,1142.7L431.5,1142.9L430,1142.5L428.9,1141.1L428.5,1139.4L426.2,1138.1L425.2,1137.1L424.7,1136.1L425.1,1135.1L426,1134.2L427,1133.7L429.5,1133.2L432.5,1133.5L434.5,1134.6L435.1,1135.6L434.7,1138.1L435.8,1139.6L436,1140.6L435.5,1141.7ZM402.5,1144.6L401.5,1144.5L400.5,1143.9L400.1,1143.1L399.7,1141.6L399.8,1140.6L400.5,1138.1L401,1137.4L402,1136.8L403,1137L403.7,1137.6L404.4,1138.6L404.8,1140.1L404.1,1143.6L403.5,1144.3ZM253,1146.1L252,1145.8L251.5,1145.4L251.1,1144.6L251.1,1144.1L252,1142.5L252.5,1142.2L253.5,1142.1L255,1143L255.4,1144.1L254.3,1145.6ZM486.5,1159.1L484.5,1159.2L484,1159.1L483.5,1158.6L483,1157.1L481.1,1154.6L480.1,1152.1L480.1,1150.6L481.4,1146.6L482.5,1145.4L483.5,1145L486,1145.1L488.3,1146.1L489.1,1147.1L489.9,1149.6L489.9,1152.6L489.2,1156.1ZM503,1154.7L501,1155L499,1154.9L497,1154.4L496,1153.7L495.5,1152.9L495.2,1150.6L495.2,1149.6L495.7,1148.6L498.5,1146.5L499.5,1145.9L500.5,1145.8L503,1146L506.5,1148.1L506.9,1148.6L507.1,1149.6L506.1,1152.6L505,1153.7ZM377.5,1155.4L377,1155.1L376.7,1153.1L377,1151.8L377.5,1151.8L377.8,1152.6ZM514.5,1159.6L513.5,1159.7L513,1159.5L511.4,1157.1L511.6,1156.1L512.7,1155.1L513.5,1154.7L514,1154.6L515,1155.1L515.7,1156.6L515.5,1158.3ZM402.5,1157.1L402,1157L401.8,1156.6L401.7,1156.1L402,1155.2L402.5,1155.1L403,1156.1ZM278.5,1170.1L277.1,1169.6L276.6,1168.6L277.2,1167.6L278.5,1167.1L279.9,1167.6L280.4,1168.6L280,1169.6ZM66.5,1176.1L63,1176.3L61,1175.9L59.6,1174.6L59.3,1173.6L59.4,1173.1L60.4,1172.1L63.5,1171L66,1170.9L68,1171.3L69.8,1172.6L70.1,1173.6L69.9,1174.1L68.8,1175.1ZM539,1174.6L536.5,1174.6L535.1,1174.1L534.8,1173.6L535.5,1173.1L538,1172.6L540.5,1173.1L541.1,1173.6L540.8,1174.1ZM88.5,1188.6L86.5,1188.8L83,1188.7L81.5,1188.4L80.1,1187.6L79.7,1187.1L79.7,1186.6L80.1,1186.1L82.5,1184.6L79.1,1183.1L78.7,1182.6L78.7,1182.1L79,1181.7L81,1180.7L84,1180.4L87.5,1180.5L89,1180.9L90.4,1181.6L90.8,1182.1L90.8,1182.6L90.4,1183.1L87.8,1184.6L90.5,1185.8L91.3,1186.6L91.3,1187.1L90.5,1187.9ZM547.5,1183.6L546.5,1183.1L546,1182.1L546.5,1181.4L547.5,1181.1L548.5,1181.4L549,1182.1L549,1182.6L548.5,1183.3ZM554,1190.1L552.5,1190.2L551,1189.5L550.4,1188.6L550.5,1187.6L550.8,1187.1L551.5,1186.6L552.5,1186.3L553.5,1186.4L554.8,1187.1L555.2,1187.6L555.4,1188.6L554.8,1189.6ZM290,1190.6L288.5,1190.1L288.3,1189.6L288.6,1189.1L290,1188.6L291.5,1189.1L291.7,1189.6L291.5,1190.1ZM88,1196.1L85,1196.3L82.5,1196L80.7,1195.1L80.3,1194.1L80.6,1193.6L81.5,1193L84.5,1192.4L87.5,1192.5L89,1192.8L90.4,1193.6L90.8,1194.1L90.8,1194.6L90.4,1195.1L89.5,1195.7ZM297.5,1199.1L296,1199.3L295.5,1199.1L295.3,1198.6L295.5,1198.1L297,1197.9L297.6,1198.1L297.9,1198.6ZM88,1202.6L85.5,1202.9L83,1202.6L81.5,1202L81,1201.5L80.8,1200.6L81.6,1199.6L83.5,1199L86.5,1198.9L88.5,1199.2L89.9,1200.1L90.1,1201.1L89.5,1201.9ZM87.5,1207.1L85,1207.3L83,1207L81.7,1206.1L81.7,1205.1L82.5,1204.4L84.5,1203.8L86.5,1203.8L88,1204.2L89,1204.8L89.4,1205.6L89.2,1206.1L88.7,1206.6ZM105.5,1244.7L104.5,1244.8L103.3,1244.6L102.6,1244.1L102.5,1243.6L102.9,1243.1L104,1242.7L105.5,1242.8L106.1,1243.1L106.5,1243.6L106.4,1244.1ZM329.5,1420.1L324.5,1420.1L325.5,1419.6L327,1419.4L328.5,1419.6Z" fill="#a8f79c" fill-rule="evenodd"/>
<path d="M149,1093.6L146.5,1093.5L143.7,1092.6L143,1091.8L142.9,1091.1L143.7,1089.6L148,1089.4L152.3,1089.6L153.1,1091.1L152.8,1092.1L151.5,1093ZM177.5,1095.1L175,1094.9L173,1093.9L172.1,1092.6L172.5,1091.3L174.5,1089.6L177.5,1089.4L179.3,1089.6L182,1090.3L183,1090.8L183.8,1091.6L184,1092.1L183.7,1093.1L182.5,1094.2L181.2,1094.6ZM191.5,1094.1L189.5,1094L188,1093.5L186.6,1092.6L186.3,1092.1L186.3,1091.6L187,1090.7L188.4,1089.6L191,1089.4L193.6,1089.6L195.3,1091.1L195.6,1092.1L195,1093L194,1093.6ZM372,1092.6L370,1092.6L368.5,1092.2L367.6,1091.6L367.4,1091.1L367.6,1090.6L368.5,1089.6L371,1089.4L373.5,1089.6L374.4,1090.6L374.6,1091.1L374.4,1091.6L373.5,1092.2ZM489,1094.1L483,1094.1L477,1092.8L473,1093.6L469,1093.6L467,1093.2L464,1092.1L460,1092.7L456.5,1092.7L454,1092.4L450,1092.6L448.3,1092.1L447.6,1091.6L447.4,1091.1L447.6,1090.6L448.5,1089.6L449.5,1089.5L461,1089.5L462.2,1089.6L464.5,1090.5L465.5,1090.4L467.5,1089.6L472,1089.4L474.7,1089.6L477,1090.7L478,1090.9L483,1090.1L489,1090.1L492.5,1090.7L494.1,1091.6L494.3,1092.1L494.1,1092.6L493.5,1093.1ZM390,1093.6L388.5,1093.6L387,1093.1L386.3,1092.6L385.9,1092.1L385.9,1091.6L387,1090.6L389,1090.1L391,1090.3L392.7,1091.1L393.1,1091.6L393.1,1092.1L392.7,1092.6L391.5,1093.3ZM255,1093.2L253.5,1093.5L252,1093.3L251,1092.9L250.4,1092.1L251,1091.3L252,1090.9L253,1090.7L254.5,1090.9L255.5,1091.3L256.1,1092.1L255.9,1092.6ZM420.5,1095.1L419.5,1094.8L419,1094.1L419,1093.1L420,1092.1L421,1092.4L421.5,1093.1L421.5,1094.1ZM198,1107.3L197.5,1107.4L197.2,1107.1L196.8,1106.1L196.9,1104.1L197.5,1103L198.1,1103.1L198.6,1104.6L198.6,1106.1ZM193,1112.6L191.5,1112.4L191,1112L190.6,1111.1L191,1109.8L192,1109.1L193.5,1109.3L194,1109.7L194.4,1110.6L194,1112ZM440.5,1117.8L439,1118L437.6,1117.6L436.4,1116.6L435.6,1115.1L435.6,1113.6L436,1112.6L437,1111.5L438.5,1110.7L440,1110.7L441,1111.1L442.1,1112.1L442.9,1113.6L442.9,1115.1L442.5,1116L441.6,1117.1ZM470,1126.1L468,1125.8L466.5,1124.7L465.8,1123.6L464.8,1120.6L464.9,1118.6L466,1115.1L466.6,1114.6L468.5,1114.1L470.5,1114.3L472.3,1115.1L473,1116L474.7,1119.6L474.6,1120.6L473,1124.4L471.5,1125.7ZM243,1129.6L239.5,1129.9L236,1128.7L233.1,1128.1L232.2,1127.1L231.1,1124.6L230,1123.9L229.5,1124L225.5,1126L224.3,1128.1L223.5,1128.8L222.5,1129L221.2,1128.6L220.7,1128.1L220.5,1127.1L222.9,1124.1L221.7,1120.1L222,1118.6L223,1116.6L224,1115.5L225,1115L226,1114.8L227.5,1115.1L228.4,1115.6L230.2,1117.6L231,1118L232,1117.7L233.5,1116.7L234,1116.6L235,1117.1L235.8,1118.1L236.6,1119.6L236.9,1121.1L237,1123.6L237.5,1124.6L242.4,1125.1L243.6,1125.6L244.6,1126.6L244.7,1127.6L244,1129.5ZM396.5,1122.2L395.5,1122.4L394.5,1122.2L393.6,1121.6L393,1120.9L392.7,1120.1L392.7,1119.1L393.3,1118.1L394,1117.6L395.5,1117.2L396.5,1117.3L397.5,1117.9L398.1,1118.6L398.3,1119.6L398.1,1120.6L397.5,1121.5ZM402.5,1135.7L401.5,1135.6L400.2,1134.6L399.5,1133.5L399.2,1132.1L399.3,1130.1L399.6,1129.1L400.5,1128.1L402,1127.5L403,1127.8L404.4,1129.1L404.9,1130.1L405.1,1131.6L405.1,1133.1L404.7,1134.1L403.8,1135.1ZM205.5,1133.6L203.5,1133.8L201.5,1133.1L200.4,1132.1L200.2,1131.6L200.3,1130.6L201.5,1129.3L203,1128.7L205,1128.6L206.5,1129.1L207.5,1130.1L207.9,1131.6L207.3,1132.6ZM477.5,1136.7L475.5,1136.8L474,1136.5L470.7,1133.1L470.6,1132.6L474,1128.9L475,1128.7L477,1129.4L478.1,1130.1L479.2,1131.6L479.4,1132.6L479.2,1134.1L478.5,1135.8ZM249,1133.6L246,1133.8L244,1133L243.3,1132.1L243.2,1131.6L244,1129.6L244.5,1129.4L248,1129.4L249,1129.5L250,1130.1L250.8,1131.1L251.1,1132.1L250.3,1133.1ZM452.5,1147.1L448.5,1147.3L445,1146.5L443.6,1145.6L442.7,1144.6L442.3,1143.6L442.5,1142.6L443.2,1141.6L445,1140.1L446.5,1139.4L448.5,1138.9L450.5,1139L454,1139.9L460,1140.2L460.5,1139.7L460.9,1138.6L460.4,1135.6L460.8,1134.6L462.1,1133.1L463,1132.4L464.5,1132.1L466.5,1132.5L467.2,1133.1L466.8,1135.1L467.2,1137.6L467.1,1139.1L466.2,1141.1L465,1142.7L464,1143.1L461.5,1142.8L460,1144.6L457.5,1146.2ZM433.5,1142.6L431.5,1142.7L429.9,1142.1L429.2,1141.1L428.9,1139.6L428.6,1139.1L426.5,1138L425.1,1136.6L425.1,1135.6L425.5,1135L427,1133.9L429.5,1133.4L432,1133.6L434.1,1134.6L434.6,1135.1L434.9,1136.1L434.4,1138.1L435.4,1139.6L435.7,1140.6L435,1141.8ZM403,1144.3L402,1144.4L401,1144L400.4,1143.1L400,1141.6L400.1,1140.1L400.8,1138.1L401.2,1137.6L402,1137.2L403,1137.4L403.5,1137.7L404.1,1138.6L404.5,1140.1L404,1143.1L403.5,1144ZM253.5,1145.8L252.2,1145.6L251.4,1144.6L251.4,1144.1L251.9,1143.1L253,1142.4L254.1,1142.6L255.1,1143.6L254.9,1144.6ZM486,1158.1L485,1158.3L484,1157.9L481.5,1154.8L480.3,1152.1L480.4,1150.1L481.8,1146.6L482.5,1145.9L484,1145.2L486,1145.3L488,1146.3L489,1147.6L489.7,1150.1L489.7,1152.6L488.9,1155.6L488,1156.8ZM502.5,1154.6L500.5,1154.8L498.5,1154.6L496.5,1153.7L495.7,1152.6L495.4,1150.1L495.7,1149.1L496.5,1148.1L499.5,1146.2L501,1146L503,1146.3L506,1148L506.7,1149.1L506.6,1150.6L505.8,1152.6L504.5,1153.8ZM514.5,1159.2L514,1159.4L513.2,1159.1L512,1157.1L512.1,1156.1L513.5,1155L514.5,1155.1L515,1155.6L515.4,1156.6L515.2,1158.1ZM279,1169.7L278,1169.7L277.2,1169.1L277,1168.6L277.2,1168.1L277.7,1167.6L279,1167.5L279.9,1168.1L280,1168.6L279.9,1169.1ZM65.5,1176.1L62.9,1176.1L61.1,1175.6L60,1174.6L59.7,1173.6L59.8,1173.1L60.1,1172.6L61.5,1171.8L64.5,1171.1L66,1171.1L67.5,1171.4L69.4,1172.6L69.8,1173.6L69.1,1174.6L67.5,1175.6ZM87,1184.2L84,1184.3L81.5,1183.9L79.6,1183.1L79.1,1182.6L79.1,1182.1L80,1181.4L81.5,1180.8L85,1180.6L88.5,1181L89.9,1181.6L90.3,1182.1L90.3,1182.6L89.9,1183.1ZM89,1188.2L86.5,1188.6L82.5,1188.4L80.6,1187.6L80.1,1187.1L80.1,1186.6L81,1185.8L83.5,1185L87,1185L89.5,1185.6L90.4,1186.1L90.8,1186.6L90.9,1187.1L90.4,1187.6ZM554,1189.7L553,1189.9L551.8,1189.6L550.9,1188.6L551,1187.6L551.5,1187.1L552.5,1186.7L554.1,1187.1L554.7,1187.6L555,1188.6ZM88.5,1195.7L86,1196.1L83,1195.9L81.1,1195.1L80.7,1194.6L80.7,1194.1L81.5,1193.4L83.5,1192.7L86,1192.6L88,1192.8L89.5,1193.4L90.4,1194.1L90.4,1194.6L89.9,1195.1ZM88.5,1202.2L86,1202.6L83,1202.4L81.5,1201.7L81.1,1201.1L81.1,1200.6L82,1199.7L83.5,1199.2L86,1199.1L88,1199.3L89,1199.7L89.8,1200.6L89.5,1201.6ZM88,1206.7L86.5,1207L84,1207L82.5,1206.5L81.9,1205.6L82,1205.1L82.5,1204.7L83.5,1204.3L85,1204.1L87,1204.2L88.5,1204.8L89,1205.5L88.8,1206.1ZM328.5,1420.1L325.1,1420.1L327,1419.7L328.9,1420.1Z" fill="#bced8f" fill-rule="evenodd"/>
<path d="M150.5,1093.2L148,1093.5L145.3,1093.1L143.5,1092.2L143.1,1091.1L144,1089.6L152.1,1089.6L152.9,1091.1L152.8,1091.6L152,1092.6ZM179.5,1094.6L176.5,1095L174.5,1094.5L173.5,1094L172.5,1093.1L172.4,1092.6L172.5,1091.6L174.8,1089.6L177,1089.5L178.9,1089.6L179.5,1089.9L182,1090.5L183.5,1091.6L183.7,1092.6L183,1093.6L181.5,1094.4ZM193.5,1093.6L191,1093.9L188.6,1093.6L186.9,1092.6L186.6,1091.6L187,1091L188.7,1089.6L193.3,1089.6L195,1091L195.3,1091.6L195.1,1092.6ZM373,1092.2L371.5,1092.5L369.5,1092.4L368,1091.7L367.7,1091.1L368.8,1089.6L373.2,1089.6L374.3,1091.1L374.1,1091.6ZM491,1093.6L488.5,1094L483.5,1094L477,1092.7L473,1093.5L469.5,1093.5L467.2,1093.1L464,1091.9L460,1092.5L456.5,1092.5L454,1092.2L450.5,1092.5L448.7,1092.1L447.9,1091.6L447.7,1091.1L448.8,1089.6L449.5,1089.5L454,1089.7L456,1089.5L461,1089.5L461.9,1089.6L463,1090.3L464.5,1090.8L466,1090.5L467.6,1089.6L472,1089.5L474.4,1089.6L475.5,1090.3L477.5,1091L479,1091L483.5,1090.2L488,1090.2L492,1090.8L493.8,1091.6L494.1,1092.1L493.5,1092.8ZM391.5,1093.1L389.5,1093.5L388,1093.3L386.6,1092.6L386.2,1092.1L386.2,1091.6L386.6,1091.1L388,1090.4L389.5,1090.2L391,1090.4L392.4,1091.1L392.8,1091.6L392.8,1092.1L392.5,1092.5ZM254.5,1093.1L253.5,1093.3L252,1093.1L251,1092.6L250.8,1092.1L251,1091.6L252,1091.1L253,1090.9L254.5,1091.1L255.5,1091.6L255.7,1092.1L255.5,1092.6ZM420.5,1094.3L419.8,1094.1L419.7,1093.6L420,1092.9L420.7,1093.1L420.8,1093.6ZM193,1112.2L192,1112.2L191,1111.4L190.9,1110.6L191.1,1110.1L192,1109.5L193,1109.5L194,1110.3L194.1,1111.1L193.9,1111.6ZM440.5,1117.6L439.5,1117.8L438,1117.6L436.7,1116.6L435.8,1115.1L435.8,1113.6L436.3,1112.6L437.2,1111.6L438.5,1110.9L440,1110.9L441,1111.4L442,1112.3L442.7,1113.6L442.8,1114.6L442.5,1115.6L441.5,1116.9ZM470.5,1125.8L468.5,1125.7L467,1124.9L466.1,1123.6L465.2,1121.1L465.1,1119.1L466,1116L466.6,1115.1L468,1114.5L470,1114.4L472,1115.3L472.7,1116.1L474.3,1119.6L474.3,1120.6L473,1123.8L472,1124.9ZM241.5,1129.6L239,1129.6L236,1128.4L233.5,1127.9L232.6,1127.1L231.8,1125.1L231.2,1124.1L230.5,1123.5L229.5,1123.3L227.3,1124.6L225.5,1125.4L225,1125.8L224.2,1127.6L223.5,1128.5L222.5,1128.8L221.5,1128.5L220.8,1127.6L221,1126.7L223.5,1124.1L223.4,1123.1L222.4,1120.1L222.5,1119.1L223.5,1117L225,1115.6L226,1115.4L227.2,1115.6L228,1116.1L229.6,1118.1L230.5,1118.5L231.5,1118.3L233.5,1117.1L234.5,1117.1L235.5,1118.1L236.4,1120.1L236.6,1123.6L236.9,1124.6L238,1125.1L242,1125.2L243.5,1125.8L244.3,1126.6L244.5,1127.6L244,1128.6L243,1129.3ZM396,1122.1L395,1122.1L394,1121.7L393.4,1121.1L392.9,1120.1L393.2,1118.6L394.5,1117.6L395.5,1117.4L396.7,1117.6L397.5,1118.2L398,1119.1L398,1120.1L397.5,1121.1L397,1121.6ZM403,1135.3L402,1135.4L401,1135L400.1,1134.1L399.5,1132.6L399.5,1130.6L399.7,1129.6L400.5,1128.5L402,1127.8L403,1128L403.7,1128.6L404.5,1129.8L404.9,1131.1L404.9,1132.6L404.7,1133.6L404,1134.6ZM204,1133.6L202.5,1133.4L201.2,1132.6L200.4,1131.6L200.5,1130.6L201.5,1129.5L203,1128.8L204.5,1128.7L206,1129.1L206.8,1129.6L207.5,1130.6L207.7,1131.1L207.5,1132L207,1132.6L206,1133.2ZM476.5,1136.7L475,1136.6L474,1136.2L471.2,1133.1L471.2,1132.6L471.5,1132.1L473.7,1129.6L474.5,1129L476,1129.2L477.5,1129.9L478.5,1130.8L479.2,1132.1L479.2,1133.6L478.5,1135.3L477.9,1136.1ZM248,1133.6L246,1133.6L245,1133.3L244,1132.7L243.5,1131.6L244,1130.5L245,1129.7L246.5,1129.5L248.5,1129.6L249.7,1130.1L250.6,1131.1L250.8,1132.1L249.9,1133.1ZM450.5,1147.1L448,1147.1L444.7,1146.1L443.4,1145.1L442.7,1144.1L442.6,1143.6L442.8,1142.6L444,1141.2L445.5,1140.1L448.5,1139.2L450.5,1139.2L454,1140.1L457.5,1140.2L460,1140.8L460.5,1140.7L461.1,1138.6L460.8,1135.6L461.6,1134.1L463,1132.7L464,1132.3L465.5,1132.5L466.5,1133.1L466.7,1133.6L466.6,1135.1L466.9,1138.6L466.2,1140.6L465,1142.4L464.5,1142.7L463.5,1142.8L461,1141.8L460.1,1144.1L458,1145.7L456.5,1146.2ZM434,1142.2L432,1142.6L431,1142.4L430,1141.9L429.4,1141.1L429,1139.1L426.5,1137.8L425.4,1136.6L425.4,1135.6L425.7,1135.1L427.1,1134.1L429.5,1133.6L432,1133.8L433.8,1134.6L434.5,1135.4L434.6,1136.1L434.1,1138.1L435.4,1140.1L435.4,1140.6L434.9,1141.6ZM402.5,1144.2L401.7,1144.1L401,1143.6L400.3,1141.6L400.3,1140.6L400.8,1138.6L401.5,1137.7L402,1137.5L402.8,1137.6L403.5,1138.1L404.2,1140.1L403.7,1143.1L403.5,1143.6ZM254,1145.2L253,1145.5L252,1145L251.8,1144.1L252.5,1142.9L253.5,1142.7L254.5,1143.3L254.7,1144.1ZM485.5,1157.7L484,1157.3L482.3,1155.6L481,1153.4L480.5,1151.6L480.7,1150.1L482,1146.8L483,1145.9L484.5,1145.4L486.5,1145.7L488,1146.7L489,1148.5L489.5,1150.6L489.4,1152.6L488.5,1155.6L487,1157.1ZM501.5,1154.6L499.5,1154.6L497.5,1153.9L496.4,1153.1L495.8,1151.6L495.7,1150.1L496.3,1148.6L498.5,1147L500,1146.4L502,1146.4L504,1147.1L506,1148.4L506.5,1149.6L506.1,1151.6L505.1,1153.1L503.5,1154.1ZM514.5,1158.6L514,1158.9L513.5,1158.8L512.5,1157.1L512.7,1156.1L513.5,1155.5L514.5,1155.6L515,1156.6L515,1157.6ZM279,1169.3L278.5,1169.4L277.8,1169.1L277.5,1168.6L277.8,1168.1L278.5,1167.8L279.3,1168.1L279.5,1168.6ZM67,1175.6L64.5,1176L62,1175.7L60.4,1174.6L60,1173.6L60.1,1173.1L61.3,1172.1L63.5,1171.4L65.5,1171.2L67.5,1171.6L69.1,1172.6L69.5,1173.6L68.8,1174.6ZM88,1183.7L86,1183.9L82,1183.8L80.1,1183.1L79.6,1182.6L79.6,1182.1L80.5,1181.4L82,1181L87.5,1181L89,1181.4L89.9,1182.1L89.9,1182.6L89.5,1183ZM88.5,1188.1L86.5,1188.3L83,1188.2L81.1,1187.6L80.6,1187.1L80.6,1186.6L81.5,1185.9L83.5,1185.3L88,1185.4L89.5,1185.9L90.4,1186.6L90.4,1187.1L90,1187.5ZM553.5,1189.2L552.5,1189.3L552,1189L551.6,1188.1L551.9,1187.6L553,1187.3L554,1187.8L554.2,1188.6ZM88,1195.6L85.5,1195.8L83,1195.6L81.5,1195L81.1,1194.6L81.1,1194.1L82,1193.4L83.5,1193L86,1192.9L88,1193.1L89.4,1193.6L89.9,1194.1L89.9,1194.6L89.5,1195ZM88,1202.1L85.5,1202.4L83,1202.1L81.8,1201.6L81.4,1201.1L81.4,1200.6L82,1200L83.5,1199.5L86,1199.4L88,1199.6L89,1200L89.5,1200.6L89.5,1201.1L89.1,1201.6ZM87,1206.7L85,1206.8L83.5,1206.6L82.5,1206.1L82.2,1205.6L82.5,1205.1L84,1204.5L87,1204.5L88.4,1205.1L88.7,1205.6L88.4,1206.1Z" fill="#d4dd80" fill-rule="evenodd"/>
<path d="M150,1093.1L147.5,1093.3L145,1092.8L143.7,1092.1L143.4,1091.1L144.2,1089.6L151.8,1089.6L152.6,1091.1L152.6,1091.6L151.6,1092.6ZM178.5,1094.6L176,1094.8L174,1094.1L172.8,1093.1L172.6,1092.6L172.8,1091.6L175.1,1089.6L177,1089.5L178.6,1089.6L179.5,1090.1L181.8,1090.6L183.2,1091.6L183.4,1092.6L182.5,1093.7L181.5,1094.2ZM192.5,1093.7L190,1093.7L188.5,1093.4L187.2,1092.6L186.9,1092.1L186.9,1091.6L189,1089.6L193,1089.6L194.8,1091.1L195.1,1092.1L194.1,1093.1ZM372.5,1092.2L369.5,1092.2L368.3,1091.6L368,1091.1L369.1,1089.6L372.9,1089.6L374,1091.1L373.7,1091.6ZM490,1093.6L488,1093.8L483,1093.8L477,1092.4L473,1093.3L469.5,1093.3L467,1092.8L465,1091.9L464,1091.6L460,1092.3L456.5,1092.3L454,1092L450.5,1092.3L449,1092L448.3,1091.6L448,1091.1L449.1,1089.6L450,1089.5L452.6,1089.6L453.5,1090L456,1089.5L461.5,1089.6L463.5,1090.8L464.5,1091.1L467,1090.3L468,1089.6L472.5,1089.5L474,1089.6L475,1090.3L477.5,1091.3L483,1090.4L488.5,1090.4L492.5,1091.1L493.5,1091.6L493.7,1092.1L493.5,1092.6L492.5,1093.1ZM390.5,1093.2L389,1093.3L387.5,1092.9L386.5,1092.1L386.5,1091.6L387.5,1090.8L389,1090.4L391,1090.6L392.1,1091.1L392.5,1091.6L392.5,1092.1L392,1092.7ZM255,1092.6L253,1093.1L251.5,1092.6L251.1,1092.1L251.4,1091.6L252,1091.3L253.5,1091.1L255.1,1091.6L255.4,1092.1ZM193,1111.8L192,1111.8L191.5,1111.5L191.3,1110.6L191.6,1110.1L192.5,1109.8L193.5,1110.2L193.7,1111.1ZM439.5,1117.7L438.5,1117.6L437.5,1117.1L436.5,1116L436,1114.6L436.1,1113.6L437,1112.1L438,1111.3L439,1111L440,1111.1L441,1111.6L442,1112.7L442.5,1114.1L442.4,1115.1L441.5,1116.6L440.5,1117.4ZM471,1125.2L469.5,1125.6L467.5,1124.9L466.4,1123.6L465.4,1121.1L465.4,1119.1L466.3,1116.1L467.2,1115.1L468.5,1114.6L470,1114.6L471.9,1115.6L472.7,1116.6L474,1119.6L474,1120.6L473,1123.1L472,1124.5ZM242.5,1129.2L241,1129.5L239.5,1129.4L233.5,1127.5L232.8,1126.6L231.8,1124.1L230.1,1122.1L230.1,1120.6L230.5,1119.6L233.5,1117.5L234,1117.4L234.6,1117.6L235.5,1118.9L236,1120.2L236.2,1124.1L236.5,1124.7L237.5,1125.3L240.5,1125.2L242,1125.4L243.5,1126.1L244,1126.6L244.2,1127.1L244,1128.1L243.5,1128.7ZM396.5,1121.7L395,1121.8L394,1121.3L393.5,1120.8L393.2,1120.1L393.2,1119.1L394,1118L395,1117.6L396,1117.6L397,1118L397.6,1118.6L397.8,1120.1L397.2,1121.1ZM223,1128.4L222.5,1128.5L221.5,1128.1L221.2,1127.1L221.5,1126.5L222.5,1125.6L223.5,1125.1L224,1125.2L224.2,1125.6L224.1,1127.1L223.5,1128.1ZM402.5,1135.2L401.5,1135L400.5,1134.2L399.9,1133.1L399.7,1132.1L400,1129.6L400.8,1128.6L402,1128L402.6,1128.1L403.5,1128.7L404.4,1130.1L404.6,1131.1L404.6,1132.6L404.4,1133.6L403.6,1134.6ZM205.5,1133.2L203.5,1133.4L202,1132.9L201,1132.1L200.7,1131.6L200.8,1130.6L201.8,1129.6L203,1129L204.5,1128.9L206,1129.3L207,1130.2L207.4,1131.1L207.4,1131.6L206.6,1132.6ZM477,1136.3L475.5,1136.5L474.3,1136.1L471.7,1133.1L471.9,1132.1L473.6,1130.1L474.5,1129.4L476,1129.4L477.5,1130.1L478.4,1131.1L478.9,1132.1L479,1133.1L478.5,1134.8L478,1135.6ZM249,1133.2L247,1133.5L245.1,1133.1L244,1132.1L244,1131.1L244.5,1130.4L245.5,1129.9L247.5,1129.7L249,1130L249.9,1130.6L250.5,1131.6L250.1,1132.6ZM464.5,1142.3L463,1142.3L461.5,1141.1L461.2,1140.6L461.4,1138.1L461.1,1136.1L461.6,1134.6L462.5,1133.4L463.5,1132.7L464.5,1132.5L465.5,1132.8L466.3,1133.6L466.7,1137.6L466.5,1139.1L466,1140.5L465.3,1141.6ZM433.5,1142.2L431.5,1142.3L430.1,1141.6L429.5,1140.6L429.4,1139.1L426.7,1137.6L425.7,1136.6L425.6,1136.1L426,1135.1L427.7,1134.1L430,1133.8L432.4,1134.1L434,1135.1L434.4,1136.1L433.8,1138.1L433.9,1138.6L435,1140.1L435.1,1140.6L434.5,1141.6ZM403,1143.6L402,1143.9L401.4,1143.6L401,1143L400.6,1141.6L400.6,1140.6L401,1139.1L401.5,1138.1L402,1137.8L403,1138.1L403.5,1138.8L403.9,1140.1L403.6,1142.6ZM452.5,1146.6L449,1146.9L445.5,1146.2L444.4,1145.6L443.3,1144.6L442.9,1143.6L443,1142.8L443.9,1141.6L445.5,1140.4L447.4,1139.6L449,1139.3L450.5,1139.4L454,1140.3L458,1140.5L459,1140.8L460,1141.6L460.2,1142.6L460.1,1143.6L458.5,1145.1L457,1145.9ZM253,1145.1L252.3,1144.6L252.2,1144.1L252.5,1143.5L253,1143.1L253.5,1143.1L254.2,1143.6L254.3,1144.1L254,1144.7ZM486,1157.2L484.5,1157.2L483,1156L481.9,1154.6L480.8,1152.1L480.9,1150.1L482.2,1147.1L483.3,1146.1L484.5,1145.7L486,1145.8L487.5,1146.7L488.5,1148L489.2,1150.1L489.1,1152.6L488.3,1155.1L487.5,1156.3ZM502.5,1154.2L501,1154.4L499.5,1154.3L498,1153.9L496.8,1153.1L496.2,1152.1L495.9,1150.6L496,1149.6L496.7,1148.6L499,1147L501,1146.5L503.5,1147.1L505.5,1148.4L506.2,1149.6L506.1,1150.6L505.6,1152.1L504.5,1153.3ZM514,1157.7L513.5,1157.4L513.4,1157.1L513.5,1156.5L514,1156.4L514.2,1157.1ZM66,1175.7L64,1175.8L62,1175.5L61.3,1175.1L60.5,1174.2L60.3,1173.6L60.5,1173.1L61.8,1172.1L64,1171.5L66.5,1171.5L68.1,1172.1L69.1,1173.1L68.9,1174.1L67.7,1175.1ZM86.5,1183.6L82,1183.5L80.5,1183L80,1182.6L80,1182.1L80.7,1181.6L82,1181.2L85,1181.1L88,1181.3L89.5,1182.1L89.5,1182.6L88.8,1183.1ZM86.5,1188.1L82.5,1187.9L81,1187.1L81,1186.6L81.7,1186.1L83,1185.7L85.5,1185.5L88,1185.7L89.3,1186.1L90,1186.6L90,1187.1L89.3,1187.6ZM86,1195.6L84,1195.6L82.5,1195.2L81.5,1194.6L81.5,1194.1L83,1193.3L85.5,1193.1L88,1193.3L89.5,1194.1L89.5,1194.6L88.8,1195.1ZM86.5,1202.1L83,1201.9L82,1201.3L81.8,1200.6L83,1199.8L85.5,1199.6L88,1199.9L89.1,1200.6L89.1,1201.1L88.6,1201.6ZM85.5,1206.6L83.5,1206.3L83,1206.1L82.7,1205.6L83,1205.1L83.5,1204.9L85.5,1204.6L87.5,1204.9L87.9,1205.1L88.3,1205.6L87.9,1206.1L87.5,1206.3Z" fill="#e8cb72" fill-rule="evenodd"/>
<path d="M148.5,1093.1L146,1092.9L144.1,1092.1L143.8,1091.6L143.7,1091.1L144.5,1089.6L151.5,1089.6L152.3,1091.1L152,1092L151,1092.6ZM177,1094.6L174.5,1094.1L173.5,1093.5L172.9,1092.6L173.2,1091.6L175.4,1089.6L178.2,1089.6L179,1090.2L182,1091L183,1091.9L183,1092.8L182,1093.7L180.8,1094.1ZM191,1093.6L188.4,1093.1L187.2,1092.1L187.2,1091.6L187.6,1091.1L189.3,1089.6L192.7,1089.6L194.7,1091.6L194.5,1092.5L193.7,1093.1ZM371.5,1092.1L370,1092.1L368.7,1091.6L368.4,1091.1L368.6,1090.6L369.4,1089.6L372.6,1089.6L373.6,1091.1L373,1091.7ZM460,1092.1L456.5,1092.1L454,1091.8L450.3,1092.1L448.7,1091.6L448.4,1091.1L449.4,1089.6L452.2,1089.6L453,1090.1L454,1090.3L455.3,1089.6L458,1089.5L461.2,1089.6L463.3,1091.1L462.7,1091.6ZM488.5,1093.6L483,1093.6L477,1092.1L473,1093.1L469.1,1093.1L466.9,1092.6L465.2,1091.6L465.7,1091.1L467.5,1090.3L468.3,1089.6L472.5,1089.5L473.7,1089.6L474.5,1090.3L477.5,1091.6L483.1,1090.6L488,1090.6L491.6,1091.1L493,1091.6L493.4,1092.1L493,1092.6L492,1093ZM391.5,1092.7L390,1093.1L388.5,1093L387.4,1092.6L386.8,1092.1L386.8,1091.6L387.4,1091.1L388.5,1090.7L390.5,1090.7L391.6,1091.1L392.2,1091.6L392.2,1092.1ZM254,1092.7L252.5,1092.7L251.7,1092.1L252.5,1091.5L254,1091.5L254.8,1092.1ZM193,1111.3L192.5,1111.4L192,1111.3L191.8,1110.6L192.5,1110.3L193,1110.4L193.2,1110.6ZM440.5,1117.1L439.5,1117.4L438,1117.1L437,1116.2L436.4,1115.1L436.3,1114.1L436.6,1113.1L437.3,1112.1L438.5,1111.4L439.5,1111.2L440.6,1111.6L441.6,1112.6L442.1,1113.6L442.2,1114.6L442,1115.5ZM470.5,1125.1L469,1125.2L467.5,1124.5L466.5,1123.2L465.6,1120.6L465.7,1119.1L466.5,1116.5L467.5,1115.4L469,1114.8L470.5,1115L472,1116.1L473.6,1119.6L473.5,1121L472.5,1123.4L471.5,1124.6ZM395.5,1121.6L394.1,1121.1L393.5,1120.1L393.4,1119.6L394,1118.4L394.5,1118L395.5,1117.8L396.5,1118L397,1118.4L397.6,1119.6L397.5,1120.1L396.8,1121.1ZM241.5,1129.2L238.9,1129.1L234,1127.2L233.5,1126.6L231.5,1121.6L231.6,1120.6L232,1119.7L233.5,1118.3L234,1118.2L234.5,1118.5L235,1119.4L235.5,1121.1L235.6,1124.6L235.9,1125.1L237.5,1125.6L241.5,1125.6L243,1126.1L243.6,1126.6L243.9,1127.6L243.5,1128.2L243,1128.7ZM223,1127.9L222.5,1128.1L222,1127.9L221.6,1127.1L222,1126.5L223,1125.9L223.5,1126.1L223.6,1126.6L223.5,1127.3ZM403,1134.7L402,1134.9L401.3,1134.6L400.5,1133.6L400.1,1132.6L400,1131.1L400.4,1129.6L401.2,1128.6L402,1128.3L403,1128.6L403.5,1129.1L404.2,1130.6L404.2,1133.1L403.7,1134.1ZM204.5,1133.2L203,1133.1L201.4,1132.1L200.9,1131.1L201.5,1130.1L202.5,1129.5L204,1129.1L205.5,1129.4L206.5,1130L207,1130.8L207,1131.7L206.1,1132.6ZM476.5,1136.2L475.5,1136.2L474.5,1135.9L472.2,1133.1L472.1,1132.6L472.7,1131.6L474,1130.1L475,1129.5L476,1129.6L477.1,1130.1L478.1,1131.1L478.6,1132.1L478.6,1133.6L478,1135.1L477.5,1135.7ZM248.5,1133.1L246.5,1133.2L245,1132.7L244.3,1132.1L244.4,1131.1L245,1130.4L246,1130L248,1130L249,1130.2L250,1131.1L250.1,1132.1L249.7,1132.6ZM464,1142.1L462.6,1141.6L461.8,1140.6L461.4,1136.1L461.9,1134.6L462.7,1133.6L463.5,1133L464.5,1132.8L465.3,1133.1L465.8,1133.6L466.4,1138.1L466.1,1139.6L465.5,1140.8L465,1141.6ZM432.5,1142.2L431.5,1142.1L430.5,1141.6L430,1141L429.9,1139.6L429.5,1138.8L426.4,1137.1L425.9,1136.1L426.4,1135.1L428,1134.3L430,1134L432,1134.2L433.6,1135.1L434.1,1136.1L433.4,1138.1L433.5,1138.6L434.7,1140.1L434.7,1140.6L434.1,1141.6ZM402.5,1143.4L402,1143.4L401.6,1143.1L401,1141.6L401.1,1140.1L401.5,1138.9L402,1138.3L402.5,1138.3L402.9,1138.6L403.5,1140.1L403.5,1141.1L403.1,1142.6ZM451,1146.6L448,1146.6L445,1145.7L443.4,1144.1L443.2,1143.6L443.4,1142.6L445.6,1140.6L447,1140L449,1139.6L450.5,1139.7L453.5,1140.4L457.5,1140.6L458.8,1141.1L459.5,1141.8L459.8,1142.6L459.6,1143.6L458,1145.1L457,1145.6ZM486,1156.8L484.5,1156.8L483,1155.6L482,1154.3L481.1,1152.1L481.3,1150.1L482.5,1147.2L483.5,1146.3L484.5,1146L486,1146.1L487.5,1147.1L488.4,1148.6L488.8,1150.1L488.8,1152.6L488,1155L487.1,1156.1ZM502,1154.1L500,1154.2L498.5,1153.8L497.3,1153.1L496.5,1152L496.3,1150.1L496.6,1149.1L497.7,1148.1L499.5,1147.1L501,1146.8L503,1147.2L505,1148.3L505.9,1149.6L505.7,1151.1L505,1152.5L503.5,1153.6ZM65,1175.6L63.5,1175.6L61.8,1175.1L60.8,1174.1L60.9,1173.1L62.3,1172.1L64.6,1171.6L67,1171.9L68.5,1172.9L68.8,1173.6L68,1174.6L67,1175.2ZM88,1183.1L86,1183.4L82.5,1183.3L81.5,1183.1L80.6,1182.6L80.6,1182.1L81.5,1181.6L82.5,1181.4L87,1181.4L88,1181.6L88.9,1182.1L88.9,1182.6ZM88,1187.7L83,1187.7L81.6,1187.1L81.6,1186.6L83,1186L85.5,1185.8L88,1186L89.4,1186.6L89.4,1187.1ZM87.5,1195.2L83.5,1195.2L82.1,1194.6L82.1,1194.1L83.5,1193.5L85.5,1193.3L87.5,1193.5L88.9,1194.1L88.9,1194.6ZM87.5,1201.7L83.5,1201.7L82.3,1201.1L82.3,1200.6L83.1,1200.1L84,1199.9L87.5,1200L88.7,1200.6L88.7,1201.1ZM87,1206.2L84.5,1206.3L83.8,1206.1L83.2,1205.6L84,1205L86.5,1204.9L87.2,1205.1L87.7,1205.6Z" fill="#ffae5e" fill-rule="evenodd"/>
<path d="M150,1092.6L148,1092.8L145.9,1092.6L144.6,1092.1L144.2,1091.6L144.1,1091.1L144.9,1089.6L151.1,1089.6L151.9,1091.1L151.8,1091.6L151.4,1092.1ZM178.5,1094.1L176.5,1094.3L175.3,1094.1L173.6,1093.1L173.3,1092.1L173.6,1091.6L176,1089.6L177.7,1089.6L178.5,1090.3L181.6,1091.1L182.5,1091.7L182.7,1092.6L182,1093.4L181,1093.8ZM192.5,1093.2L191,1093.3L189.2,1093.1L188,1092.5L187.7,1092.1L187.7,1091.6L189.8,1089.6L192.2,1089.6L194.3,1091.6L194.3,1092.1L193.9,1092.6ZM372.5,1091.6L370,1091.8L369.4,1091.6L368.9,1091.1L369.8,1089.6L372.2,1089.6L373.1,1091.1ZM461.5,1091.6L457,1091.8L453.5,1091.4L450.5,1091.8L449.4,1091.6L448.9,1091.1L449.8,1089.6L451.7,1089.6L452.5,1090.3L454,1090.6L455,1090.3L455.7,1089.6L460.5,1089.6L462.4,1091.1ZM474,1092.6L472,1092.8L469,1092.8L466.5,1092.1L466,1091.6L466.4,1091.1L468,1090.4L468.8,1089.6L473.2,1089.6L474,1090.4L476.2,1091.6L475.7,1092.1ZM390.5,1092.7L388.1,1092.6L387.3,1092.1L387.3,1091.6L388.1,1091.1L389,1090.9L390.9,1091.1L391.7,1091.6L391.7,1092.1ZM490,1093.1L488,1093.3L483,1093.3L479.6,1092.6L478.7,1092.1L479.4,1091.6L481.8,1091.1L486,1090.8L490.2,1091.1L492.3,1091.6L492.8,1092.1L492.3,1092.6ZM439.5,1117.2L438.7,1117.1L437.8,1116.6L437,1115.6L436.7,1114.6L436.8,1113.6L437.3,1112.6L438,1112L439,1111.5L439.9,1111.6L440.7,1112.1L441.5,1113.1L441.9,1114.1L441.8,1115.1L441.2,1116.1L440.5,1116.7ZM470.5,1124.7L469,1124.9L467.6,1124.1L466.9,1123.1L466,1120.6L466.1,1119.1L466.9,1116.6L467.9,1115.6L469,1115.2L470.5,1115.4L471.5,1116.2L472.1,1117.1L473.2,1119.6L473.2,1120.6L472.5,1122.6L471.5,1124.1ZM396,1121.2L394.7,1121.1L393.9,1120.1L394,1118.9L395,1118.1L396,1118.1L396.8,1118.6L397.1,1119.1L397,1120.3ZM242,1128.7L240,1128.9L238.3,1128.6L236.3,1127.6L235.5,1127.1L235.3,1126.6L236,1126.1L239.5,1125.8L241,1125.8L242.3,1126.1L243.1,1126.6L243.5,1127.1L243.4,1127.6L243,1128.2ZM403,1134.2L402.5,1134.5L401.5,1134.3L400.9,1133.6L400.5,1132.6L400.6,1130.1L401.2,1129.1L402,1128.7L403,1129.1L403.7,1130.1L403.9,1131.1L403.8,1133.1ZM205,1132.7L203.5,1132.8L202.5,1132.5L201.5,1131.6L201.5,1130.6L203,1129.6L204.5,1129.4L205.5,1129.7L206.5,1130.6L206.6,1131.6L206,1132.3ZM477,1135.6L476,1135.9L474.6,1135.6L472.7,1133.1L473,1131.9L474,1130.6L475,1129.9L476.5,1130.1L477.7,1131.1L478.2,1132.1L478.3,1133.1L478.1,1134.1ZM249,1132.6L247.5,1132.9L246,1132.8L245,1132.3L244.7,1131.6L245,1130.9L246,1130.4L247.5,1130.2L248.5,1130.4L249.5,1131L249.7,1131.6L249.6,1132.1ZM464,1141.7L463,1141.4L462.1,1140.1L461.9,1136.1L462.4,1134.6L463,1133.8L464,1133.2L464.5,1133.2L465.2,1133.6L465.5,1134.1L466,1138.1L465.2,1140.6L464.5,1141.5ZM433,1141.7L431.5,1141.8L430.5,1141.1L430.3,1140.6L430.3,1139.1L429.9,1138.6L427,1137.1L426.5,1136.6L426.4,1135.6L426.9,1135.1L428.5,1134.4L430.5,1134.3L432.2,1134.6L433.5,1135.5L433.7,1136.1L433.1,1137.6L433.1,1138.6L434.2,1140.1L434.3,1140.6L434,1141.2ZM402.5,1142.1L402,1142.2L401.7,1141.1L402,1139.6L402.5,1139.5L402.8,1140.6ZM452,1146.2L449,1146.4L446.9,1146.1L445.5,1145.6L444,1144.3L443.6,1143.6L443.6,1143.1L444.3,1142.1L445.5,1141.1L447.8,1140.1L449,1139.9L450.5,1140L454,1140.8L457.5,1141L458.5,1141.4L459.1,1142.1L459.1,1143.6L457.5,1145.1ZM486,1156.3L485,1156.5L483.4,1155.6L482.5,1154.4L481.5,1152.1L481.5,1150.6L482.5,1148L483.1,1147.1L484.5,1146.3L486,1146.5L487,1147.1L488,1148.6L488.5,1150.1L488.5,1152.1L488,1153.9L487.1,1155.6ZM502.5,1153.7L500,1153.9L498.9,1153.6L497.5,1152.8L497,1152.1L496.6,1150.6L497,1149.1L499,1147.6L501,1147.1L503,1147.5L504.8,1148.6L505.5,1150L505.1,1151.6L504.4,1152.6ZM66,1175.2L64.5,1175.3L62.6,1175.1L61.7,1174.6L61.1,1173.6L61.3,1173.1L61.9,1172.6L63.2,1172.1L65,1171.9L66.7,1172.1L67.7,1172.6L68.2,1173.1L68.3,1173.6L67.5,1174.6ZM88,1182.7L86,1183.1L83,1183L81.4,1182.6L81.4,1182.1L83,1181.7L86.5,1181.7L88.1,1182.1ZM88.5,1187.2L87,1187.5L84,1187.5L82.4,1187.1L82.4,1186.6L84,1186.2L87,1186.2L88.6,1186.6ZM88,1194.7L86.5,1195L84.5,1195L82.9,1194.6L82.9,1194.1L84.5,1193.7L86.5,1193.7L88.1,1194.1ZM88,1201.1L86.5,1201.5L84.5,1201.5L83,1201.1L83,1200.6L84.5,1200.2L86.5,1200.2L88,1200.6ZM86.5,1205.8L85.5,1205.9L84.2,1205.6L85.5,1205.3L86.8,1205.6Z" fill="#ff5f30" fill-rule="evenodd"/>
<path d="M150,1092.1L148,1092.4L146,1092.1L145,1091.6L144.9,1091.1L145.5,1089.6L150.5,1089.6L151.1,1091.1L151,1091.6ZM192.5,1092.7L191,1092.8L189.2,1092.6L188.4,1092.1L188.4,1091.6L190,1090.3L190.5,1089.6L191.5,1089.6L192,1090.3L193.6,1091.6L193.6,1092.1ZM372,1091.2L371,1091.3L370,1091.2L369.9,1090.6L370.5,1089.6L371.5,1089.6L372.1,1090.6ZM460.5,1091.2L457.5,1091.4L455.4,1091.1L456.4,1089.6L460,1089.6L461,1091.1ZM474,1092.1L472,1092.4L469.5,1092.3L467.9,1092.1L467.1,1091.6L469,1090.3L469.4,1089.6L472.6,1089.6L473,1090.3L474.9,1091.6ZM178.5,1093.7L176.5,1093.8L175.3,1093.6L174.4,1093.1L174,1092.6L174,1092.1L176.5,1089.8L177,1089.8L178.5,1090.9L181.5,1091.6L182,1092.1L182,1092.6L181.5,1093.1ZM452,1091.1L451,1091.3L450,1091.2L449.9,1090.6L450.5,1089.9L451,1089.8L451.8,1090.6ZM390.5,1092.1L388.5,1092.1L388.4,1091.6L389.5,1091.4L390.5,1091.6ZM490,1092.6L488,1092.9L484,1092.9L481.7,1092.6L480.4,1092.1L483,1091.4L486,1091.3L489,1091.4L490.3,1091.6L491.6,1092.1ZM439.5,1116.6L438.9,1116.6L438.1,1116.1L437.3,1114.6L437.7,1113.1L439,1112.1L439.7,1112.1L440.4,1112.6L441,1113.4L441.2,1114.1L440.8,1115.6L440.4,1116.1ZM470,1124.3L469,1124.3L468,1123.6L467,1121.8L466.7,1120.1L467,1118.1L467.5,1117L468.3,1116.1L469.5,1115.8L470.5,1116.1L471.4,1117.1L472.5,1120.1L471.5,1123.1L470.5,1124.1ZM395.5,1120.7L395,1120.6L394.5,1119.6L394.6,1119.1L395.5,1118.6L396.4,1119.1L396.5,1119.6L396,1120.6ZM242,1128.1L240.5,1128.4L239.5,1128.4L238.4,1128.1L237,1127.1L237.5,1126.6L241,1126.3L242.1,1126.6L242.7,1127.1L242.7,1127.6ZM402.5,1133.8L402,1133.8L401.5,1133.3L401.1,1132.1L401.4,1130.1L402,1129.4L402.5,1129.5L403,1130.1L403.3,1131.1L403.2,1132.6L403,1133.3ZM205,1132.2L204,1132.4L203,1132.2L202.2,1131.6L202.1,1131.1L203,1130.1L204,1129.9L205,1130.1L205.7,1130.6L206,1131.1L205.8,1131.6ZM476.5,1135.2L475.5,1135.3L475,1135.1L473.4,1133.1L473.6,1132.1L475,1130.6L476.3,1130.6L477,1131.2L477.6,1132.1L477.5,1134ZM248.5,1132.2L247.5,1132.4L246.5,1132.4L245.8,1132.1L245.5,1131.6L245.8,1131.1L246.5,1130.8L248,1130.8L248.7,1131.1L249,1131.6ZM464,1140.9L463.5,1140.8L462.9,1140.1L462.5,1136.6L463,1134.9L464,1133.9L464.5,1134L464.8,1134.6L465.3,1137.6L465,1139.5L464.5,1140.5ZM433,1141.2L432,1141.3L431.4,1141.1L431,1140.6L431.1,1139.1L430.9,1138.6L430,1137.9L427.5,1136.8L427,1136.1L427.3,1135.6L428,1135.1L430,1134.8L432,1135.1L432.7,1135.6L433,1136.1L432.2,1138.1L432.5,1139.1L433.5,1140.4ZM452,1145.6L449.5,1145.9L447,1145.6L445,1144.6L444.5,1144L444.4,1143.1L445.1,1142.1L446.5,1141.1L448,1140.6L449.5,1140.4L454,1141.3L457,1141.4L457.6,1141.6L458.5,1142.6L458.3,1143.6L457.2,1144.6ZM486,1155.6L485,1155.8L483.8,1155.1L483,1154.1L482.2,1152.1L482.2,1150.6L483,1148.4L484,1147.1L485,1146.9L486,1147.1L487,1148.1L487.5,1149.1L487.8,1150.6L487.8,1152.1L487.5,1153.4L487,1154.6ZM502.5,1153.1L500.5,1153.4L499.1,1153.1L498.2,1152.6L497.5,1151.6L497.3,1150.6L497.5,1149.5L498.5,1148.6L500.5,1147.7L502,1147.8L503.8,1148.6L504.7,1149.6L504.7,1151.1L504,1152.2ZM66,1174.7L64.5,1174.8L63,1174.7L62.1,1174.1L61.9,1173.6L62.2,1173.1L63.2,1172.6L65,1172.4L66.5,1172.6L67.4,1173.1L67.6,1173.6L67.2,1174.1Z" fill="#ff0000" fill-rule="evenodd"/>
<polyline points="43,1101.9 44,1101.3 45.4,1106.9 46.6,1109.9 48.4,1143.9 61,1170.3 66.6,1164.5 73,1162.9 79.6,1178.9 85.6,1173.3 92.4,1183.5 98.6,1170.3 104.4,1238.5 111,1172.9 117,1196.9 123,1151.3 129.4,1168.5 135.4,1117.5 141,1234.9 148,1284.9 154.4,1125.5 160.6,1104.9 173,1176.5 180,1139.9 185,1142.3 191.6,1105.3 198,1100.5 204,1128.5 210,1099.9 216.4,1130.9 222,1125.5 228.6,1108.3 248,1128.5 254,1127.3 260,1151.3 266,1130.9 272,1170.5 278.4,1091.3 285,1156.9 291,1185.3 297,1175.9 303,1160.9 310,1179.9 315,1180.3 317,1183.9 321.4,1198.9 328,1230.9 334.4,1222.5 340.6,1150.3 346.6,1148.3 353,1161.5 359,1112.5 365.4,1136.5 371.6,1111.9 378,1128.9 384,1119.3 396.4,1113.9 402.6,1105.5 408.6,1114.9 415,1153.3 421,1102.5 427.4,1130.3 434,1122.9 439.6,1106.5 446,1134.5 451.4,1136.9 458.4,1136.5 464.6,1103.5 470.6,1101.5 477,1114.9 483.2,1142.3 489.4,1099.3 495.4,1123.9 501.6,1105.9 508,1137.3 514,1152.3 520.4,1112.5 526.4,1136.9 532.6,1121.9 539,1129.9 545.2,1154.9 551.4,1142.9 557.6,1117.9 563.8,1199.3 570,1184.3 576,1184.5 582.6,1179.5" fill="none" stroke="#000" stroke-width="1.9" stroke-linejoin="round"/>
</g>
<rect x="43.0" y="1089.6" width="539.6" height="330.8" fill="none" stroke="#000" stroke-width="0.8"/>
<line x1="39.6" y1="4.7" x2="42.6" y2="4.7" stroke="#000" stroke-width="0.8"/><text x="36.4" y="8.4" font-size="10" text-anchor="end">0</text><line x1="39.6" y1="46.2" x2="42.6" y2="46.2" stroke="#000" stroke-width="0.8"/><text x="36.4" y="49.9" font-size="10" text-anchor="end">50</text><line x1="39.6" y1="87.6" x2="42.6" y2="87.6" stroke="#000" stroke-width="0.8"/><text x="36.4" y="91.3" font-size="10" text-anchor="end">100</text><line x1="39.6" y1="129.1" x2="42.6" y2="129.1" stroke="#000" stroke-width="0.8"/><text x="36.4" y="132.8" font-size="10" text-anchor="end">150</text><line x1="39.6" y1="170.6" x2="42.6" y2="170.6" stroke="#000" stroke-width="0.8"/><text x="36.4" y="174.3" font-size="10" text-anchor="end">200</text><line x1="39.6" y1="212" x2="42.6" y2="212" stroke="#000" stroke-width="0.8"/><text x="36.4" y="215.7" font-size="10" text-anchor="end">250</text><line x1="39.6" y1="253.5" x2="42.6" y2="253.5" stroke="#000" stroke-width="0.8"/><text x="36.4" y="257.2" font-size="10" text-anchor="end">300</text><line x1="39.6" y1="295" x2="42.6" y2="295" stroke="#000" stroke-width="0.8"/><text x="36.4" y="298.7" font-size="10" text-anchor="end">350</text><line x1="95.7" y1="335.9" x2="95.7" y2="338.9" stroke="#000" stroke-width="0.8"/><text x="95.7" y="349.2" font-size="10" text-anchor="middle">2014-07</text><line x1="152.9" y1="335.9" x2="152.9" y2="338.9" stroke="#000" stroke-width="0.8"/><text x="152.9" y="349.2" font-size="10" text-anchor="middle">2014-10</text><line x1="210" y1="335.9" x2="210" y2="338.9" stroke="#000" stroke-width="0.8"/><text x="210" y="349.2" font-size="10" text-anchor="middle">2015-01</text><line x1="265.9" y1="335.9" x2="265.9" y2="338.9" stroke="#000" stroke-width="0.8"/><text x="265.9" y="349.2" font-size="10" text-anchor="middle">2015-04</text><line x1="322.5" y1="335.9" x2="322.5" y2="338.9" stroke="#000" stroke-width="0.8"/><text x="322.5" y="349.2" font-size="10" text-anchor="middle">2015-07</text><line x1="379.6" y1="335.9" x2="379.6" y2="338.9" stroke="#000" stroke-width="0.8"/><text x="379.6" y="349.2" font-size="10" text-anchor="middle">2015-10</text><line x1="436.8" y1="335.9" x2="436.8" y2="338.9" stroke="#000" stroke-width="0.8"/><text x="436.8" y="349.2" font-size="10" text-anchor="middle">2016-01</text><line x1="493.3" y1="335.9" x2="493.3" y2="338.9" stroke="#000" stroke-width="0.8"/><text x="493.3" y="349.2" font-size="10" text-anchor="middle">2016-04</text><line x1="549.9" y1="335.9" x2="549.9" y2="338.9" stroke="#000" stroke-width="0.8"/><text x="549.9" y="349.2" font-size="10" text-anchor="middle">2016-07</text><text transform="translate(9.5,170.1) rotate(-90)" font-size="10" text-anchor="middle">Depth (m)</text><text x="562.2" y="326.4" font-size="14" text-anchor="middle">(a)</text>
<line x1="39.6" y1="366.7" x2="42.6" y2="366.7" stroke="#000" stroke-width="0.8"/><text x="36.4" y="370.4" font-size="10" text-anchor="end">0</text><line x1="39.6" y1="408.2" x2="42.6" y2="408.2" stroke="#000" stroke-width="0.8"/><text x="36.4" y="411.9" font-size="10" text-anchor="end">50</text><line x1="39.6" y1="449.6" x2="42.6" y2="449.6" stroke="#000" stroke-width="0.8"/><text x="36.4" y="453.3" font-size="10" text-anchor="end">100</text><line x1="39.6" y1="491.1" x2="42.6" y2="491.1" stroke="#000" stroke-width="0.8"/><text x="36.4" y="494.8" font-size="10" text-anchor="end">150</text><line x1="39.6" y1="532.6" x2="42.6" y2="532.6" stroke="#000" stroke-width="0.8"/><text x="36.4" y="536.3" font-size="10" text-anchor="end">200</text><line x1="39.6" y1="574" x2="42.6" y2="574" stroke="#000" stroke-width="0.8"/><text x="36.4" y="577.8" font-size="10" text-anchor="end">250</text><line x1="39.6" y1="615.5" x2="42.6" y2="615.5" stroke="#000" stroke-width="0.8"/><text x="36.4" y="619.2" font-size="10" text-anchor="end">300</text><line x1="39.6" y1="657" x2="42.6" y2="657" stroke="#000" stroke-width="0.8"/><text x="36.4" y="660.7" font-size="10" text-anchor="end">350</text><line x1="95.7" y1="697.9" x2="95.7" y2="700.9" stroke="#000" stroke-width="0.8"/><text x="95.7" y="711.2" font-size="10" text-anchor="middle">2014-07</text><line x1="152.9" y1="697.9" x2="152.9" y2="700.9" stroke="#000" stroke-width="0.8"/><text x="152.9" y="711.2" font-size="10" text-anchor="middle">2014-10</text><line x1="210" y1="697.9" x2="210" y2="700.9" stroke="#000" stroke-width="0.8"/><text x="210" y="711.2" font-size="10" text-anchor="middle">2015-01</text><line x1="265.9" y1="697.9" x2="265.9" y2="700.9" stroke="#000" stroke-width="0.8"/><text x="265.9" y="711.2" font-size="10" text-anchor="middle">2015-04</text><line x1="322.5" y1="697.9" x2="322.5" y2="700.9" stroke="#000" stroke-width="0.8"/><text x="322.5" y="711.2" font-size="10" text-anchor="middle">2015-07</text><line x1="379.6" y1="697.9" x2="379.6" y2="700.9" stroke="#000" stroke-width="0.8"/><text x="379.6" y="711.2" font-size="10" text-anchor="middle">2015-10</text><line x1="436.8" y1="697.9" x2="436.8" y2="700.9" stroke="#000" stroke-width="0.8"/><text x="436.8" y="711.2" font-size="10" text-anchor="middle">2016-01</text><line x1="493.3" y1="697.9" x2="493.3" y2="700.9" stroke="#000" stroke-width="0.8"/><text x="493.3" y="711.2" font-size="10" text-anchor="middle">2016-04</text><line x1="549.9" y1="697.9" x2="549.9" y2="700.9" stroke="#000" stroke-width="0.8"/><text x="549.9" y="711.2" font-size="10" text-anchor="middle">2016-07</text><text transform="translate(9.5,532.1) rotate(-90)" font-size="10" text-anchor="middle">Depth (m)</text><text x="562.2" y="688.4" font-size="14" text-anchor="middle">(b)</text>
<line x1="39.6" y1="728.2" x2="42.6" y2="728.2" stroke="#000" stroke-width="0.8"/><text x="36.4" y="731.9" font-size="10" text-anchor="end">0</text><line x1="39.6" y1="769.7" x2="42.6" y2="769.7" stroke="#000" stroke-width="0.8"/><text x="36.4" y="773.4" font-size="10" text-anchor="end">50</text><line x1="39.6" y1="811.1" x2="42.6" y2="811.1" stroke="#000" stroke-width="0.8"/><text x="36.4" y="814.8" font-size="10" text-anchor="end">100</text><line x1="39.6" y1="852.6" x2="42.6" y2="852.6" stroke="#000" stroke-width="0.8"/><text x="36.4" y="856.3" font-size="10" text-anchor="end">150</text><line x1="39.6" y1="894.1" x2="42.6" y2="894.1" stroke="#000" stroke-width="0.8"/><text x="36.4" y="897.8" font-size="10" text-anchor="end">200</text><line x1="39.6" y1="935.6" x2="42.6" y2="935.6" stroke="#000" stroke-width="0.8"/><text x="36.4" y="939.3" font-size="10" text-anchor="end">250</text><line x1="39.6" y1="977" x2="42.6" y2="977" stroke="#000" stroke-width="0.8"/><text x="36.4" y="980.7" font-size="10" text-anchor="end">300</text><line x1="39.6" y1="1018.5" x2="42.6" y2="1018.5" stroke="#000" stroke-width="0.8"/><text x="36.4" y="1022.2" font-size="10" text-anchor="end">350</text><line x1="95.7" y1="1059.4" x2="95.7" y2="1062.4" stroke="#000" stroke-width="0.8"/><text x="95.7" y="1072.7" font-size="10" text-anchor="middle">2014-07</text><line x1="152.9" y1="1059.4" x2="152.9" y2="1062.4" stroke="#000" stroke-width="0.8"/><text x="152.9" y="1072.7" font-size="10" text-anchor="middle">2014-10</text><line x1="210" y1="1059.4" x2="210" y2="1062.4" stroke="#000" stroke-width="0.8"/><text x="210" y="1072.7" font-size="10" text-anchor="middle">2015-01</text><line x1="265.9" y1="1059.4" x2="265.9" y2="1062.4" stroke="#000" stroke-width="0.8"/><text x="265.9" y="1072.7" font-size="10" text-anchor="middle">2015-04</text><line x1="322.5" y1="1059.4" x2="322.5" y2="1062.4" stroke="#000" stroke-width="0.8"/><text x="322.5" y="1072.7" font-size="10" text-anchor="middle">2015-07</text><line x1="379.6" y1="1059.4" x2="379.6" y2="1062.4" stroke="#000" stroke-width="0.8"/><text x="379.6" y="1072.7" font-size="10" text-anchor="middle">2015-10</text><line x1="436.8" y1="1059.4" x2="436.8" y2="1062.4" stroke="#000" stroke-width="0.8"/><text x="436.8" y="1072.7" font-size="10" text-anchor="middle">2016-01</text><line x1="493.3" y1="1059.4" x2="493.3" y2="1062.4" stroke="#000" stroke-width="0.8"/><text x="493.3" y="1072.7" font-size="10" text-anchor="middle">2016-04</text><line x1="549.9" y1="1059.4" x2="549.9" y2="1062.4" stroke="#000" stroke-width="0.8"/><text x="549.9" y="1072.7" font-size="10" text-anchor="middle">2016-07</text><text transform="translate(9.5,893.6) rotate(-90)" font-size="10" text-anchor="middle">Depth (m)</text><text x="562.2" y="1049.9" font-size="14" text-anchor="middle">(c)</text>
<line x1="39.6" y1="1089.6" x2="42.6" y2="1089.6" stroke="#000" stroke-width="0.8"/><text x="36.4" y="1093.3" font-size="10" text-anchor="end">0</text><line x1="39.6" y1="1131.1" x2="42.6" y2="1131.1" stroke="#000" stroke-width="0.8"/><text x="36.4" y="1134.8" font-size="10" text-anchor="end">50</text><line x1="39.6" y1="1172.5" x2="42.6" y2="1172.5" stroke="#000" stroke-width="0.8"/><text x="36.4" y="1176.2" font-size="10" text-anchor="end">100</text><line x1="39.6" y1="1214" x2="42.6" y2="1214" stroke="#000" stroke-width="0.8"/><text x="36.4" y="1217.7" font-size="10" text-anchor="end">150</text><line x1="39.6" y1="1255.5" x2="42.6" y2="1255.5" stroke="#000" stroke-width="0.8"/><text x="36.4" y="1259.2" font-size="10" text-anchor="end">200</text><line x1="39.6" y1="1296.9" x2="42.6" y2="1296.9" stroke="#000" stroke-width="0.8"/><text x="36.4" y="1300.6" font-size="10" text-anchor="end">250</text><line x1="39.6" y1="1338.4" x2="42.6" y2="1338.4" stroke="#000" stroke-width="0.8"/><text x="36.4" y="1342.1" font-size="10" text-anchor="end">300</text><line x1="39.6" y1="1379.9" x2="42.6" y2="1379.9" stroke="#000" stroke-width="0.8"/><text x="36.4" y="1383.6" font-size="10" text-anchor="end">350</text><line x1="95.7" y1="1420.8" x2="95.7" y2="1423.8" stroke="#000" stroke-width="0.8"/><text x="95.7" y="1434.1" font-size="10" text-anchor="middle">2014-07</text><line x1="152.9" y1="1420.8" x2="152.9" y2="1423.8" stroke="#000" stroke-width="0.8"/><text x="152.9" y="1434.1" font-size="10" text-anchor="middle">2014-10</text><line x1="210" y1="1420.8" x2="210" y2="1423.8" stroke="#000" stroke-width="0.8"/><text x="210" y="1434.1" font-size="10" text-anchor="middle">2015-01</text><line x1="265.9" y1="1420.8" x2="265.9" y2="1423.8" stroke="#000" stroke-width="0.8"/><text x="265.9" y="1434.1" font-size="10" text-anchor="middle">2015-04</text><line x1="322.5" y1="1420.8" x2="322.5" y2="1423.8" stroke="#000" stroke-width="0.8"/><text x="322.5" y="1434.1" font-size="10" text-anchor="middle">2015-07</text><line x1="379.6" y1="1420.8" x2="379.6" y2="1423.8" stroke="#000" stroke-width="0.8"/><text x="379.6" y="1434.1" font-size="10" text-anchor="middle">2015-10</text><line x1="436.8" y1="1420.8" x2="436.8" y2="1423.8" stroke="#000" stroke-width="0.8"/><text x="436.8" y="1434.1" font-size="10" text-anchor="middle">2016-01</text><line x1="493.3" y1="1420.8" x2="493.3" y2="1423.8" stroke="#000" stroke-width="0.8"/><text x="493.3" y="1434.1" font-size="10" text-anchor="middle">2016-04</text><line x1="549.9" y1="1420.8" x2="549.9" y2="1423.8" stroke="#000" stroke-width="0.8"/><text x="549.9" y="1434.1" font-size="10" text-anchor="middle">2016-07</text><text transform="translate(9.5,1255) rotate(-90)" font-size="10" text-anchor="middle">Depth (m)</text><text x="562.2" y="1411.3" font-size="14" text-anchor="middle">(d)</text>
<line x1="583" y1="323.9" x2="586" y2="323.9" stroke="#000" stroke-width="0.8"/><text x="588.7" y="327.6" font-size="10">0</text><line x1="583" y1="279.7" x2="586" y2="279.7" stroke="#000" stroke-width="0.8"/><text x="588.7" y="283.4" font-size="10">10</text><line x1="583" y1="235.5" x2="586" y2="235.5" stroke="#000" stroke-width="0.8"/><text x="588.7" y="239.2" font-size="10">20</text><line x1="583" y1="191.3" x2="586" y2="191.3" stroke="#000" stroke-width="0.8"/><text x="588.7" y="195" font-size="10">30</text><line x1="583" y1="147.1" x2="586" y2="147.1" stroke="#000" stroke-width="0.8"/><text x="588.7" y="150.8" font-size="10">40</text><line x1="583" y1="102.9" x2="586" y2="102.9" stroke="#000" stroke-width="0.8"/><text x="588.7" y="106.6" font-size="10">50</text><line x1="583" y1="58.7" x2="586" y2="58.7" stroke="#000" stroke-width="0.8"/><text x="588.7" y="62.4" font-size="10">60</text><line x1="583" y1="14.5" x2="586" y2="14.5" stroke="#000" stroke-width="0.8"/><text x="588.7" y="18.2" font-size="10">70</text><text transform="translate(612.6,170.1) rotate(-90)" font-size="7.85" text-anchor="middle">PAR (Einstein <tspan font-weight="normal" font-style="italic">m</tspan><tspan font-weight="normal" font-size="5.3" dy="-2.8">−2</tspan><tspan font-weight="normal" font-style="italic" dy="2.8">d</tspan><tspan font-weight="normal" font-size="5.3" dy="-2.8">−1</tspan><tspan dy="2.8">)</tspan></text>
<rect x="616.0" y="316.6" width="16.8" height="18.8" fill="#7610ff"/><rect x="616.0" y="298.1" width="16.8" height="18.8" fill="#5e35fe"/><rect x="616.0" y="279.5" width="16.8" height="18.8" fill="#4659fb"/><rect x="616.0" y="261" width="16.8" height="18.8" fill="#3079f7"/><rect x="616.0" y="242.4" width="16.8" height="18.8" fill="#1898f2"/><rect x="616.0" y="223.9" width="16.8" height="18.8" fill="#00b5eb"/><rect x="616.0" y="205.3" width="16.8" height="18.8" fill="#17cbe4"/><rect x="616.0" y="186.8" width="16.8" height="18.8" fill="#2fe0db"/><rect x="616.0" y="168.2" width="16.8" height="18.8" fill="#44eed2"/><rect x="616.0" y="149.7" width="16.8" height="18.8" fill="#5df9c7"/><rect x="616.0" y="131.1" width="16.8" height="18.8" fill="#80ffb4"/><rect x="616.0" y="112.6" width="16.8" height="18.8" fill="#aef498"/><rect x="616.0" y="94" width="16.8" height="18.8" fill="#dcd67a"/><rect x="616.0" y="75.5" width="16.8" height="18.8" fill="#ffa759"/><rect x="616.0" y="56.9" width="16.8" height="18.8" fill="#ff6835"/><rect x="616.0" y="38.4" width="16.8" height="18.8" fill="#ff2211"/><rect x="616.0" y="19.9" width="16.8" height="18.8" fill="#ff0000"/><path d="M616.0,20L624.4,4.4L632.8,20Z" fill="#ff0000"/><path d="M616.0,335.3L632.8,335.3L632.8,20L624.4,4.4L616.0,20Z" fill="none" stroke="#000" stroke-width="0.8" stroke-linejoin="miter"/><line x1="633.2" y1="335.3" x2="636.2" y2="335.3" stroke="#000" stroke-width="0.8"/><text x="638.7" y="339" font-size="10">0.0</text><line x1="633.2" y1="298.2" x2="636.2" y2="298.2" stroke="#000" stroke-width="0.8"/><text x="638.7" y="301.9" font-size="10">0.2</text><line x1="633.2" y1="261.1" x2="636.2" y2="261.1" stroke="#000" stroke-width="0.8"/><text x="638.7" y="264.8" font-size="10">0.4</text><line x1="633.2" y1="224" x2="636.2" y2="224" stroke="#000" stroke-width="0.8"/><text x="638.7" y="227.7" font-size="10">0.6</text><line x1="633.2" y1="186.9" x2="636.2" y2="186.9" stroke="#000" stroke-width="0.8"/><text x="638.7" y="190.6" font-size="10">0.8</text><line x1="633.2" y1="149.8" x2="636.2" y2="149.8" stroke="#000" stroke-width="0.8"/><text x="638.7" y="153.5" font-size="10">1.0</text><line x1="633.2" y1="112.7" x2="636.2" y2="112.7" stroke="#000" stroke-width="0.8"/><text x="638.7" y="116.4" font-size="10">1.4</text><line x1="633.2" y1="75.6" x2="636.2" y2="75.6" stroke="#000" stroke-width="0.8"/><text x="638.7" y="79.3" font-size="10">1.8</text><line x1="633.2" y1="38.5" x2="636.2" y2="38.5" stroke="#000" stroke-width="0.8"/><text x="638.7" y="42.2" font-size="10">2.2</text>
<rect x="616.0" y="660.6" width="16.8" height="37.1" fill="#642cfe"/><rect x="616.0" y="623.8" width="16.8" height="37.1" fill="#2c7ef7"/><rect x="616.0" y="587.1" width="16.8" height="37.1" fill="#0fc4e7"/><rect x="616.0" y="550.3" width="16.8" height="37.1" fill="#46efd1"/><rect x="616.0" y="513.6" width="16.8" height="37.1" fill="#80ffb4"/><rect x="616.0" y="476.8" width="16.8" height="37.1" fill="#b9ef92"/><rect x="616.0" y="440.1" width="16.8" height="37.1" fill="#f0c46c"/><rect x="616.0" y="403.3" width="16.8" height="37.1" fill="#ff7e41"/><rect x="616.0" y="366.5" width="16.8" height="37.1" fill="#ff2c16"/><path d="M616.0,697.5L632.8,697.5L632.8,366.7L616.0,366.7Z" fill="none" stroke="#000" stroke-width="0.8" stroke-linejoin="miter"/><line x1="633.2" y1="697.5" x2="636.2" y2="697.5" stroke="#000" stroke-width="0.8"/><text x="638.7" y="701.2" font-size="10">4</text><line x1="633.2" y1="660.7" x2="636.2" y2="660.7" stroke="#000" stroke-width="0.8"/><text x="638.7" y="664.4" font-size="10">6</text><line x1="633.2" y1="624" x2="636.2" y2="624" stroke="#000" stroke-width="0.8"/><text x="638.7" y="627.7" font-size="10">8</text><line x1="633.2" y1="587.2" x2="636.2" y2="587.2" stroke="#000" stroke-width="0.8"/><text x="638.7" y="590.9" font-size="10">10</text><line x1="633.2" y1="550.5" x2="636.2" y2="550.5" stroke="#000" stroke-width="0.8"/><text x="638.7" y="554.2" font-size="10">12</text><line x1="633.2" y1="513.7" x2="636.2" y2="513.7" stroke="#000" stroke-width="0.8"/><text x="638.7" y="517.4" font-size="10">14</text><line x1="633.2" y1="477" x2="636.2" y2="477" stroke="#000" stroke-width="0.8"/><text x="638.7" y="480.7" font-size="10">16</text><line x1="633.2" y1="440.2" x2="636.2" y2="440.2" stroke="#000" stroke-width="0.8"/><text x="638.7" y="443.9" font-size="10">18</text><line x1="633.2" y1="403.5" x2="636.2" y2="403.5" stroke="#000" stroke-width="0.8"/><text x="638.7" y="407.2" font-size="10">20</text><line x1="633.2" y1="366.7" x2="636.2" y2="366.7" stroke="#000" stroke-width="0.8"/><text x="638.7" y="370.4" font-size="10">22</text>
<rect x="616.0" y="1017.5" width="16.8" height="41.6" fill="#6032fe"/><rect x="616.0" y="976.1" width="16.8" height="41.6" fill="#208ef4"/><rect x="616.0" y="934.8" width="16.8" height="41.6" fill="#20d5e1"/><rect x="616.0" y="893.5" width="16.8" height="41.6" fill="#60fac5"/><rect x="616.0" y="852.1" width="16.8" height="41.6" fill="#a0faa1"/><rect x="616.0" y="810.8" width="16.8" height="41.6" fill="#e0d377"/><rect x="616.0" y="769.4" width="16.8" height="41.6" fill="#ff8c49"/><rect x="616.0" y="728.1" width="16.8" height="41.6" fill="#ff2f18"/><path d="M616.0,1059L632.8,1059L632.8,728.2L616.0,728.2Z" fill="none" stroke="#000" stroke-width="0.8" stroke-linejoin="miter"/><line x1="633.2" y1="1059" x2="636.2" y2="1059" stroke="#000" stroke-width="0.8"/><text x="638.7" y="1062.7" font-size="10">33.75</text><line x1="633.2" y1="1017.6" x2="636.2" y2="1017.6" stroke="#000" stroke-width="0.8"/><text x="638.7" y="1021.4" font-size="10">34.00</text><line x1="633.2" y1="976.3" x2="636.2" y2="976.3" stroke="#000" stroke-width="0.8"/><text x="638.7" y="980" font-size="10">34.25</text><line x1="633.2" y1="935" x2="636.2" y2="935" stroke="#000" stroke-width="0.8"/><text x="638.7" y="938.7" font-size="10">34.50</text><line x1="633.2" y1="893.6" x2="636.2" y2="893.6" stroke="#000" stroke-width="0.8"/><text x="638.7" y="897.3" font-size="10">34.75</text><line x1="633.2" y1="852.2" x2="636.2" y2="852.2" stroke="#000" stroke-width="0.8"/><text x="638.7" y="856" font-size="10">35.00</text><line x1="633.2" y1="810.9" x2="636.2" y2="810.9" stroke="#000" stroke-width="0.8"/><text x="638.7" y="814.6" font-size="10">35.25</text><line x1="633.2" y1="769.6" x2="636.2" y2="769.6" stroke="#000" stroke-width="0.8"/><text x="638.7" y="773.3" font-size="10">35.50</text><line x1="633.2" y1="728.2" x2="636.2" y2="728.2" stroke="#000" stroke-width="0.8"/><text x="638.7" y="731.9" font-size="10">35.75</text>
<rect x="616.0" y="1383.1" width="16.8" height="23.4" fill="#6a22fe"/><rect x="616.0" y="1360" width="16.8" height="23.4" fill="#208ef4"/><rect x="616.0" y="1336.8" width="16.8" height="23.4" fill="#00b5eb"/><rect x="616.0" y="1313.7" width="16.8" height="23.4" fill="#3dead5"/><rect x="616.0" y="1290.5" width="16.8" height="23.4" fill="#68fcc1"/><rect x="616.0" y="1267.4" width="16.8" height="23.4" fill="#80ffb4"/><rect x="616.0" y="1244.2" width="16.8" height="23.4" fill="#94fda8"/><rect x="616.0" y="1221.1" width="16.8" height="23.4" fill="#a8f79c"/><rect x="616.0" y="1197.9" width="16.8" height="23.4" fill="#bced8f"/><rect x="616.0" y="1174.8" width="16.8" height="23.4" fill="#d4dd80"/><rect x="616.0" y="1151.6" width="16.8" height="23.4" fill="#e8cb72"/><rect x="616.0" y="1128.5" width="16.8" height="23.4" fill="#ffae5e"/><rect x="616.0" y="1105.3" width="16.8" height="23.4" fill="#ff5f30"/><path d="M616.0,1406.4L624.4,1422L632.8,1406.4Z" fill="#8000ff"/><path d="M616.0,1105.5L624.4,1089.9L632.8,1105.5Z" fill="#ff0000"/><path d="M616.0,1406.4L624.4,1422L632.8,1406.4L632.8,1105.5L624.4,1089.9L616.0,1105.5Z" fill="none" stroke="#000" stroke-width="0.8" stroke-linejoin="miter"/><line x1="633.2" y1="1406.4" x2="636.2" y2="1406.4" stroke="#000" stroke-width="0.8"/><text x="638.7" y="1410.1" font-size="10">0.0</text><line x1="633.2" y1="1360.1" x2="636.2" y2="1360.1" stroke="#000" stroke-width="0.8"/><text x="638.7" y="1363.8" font-size="10">0.5</text><line x1="633.2" y1="1313.8" x2="636.2" y2="1313.8" stroke="#000" stroke-width="0.8"/><text x="638.7" y="1317.5" font-size="10">1.1</text><line x1="633.2" y1="1267.5" x2="636.2" y2="1267.5" stroke="#000" stroke-width="0.8"/><text x="638.7" y="1271.2" font-size="10">1.3</text><line x1="633.2" y1="1221.2" x2="636.2" y2="1221.2" stroke="#000" stroke-width="0.8"/><text x="638.7" y="1224.9" font-size="10">1.5</text><line x1="633.2" y1="1174.9" x2="636.2" y2="1174.9" stroke="#000" stroke-width="0.8"/><text x="638.7" y="1178.6" font-size="10">1.7</text><line x1="633.2" y1="1128.6" x2="636.2" y2="1128.6" stroke="#000" stroke-width="0.8"/><text x="638.7" y="1132.3" font-size="10">1.9</text>
<text transform="translate(670.2,177.7) rotate(-90)" font-size="10" text-anchor="middle">Chlorophyll (mg <tspan font-weight="normal" font-style="italic">m</tspan><tspan font-weight="normal" font-size="7" dy="-3.6">−3</tspan><tspan dy="3.6">)</tspan></text>
<text transform="translate(664.2,532.1) rotate(-90)" font-size="10" text-anchor="middle">Temperature (°C)</text>
<text transform="translate(682.8,894.2) rotate(-90)" font-size="10" text-anchor="middle">Salinity</text>
<text transform="translate(669.5,1255.6) rotate(-90)" font-size="10.25" text-anchor="middle">Brunt-Väisälä Frequency (<tspan font-weight="normal">10</tspan><tspan font-weight="normal" font-size="7.6" dy="-3.6" dx="0.3">−4</tspan><tspan font-weight="normal" font-style="italic" dy="3.6" dx="0.3">s</tspan><tspan font-weight="normal" font-size="7.6" dy="-3.6" dx="0.3">−2</tspan><tspan dy="3.6">)</tspan></text>
<text x="312.8" y="1447.8" font-size="10" text-anchor="middle">Time</text>
</svg>
</body></html>
